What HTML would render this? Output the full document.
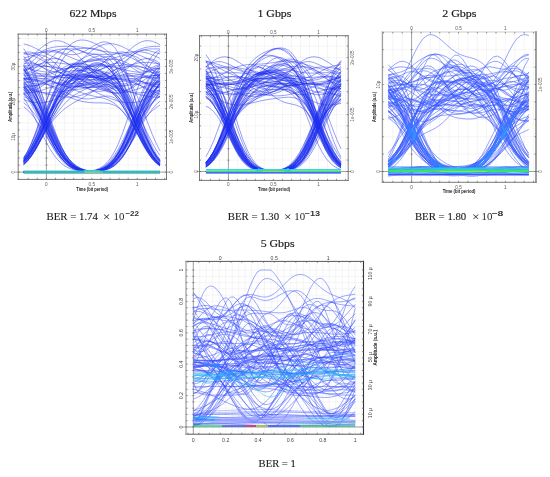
<!DOCTYPE html><html><head><meta charset="utf-8"><style>html,body{margin:0;padding:0;background:#fff;width:550px;height:477px;overflow:hidden}svg{display:block}</style></head><body>
<svg width="550" height="477" viewBox="0 0 550 477">
<rect width="550" height="477" fill="#fff"/>
<defs><clipPath id="c1"><rect x="18.7" y="34.6" width="147.3" height="144.3"/></clipPath><clipPath id="c2"><rect x="200" y="36.2" width="147.7" height="143.7"/></clipPath><clipPath id="c3"><rect x="382.8" y="32.5" width="152.7" height="149.3"/></clipPath><clipPath id="c4"><rect x="186.5" y="261.9" width="176.5" height="171.8"/></clipPath></defs>
<path d="M28.2 34.1V179.4M37.3 34.1V179.4M46.4 34.1V179.4M55.5 34.1V179.4M64.6 34.1V179.4M73.7 34.1V179.4M82.8 34.1V179.4M91.8 34.1V179.4M100.9 34.1V179.4M110 34.1V179.4M119.1 34.1V179.4M128.2 34.1V179.4M137.3 34.1V179.4M146.4 34.1V179.4M155.5 34.1V179.4M164.6 34.1V179.4M18.2 172.1H166.5M18.2 165.1H166.5M18.2 158H166.5M18.2 151H166.5M18.2 143.9H166.5M18.2 136.9H166.5M18.2 129.9H166.5M18.2 122.8H166.5M18.2 115.8H166.5M18.2 108.7H166.5M18.2 101.7H166.5M18.2 94.7H166.5M18.2 87.6H166.5M18.2 80.6H166.5M18.2 73.5H166.5M18.2 66.5H166.5M18.2 59.5H166.5M18.2 52.4H166.5M18.2 45.4H166.5M18.2 38.3H166.5" stroke="#efefef" stroke-width="0.6" fill="none"/>
<path d="M18.2 34.1H166.5" stroke="#555" stroke-width="0.8" stroke-linecap="square"/>
<path d="M18.2 179.4H166.5" stroke="#555" stroke-width="0.8" stroke-linecap="square"/>
<path d="M18.2 34.1V179.4" stroke="#555" stroke-width="0.8" stroke-linecap="square"/>
<path d="M166.5 34.1V179.4" stroke="#555" stroke-width="0.8" stroke-linecap="square"/>
<path d="M46.4 31.1V179.4" stroke="#666" stroke-width="0.6"/>
<path d="M15.2 172.1H169.5" stroke="#666" stroke-width="0.6"/>
<path d="M28.2 34.1v1.5M28.2 179.4v-1.5M37.3 34.1v1.5M37.3 179.4v-1.5M46.4 34.1v1.5M46.4 179.4v-1.5M55.5 34.1v1.5M55.5 179.4v-1.5M64.6 34.1v1.5M64.6 179.4v-1.5M73.7 34.1v1.5M73.7 179.4v-1.5M82.8 34.1v1.5M82.8 179.4v-1.5M91.8 34.1v1.5M91.8 179.4v-1.5M100.9 34.1v1.5M100.9 179.4v-1.5M110 34.1v1.5M110 179.4v-1.5M119.1 34.1v1.5M119.1 179.4v-1.5M128.2 34.1v1.5M128.2 179.4v-1.5M137.3 34.1v1.5M137.3 179.4v-1.5M146.4 34.1v1.5M146.4 179.4v-1.5M155.5 34.1v1.5M155.5 179.4v-1.5M164.6 34.1v1.5M164.6 179.4v-1.5M18.2 172.1h1.5M166.5 172.1h-1.5M45.4 172.1h2M18.2 165.1h1.5M166.5 165.1h-1.5M45.4 165.1h2M18.2 158h1.5M166.5 158h-1.5M45.4 158h2M18.2 151h1.5M166.5 151h-1.5M45.4 151h2M18.2 143.9h1.5M166.5 143.9h-1.5M45.4 143.9h2M18.2 136.9h1.5M166.5 136.9h-1.5M45.4 136.9h2M18.2 129.9h1.5M166.5 129.9h-1.5M45.4 129.9h2M18.2 122.8h1.5M166.5 122.8h-1.5M45.4 122.8h2M18.2 115.8h1.5M166.5 115.8h-1.5M45.4 115.8h2M18.2 108.7h1.5M166.5 108.7h-1.5M45.4 108.7h2M18.2 101.7h1.5M166.5 101.7h-1.5M45.4 101.7h2M18.2 94.7h1.5M166.5 94.7h-1.5M45.4 94.7h2M18.2 87.6h1.5M166.5 87.6h-1.5M45.4 87.6h2M18.2 80.6h1.5M166.5 80.6h-1.5M45.4 80.6h2M18.2 73.5h1.5M166.5 73.5h-1.5M45.4 73.5h2M18.2 66.5h1.5M166.5 66.5h-1.5M45.4 66.5h2M18.2 59.5h1.5M166.5 59.5h-1.5M45.4 59.5h2M18.2 52.4h1.5M166.5 52.4h-1.5M45.4 52.4h2M18.2 45.4h1.5M166.5 45.4h-1.5M45.4 45.4h2M18.2 38.3h1.5M166.5 38.3h-1.5M45.4 38.3h2" stroke="#555" stroke-width="0.6"/>
<g clip-path="url(#c1)">
<g fill="none" stroke="#1f30f0" stroke-width="0.55" stroke-opacity="0.85">
<path d="M23.7 73.2l3.8 .2 3.7-.5 3.8-1.3 3.8-2.2 3.8-3 3.8-3.5 3.8-3.9 3.8-3.8 3.8-3.2 3.8-2.2 3.7-.9 3.8 .6 3.8 1.9 3.8 3.1 3.8 3.7 3.8 4 3.8 3.8 3.7 3.4 3.8 2.8 3.8 2.2 3.8 1.6 3.8 1.2 3.8 .8 3.8 .7 3.8 .7 3.8 .7 3.7 .9 3.8 .9 3.8 1.1 3.8 1.3 3.8 1.4 3.8 1.6 3.8 1.8 3.7 1.8 3.8 1.8 3.8 1.8"/>
<path d="M23.7 78.6l3.8 .6 3.7 .7 3.8 .8 3.8 1 3.8 1 3.8 1.3 3.8 1.4 3.8 1.5 3.8 1.7 3.8 1.8 3.7 1.9 3.8 1.8 3.8 1.6 3.8 1.4 3.8 1.1 3.8 .6 3.8 .1 3.7-.3 3.8-.6 3.8-.9 3.8-.8 3.8-.3 3.8 .4 3.8 1.5 3.8 3 3.8 4.5 3.7 5.9 3.8 7.1 3.8 7.7 3.8 7.8 3.8 7.5 3.8 6.7 3.8 5.9 3.7 4.8 3.8 3.8 3.8 2.9"/>
<path d="M23.7 96.6l3.8 1.9 3.7 3.4 3.8 4.9 3.8 6.2 3.8 7.3 3.8 7.7 3.8 7.8 3.8 7.3 3.8 6.6 3.8 5.6 3.7 4.5 3.8 3.6 3.8 2.8 3.8 2 3.8 1.4 3.8 1 3.8 .6 3.7 .4 3.8 .2 3.8 .2 3.8 0 3.8 .1 3.8 0 3.8 0 3.8 0 3.8 0 3.7 0 3.8 0 3.8 0 3.8 0 3.8 0 3.8 0 3.8 0 3.7 0 3.8 0 3.8 0"/>
<path d="M23.7 172.1l3.8 0 3.7 0 3.8 0 3.8 0 3.8 0 3.8 0 3.8 0 3.8 0 3.8 0 3.8 0 3.7 0 3.8 0 3.8 0 3.8 0 3.8-.1 3.8-.1 3.8-.1 3.7-.3 3.8-.5 3.8-.8 3.8-1.3 3.8-1.8 3.8-2.6 3.8-3.5 3.8-4.5 3.8-5.5 3.7-6.5 3.8-7.6 3.8-8.4 3.8-9.1 3.8-9.3 3.8-9.2 3.8-8.6 3.7-7.6 3.8-6.3 3.8-4.8"/>
<path d="M23.7 162l3.8-4.2 3.7-5.3 3.8-6.3 3.8-7.3 3.8-8.3 3.8-8.9 3.8-9.3 3.8-9.2 3.8-8.8 3.8-7.9 3.7-6.7 3.8-5.1 3.8-3.7 3.8-2.1 3.8-1 3.8-.1 3.8 .5 3.7 .7 3.8 .8 3.8 .8 3.8 .9 3.8 1.2 3.8 1.7 3.8 2.8 3.8 4 3.8 5.6 3.7 7.2 3.8 8.6 3.8 9.4 3.8 9.8 3.8 9.6 3.8 8.7 3.8 7.7 3.7 6.3 3.8 5.1 3.8 4"/>
<path d="M23.7 78l3.8 4.5 3.7 6 3.8 7.5 3.8 8.9 3.8 9.6 3.8 9.8 3.8 9.3 3.8 8.5 3.8 7.4 3.8 6 3.7 4.8 3.8 3.7 3.8 2.7 3.8 1.9 3.8 1.3 3.8 .8 3.8 .4 3.7 0 3.8-.4 3.8-.8 3.8-1.4 3.8-2.2 3.8-3.3 3.8-4.4 3.8-5.7 3.8-7.1 3.7-8.2 3.8-9.1 3.8-9.4 3.8-9.3 3.8-8.6 3.8-7.8 3.8-6.8 3.7-5.8 3.8-5.1 3.8-4.6"/>
<path d="M23.7 159.9l3.8-5.4 3.7-6.8 3.8-8 3.8-8.9 3.8-9.4 3.8-9.3 3.8-8.9 3.8-8 3.8-7 3.8-6.1 3.7-5.2 3.8-4.7 3.8-4.2 3.8-3.9 3.8-3.7 3.8-3.5 3.8-3.3 3.7-2.9 3.8-2.6 3.8-2 3.8-1.5 3.8-.8 3.8-.2 3.8 .5 3.8 1.1 3.8 1.5 3.7 1.8 3.8 1.9 3.8 2 3.8 1.8 3.8 1.7 3.8 1.6 3.8 1.7 3.7 1.7 3.8 1.9 3.8 2.1"/>
<path d="M23.7 43.9l3.8 1 3.7 1.4 3.8 1.7 3.8 2 3.8 1.9 3.8 1.8 3.8 1.8 3.8 1.6 3.8 1.7 3.8 1.7 3.7 1.9 3.8 2 3.8 2.1 3.8 2 3.8 1.8 3.8 1.2 3.8 .7 3.7 0 3.8-.8 3.8-1.4 3.8-1.8 3.8-1.9 3.8-1.7 3.8-1.2 3.8-.5 3.8 .4 3.7 1.2 3.8 1.8 3.8 2.3 3.8 2.5 3.8 2.3 3.8 2 3.8 1.5 3.7 .8 3.8 0 3.8-.6"/>
<path d="M23.7 63.9l3.8-.9 3.7 0 3.8 .8 3.8 1.5 3.8 2.1 3.8 2.5 3.8 2.4 3.8 2.2 3.8 1.7 3.8 1.2 3.7 .4 3.8-.3 3.8-1 3.8-1.5 3.8-2 3.8-2.2 3.8-2.2 3.7-1.9 3.8-1.4 3.8-.4 3.8 .6 3.8 1.8 3.8 3.2 3.8 4.5 3.8 5.7 3.8 6.7 3.7 7.6 3.8 8.1 3.8 8.4 3.8 8.5 3.8 8.3 3.8 7.9 3.8 7.3 3.7 6.5 3.8 5.6 3.8 4.6"/>
<path d="M23.7 73.8l3.8 5.4 3.7 6.5 3.8 7.3 3.8 8 3.8 8.4 3.8 8.5 3.8 8.4 3.8 8 3.8 7.4 3.8 6.8 3.7 5.8 3.8 4.9 3.8 3.9 3.8 2.9 3.8 2.2 3.8 1.5 3.8 1 3.7 .6 3.8 .4 3.8 .2 3.8 .1 3.8 .1 3.8 0 3.8 0 3.8 0 3.8 0 3.7 0 3.8 0 3.8 0 3.8 0 3.8 0 3.8 0 3.8 0 3.7 0 3.8 0 3.8 0"/>
<path d="M23.7 172.1l3.8 0 3.7 0 3.8 0 3.8 0 3.8 0 3.8 0 3.8 0 3.8 0 3.8 0 3.8 0 3.7 0 3.8 0 3.8 0 3.8 0 3.8 0 3.8-.1 3.8 0 3.7-.1 3.8-.3 3.8-.4 3.8-.7 3.8-1 3.8-1.7 3.8-2.4 3.8-3.4 3.8-4.6 3.7-5.7 3.8-7 3.8-8 3.8-8.8 3.8-9.1 3.8-8.9 3.8-8.4 3.7-7.4 3.8-6.3 3.8-5"/>
<path d="M23.7 163.8l3.8-3.9 3.7-5.2 3.8-6.4 3.8-7.5 3.8-8.5 3.8-8.9 3.8-9.1 3.8-8.7 3.8-7.9 3.8-6.9 3.7-5.6 3.8-4.4 3.8-3 3.8-1.9 3.8-.9 3.8-.2 3.8 .2 3.7 .6 3.8 .6 3.8 .5 3.8 .3 3.8 0 3.8-.5 3.8-1 3.8-1.6 3.8-2.1 3.7-2.5 3.8-2.7 3.8-2.7 3.8-2.4 3.8-1.9 3.8-1 3.8-.2 3.7 .9 3.8 1.7 3.8 2.3"/>
<path d="M23.7 74.8l3.8-1.9 3.7-2.3 3.8-2.6 3.8-2.7 3.8-2.6 3.8-2.2 3.8-1.5 3.8-.6 3.8 .3 3.8 1.3 3.7 2 3.8 2.6 3.8 2.7 3.8 2.7 3.8 2.4 3.8 1.8 3.8 1.3 3.7 .6 3.8-.1 3.8-.6 3.8-1.1 3.8-1.3 3.8-1.5 3.8-1.5 3.8-1.3 3.8-1.1 3.7-.7 3.8-.4 3.8-.1 3.8 .2 3.8 .5 3.8 .7 3.8 1 3.7 1.3 3.8 1.5 3.8 1.8"/>
<path d="M23.7 70.7l3.8-1.4 3.7-1.2 3.8-.9 3.8-.6 3.8-.2 3.8 0 3.8 .4 3.8 .6 3.8 .9 3.8 1.1 3.7 1.4 3.8 1.7 3.8 1.9 3.8 2.1 3.8 2.2 3.8 2.3 3.8 2.2 3.7 2.1 3.8 1.9 3.8 1.7 3.8 1.5 3.8 1.1 3.8 .9 3.8 .5 3.8 .2 3.8-.3 3.7-.5 3.8-.9 3.8-1.1 3.8-1.2 3.8-1.3 3.8-1.2 3.8-1.1 3.7-.8 3.8-.6 3.8-.4"/>
<path d="M23.7 93l3.8 0 3.7-.3 3.8-.6 3.8-.9 3.8-1.2 3.8-1.3 3.8-1.2 3.8-1.2 3.8-1 3.8-.8 3.7-.5 3.8-.3 3.8-.1 3.8 0 3.8 0 3.8 .1 3.8 0 3.7 .1 3.8 0 3.8 .1 3.8 .3 3.8 .5 3.8 .7 3.8 1 3.8 1.2 3.8 1.3 3.7 1.3 3.8 1.3 3.8 1.3 3.8 1.2 3.8 1 3.8 .8 3.8 .7 3.7 .5 3.8 .2 3.8 0"/>
<path d="M23.7 86.1l3.8 1.2 3.7 1.2 3.8 1.4 3.8 1.3 3.8 1.3 3.8 1.2 3.8 1 3.8 .9 3.8 .7 3.8 .6 3.7 .3 3.8 0 3.8-.2 3.8-.6 3.8-.9 3.8-1.2 3.8-1.4 3.7-1.5 3.8-1.3 3.8-.9 3.8-.1 3.8 .8 3.8 2 3.8 3.3 3.8 4.5 3.8 5.6 3.7 6.5 3.8 6.9 3.8 7.2 3.8 7.2 3.8 6.9 3.8 6.3 3.8 5.7 3.7 4.9 3.8 4.1 3.8 3.3"/>
<path d="M23.7 93.4l3.8 3.9 3.7 5.1 3.8 6 3.8 6.8 3.8 7.1 3.8 7.3 3.8 7 3.8 6.6 3.8 6 3.8 5.3 3.7 4.5 3.8 3.7 3.8 2.9 3.8 2.2 3.8 1.5 3.8 1.1 3.8 .6 3.7 .3 3.8 0 3.8-.3 3.8-.6 3.8-1.1 3.8-1.8 3.8-2.5 3.8-3.5 3.8-4.4 3.7-5.4 3.8-6.3 3.8-6.9 3.8-7.3 3.8-7.3 3.8-7.2 3.8-6.9 3.7-6.6 3.8-6.2 3.8-6"/>
<path d="M23.7 164.2l3.8-3.7 3.7-4.7 3.8-5.6 3.8-6.5 3.8-7 3.8-7.3 3.8-7.3 3.8-7.1 3.8-6.9 3.8-6.5 3.7-6.1 3.8-5.9 3.8-5.6 3.8-5.3 3.8-4.9 3.8-4.3 3.8-3.4 3.7-2.4 3.8-1.1 3.8 .3 3.8 1.5 3.8 2.8 3.8 3.8 3.8 4.6 3.8 5.3 3.8 6 3.7 6.7 3.8 7.3 3.8 7.9 3.8 8.4 3.8 8.7 3.8 8.5 3.8 8 3.7 7.2 3.8 6.2 3.8 4.9"/>
<path d="M23.7 83.8l3.8 6.4 3.7 7 3.8 7.6 3.8 8.2 3.8 8.6 3.8 8.6 3.8 8.3 3.8 7.7 3.8 6.7 3.8 5.5 3.7 4.3 3.8 3.3 3.8 2.3 3.8 1.5 3.8 1 3.8 .6 3.8 .3 3.7 .2 3.8 .1 3.8 .1 3.8 0 3.8 0 3.8 0 3.8 0 3.8 0 3.8 0 3.7 0 3.8 0 3.8 0 3.8 0 3.8 0 3.8 0 3.8 0 3.7 0 3.8 0 3.8 0"/>
<path d="M23.7 172.1l3.8 0 3.7 0 3.8 0 3.8 0 3.8 0 3.8 0 3.8 0 3.8 0 3.8 0 3.8 0 3.7 0 3.8 0 3.8 0 3.8 0 3.8 0 3.8-.1 3.8-.1 3.7-.2 3.8-.4 3.8-.6 3.8-1.1 3.8-1.6 3.8-2.4 3.8-3.2 3.8-4.3 3.8-5.3 3.7-6.3 3.8-7.1 3.8-7.9 3.8-8.3 3.8-8.2 3.8-8 3.8-7.1 3.7-6.1 3.8-4.8 3.8-3.4"/>
<path d="M23.7 161.4l3.8-4.5 3.7-5.6 3.8-6.5 3.8-7.4 3.8-7.9 3.8-8.3 3.8-8.3 3.8-7.7 3.8-7 3.8-5.7 3.7-4.4 3.8-3.1 3.8-1.9 3.8-1 3.8-.5 3.8-.3 3.8-.4 3.7-.8 3.8-1.4 3.8-1.9 3.8-2.5 3.8-2.9 3.8-3.3 3.8-3.5 3.8-3.8 3.8-3.7 3.7-3.8 3.8-3.5 3.8-3.2 3.8-2.7 3.8-1.9 3.8-1.2 3.8-.1 3.7 .6 3.8 1.5 3.8 1.9"/>
<path d="M23.7 64.6l3.8-3.8 3.7-3.7 3.8-3.8 3.8-3.5 3.8-3.2 3.8-2.7 3.8-1.9 3.8-1.2 3.8-.1 3.8 .6 3.7 1.5 3.8 1.9 3.8 2.1 3.8 2.1 3.8 1.8 3.8 1.4 3.8 1.1 3.7 .6 3.8 .4 3.8 .1 3.8 .1 3.8-.1 3.8-.1 3.8-.2 3.8-.3 3.8-.5 3.7-.5 3.8-.5 3.8-.4 3.8-.2 3.8 .2 3.8 .7 3.8 1 3.7 1.5 3.8 1.6 3.8 1.7"/>
<path d="M23.7 54.2l3.8-.2 3.7-.3 3.8-.5 3.8-.5 3.8-.5 3.8-.4 3.8-.2 3.8 .2 3.8 .7 3.8 1 3.7 1.5 3.8 1.6 3.8 1.7 3.8 1.5 3.8 1.2 3.8 .7 3.8 .1 3.7-.4 3.8-1 3.8-1.3 3.8-1.4 3.8-1.1 3.8-.3 3.8 1.1 3.8 2.9 3.8 5.1 3.7 7.5 3.8 9.6 3.8 11.2 3.8 11.9 3.8 11.9 3.8 11.3 3.8 9.9 3.7 8.5 3.8 6.8 3.8 5.4"/>
<path d="M23.7 59.4l3.8 4.5 3.7 6.9 3.8 9.1 3.8 10.9 3.8 11.8 3.8 12 3.8 11.5 3.8 10.3 3.8 8.8 3.8 7.3 3.7 5.7 3.8 4.3 3.8 3.2 3.8 2.3 3.8 1.5 3.8 1 3.8 .7 3.7 .4 3.8 .2 3.8 .2 3.8 0 3.8 .1 3.8 0 3.8 0 3.8 0 3.8 0 3.7 0 3.8 0 3.8 0 3.8 0 3.8 0 3.8 0 3.8 0 3.7 0 3.8 0 3.8 0"/>
<path d="M23.7 172.1l3.8 0 3.7 0 3.8 0 3.8 0 3.8 0 3.8 0 3.8 0 3.8 0 3.8 0 3.8 0 3.7 0 3.8 0 3.8 0 3.8 0 3.8-.1 3.8 0 3.8-.2 3.7-.2 3.8-.5 3.8-.8 3.8-1.2 3.8-1.9 3.8-2.8 3.8-3.9 3.8-5.1 3.8-6.5 3.7-7.8 3.8-9 3.8-9.8 3.8-10 3.8-9.9 3.8-9.1 3.8-7.9 3.7-6.7 3.8-5.4 3.8-4.3"/>
<path d="M23.7 159.4l3.8-5.5 3.7-6.9 3.8-8.1 3.8-9.2 3.8-9.9 3.8-10 3.8-9.7 3.8-8.9 3.8-7.6 3.8-6.4 3.7-5.1 3.8-4 3.8-3.3 3.8-2.7 3.8-2.4 3.8-2 3.8-1.8 3.7-1.2 3.8-.4 3.8 .9 3.8 2.2 3.8 4 3.8 5.5 3.8 6.9 3.8 8.1 3.8 8.7 3.7 9.2 3.8 9.2 3.8 9.1 3.8 8.8 3.8 8.3 3.8 7.7 3.8 6.9 3.7 5.9 3.8 4.8 3.8 3.8"/>
<path d="M23.7 68.5l3.8 7.2 3.7 8.3 3.8 8.9 3.8 9.2 3.8 9.2 3.8 9 3.8 8.7 3.8 8.2 3.8 7.5 3.8 6.7 3.7 5.6 3.8 4.5 3.8 3.6 3.8 2.5 3.8 1.8 3.8 1.1 3.8 .7 3.7 .4 3.8 .3 3.8 .1 3.8 0 3.8 .1 3.8 0 3.8 0 3.8 0 3.8 0 3.7 0 3.8 0 3.8 0 3.8 0 3.8 0 3.8 0 3.8 0 3.7 0 3.8 0 3.8 0"/>
<path d="M23.7 172.1l3.8 0 3.7 0 3.8 0 3.8 0 3.8 0 3.8 0 3.8 0 3.8 0 3.8 0 3.8 0 3.7 0 3.8 0 3.8 0 3.8 0 3.8-.1 3.8-.1 3.8-.2 3.7-.3 3.8-.6 3.8-1 3.8-1.5 3.8-2.3 3.8-3.2 3.8-4.5 3.8-5.6 3.8-6.7 3.7-7.4 3.8-7.7 3.8-7.5 3.8-6.8 3.8-5.9 3.8-5 3.8-4.2 3.7-3.7 3.8-3.4 3.8-3.3"/>
<path d="M23.7 160.7l3.8-5 3.7-6.2 3.8-7.2 3.8-7.6 3.8-7.6 3.8-7.2 3.8-6.4 3.8-5.4 3.8-4.6 3.8-3.9 3.7-3.5 3.8-3.4 3.8-3.3 3.8-3.5 3.8-3.5 3.8-3.7 3.8-3.8 3.7-3.6 3.8-3.5 3.8-3 3.8-2.5 3.8-1.8 3.8-1 3.8-.3 3.8 .5 3.8 1.1 3.7 1.6 3.8 1.9 3.8 2 3.8 2 3.8 1.7 3.8 1.3 3.8 .9 3.7 .2 3.8-.1 3.8-.6"/>
<path d="M23.7 59.4l3.8 .8 3.7 1.3 3.8 1.8 3.8 2 3.8 2 3.8 1.9 3.8 1.5 3.8 1.1 3.8 .6 3.8 0 3.7-.4 3.8-.6 3.8-.7 3.8-.4 3.8 .1 3.8 .8 3.8 1.6 3.7 2.2 3.8 2.7 3.8 3.1 3.8 3.3 3.8 3.5 3.8 3.7 3.8 4 3.8 4.6 3.8 5.2 3.7 6 3.8 6.8 3.8 7.3 3.8 7.5 3.8 7.3 3.8 6.9 3.8 6 3.7 5.1 3.8 4.1 3.8 3.2"/>
<path d="M23.7 92.3l3.8 4.1 3.7 4.7 3.8 5.5 3.8 6.2 3.8 6.9 3.8 7.4 3.8 7.5 3.8 7.2 3.8 6.7 3.8 5.8 3.7 4.9 3.8 3.8 3.8 3 3.8 2.1 3.8 1.5 3.8 .9 3.8 .5 3.7 .1 3.8-.2 3.8-.6 3.8-1.1 3.8-1.7 3.8-2.5 3.8-3.3 3.8-4.2 3.8-5.1 3.7-5.7 3.8-6.1 3.8-6.1 3.8-6 3.8-5.4 3.8-4.8 3.8-4.2 3.7-3.5 3.8-3 3.8-2.6"/>
<path d="M23.7 162.6l3.8-4 3.7-4.8 3.8-5.6 3.8-6 3.8-6.2 3.8-6 3.8-5.6 3.8-5 3.8-4.3 3.8-3.7 3.7-3.1 3.8-2.7 3.8-2.3 3.8-2.2 3.8-2.1 3.8-2.2 3.8-2.3 3.7-2.3 3.8-2.5 3.8-2.5 3.8-2.5 3.8-2.5 3.8-2.2 3.8-2 3.8-1.7 3.8-1.3 3.7-.9 3.8-.4 3.8 0 3.8 .5 3.8 .9 3.8 1.2 3.8 1.5 3.7 1.6 3.8 1.5 3.8 1.4"/>
<path d="M23.7 77.1l3.8-1.5 3.7-1.1 3.8-.7 3.8-.2 3.8 .3 3.8 .7 3.8 1.1 3.8 1.3 3.8 1.6 3.8 1.5 3.7 1.5 3.8 1.3 3.8 1 3.8 .8 3.8 .5 3.8 .4 3.8 .3 3.7 .2 3.8 .2 3.8 .2 3.8 .2 3.8 .1 3.8 .1 3.8-.1 3.8-.2 3.8-.4 3.7-.4 3.8-.6 3.8-.5 3.8-.5 3.8-.3 3.8-.2 3.8 0 3.7 .2 3.8 .5 3.8 .6"/>
<path d="M23.7 86.8l3.8-.2 3.7-.4 3.8-.4 3.8-.6 3.8-.5 3.8-.5 3.8-.3 3.8-.2 3.8 0 3.8 .2 3.7 .5 3.8 .6 3.8 .7 3.8 .6 3.8 .5 3.8 .4 3.8 .2 3.7-.1 3.8-.3 3.8-.6 3.8-.7 3.8-.9 3.8-.9 3.8-1 3.8-.9 3.8-.7 3.7-.4 3.8-.2 3.8 .2 3.8 .4 3.8 .5 3.8 .6 3.8 .3 3.7 .1 3.8-.3 3.8-.7"/>
<path d="M23.7 82.9l3.8-.9 3.7-.7 3.8-.4 3.8-.2 3.8 .2 3.8 .4 3.8 .5 3.8 .6 3.8 .3 3.8 .1 3.7-.3 3.8-.7 3.8-1.1 3.8-1.3 3.8-1.3 3.8-1.1 3.8-.6 3.7 0 3.8 .6 3.8 1.4 3.8 1.9 3.8 2.5 3.8 3.1 3.8 3.6 3.8 4.4 3.8 5.2 3.7 6.1 3.8 6.9 3.8 7.6 3.8 7.9 3.8 7.9 3.8 7.4 3.8 6.8 3.7 5.8 3.8 4.7 3.8 3.8"/>
<path d="M23.7 89.5l3.8 4.4 3.7 5.2 3.8 6.1 3.8 6.9 3.8 7.6 3.8 7.9 3.8 7.9 3.8 7.4 3.8 6.8 3.8 5.8 3.7 4.7 3.8 3.8 3.8 2.8 3.8 2 3.8 1.3 3.8 .7 3.8 .4 3.7 0 3.8-.3 3.8-.7 3.8-1.1 3.8-1.8 3.8-2.5 3.8-3.4 3.8-4.5 3.8-5.7 3.7-7 3.8-8.1 3.8-9 3.8-9.4 3.8-9.2 3.8-8.4 3.8-7.2 3.7-5.6 3.8-3.9 3.8-2.4"/>
<path d="M23.7 159.3l3.8-5.1 3.7-6.4 3.8-7.5 3.8-8.6 3.8-9.3 3.8-9.4 3.8-8.9 3.8-7.8 3.8-6.4 3.8-4.7 3.7-3.1 3.8-1.8 3.8-.7 3.8-.1 3.8 .1 3.8 .3 3.8 .1 3.7 0 3.8-.1 3.8 0 3.8 .3 3.8 .9 3.8 1.7 3.8 2.9 3.8 4.2 3.8 5.8 3.7 7.1 3.8 8.2 3.8 8.8 3.8 9 3.8 8.5 3.8 7.7 3.8 6.6 3.7 5.6 3.8 4.4 3.8 3.4"/>
<path d="M23.7 83.4l3.8 3.2 3.7 4.6 3.8 6.2 3.8 7.4 3.8 8.4 3.8 8.9 3.8 8.8 3.8 8.4 3.8 7.4 3.8 6.4 3.7 5.3 3.8 4.2 3.8 3.1 3.8 2.3 3.8 1.6 3.8 1 3.8 .7 3.7 .4 3.8 .2 3.8 .1 3.8 .1 3.8 0 3.8 0 3.8 0 3.8 0 3.8 0 3.7 0 3.8 0 3.8 0 3.8 0 3.8 0 3.8 0 3.8 0 3.7 0 3.8 0 3.8 0"/>
<path d="M23.7 172.1l3.8 0 3.7 0 3.8 0 3.8 0 3.8 0 3.8 0 3.8 0 3.8 0 3.8 0 3.8 0 3.7 0 3.8 0 3.8 0 3.8 0 3.8-.1 3.8 0 3.8-.2 3.7-.3 3.8-.4 3.8-.8 3.8-1.2 3.8-1.8 3.8-2.5 3.8-3.4 3.8-4.4 3.8-5.5 3.7-6.6 3.8-7.8 3.8-9 3.8-9.8 3.8-10.4 3.8-10.4 3.8-9.8 3.7-8.6 3.8-6.9 3.8-4.7"/>
<path d="M23.7 160.4l3.8-4.7 3.7-5.7 3.8-6.9 3.8-8.2 3.8-9.2 3.8-10 3.8-10.4 3.8-10.3 3.8-9.6 3.8-8.2 3.7-6.4 3.8-4.2 3.8-2 3.8-.1 3.8 1.7 3.8 2.9 3.8 3.6 3.7 4 3.8 3.8 3.8 3.5 3.8 3.1 3.8 2.6 3.8 2.3 3.8 2.5 3.8 2.8 3.8 3.8 3.7 4.9 3.8 6.2 3.8 7.3 3.8 8.1 3.8 8.2 3.8 7.8 3.8 7 3.7 5.9 3.8 4.7 3.8 3.6"/>
<path d="M23.7 93.8l3.8 2.7 3.7 3.5 3.8 4.7 3.8 5.9 3.8 7 3.8 7.9 3.8 8.3 3.8 8 3.8 7.2 3.8 6.2 3.7 5 3.8 3.8 3.8 2.8 3.8 2 3.8 1.3 3.8 .8 3.8 .6 3.7 .3 3.8 .1 3.8 .1 3.8 .1 3.8 0 3.8 0 3.8 0 3.8 0 3.8 0 3.7 0 3.8 0 3.8 0 3.8 0 3.8 0 3.8 0 3.8 0 3.7 0 3.8 0 3.8 0"/>
<path d="M23.7 172.1l3.8 0 3.7 0 3.8 0 3.8 0 3.8 0 3.8 0 3.8 0 3.8 0 3.8 0 3.8 0 3.7 0 3.8 0 3.8 0 3.8 0 3.8 0 3.8-.1 3.8-.1 3.7-.2 3.8-.3 3.8-.6 3.8-1.1 3.8-1.6 3.8-2.5 3.8-3.4 3.8-4.6 3.8-5.7 3.7-6.7 3.8-7.3 3.8-7.4 3.8-7.2 3.8-6.6 3.8-5.7 3.8-4.9 3.7-4 3.8-3.3 3.8-3"/>
<path d="M23.7 158.8l3.8-5.4 3.7-6.5 3.8-7.1 3.8-7.5 3.8-7.3 3.8-6.7 3.8-6 3.8-5 3.8-4.2 3.8-3.6 3.7-3 3.8-2.7 3.8-2.8 3.8-2.8 3.8-3 3.8-3.4 3.8-3.6 3.7-3.8 3.8-3.9 3.8-4 3.8-3.8 3.8-3.5 3.8-3.1 3.8-2.3 3.8-1.5 3.8-.4 3.7 .6 3.8 1.7 3.8 2.6 3.8 3.2 3.8 3.5 3.8 3.5 3.8 3.1 3.7 2.5 3.8 1.7 3.8 .8"/>
<path d="M23.7 52.9l3.8-.9 3.7 .1 3.8 1.1 3.8 2.2 3.8 2.9 3.8 3.5 3.8 3.5 3.8 3.3 3.8 2.9 3.8 2.1 3.7 1.2 3.8 .4 3.8-.6 3.8-1.3 3.8-1.9 3.8-2.3 3.8-2.4 3.7-1.9 3.8-1.3 3.8-.3 3.8 1.1 3.8 2.5 3.8 4.1 3.8 5.6 3.8 7 3.8 8.1 3.7 9.1 3.8 9.6 3.8 9.8 3.8 9.6 3.8 8.9 3.8 8 3.8 6.7 3.7 5.5 3.8 4.2 3.8 3"/>
<path d="M23.7 68.7l3.8 4.8 3.7 6.3 3.8 7.6 3.8 8.7 3.8 9.4 3.8 9.7 3.8 9.8 3.8 9.3 3.8 8.5 3.8 7.3 3.7 6.1 3.8 4.8 3.8 3.6 3.8 2.6 3.8 1.8 3.8 1.2 3.8 .7 3.7 .3 3.8 0 3.8-.4 3.8-.8 3.8-1.4 3.8-2 3.8-3 3.8-4.1 3.8-5.2 3.7-6.3 3.8-7.5 3.8-8.3 3.8-9 3.8-9.1 3.8-8.9 3.8-8.1 3.7-6.9 3.8-5.5 3.8-3.9"/>
<path d="M23.7 163.6l3.8-4.1 3.7-5.2 3.8-6.3 3.8-7.5 3.8-8.3 3.8-9 3.8-9.1 3.8-8.9 3.8-8.1 3.8-6.9 3.7-5.5 3.8-3.9 3.8-2.4 3.8-1.3 3.8-.3 3.8 .1 3.8 .4 3.7 .3 3.8 0 3.8-.4 3.8-.9 3.8-1.5 3.8-2 3.8-2.6 3.8-3 3.8-3.3 3.7-3.4 3.8-3.2 3.8-2.8 3.8-2.3 3.8-1.7 3.8-1 3.8-.5 3.7-.1 3.8 0 3.8 0"/>
<path d="M23.7 72.8l3.8-2.6 3.7-3 3.8-3.3 3.8-3.4 3.8-3.2 3.8-2.8 3.8-2.3 3.8-1.7 3.8-1 3.8-.5 3.7-.1 3.8 0 3.8 0 3.8-.1 3.8-.3 3.8-.2 3.8-.2 3.7 .2 3.8 .5 3.8 1.1 3.8 1.7 3.8 2.3 3.8 2.9 3.8 3.4 3.8 4 3.8 4.7 3.7 5.4 3.8 6.4 3.8 7.4 3.8 8.3 3.8 9.2 3.8 9.7 3.8 9.9 3.7 9.5 3.8 8.7 3.8 7.5"/>
<path d="M23.7 66.4l3.8 5.1 3.7 5.9 3.8 6.9 3.8 7.8 3.8 8.8 3.8 9.5 3.8 9.9 3.8 9.7 3.8 9.2 3.8 8.1 3.7 6.9 3.8 5.5 3.8 4.2 3.8 2.9 3.8 2 3.8 1.3 3.8 .7 3.7 .3 3.8-.2 3.8-.5 3.8-1.1 3.8-1.7 3.8-2.5 3.8-3.4 3.8-4.3 3.8-5.3 3.7-6 3.8-6.5 3.8-7 3.8-7.2 3.8-7.3 3.8-7.3 3.8-7.3 3.7-7 3.8-6.8 3.8-6.2"/>
<path d="M23.7 161.7l3.8-4.3 3.7-5.3 3.8-6 3.8-6.5 3.8-7 3.8-7.2 3.8-7.3 3.8-7.3 3.8-7.3 3.8-7 3.7-6.8 3.8-6.2 3.8-5.5 3.8-4.6 3.8-3.5 3.8-2.5 3.8-1.6 3.7-.7 3.8-.2 3.8 .2 3.8 .5 3.8 .6 3.8 .7 3.8 .7 3.8 .8 3.8 .8 3.7 .9 3.8 .8 3.8 .7 3.8 .5 3.8 .1 3.8-.3 3.8-.7 3.7-1.1 3.8-1.2 3.8-1.2"/>
<path d="M23.7 67.6l3.8 .8 3.7 .8 3.8 .9 3.8 .8 3.8 .7 3.8 .5 3.8 .1 3.8-.3 3.8-.7 3.8-1.1 3.7-1.2 3.8-1.2 3.8-1 3.8-.4 3.8 .2 3.8 .9 3.8 1.7 3.7 2.2 3.8 2.6 3.8 2.7 3.8 2.7 3.8 2.4 3.8 2 3.8 1.4 3.8 .7 3.8 0 3.7-.7 3.8-1.3 3.8-1.7 3.8-2.1 3.8-2 3.8-1.6 3.8-1.1 3.7-.2 3.8 .6 3.8 1.6"/>
<path d="M23.7 84.1l3.8 1.2 3.7 .6 3.8-.2 3.8-.8 3.8-1.5 3.8-1.8 3.8-2.1 3.8-1.9 3.8-1.6 3.8-.8 3.7-.1 3.8 .9 3.8 1.8 3.8 2.4 3.8 2.8 3.8 2.7 3.8 2.5 3.7 1.9 3.8 1.1 3.8 .2 3.8-.4 3.8-1.1 3.8-1.2 3.8-.8 3.8 .1 3.8 1.6 3.7 3.6 3.8 5.7 3.8 7.5 3.8 8.8 3.8 9.4 3.8 9.2 3.8 8.4 3.7 7.4 3.8 6 3.8 4.8"/>
<path d="M23.7 88l3.8 1.6 3.7 3.6 3.8 5.7 3.8 7.5 3.8 8.8 3.8 9.4 3.8 9.2 3.8 8.4 3.8 7.4 3.8 6 3.7 4.8 3.8 3.7 3.8 2.7 3.8 1.9 3.8 1.3 3.8 .8 3.8 .4 3.7 0 3.8-.2 3.8-.6 3.8-1.1 3.8-1.7 3.8-2.4 3.8-3.4 3.8-4.4 3.8-5.5 3.7-6.6 3.8-7.4 3.8-8 3.8-8.2 3.8-8 3.8-7.6 3.8-6.8 3.7-5.9 3.8-5 3.8-4.1"/>
<path d="M23.7 164.4l3.8-3.6 3.7-4.7 3.8-5.8 3.8-6.8 3.8-7.6 3.8-8 3.8-8.2 3.8-8 3.8-7.3 3.8-6.6 3.7-5.7 3.8-4.8 3.8-3.9 3.8-3.1 3.8-2.3 3.8-1.6 3.8-.9 3.7-.4 3.8 .2 3.8 .7 3.8 1.2 3.8 1.8 3.8 2.3 3.8 3 3.8 3.8 3.8 4.7 3.7 5.5 3.8 6.5 3.8 7.3 3.8 7.8 3.8 8.1 3.8 8 3.8 7.6 3.7 6.8 3.8 5.8 3.8 4.7"/>
<path d="M23.7 89.2l3.8 4.9 3.7 5.8 3.8 6.7 3.8 7.4 3.8 8 3.8 8.1 3.8 7.9 3.8 7.4 3.8 6.5 3.8 5.5 3.7 4.5 3.8 3.3 3.8 2.5 3.8 1.6 3.8 1.1 3.8 .6 3.8 .3 3.7 0 3.8-.2 3.8-.7 3.8-1 3.8-1.7 3.8-2.5 3.8-3.5 3.8-4.5 3.8-5.7 3.7-6.7 3.8-7.6 3.8-8.1 3.8-8.1 3.8-7.7 3.8-7 3.8-6 3.7-4.9 3.8-3.7 3.8-2.7"/>
<path d="M23.7 164.4l3.8-3.7 3.7-4.8 3.8-6 3.8-7 3.8-7.7 3.8-8.1 3.8-8.1 3.8-7.5 3.8-6.8 3.8-5.7 3.7-4.6 3.8-3.4 3.8-2.5 3.8-1.7 3.8-1.1 3.8-.6 3.8-.3 3.7 0 3.8 .2 3.8 .5 3.8 .9 3.8 1.4 3.8 2.1 3.8 2.9 3.8 4.1 3.8 5.4 3.7 6.5 3.8 7.6 3.8 8.1 3.8 8.3 3.8 7.8 3.8 7.1 3.8 6.1 3.7 5 3.8 3.9 3.8 2.9"/>
<path d="M23.7 98.1l3.8 5.7 3.7 6.8 3.8 7.8 3.8 8.2 3.8 8.2 3.8 7.7 3.8 6.8 3.8 5.8 3.8 4.7 3.8 3.7 3.7 2.8 3.8 1.9 3.8 1.4 3.8 1 3.8 .5 3.8 .3 3.8 .1 3.7-.2 3.8-.5 3.8-.9 3.8-1.5 3.8-2.3 3.8-3.3 3.8-4.5 3.8-5.8 3.8-6.8 3.7-7.8 3.8-8.3 3.8-8.5 3.8-8.3 3.8-7.8 3.8-7 3.8-6.1 3.7-5.1 3.8-4.2 3.8-3.1"/>
<path d="M23.7 162.8l3.8-4.5 3.7-5.8 3.8-6.8 3.8-7.8 3.8-8.3 3.8-8.5 3.8-8.3 3.8-7.8 3.8-7 3.8-6.1 3.7-5.1 3.8-4.2 3.8-3.1 3.8-2.1 3.8-1.3 3.8-.4 3.8 .3 3.7 .9 3.8 1.3 3.8 1.7 3.8 1.9 3.8 2 3.8 1.9 3.8 1.8 3.8 1.6 3.8 1.4 3.7 1.1 3.8 .7 3.8 .5 3.8 .1 3.8-.2 3.8-.3 3.8-.5 3.7-.6 3.8-.5 3.8-.5"/>
<path d="M23.7 87.1l3.8 1.7 3.7 1.4 3.8 1.1 3.8 .9 3.8 .5 3.8 .2 3.8-.1 3.8-.3 3.8-.5 3.8-.5 3.7-.6 3.8-.5 3.8-.4 3.8-.5 3.8-.5 3.8-.6 3.8-.9 3.7-1.3 3.8-1.5 3.8-1.9 3.8-2.2 3.8-2.3 3.8-2.4 3.8-2.4 3.8-2.3 3.8-2.1 3.7-1.9 3.8-1.6 3.8-1.4 3.8-1 3.8-.6 3.8-.2 3.8 .1 3.7 .4 3.8 .5 3.8 .5"/>
<path d="M23.7 71.2l3.8-2.1 3.7-1.9 3.8-1.6 3.8-1.4 3.8-1 3.8-.6 3.8-.2 3.8 .1 3.8 .4 3.8 .5 3.7 .5 3.8 .3 3.8 0 3.8-.4 3.8-.9 3.8-1.1 3.8-1.2 3.7-1 3.8-.5 3.8 .3 3.8 1.5 3.8 2.9 3.8 4.4 3.8 5.8 3.8 7.1 3.8 8.3 3.7 9.1 3.8 9.6 3.8 9.8 3.8 9.4 3.8 8.9 3.8 8 3.8 6.9 3.7 5.8 3.8 4.6 3.8 3.5"/>
<path d="M23.7 69.5l3.8 6.2 3.7 7.4 3.8 8.5 3.8 9.3 3.8 9.7 3.8 9.7 3.8 9.3 3.8 8.7 3.8 7.7 3.8 6.7 3.7 5.4 3.8 4.3 3.8 3.3 3.8 2.3 3.8 1.6 3.8 1.1 3.8 .6 3.7 .4 3.8 .2 3.8 .1 3.8 .1 3.8 0 3.8 0 3.8 0 3.8 0 3.8 0 3.7 0 3.8 0 3.8 0 3.8 0 3.8 0 3.8 0 3.8 0 3.7 0 3.8 0 3.8 0"/>
<path d="M23.7 172.1l3.8 0 3.7 0 3.8 0 3.8 0 3.8 0 3.8 0 3.8 0 3.8 0 3.8 0 3.8 0 3.7 0 3.8 0 3.8 0 3.8-.1 3.8 0 3.8-.2 3.8-.2 3.7-.5 3.8-.7 3.8-1.2 3.8-1.8 3.8-2.5 3.8-3.5 3.8-4.6 3.8-5.7 3.8-7 3.7-8.1 3.8-9.1 3.8-9.7 3.8-10.1 3.8-9.8 3.8-9.1 3.8-7.9 3.7-6.5 3.8-4.8 3.8-3.2"/>
<path d="M23.7 159.3l3.8-5.2 3.7-6.3 3.8-7.6 3.8-8.6 3.8-9.5 3.8-9.9 3.8-10 3.8-9.5 3.8-8.6 3.8-7.3 3.7-5.6 3.8-4 3.8-2.5 3.8-1.2 3.8-.1 3.8 .5 3.8 1 3.7 1.3 3.8 1.7 3.8 2 3.8 2.5 3.8 3.2 3.8 4 3.8 4.8 3.8 5.7 3.8 6.6 3.7 7.3 3.8 7.8 3.8 8.1 3.8 8.2 3.8 7.9 3.8 7.5 3.8 6.7 3.7 5.8 3.8 4.7 3.8 3.7"/>
<path d="M23.7 87.1l3.8 6.2 3.7 7 3.8 7.5 3.8 8 3.8 8.2 3.8 8.1 3.8 7.7 3.8 7.1 3.8 6.3 3.8 5.3 3.7 4.2 3.8 3.2 3.8 2.2 3.8 1.6 3.8 .9 3.8 .5 3.8 .2 3.7-.1 3.8-.5 3.8-.9 3.8-1.4 3.8-2.1 3.8-3 3.8-4 3.8-5.1 3.8-6.3 3.7-7.2 3.8-8 3.8-8.4 3.8-8.2 3.8-7.8 3.8-6.9 3.8-5.7 3.7-4.3 3.8-3 3.8-1.7"/>
<path d="M23.7 161.4l3.8-4.5 3.7-5.7 3.8-6.8 3.8-7.7 3.8-8.2 3.8-8.3 3.8-8.1 3.8-7.4 3.8-6.3 3.8-5 3.7-3.7 3.8-2.3 3.8-1.2 3.8-.2 3.8 .4 3.8 1.1 3.8 1.3 3.7 1.6 3.8 1.7 3.8 1.7 3.8 1.7 3.8 1.7 3.8 1.5 3.8 1.3 3.8 1.2 3.8 .9 3.7 .5 3.8 .3 3.8-.2 3.8-.7 3.8-1.1 3.8-1.6 3.8-2 3.7-2.4 3.8-2.6 3.8-2.6"/>
<path d="M23.7 99.7l3.8 1.2 3.7 1 3.8 .6 3.8 .3 3.8 0 3.8-.6 3.8-1 3.8-1.4 3.8-2 3.8-2.3 3.7-2.5 3.8-2.7 3.8-2.5 3.8-2.2 3.8-1.8 3.8-1.1 3.8-.6 3.7 0 3.8 .5 3.8 .8 3.8 1 3.8 1.4 3.8 1.9 3.8 2.4 3.8 3.4 3.8 4.4 3.7 5.5 3.8 6.7 3.8 7.6 3.8 8.2 3.8 8.3 3.8 7.9 3.8 7.1 3.7 6.2 3.8 4.9 3.8 3.9"/>
<path d="M23.7 88.2l3.8 2.7 3.7 3.6 3.8 4.6 3.8 5.9 3.8 6.9 3.8 7.8 3.8 8.3 3.8 8.2 3.8 7.7 3.8 7 3.7 5.8 3.8 4.7 3.8 3.6 3.8 2.6 3.8 1.7 3.8 1.2 3.8 .7 3.7 .4 3.8 .3 3.8 .1 3.8 0 3.8 .1 3.8 0 3.8 0 3.8 0 3.8 0 3.7 0 3.8 0 3.8 0 3.8 0 3.8 0 3.8 0 3.8 0 3.7 0 3.8 0 3.8 0"/>
<path d="M23.7 172.1l3.8 0 3.7 0 3.8 0 3.8 0 3.8 0 3.8 0 3.8 0 3.8 0 3.8 0 3.8 0 3.7 0 3.8 0 3.8 0 3.8 0 3.8-.1 3.8 0 3.8-.1 3.7-.3 3.8-.4 3.8-.8 3.8-1.3 3.8-1.9 3.8-2.8 3.8-3.8 3.8-4.8 3.8-5.7 3.7-6.3 3.8-6.8 3.8-6.8 3.8-6.6 3.8-6.1 3.8-5.5 3.8-4.9 3.7-4.2 3.8-3.6 3.8-3"/>
<path d="M23.7 164.4l3.8-3.8 3.7-4.8 3.8-5.7 3.8-6.3 3.8-6.8 3.8-6.8 3.8-6.6 3.8-6.1 3.8-5.5 3.8-4.9 3.7-4.2 3.8-3.6 3.8-3 3.8-2.6 3.8-2.1 3.8-1.9 3.8-1.6 3.7-1.4 3.8-1.5 3.8-1.5 3.8-1.8 3.8-2.3 3.8-2.7 3.8-3.3 3.8-3.8 3.8-4.1 3.7-4.2 3.8-3.9 3.8-3.3 3.8-2.4 3.8-1.4 3.8-.4 3.8 .5 3.7 1 3.8 1.2 3.8 1.1"/>
<path d="M23.7 70.8l3.8-4 3.7-4.2 3.8-4 3.8-3.6 3.8-2.6 3.8-1.7 3.8-.6 3.8 .3 3.8 .9 3.8 1.2 3.7 1.1 3.8 .8 3.8 .3 3.8-.4 3.8-1.1 3.8-1.7 3.8-2.1 3.7-2.3 3.8-2.3 3.8-1.8 3.8-1.1 3.8 .2 3.8 1.7 3.8 3.6 3.8 5.6 3.8 7.8 3.7 9.6 3.8 11.2 3.8 12.3 3.8 12.7 3.8 12.5 3.8 11.6 3.8 10.2 3.7 8.5 3.8 6.8 3.8 5.1"/>
<path d="M23.7 48.6l3.8 6.2 3.7 8.2 3.8 10.1 3.8 11.5 3.8 12.5 3.8 12.7 3.8 12.3 3.8 11.3 3.8 9.8 3.8 8.1 3.7 6.3 3.8 4.8 3.8 3.4 3.8 2.4 3.8 1.5 3.8 1 3.8 .6 3.7 .4 3.8 .2 3.8 .1 3.8 .1 3.8 0 3.8 0 3.8 0 3.8 0 3.8 0 3.7 0 3.8 0 3.8 0 3.8 0 3.8 0 3.8 0 3.8 0 3.7 0 3.8 0 3.8 0"/>
<path d="M23.7 172.1l3.8 0 3.7 0 3.8 0 3.8 0 3.8 0 3.8 0 3.8 0 3.8 0 3.8 0 3.8 0 3.7 0 3.8 0 3.8 0 3.8 0 3.8 0 3.8-.1 3.8-.1 3.7-.2 3.8-.4 3.8-.6 3.8-1 3.8-1.5 3.8-2.2 3.8-3.1 3.8-4 3.8-4.9 3.7-5.7 3.8-6.4 3.8-6.8 3.8-6.9 3.8-6.9 3.8-6.6 3.8-6.2 3.7-5.7 3.8-5.4 3.8-4.8"/>
<path d="M23.7 162.9l3.8-4 3.7-4.9 3.8-5.7 3.8-6.4 3.8-6.8 3.8-6.9 3.8-6.9 3.8-6.6 3.8-6.2 3.8-5.7 3.7-5.4 3.8-4.8 3.8-4.4 3.8-3.9 3.8-3.3 3.8-2.8 3.8-2.1 3.7-1.5 3.8-.9 3.8-.1 3.8 .5 3.8 1.3 3.8 2.1 3.8 3 3.8 4 3.8 5.1 3.7 6.2 3.8 7.3 3.8 8.1 3.8 8.6 3.8 8.8 3.8 8.6 3.8 7.8 3.7 6.9 3.8 5.7 3.8 4.5"/>
<path d="M23.7 81.4l3.8 4.3 3.7 5.3 3.8 6.5 3.8 7.5 3.8 8.3 3.8 8.7 3.8 8.8 3.8 8.4 3.8 7.7 3.8 6.5 3.7 5.5 3.8 4.2 3.8 3.1 3.8 2.3 3.8 1.4 3.8 1 3.8 .5 3.7 .4 3.8 .1 3.8 .1 3.8 .1 3.8 0 3.8 0 3.8 0 3.8 0 3.8 0 3.7 0 3.8 0 3.8 0 3.8 0 3.8 0 3.8 0 3.8 0 3.7 0 3.8 0 3.8 0"/>
<path d="M23.7 172.1l3.8 0 3.7 0 3.8 0 3.8 0 3.8 0 3.8 0 3.8 0 3.8 0 3.8 0 3.8 0 3.7 0 3.8 0 3.8 0 3.8 0 3.8 0 3.8-.1 3.8 0 3.7-.1 3.8-.2 3.8-.4 3.8-.7 3.8-1 3.8-1.6 3.8-2.3 3.8-3.4 3.8-4.4 3.7-5.6 3.8-6.8 3.8-7.7 3.8-8.4 3.8-8.5 3.8-8.2 3.8-7.5 3.7-6.3 3.8-5 3.8-3.5"/>
<path d="M23.7 161.3l3.8-4.7 3.7-5.9 3.8-7.1 3.8-7.9 3.8-8.4 3.8-8.5 3.8-8.1 3.8-7.2 3.8-6 3.8-4.6 3.7-3.1 3.8-1.9 3.8-.9 3.8-.2 3.8 .2 3.8 .3 3.8 .2 3.7 .1 3.8 0 3.8 .1 3.8 .3 3.8 .9 3.8 1.7 3.8 2.8 3.8 4.1 3.8 5.3 3.7 6.5 3.8 7.4 3.8 7.9 3.8 8.1 3.8 7.8 3.8 7.1 3.8 6.2 3.7 5.2 3.8 4 3.8 3"/>
<path d="M23.7 94.3l3.8 4.4 3.7 5.6 3.8 6.8 3.8 7.5 3.8 8.1 3.8 8 3.8 7.7 3.8 6.9 3.8 5.9 3.8 4.9 3.7 3.8 3.8 2.8 3.8 2 3.8 1.3 3.8 .9 3.8 .5 3.8 .3 3.7 .2 3.8 .1 3.8 .1 3.8 0 3.8 0 3.8 0 3.8 0 3.8 0 3.8 0 3.7 0 3.8 0 3.8 0 3.8 0 3.8 0 3.8 0 3.8 0 3.7 0 3.8 0 3.8 0"/>
<path d="M23.7 172.1l3.8 0 3.7 0 3.8 0 3.8 0 3.8 0 3.8 0 3.8 0 3.8 0 3.8 0 3.8 0 3.7 0 3.8 0 3.8 0 3.8 0 3.8 0 3.8-.1 3.8-.1 3.7-.2 3.8-.4 3.8-.6 3.8-1 3.8-1.6 3.8-2.4 3.8-3.3 3.8-4.6 3.8-5.9 3.7-7.2 3.8-8.4 3.8-9.2 3.8-9.7 3.8-9.4 3.8-8.7 3.8-7.4 3.7-5.8 3.8-4.3 3.8-2.9"/>
<path d="M23.7 161.3l3.8-4.8 3.7-6.2 3.8-7.6 3.8-8.6 3.8-9.4 3.8-9.7 3.8-9.3 3.8-8.3 3.8-7.1 3.8-5.5 3.7-3.9 3.8-2.5 3.8-1.5 3.8-.7 3.8-.2 3.8 .1 3.8 .3 3.7 .5 3.8 .6 3.8 .8 3.8 1.1 3.8 1.6 3.8 2.3 3.8 3 3.8 4 3.8 5.1 3.7 6.2 3.8 7.3 3.8 8 3.8 8.5 3.8 8.5 3.8 8.1 3.8 7.2 3.7 6.1 3.8 5 3.8 3.8"/>
<path d="M23.7 82.7l3.8 2.8 3.7 3.7 3.8 4.8 3.8 6 3.8 7 3.8 7.9 3.8 8.4 3.8 8.5 3.8 8.2 3.8 7.5 3.7 6.4 3.8 5.3 3.8 4.1 3.8 3 3.8 2.1 3.8 1.5 3.8 .9 3.7 .6 3.8 .3 3.8 .2 3.8 .1 3.8 .1 3.8 0 3.8 0 3.8 0 3.8 0 3.7 0 3.8 0 3.8 0 3.8 0 3.8 0 3.8 0 3.8 0 3.7 0 3.8 0 3.8 0"/>
<path d="M23.7 172.1l3.8 0 3.7 0 3.8 0 3.8 0 3.8 0 3.8 0 3.8 0 3.8 0 3.8 0 3.8 0 3.7 0 3.8 0 3.8 0 3.8 0 3.8-.1 3.8-.1 3.8-.1 3.7-.3 3.8-.6 3.8-.8 3.8-1.4 3.8-2.2 3.8-3.1 3.8-4.3 3.8-5.6 3.8-6.9 3.7-8.1 3.8-8.9 3.8-9.5 3.8-9.4 3.8-8.8 3.8-8 3.8-6.7 3.7-5.5 3.8-4.1 3.8-3"/>
<path d="M23.7 157.9l3.8-6 3.7-7.2 3.8-8.3 3.8-9.2 3.8-9.4 3.8-9.4 3.8-8.6 3.8-7.7 3.8-6.4 3.8-5.1 3.7-3.9 3.8-2.7 3.8-1.8 3.8-1.1 3.8-.6 3.8-.3 3.8-.1 3.7 .1 3.8 .5 3.8 .8 3.8 1.3 3.8 2.1 3.8 3 3.8 4 3.8 5.2 3.8 6.4 3.7 7.4 3.8 8.3 3.8 8.9 3.8 9.1 3.8 8.9 3.8 8.2 3.8 7.2 3.7 6 3.8 4.6 3.8 3.4"/>
<path d="M23.7 77.9l3.8 4 3.7 5.2 3.8 6.4 3.8 7.4 3.8 8.3 3.8 8.9 3.8 9.1 3.8 8.9 3.8 8.2 3.8 7.2 3.7 6 3.8 4.6 3.8 3.4 3.8 2.4 3.8 1.7 3.8 1 3.8 .6 3.7 .4 3.8 .2 3.8 .2 3.8 0 3.8 .1 3.8 0 3.8 0 3.8 0 3.8 0 3.7 0 3.8 0 3.8 0 3.8 0 3.8 0 3.8 0 3.8 0 3.7 0 3.8 0 3.8 0"/>
<path d="M23.7 172.1l3.8 0 3.7 0 3.8 0 3.8 0 3.8 0 3.8 0 3.8 0 3.8 0 3.8 0 3.8 0 3.7 0 3.8 0 3.8 0 3.8-.1 3.8 0 3.8-.2 3.8-.3 3.7-.5 3.8-.8 3.8-1.3 3.8-2 3.8-2.9 3.8-4 3.8-5 3.8-6.1 3.8-7.1 3.7-7.9 3.8-8.2 3.8-8.3 3.8-8.1 3.8-7.6 3.8-6.9 3.8-6 3.7-5.1 3.8-4.2 3.8-3.5"/>
<path d="M23.7 162.2l3.8-4.5 3.7-5.6 3.8-6.7 3.8-7.5 3.8-8 3.8-8.4 3.8-8.2 3.8-7.9 3.8-7.3 3.8-6.4 3.7-5.6 3.8-4.6 3.8-3.8 3.8-3.2 3.8-2.6 3.8-2.2 3.8-1.9 3.7-1.6 3.8-1.2 3.8-.6 3.8 0 3.8 .9 3.8 2 3.8 3.2 3.8 4.7 3.8 6 3.7 7.3 3.8 8.4 3.8 9.2 3.8 9.6 3.8 9.6 3.8 9.3 3.8 8.4 3.7 7.4 3.8 6.2 3.8 4.9"/>
<path d="M23.7 69.6l3.8 4.3 3.7 5.7 3.8 7 3.8 8.2 3.8 9 3.8 9.5 3.8 9.7 3.8 9.3 3.8 8.7 3.8 7.7 3.7 6.5 3.8 5.2 3.8 4 3.8 2.8 3.8 1.9 3.8 1.2 3.8 .7 3.7 .3 3.8 0 3.8-.4 3.8-.6 3.8-1.1 3.8-1.7 3.8-2.4 3.8-3.3 3.8-4.4 3.7-5.6 3.8-6.9 3.8-8.1 3.8-8.9 3.8-9.3 3.8-9.2 3.8-8.4 3.7-7.4 3.8-6.1 3.8-4.7"/>
<path d="M23.7 164.4l3.8-3.6 3.7-4.7 3.8-5.9 3.8-7.2 3.8-8.3 3.8-9.1 3.8-9.3 3.8-9.1 3.8-8.2 3.8-7.1 3.7-5.7 3.8-4.3 3.8-3.2 3.8-2.3 3.8-1.5 3.8-1.1 3.8-.7 3.7-.5 3.8-.1 3.8 .2 3.8 .6 3.8 1.4 3.8 2.2 3.8 3.2 3.8 4.5 3.8 5.6 3.7 6.8 3.8 7.7 3.8 8.5 3.8 8.7 3.8 8.7 3.8 8.2 3.8 7.5 3.7 6.5 3.8 5.4 3.8 4.2"/>
<path d="M23.7 84.6l3.8 5.6 3.7 6.8 3.8 7.7 3.8 8.5 3.8 8.7 3.8 8.7 3.8 8.2 3.8 7.5 3.8 6.5 3.8 5.4 3.7 4.2 3.8 3.3 3.8 2.3 3.8 1.5 3.8 1 3.8 .6 3.8 .1 3.7-.1 3.8-.5 3.8-1 3.8-1.6 3.8-2.3 3.8-3.4 3.8-4.5 3.8-5.6 3.8-6.8 3.7-7.6 3.8-8.2 3.8-8.4 3.8-8.2 3.8-7.7 3.8-6.9 3.8-6 3.7-5 3.8-4 3.8-3.2"/>
<path d="M23.7 164.9l3.8-3.6 3.7-4.8 3.8-5.9 3.8-7 3.8-7.8 3.8-8.3 3.8-8.3 3.8-8.2 3.8-7.5 3.8-6.7 3.7-5.8 3.8-4.7 3.8-3.8 3.8-3 3.8-2.3 3.8-1.9 3.8-1.5 3.7-1.4 3.8-1.2 3.8-1.3 3.8-1.3 3.8-1.4 3.8-1.6 3.8-1.8 3.8-2.1 3.8-2.3 3.7-2.4 3.8-2.4 3.8-2.3 3.8-2 3.8-1.5 3.8-1.2 3.8-.7 3.7-.4 3.8-.1 3.8-.1"/>
<path d="M23.7 62.2l3.8-2.2 3.7-2.4 3.8-2.4 3.8-2.4 3.8-2 3.8-1.7 3.8-1.2 3.8-.8 3.8-.5 3.8-.2 3.7-.1 3.8 .1 3.8 .1 3.8 .2 3.8 .4 3.8 .5 3.8 .6 3.7 .8 3.8 .8 3.8 .7 3.8 .7 3.8 .5 3.8 .5 3.8 .5 3.8 .7 3.8 .8 3.7 1.3 3.8 1.5 3.8 1.9 3.8 2.1 3.8 2.2 3.8 2 3.8 1.7 3.7 1.2 3.8 .6 3.8-.1"/>
<path d="M23.7 53.2l3.8 .8 3.7 1.1 3.8 1.5 3.8 1.8 3.8 2.1 3.8 2.1 3.8 2.1 3.8 1.8 3.8 1.3 3.8 .8 3.7 .1 3.8-.5 3.8-1 3.8-1.5 3.8-1.6 3.8-1.5 3.8-1.3 3.7-.8 3.8-.2 3.8 .3 3.8 1 3.8 1.3 3.8 1.7 3.8 1.9 3.8 2 3.8 2 3.7 2.1 3.8 2.1 3.8 2.2 3.8 2.2 3.8 2.2 3.8 1.9 3.8 1.6 3.7 1.2 3.8 .7 3.8 .2"/>
<path d="M23.7 65.5l3.8 2 3.7 2 3.8 2 3.8 2.1 3.8 2.2 3.8 2.2 3.8 2.2 3.8 2 3.8 1.8 3.8 1.4 3.7 1 3.8 .4 3.8 0 3.8-.5 3.8-.8 3.8-1.1 3.8-1.2 3.7-1.3 3.8-1.1 3.8-1 3.8-.8 3.8-.7 3.8-.5 3.8-.4 3.8-.4 3.8-.3 3.7-.2 3.8-.1 3.8 0 3.8 .2 3.8 .3 3.8 .4 3.8 .4 3.7 .4 3.8 .2 3.8 .1"/>
<path d="M23.7 78.1l3.8-.5 3.7-.4 3.8-.4 3.8-.2 3.8-.2 3.8 0 3.8 .1 3.8 .2 3.8 .4 3.8 .4 3.7 .4 3.8 .3 3.8 .2 3.8 0 3.8 0 3.8-.3 3.8-.3 3.7-.5 3.8-.5 3.8-.5 3.8-.3 3.8 0 3.8 .7 3.8 1.4 3.8 2.6 3.8 3.9 3.7 5.2 3.8 6.3 3.8 7.4 3.8 8 3.8 8.3 3.8 8.2 3.8 7.9 3.7 7.3 3.8 6.6 3.8 5.6"/>
<path d="M23.7 87l3.8 5.8 3.7 6.9 3.8 7.7 3.8 8.2 3.8 8.3 3.8 8.1 3.8 7.7 3.8 6.9 3.8 6.1 3.8 5.2 3.7 4.2 3.8 3.2 3.8 2.4 3.8 1.6 3.8 1 3.8 .6 3.8 .1 3.7-.3 3.8-.8 3.8-1.5 3.8-2.3 3.8-3.5 3.8-4.8 3.8-6.4 3.8-7.8 3.8-9.4 3.7-10.5 3.8-11.3 3.8-11.7 3.8-11.4 3.8-10.8 3.8-9.5 3.8-7.8 3.7-5.8 3.8-3.7 3.8-1.8"/>
<path d="M23.7 157.8l3.8-6.4 3.7-7.8 3.8-9.4 3.8-10.5 3.8-11.3 3.8-11.7 3.8-11.4 3.8-10.8 3.8-9.5 3.8-7.8 3.7-5.8 3.8-3.7 3.8-1.8 3.8-.3 3.8 1 3.8 1.7 3.8 1.9 3.7 2 3.8 1.6 3.8 1.1 3.8 .6 3.8-.1 3.8-.5 3.8-1 3.8-1.2 3.8-1.1 3.7-.7 3.8-.1 3.8 .9 3.8 1.7 3.8 2.6 3.8 3.3 3.8 3.4 3.7 3.5 3.8 3 3.8 2.6"/>
<path d="M23.7 58.2l3.8-1.2 3.7-1.1 3.8-.9 3.8-.2 3.8 .6 3.8 1.5 3.8 2.4 3.8 3.1 3.8 3.5 3.8 3.4 3.7 3.2 3.8 2.7 3.8 2 3.8 1.4 3.8 .7 3.8 .3 3.8 0 3.7-.2 3.8-.3 3.8-.3 3.8-.2 3.8-.1 3.8-.1 3.8 0 3.8 .1 3.8 .3 3.7 .7 3.8 1.1 3.8 1.4 3.8 1.9 3.8 2.2 3.8 2.3 3.8 2.3 3.7 2.3 3.8 2.1 3.8 1.8"/>
<path d="M23.7 78.4l3.8 .1 3.7 .3 3.8 .7 3.8 1.1 3.8 1.4 3.8 1.9 3.8 2.2 3.8 2.3 3.8 2.3 3.8 2.3 3.7 2.1 3.8 1.8 3.8 1.7 3.8 1.3 3.8 1.1 3.8 .8 3.8 .6 3.7 .3 3.8 .2 3.8 0 3.8 .1 3.8 .2 3.8 .8 3.8 1.3 3.8 2.2 3.8 3.2 3.7 4.1 3.8 5.1 3.8 5.7 3.8 6.2 3.8 6.3 3.8 6.3 3.8 5.8 3.7 5.3 3.8 4.4 3.8 3.7"/>
<path d="M23.7 106.9l3.8 2.9 3.7 3.9 3.8 4.8 3.8 5.6 3.8 6.1 3.8 6.3 3.8 6.3 3.8 6 3.8 5.4 3.8 4.7 3.7 3.9 3.8 3 3.8 2.2 3.8 1.5 3.8 1 3.8 .6 3.8 .2 3.7-.1 3.8-.3 3.8-.8 3.8-1.2 3.8-1.9 3.8-2.7 3.8-3.6 3.8-4.7 3.8-5.7 3.7-6.8 3.8-7.6 3.8-8.2 3.8-8.5 3.8-8.5 3.8-8.2 3.8-7.6 3.7-6.7 3.8-5.8 3.8-4.6"/>
<path d="M23.7 160.7l3.8-4.7 3.7-5.7 3.8-6.8 3.8-7.6 3.8-8.2 3.8-8.5 3.8-8.5 3.8-8.2 3.8-7.6 3.8-6.7 3.7-5.8 3.8-4.6 3.8-3.6 3.8-2.7 3.8-1.7 3.8-1 3.8-.3 3.7 .3 3.8 .9 3.8 1.5 3.8 2.1 3.8 2.7 3.8 3.5 3.8 4.5 3.8 5.5 3.8 6.5 3.7 7.7 3.8 8.4 3.8 8.9 3.8 8.9 3.8 8.5 3.8 7.7 3.8 6.6 3.7 5.5 3.8 4.2 3.8 3.2"/>
<path d="M23.7 80.5l3.8 4.7 3.7 5.8 3.8 6.9 3.8 7.8 3.8 8.6 3.8 8.9 3.8 8.9 3.8 8.3 3.8 7.4 3.8 6.4 3.7 5.1 3.8 4 3.8 3 3.8 2.1 3.8 1.4 3.8 1 3.8 .6 3.7 .3 3.8 .2 3.8 .1 3.8 .1 3.8 0 3.8 0 3.8 0 3.8 0 3.8 0 3.7 0 3.8 0 3.8 0 3.8 0 3.8 0 3.8 0 3.8 0 3.7 0 3.8 0 3.8 0"/>
<path d="M23.7 172.1l3.8 0 3.7 0 3.8 0 3.8 0 3.8 0 3.8 0 3.8 0 3.8 0 3.8 0 3.8 0 3.7 0 3.8 0 3.8 0 3.8 0 3.8-.1 3.8 0 3.8-.1 3.7-.2 3.8-.4 3.8-.6 3.8-1 3.8-1.5 3.8-2.2 3.8-3.2 3.8-4.2 3.8-5.4 3.7-6.7 3.8-7.9 3.8-8.9 3.8-9.5 3.8-9.6 3.8-9.2 3.8-8.1 3.7-6.8 3.8-5.2 3.8-3.7"/>
<path d="M23.7 162.8l3.8-4.2 3.7-5.4 3.8-6.7 3.8-7.9 3.8-8.9 3.8-9.5 3.8-9.6 3.8-9.2 3.8-8.1 3.8-6.8 3.7-5.2 3.8-3.7 3.8-2.2 3.8-1.1 3.8-.2 3.8 .4 3.8 .8 3.7 .9 3.8 1.1 3.8 1 3.8 1.2 3.8 1.4 3.8 1.9 3.8 2.7 3.8 3.6 3.8 4.7 3.7 6 3.8 7.2 3.8 8.1 3.8 8.7 3.8 8.7 3.8 8.3 3.8 7.4 3.7 6.4 3.8 5.2 3.8 4"/>
<path d="M23.7 86.3l3.8 3.8 3.7 5.1 3.8 6.3 3.8 7.5 3.8 8.3 3.8 8.7 3.8 8.6 3.8 8.1 3.8 7.2 3.8 6.1 3.7 4.9 3.8 3.7 3.8 2.7 3.8 1.8 3.8 1.2 3.8 .8 3.8 .5 3.7 .2 3.8 .2 3.8 0 3.8 .1 3.8 0 3.8 0 3.8 0 3.8 0 3.8 0 3.7 0 3.8 0 3.8 0 3.8 0 3.8 0 3.8 0 3.8 0 3.7 0 3.8 0 3.8 0"/>
<path d="M23.7 172.1l3.8 0 3.7 0 3.8 0 3.8 0 3.8 0 3.8 0 3.8 0 3.8 0 3.8 0 3.8 0 3.7 0 3.8 0 3.8 0 3.8 0 3.8-.1 3.8 0 3.8-.2 3.7-.2 3.8-.5 3.8-.8 3.8-1.3 3.8-2.1 3.8-3 3.8-4.4 3.8-5.9 3.8-7.6 3.7-9.2 3.8-10.4 3.8-11.2 3.8-11.1 3.8-10.2 3.8-8.8 3.8-6.9 3.7-5 3.8-3.3 3.8-2"/>
<path d="M23.7 158.2l3.8-6.3 3.7-8 3.8-9.6 3.8-10.7 3.8-11.2 3.8-11 3.8-9.9 3.8-8.3 3.8-6.5 3.8-4.5 3.7-2.9 3.8-1.7 3.8-.8 3.8-.3 3.8-.1 3.8 0 3.8 .1 3.7 .1 3.8 .1 3.8 0 3.8 0 3.8-.1 3.8-.2 3.8-.3 3.8-.4 3.8-.5 3.7-.3 3.8-.1 3.8 .2 3.8 .7 3.8 1.1 3.8 1.6 3.8 2 3.7 2.3 3.8 2.5 3.8 2.6"/>
<path d="M23.7 66l3.8-.5 3.7-.4 3.8-.3 3.8 0 3.8 .3 3.8 .8 3.8 1.2 3.8 1.7 3.8 2.1 3.8 2.4 3.7 2.6 3.8 2.5 3.8 2.3 3.8 1.9 3.8 1.3 3.8 .7 3.8 0 3.7-.7 3.8-1.2 3.8-1.5 3.8-1.7 3.8-1.6 3.8-1.3 3.8-.9 3.8-.5 3.8 0 3.7 .1 3.8 .2 3.8 0 3.8-.4 3.8-.7 3.8-1.3 3.8-1.8 3.7-2 3.8-2.1 3.8-1.9"/>
<path d="M23.7 75.5l3.8-.3 3.7 0 3.8 .2 3.8 .1 3.8-.1 3.8-.4 3.8-.9 3.8-1.4 3.8-1.8 3.8-2.1 3.7-2.1 3.8-1.9 3.8-1.3 3.8-.7 3.8 .3 3.8 1.2 3.8 1.9 3.7 2.6 3.8 2.9 3.8 3 3.8 2.8 3.8 2.4 3.8 1.9 3.8 1.4 3.8 .7 3.8 .1 3.7-.5 3.8-1.2 3.8-1.7 3.8-2.3 3.8-2.7 3.8-2.9 3.8-2.8 3.7-2.5 3.8-1.8 3.8-1"/>
<path d="M23.7 79.9l3.8 1.9 3.7 1.4 3.8 .7 3.8 .1 3.8-.5 3.8-1.2 3.8-1.7 3.8-2.3 3.8-2.7 3.8-2.9 3.7-2.8 3.8-2.5 3.8-1.8 3.8-1 3.8 .2 3.8 1.2 3.8 2.2 3.7 3.1 3.8 3.5 3.8 3.7 3.8 3.6 3.8 3.2 3.8 2.7 3.8 1.8 3.8 1.1 3.8 .1 3.7-.8 3.8-1.8 3.8-2.8 3.8-3.6 3.8-4.4 3.8-5 3.8-5.4 3.7-5.6 3.8-5.5 3.8-5"/>
<path d="M23.7 91l3.8-.1 3.7-1.1 3.8-2 3.8-3 3.8-3.8 3.8-4.6 3.8-5.1 3.8-5.5 3.8-5.6 3.8-5.4 3.7-4.9 3.8-4 3.8-3.1 3.8-1.9 3.8-.9 3.8 .1 3.8 .8 3.7 1.3 3.8 1.7 3.8 1.9 3.8 2.2 3.8 2.7 3.8 3.4 3.8 4.5 3.8 5.8 3.8 7.3 3.7 8.7 3.8 10 3.8 10.8 3.8 11.2 3.8 11 3.8 10.4 3.8 9.2 3.7 7.8 3.8 6.4 3.8 4.9"/>
<path d="M23.7 56.2l3.8 5.1 3.7 6.5 3.8 8.1 3.8 9.4 3.8 10.4 3.8 11.1 3.8 11.2 3.8 10.7 3.8 9.8 3.8 8.6 3.7 7.1 3.8 5.6 3.8 4.2 3.8 3 3.8 2 3.8 1.2 3.8 .7 3.7 .3 3.8-.1 3.8-.4 3.8-.9 3.8-1.3 3.8-1.9 3.8-2.7 3.8-3.5 3.8-4.4 3.7-5.4 3.8-6.3 3.8-7.2 3.8-7.8 3.8-8.4 3.8-8.5 3.8-8.3 3.7-8 3.8-7.2 3.8-6.4"/>
<path d="M23.7 160.4l3.8-4.4 3.7-5.4 3.8-6.3 3.8-7.2 3.8-7.8 3.8-8.4 3.8-8.5 3.8-8.3 3.8-8 3.8-7.2 3.7-6.4 3.8-5.5 3.8-4.7 3.8-3.9 3.8-3.2 3.8-2.8 3.8-2.4 3.7-1.9 3.8-1.4 3.8-.8 3.8 .3 3.8 1.4 3.8 3.1 3.8 4.7 3.8 6.7 3.8 8.3 3.7 9.7 3.8 10.6 3.8 11 3.8 10.7 3.8 10 3.8 8.9 3.8 7.7 3.7 6.3 3.8 5 3.8 3.9"/>
<path d="M23.7 65.4l3.8 6.7 3.7 8.3 3.8 9.7 3.8 10.6 3.8 11 3.8 10.7 3.8 10 3.8 8.9 3.8 7.7 3.8 6.3 3.7 5 3.8 3.9 3.8 2.7 3.8 2 3.8 1.2 3.8 .7 3.8 .3 3.7-.1 3.8-.5 3.8-1 3.8-1.5 3.8-2.3 3.8-3.1 3.8-4 3.8-4.9 3.8-5.9 3.7-6.6 3.8-7.3 3.8-7.7 3.8-7.8 3.8-7.6 3.8-7 3.8-6.2 3.7-5.4 3.8-4.4 3.8-3.5"/>
<path d="M23.7 160.7l3.8-4.4 3.7-5.4 3.8-6.3 3.8-7 3.8-7.5 3.8-7.8 3.8-7.7 3.8-7.3 3.8-6.7 3.8-5.8 3.7-4.9 3.8-3.9 3.8-3.1 3.8-2.2 3.8-1.5 3.8-1 3.8-.5 3.7-.2 3.8 .2 3.8 .3 3.8 .4 3.8 .5 3.8 .3 3.8 .2 3.8 .1 3.8-.1 3.7-.2 3.8-.2 3.8-.4 3.8-.4 3.8-.5 3.8-.5 3.8-.6 3.7-.7 3.8-.5 3.8-.5"/>
<path d="M23.7 79.4l3.8 .1 3.7-.1 3.8-.1 3.8-.3 3.8-.3 3.8-.4 3.8-.5 3.8-.5 3.8-.6 3.8-.6 3.7-.6 3.8-.5 3.8-.2 3.8 .2 3.8 .8 3.8 1.4 3.8 1.9 3.7 2.4 3.8 2.6 3.8 2.6 3.8 2.4 3.8 2 3.8 1.3 3.8 .7 3.8-.1 3.8-.7 3.7-1.3 3.8-1.8 3.8-2.2 3.8-2.5 3.8-2.6 3.8-2.5 3.8-2 3.7-1.5 3.8-.8 3.8 .1"/>
<path d="M23.7 93.1l3.8-.3 3.7-1 3.8-1.6 3.8-2.1 3.8-2.4 3.8-2.5 3.8-2.6 3.8-2.3 3.8-1.8 3.8-1.1 3.7-.4 3.8 .5 3.8 1.1 3.8 1.5 3.8 1.8 3.8 1.6 3.8 1.2 3.7 .8 3.8 .1 3.8-.5 3.8-.9 3.8-1.1 3.8-1.3 3.8-1 3.8-.7 3.8-.3 3.7 .1 3.8 .5 3.8 .8 3.8 1 3.8 1.1 3.8 1.3 3.8 1.3 3.7 1.4 3.8 1.5 3.8 1.6"/>
<path d="M23.7 79.3l3.8-.9 3.7-.5 3.8-.1 3.8 .3 3.8 .7 3.8 .9 3.8 1 3.8 1.2 3.8 1.3 3.8 1.4 3.7 1.4 3.8 1.6 3.8 1.6 3.8 1.6 3.8 1.5 3.8 1.3 3.8 1.2 3.7 .9 3.8 .8 3.8 .8 3.8 .9 3.8 1.2 3.8 1.7 3.8 2.5 3.8 3.2 3.8 4.1 3.7 4.9 3.8 5.6 3.8 6.1 3.8 6.2 3.8 6.3 3.8 5.9 3.8 5.6 3.7 4.9 3.8 4.1 3.8 3.4"/>
<path d="M23.7 102.9l3.8 3 3.7 3.9 3.8 4.7 3.8 5.5 3.8 5.9 3.8 6.3 3.8 6.2 3.8 6.1 3.8 5.6 3.8 5.1 3.7 4.4 3.8 3.6 3.8 2.8 3.8 2.1 3.8 1.5 3.8 .9 3.8 .6 3.7 .2 3.8-.1 3.8-.5 3.8-.8 3.8-1.3 3.8-1.9 3.8-2.6 3.8-3.4 3.8-4.3 3.7-5.1 3.8-5.8 3.8-6.3 3.8-6.6 3.8-6.6 3.8-6.3 3.8-5.8 3.7-5.1 3.8-4.3 3.8-3.4"/>
</g>
<path fill="none" stroke="#20c8ff" stroke-width="0.6" stroke-opacity="0.9" d="M84.3 170.6l3.8 .6 3.7 .4 3.8 .2M88.1 171.8l3.7-.3 3.8-.5M84.3 170.7l3.8 .4 3.7 0 3.8-.4M88.1 170.7l3.7 .6 3.8 .4M88.1 172l3.7-.1 3.8-.3 3.8-.4M88.1 171l3.7 .3 3.8 0 3.8-.3M84.3 171.4l3.8 .3 3.7 .2 3.8 .1M88.1 171.9l3.7-.2 3.8-.4 3.8-.6M84.3 170.5l3.8 .7 3.7 .4 3.8 .2M88.1 171.8l3.7-.2 3.8-.5M88.1 171.2l3.7 .4 3.8 .3M88.1 171.7l3.7-.3 3.8-.6M84.3 170.5l3.8 .5 3.7 .1 3.8-.2M84.3 170.8l3.8 .4 3.7 0 3.8-.3M84.3 170.6l3.8 .7 3.7 .4 3.8 .2M88.1 171.8l3.7-.3 3.8-.4M84.3 170.9l3.8 .6 3.7 .3 3.8 .1M88.1 171.9l3.7-.2 3.8-.3 3.8-.6M88.1 170.9l3.7 .3 3.8 0 3.8-.4M88.1 170.8l3.7 .3 3.8-.2M84.3 170.8l3.8 .4 3.7 0 3.8-.2M84.3 171l3.8 .3 3.7 0 3.8-.2M84.3 171.4l3.8 .1 3.7-.2 3.8-.5M84.3 170.7l3.8 .6 3.7 .4 3.8 .2M88.1 171.6l3.7-.5M84.3 171.1l3.8 .2 3.7-.1 3.8-.5M88.1 171.2l3.7 .4 3.8 .3M88.1 171.9l3.7-.3 3.8-.4M84.3 170.7l3.8 .6 3.7 .4 3.8 .2M88.1 171.9l3.7-.2 3.8-.4 3.8-.6M84.3 170.9l3.8 .5 3.7 .4 3.8 .1M88.1 172l3.7-.1 3.8-.2M84.3 171.4l3.8 .3 3.7 .2 3.8 .1M88.1 171.9l3.7-.2 3.8-.4 3.8-.6M88.1 170.8l3.7 .6 3.8 .3M88.1 171.8l3.7-.3 3.8-.6M84.3 170.6l3.8 .6 3.7 .4 3.8 .2M88.1 171.5l3.7-.5M88.1 171l3.7 .3 3.8 0 3.8-.4M84.3 171.1l3.8 .1 3.7-.1 3.8-.5M84.3 170.9l3.8 .1 3.7-.3M84.3 171.1l3.8 .2 3.7-.1 3.8-.3M84.3 170.8l3.8 .6 3.7 .3 3.8 .2M88.1 171.9l3.7-.2 3.8-.4 3.8-.6M84.3 171.1l3.8 .5 3.7 .2 3.8 .2M88.1 171.8l3.7-.2 3.8-.5M88.1 170.9l3.7 .3 3.8-.1 3.8-.4M84.3 170.8l3.8 .3 3.7-.1M84.3 170.5l3.8 .6 3.7 .2 3.8-.1 3.8-.5"/>
<path d="M23.7 171.2H160" stroke="#30c8f0" stroke-width="1.2" stroke-opacity="0.9"/>
<path d="M23.7 173H160" stroke="#30b0f0" stroke-width="1.0" stroke-opacity="0.8"/>
<path d="M23.7 172.1H160" stroke="#40e060" stroke-width="1.3" stroke-opacity="1"/>
<path d="M84.6 172.2H102.8" stroke="#d0d040" stroke-width="0.9" stroke-opacity="0.9"/>
<path d="M23.7 173.6H160" stroke="#4060f0" stroke-width="0.6" stroke-opacity="0.6"/>
</g>
<text transform="translate(14.9 172.1) rotate(-90)" font-size="4.6" text-anchor="middle" fill="#555" font-family="'Liberation Sans', Arial, sans-serif">0</text>
<text transform="translate(14.9 136.9) rotate(-90)" font-size="4.6" text-anchor="middle" fill="#555" font-family="'Liberation Sans', Arial, sans-serif">10µ</text>
<text transform="translate(14.9 101.7) rotate(-90)" font-size="4.6" text-anchor="middle" fill="#555" font-family="'Liberation Sans', Arial, sans-serif">20µ</text>
<text transform="translate(14.9 66.5) rotate(-90)" font-size="4.6" text-anchor="middle" fill="#555" font-family="'Liberation Sans', Arial, sans-serif">30µ</text>
<text transform="translate(173 172.1) rotate(-90)" font-size="4.6" text-anchor="middle" fill="#555" font-family="'Liberation Sans', Arial, sans-serif">0</text>
<text transform="translate(173 136.9) rotate(-90)" font-size="4.6" text-anchor="middle" fill="#555" font-family="'Liberation Sans', Arial, sans-serif">1e-005</text>
<text transform="translate(173 101.7) rotate(-90)" font-size="4.6" text-anchor="middle" fill="#555" font-family="'Liberation Sans', Arial, sans-serif">2e-005</text>
<text transform="translate(173 66.5) rotate(-90)" font-size="4.6" text-anchor="middle" fill="#555" font-family="'Liberation Sans', Arial, sans-serif">3e-005</text>
<text x="46.4" y="32.2" font-size="4.6" text-anchor="middle" fill="#555" font-family="'Liberation Sans', Arial, sans-serif">0</text>
<text x="91.8" y="32.2" font-size="4.6" text-anchor="middle" fill="#555" font-family="'Liberation Sans', Arial, sans-serif">0.5</text>
<text x="137.3" y="32.2" font-size="4.6" text-anchor="middle" fill="#555" font-family="'Liberation Sans', Arial, sans-serif">1</text>
<text x="46.4" y="186" font-size="4.6" text-anchor="middle" fill="#555" font-family="'Liberation Sans', Arial, sans-serif">0</text>
<text x="91.8" y="186" font-size="4.6" text-anchor="middle" fill="#555" font-family="'Liberation Sans', Arial, sans-serif">0.5</text>
<text x="137.3" y="186" font-size="4.6" text-anchor="middle" fill="#555" font-family="'Liberation Sans', Arial, sans-serif">1</text>
<text x="92.2" y="190.5" font-size="4.8" font-weight="bold" textLength="31.8" lengthAdjust="spacingAndGlyphs" text-anchor="middle" fill="#222" font-family="'Liberation Sans', Arial, sans-serif">Time (bit period)</text>
<text transform="translate(11.5 106.7) rotate(-90)" font-size="4.8" font-weight="bold" textLength="30" lengthAdjust="spacingAndGlyphs" text-anchor="middle" fill="#222" font-family="'Liberation Sans', Arial, sans-serif">Amplitude (a.u.)</text>
<path d="M201.4 35.7V180.4M210.4 35.7V180.4M219.4 35.7V180.4M228.4 35.7V180.4M237.4 35.7V180.4M246.4 35.7V180.4M255.4 35.7V180.4M264.4 35.7V180.4M273.4 35.7V180.4M282.5 35.7V180.4M291.5 35.7V180.4M300.5 35.7V180.4M309.5 35.7V180.4M318.5 35.7V180.4M327.5 35.7V180.4M336.5 35.7V180.4M345.5 35.7V180.4M199.5 171.5H348.2M199.5 160.1H348.2M199.5 148.7H348.2M199.5 137.3H348.2M199.5 125.9H348.2M199.5 114.5H348.2M199.5 103.1H348.2M199.5 91.7H348.2M199.5 80.3H348.2M199.5 68.9H348.2M199.5 57.5H348.2M199.5 46.1H348.2" stroke="#efefef" stroke-width="0.6" fill="none"/>
<path d="M199.5 35.7H348.2" stroke="#555" stroke-width="0.8" stroke-linecap="square"/>
<path d="M199.5 180.4H348.2" stroke="#555" stroke-width="0.8" stroke-linecap="square"/>
<path d="M199.5 35.7V180.4" stroke="#555" stroke-width="0.8" stroke-linecap="square"/>
<path d="M348.2 35.7V180.4" stroke="#555" stroke-width="0.8" stroke-linecap="square"/>
<path d="M228.4 32.7V180.4" stroke="#666" stroke-width="0.6"/>
<path d="M196.5 171.5H351.2" stroke="#666" stroke-width="0.6"/>
<path d="M201.4 35.7v1.5M201.4 180.4v-1.5M210.4 35.7v1.5M210.4 180.4v-1.5M219.4 35.7v1.5M219.4 180.4v-1.5M228.4 35.7v1.5M228.4 180.4v-1.5M237.4 35.7v1.5M237.4 180.4v-1.5M246.4 35.7v1.5M246.4 180.4v-1.5M255.4 35.7v1.5M255.4 180.4v-1.5M264.4 35.7v1.5M264.4 180.4v-1.5M273.4 35.7v1.5M273.4 180.4v-1.5M282.5 35.7v1.5M282.5 180.4v-1.5M291.5 35.7v1.5M291.5 180.4v-1.5M300.5 35.7v1.5M300.5 180.4v-1.5M309.5 35.7v1.5M309.5 180.4v-1.5M318.5 35.7v1.5M318.5 180.4v-1.5M327.5 35.7v1.5M327.5 180.4v-1.5M336.5 35.7v1.5M336.5 180.4v-1.5M345.5 35.7v1.5M345.5 180.4v-1.5M199.5 171.5h1.5M348.2 171.5h-1.5M227.4 171.5h2M199.5 160.1h1.5M348.2 160.1h-1.5M227.4 160.1h2M199.5 148.7h1.5M348.2 148.7h-1.5M227.4 148.7h2M199.5 137.3h1.5M348.2 137.3h-1.5M227.4 137.3h2M199.5 125.9h1.5M348.2 125.9h-1.5M227.4 125.9h2M199.5 114.5h1.5M348.2 114.5h-1.5M227.4 114.5h2M199.5 103.1h1.5M348.2 103.1h-1.5M227.4 103.1h2M199.5 91.7h1.5M348.2 91.7h-1.5M227.4 91.7h2M199.5 80.3h1.5M348.2 80.3h-1.5M227.4 80.3h2M199.5 68.9h1.5M348.2 68.9h-1.5M227.4 68.9h2M199.5 57.5h1.5M348.2 57.5h-1.5M227.4 57.5h2M199.5 46.1h1.5M348.2 46.1h-1.5M227.4 46.1h2" stroke="#555" stroke-width="0.6"/>
<g clip-path="url(#c2)">
<g fill="none" stroke="#1f30f0" stroke-width="0.55" stroke-opacity="0.85">
<path d="M205.9 86.7l3.7 4.1 3.8 5.4 3.7 6.7 3.8 7.9 3.7 8.8 3.8 9.1 3.8 9 3.7 8.2 3.8 7.2 3.7 5.8 3.8 4.4 3.7 3.1 3.8 2.1 3.7 1.4 3.8 .7 3.7 .5 3.8 .2 3.7 .1 3.8 .1 3.8 0 3.7 0 3.8 0 3.7 0 3.8 0 3.7 0 3.8 0 3.7 0 3.8 0 3.7 0 3.8 0 3.8 0 3.7 0 3.8 0 3.7 0 3.8 0 3.7 0"/>
<path d="M205.9 171.5l3.7 0 3.8 0 3.7 0 3.8 0 3.7 0 3.8 0 3.8 0 3.7 0 3.8 0 3.7 0 3.8 0 3.7 0 3.8 0 3.7 0 3.8 0 3.7 0 3.8 0 3.7-.1 3.8-.1 3.8-.2 3.7-.4 3.8-.8 3.7-1.3 3.8-2.2 3.7-3.4 3.8-4.8 3.7-6.4 3.8-8.1 3.7-9.4 3.8-10.3 3.8-10.4 3.7-9.9 3.8-9 3.7-7.7 3.8-6.4 3.7-5.3"/>
<path d="M205.9 156.8l3.7-6.9 3.8-8.4 3.7-9.7 3.8-10.4 3.7-10.4 3.8-9.7 3.8-8.6 3.7-7.4 3.8-6.1 3.7-5.1 3.8-4.3 3.7-3.8 3.8-3.5 3.7-3.2 3.8-3 3.7-2.6 3.8-2.2 3.7-1.7 3.8-1 3.8 0 3.7 1.1 3.8 2.5 3.7 4.1 3.8 6.2 3.7 8.1 3.8 10.1 3.7 11.5 3.8 12.5 3.7 12.5 3.8 11.9 3.8 10.5 3.7 8.9 3.8 7.1 3.7 5.4 3.8 3.8 3.7 2.6"/>
<path d="M205.9 60.9l3.7 7.7 3.8 9.6 3.7 11.2 3.8 12.3 3.7 12.6 3.8 12.1 3.8 10.9 3.7 9.4 3.8 7.5 3.7 5.8 3.8 4.2 3.7 2.9 3.8 1.8 3.7 1.2 3.8 .7 3.7 .3 3.8 .1 3.7 0 3.8-.3 3.8-.5 3.7-.8 3.8-1.5 3.7-2.2 3.8-3.3 3.7-4.6 3.8-6 3.7-7.6 3.8-9.1 3.7-10.3 3.8-11.1 3.8-11.3 3.7-10.8 3.8-9.9 3.7-8.5 3.8-6.7 3.7-5.1"/>
<path d="M205.9 166.5l3.7-3 3.8-4.2 3.7-5.7 3.8-7.2 3.7-8.7 3.8-10 3.8-11 3.7-11.3 3.8-11 3.7-10.2 3.8-8.8 3.7-7.2 3.8-5.5 3.7-3.9 3.8-2.4 3.7-1.1 3.8-.1 3.7 .8 3.8 1.6 3.8 2.3 3.7 2.7 3.8 3 3.7 3.2 3.8 3.1 3.7 3.1 3.8 2.9 3.7 2.6 3.8 2.4 3.7 2.3 3.8 2 3.8 2 3.7 1.8 3.8 1.7 3.7 1.5 3.8 1.2 3.7 .8"/>
<path d="M205.9 73.5l3.7 3 3.8 2.7 3.7 2.6 3.8 2.3 3.7 2.1 3.8 2 3.8 1.9 3.7 1.8 3.8 1.6 3.7 1.4 3.8 .9 3.7 .6 3.8 0 3.7-.5 3.8-1.2 3.7-1.7 3.8-2.4 3.7-2.8 3.8-3.3 3.8-3.6 3.7-3.8 3.8-3.9 3.7-3.6 3.8-3.2 3.7-2.6 3.8-1.6 3.7-.6 3.8 .2 3.7 1.1 3.8 1.6 3.8 1.8 3.7 1.9 3.8 1.6 3.7 1.4 3.8 .9 3.7 .7"/>
<path d="M205.9 67.1l3.7-2.7 3.8-1.9 3.7-.9 3.8 .1 3.7 .9 3.8 1.4 3.8 1.9 3.7 1.8 3.8 1.7 3.7 1.5 3.8 1 3.7 .7 3.8 .4 3.7 .3 3.8 .1 3.7 .2 3.8 .3 3.7 .5 3.8 .7 3.8 .8 3.7 .9 3.8 .9 3.7 .7 3.8 .4 3.7 .1 3.8-.5 3.7-.9 3.8-1.4 3.7-1.7 3.8-1.9 3.8-2 3.7-1.8 3.8-1.6 3.7-1.2 3.8-.8 3.7-.5"/>
<path d="M205.9 78.9l3.7-.3 3.8-.8 3.7-1.3 3.8-1.6 3.7-1.9 3.8-2 3.8-1.9 3.7-1.7 3.8-1.3 3.7-.9 3.8-.5 3.7-.3 3.8-.1 3.7-.2 3.8-.1 3.7-.4 3.8-.5 3.7-.6 3.8-.6 3.8-.5 3.7-.4 3.8-.1 3.7 .3 3.8 .6 3.7 1 3.8 1.1 3.7 1.1 3.8 1.2 3.7 1.1 3.8 1 3.8 .9 3.7 1 3.8 1.3 3.7 1.7 3.8 2.2 3.7 2.7"/>
<path d="M205.9 61.3l3.7 .7 3.8 1 3.7 1.2 3.8 1.1 3.7 1.2 3.8 1 3.8 1 3.7 1 3.8 1 3.7 1.4 3.8 1.8 3.7 2.3 3.8 2.9 3.7 3.3 3.8 3.6 3.7 3.7 3.8 3.5 3.7 3.1 3.8 2.7 3.8 2.1 3.7 1.5 3.8 1 3.7 .8 3.8 .9 3.7 1.4 3.8 2.3 3.7 3.6 3.8 4.9 3.7 6.2 3.8 7.1 3.8 7.5 3.7 7.2 3.8 6.5 3.7 5.5 3.8 4.4 3.7 3.4"/>
<path d="M205.9 106.1l3.7 2 3.8 3.2 3.7 4.6 3.8 6 3.7 6.9 3.8 7.4 3.8 7.3 3.7 6.8 3.8 5.8 3.7 4.6 3.8 3.6 3.7 2.6 3.8 1.8 3.7 1.2 3.8 .7 3.7 .4 3.8 .2 3.7 0 3.8-.2 3.8-.5 3.7-.8 3.8-1.3 3.7-2 3.8-2.8 3.7-3.8 3.8-4.9 3.7-6.1 3.8-7.3 3.7-8.1 3.8-8.9 3.8-9.1 3.7-8.8 3.8-8 3.7-6.7 3.8-5.1 3.7-3.7"/>
<path d="M205.9 163.6l3.7-3.8 3.8-4.9 3.7-6.1 3.8-7.3 3.7-8.1 3.8-8.9 3.8-9.1 3.7-8.8 3.8-8 3.7-6.7 3.8-5.1 3.7-3.7 3.8-2.4 3.7-1.6 3.8-1.1 3.7-1 3.8-1.1 3.7-1.2 3.8-1.2 3.8-.9 3.7-.1 3.8 1.1 3.7 2.6 3.8 4.3 3.7 6 3.8 7.5 3.7 8.8 3.8 9.5 3.7 9.7 3.8 9.6 3.8 8.9 3.7 7.9 3.8 6.7 3.7 5.3 3.8 3.9 3.7 2.8"/>
<path d="M205.9 77.1l3.7 4.7 3.8 6.4 3.7 7.9 3.8 9 3.7 9.6 3.8 9.8 3.8 9.4 3.7 8.7 3.8 7.6 3.7 6.3 3.8 5 3.7 3.6 3.8 2.5 3.7 1.7 3.8 1 3.7 .6 3.8 .3 3.7 .2 3.8 0 3.8 .1 3.7 0 3.8 0 3.7 0 3.8 0 3.7 0 3.8 0 3.7 0 3.8 0 3.7 0 3.8 0 3.8 0 3.7 0 3.8 0 3.7 0 3.8 0 3.7 0"/>
<path d="M205.9 171.5l3.7 0 3.8 0 3.7 0 3.8 0 3.7 0 3.8 0 3.8 0 3.7 0 3.8 0 3.7 0 3.8 0 3.7 0 3.8 0 3.7 0 3.8 0 3.7-.1 3.8-.1 3.7-.1 3.8-.4 3.8-.6 3.7-1 3.8-1.7 3.7-2.7 3.8-3.8 3.7-5.3 3.8-6.9 3.7-8.4 3.8-9.6 3.7-10.4 3.8-10.4 3.8-9.9 3.7-8.9 3.8-7.7 3.7-6.4 3.8-5.3 3.7-4.3"/>
<path d="M205.9 163.1l3.7-4.6 3.8-6.1 3.7-7.6 3.8-9.1 3.7-10 3.8-10.5 3.8-10.3 3.7-9.4 3.8-8.3 3.7-7.1 3.8-5.8 3.7-4.7 3.8-4 3.7-3.4 3.8-2.7 3.7-2.1 3.8-1.3 3.7-.3 3.8 .7 3.8 1.7 3.7 2.6 3.8 3.3 3.7 4 3.8 4.7 3.7 5.6 3.8 6.6 3.7 7.9 3.8 9.1 3.7 10.1 3.8 10.6 3.8 10.4 3.7 9.6 3.8 8.2 3.7 6.6 3.8 5 3.7 3.5"/>
<path d="M205.9 78.4l3.7 6.6 3.8 7.9 3.7 9.1 3.8 10.1 3.7 10.6 3.8 10.4 3.8 9.6 3.7 8.2 3.8 6.6 3.7 5 3.8 3.5 3.7 2.3 3.8 1.4 3.7 .9 3.8 .4 3.7 .2 3.8 0 3.7-.2 3.8-.4 3.8-.8 3.7-1.2 3.8-1.9 3.7-2.7 3.8-3.7 3.7-4.8 3.8-5.7 3.7-6.7 3.8-7.4 3.7-7.8 3.8-7.8 3.8-7.4 3.7-6.8 3.8-5.9 3.7-4.9 3.8-3.8 3.7-2.9"/>
<path d="M205.9 166.1l3.7-3 3.8-3.9 3.7-5 3.8-6 3.7-6.9 3.8-7.5 3.8-7.8 3.7-7.8 3.8-7.3 3.7-6.5 3.8-5.7 3.7-4.6 3.8-3.6 3.7-2.6 3.8-1.7 3.7-.7 3.8 0 3.7 .7 3.8 1.2 3.8 1.4 3.7 1.6 3.8 1.5 3.7 1.2 3.8 1 3.7 .5 3.8 .1 3.7-.4 3.8-.6 3.7-.9 3.8-1.1 3.8-1.1 3.7-1.1 3.8-.9 3.7-.9 3.8-.7 3.7-.6"/>
<path d="M205.9 94.2l3.7 .4 3.8 0 3.7-.4 3.8-.7 3.7-1 3.8-1.1 3.8-1.1 3.7-1 3.8-1 3.7-.8 3.8-.6 3.7-.6 3.8-.5 3.7-.4 3.8-.3 3.7-.2 3.8 .1 3.7 .4 3.8 .8 3.8 1.3 3.7 1.8 3.8 2.4 3.7 2.9 3.8 3.5 3.7 4.1 3.8 4.8 3.7 5.5 3.8 6.4 3.7 7 3.8 7.3 3.8 7.5 3.7 7 3.8 6.3 3.7 5.3 3.8 4 3.7 3"/>
<path d="M205.9 96.3l3.7 3.7 3.8 4.5 3.7 5.2 3.8 5.9 3.7 6.7 3.8 7.2 3.8 7.5 3.7 7.3 3.8 6.7 3.7 5.8 3.8 4.6 3.7 3.6 3.8 2.5 3.7 1.6 3.8 1.1 3.7 .6 3.8 .3 3.7 .2 3.8 .1 3.8 .1 3.7 0 3.8 0 3.7 0 3.8 0 3.7 0 3.8 0 3.7 0 3.8 0 3.7 0 3.8 0 3.8 0 3.7 0 3.8 0 3.7 0 3.8 0 3.7 0"/>
<path d="M205.9 171.5l3.7 0 3.8 0 3.7 0 3.8 0 3.7 0 3.8 0 3.8 0 3.7 0 3.8 0 3.7 0 3.8 0 3.7 0 3.8 0 3.7 0 3.8 0 3.7 0 3.8-.1 3.7-.1 3.8-.2 3.8-.4 3.7-.7 3.8-1.1 3.7-1.6 3.8-2.3 3.7-3.1 3.8-4.2 3.7-5.2 3.8-6.4 3.7-7.3 3.8-8.1 3.8-8.3 3.7-8.3 3.8-7.5 3.7-6.5 3.8-5.2 3.7-3.7"/>
<path d="M205.9 164.3l3.7-3.4 3.8-4.4 3.7-5.5 3.8-6.6 3.7-7.6 3.8-8.1 3.8-8.4 3.7-8.1 3.8-7.4 3.7-6.1 3.8-4.8 3.7-3.4 3.8-2.1 3.7-1.2 3.8-.5 3.7-.2 3.8-.1 3.7 0 3.8-.1 3.8-.1 3.7-.2 3.8-.3 3.7-.3 3.8-.4 3.7-.5 3.8-.4 3.7-.3 3.8-.1 3.7 .2 3.8 .4 3.8 .8 3.7 1.1 3.8 1.3 3.7 1.4 3.8 1.5 3.7 1.3"/>
<path d="M205.9 85.3l3.7-.4 3.8-.5 3.7-.3 3.8-.3 3.7-.1 3.8 .3 3.8 .5 3.7 .8 3.8 1.2 3.7 1.3 3.8 1.5 3.7 1.4 3.8 1.4 3.7 1.1 3.8 .9 3.7 .4 3.8-.1 3.7-.6 3.8-1.1 3.8-1.5 3.7-1.8 3.8-1.6 3.7-1.1 3.8 0 3.7 1.6 3.8 3.4 3.7 5.4 3.8 7.2 3.7 8.5 3.8 9.3 3.8 9.3 3.7 8.9 3.8 7.9 3.7 6.7 3.8 5.4 3.7 4"/>
<path d="M205.9 87.7l3.7 2.9 3.8 5 3.7 6.8 3.8 8.2 3.7 9.2 3.8 9.3 3.8 9.1 3.7 8.2 3.8 7 3.7 5.7 3.8 4.3 3.7 3.1 3.8 2.1 3.7 1.3 3.8 .8 3.7 .4 3.8 .2 3.7 .1 3.8 .1 3.8 0 3.7 0 3.8 0 3.7 0 3.8 0 3.7 0 3.8 0 3.7 0 3.8 0 3.7 0 3.8 0 3.8 0 3.7 0 3.8 0 3.7 0 3.8 0 3.7 0"/>
<path d="M205.9 171.5l3.7 0 3.8 0 3.7 0 3.8 0 3.7 0 3.8 0 3.8 0 3.7 0 3.8 0 3.7 0 3.8 0 3.7 0 3.8 0 3.7 0 3.8 0 3.7 0 3.8 0 3.7-.1 3.8-.1 3.8-.3 3.7-.5 3.8-.8 3.7-1.5 3.8-2.2 3.7-3.2 3.8-4.5 3.7-6 3.8-7.4 3.7-8.8 3.8-9.9 3.8-10.7 3.7-10.9 3.8-10.5 3.7-9.5 3.8-7.7 3.7-5.6"/>
<path d="M205.9 166.7l3.7-3 3.8-4.2 3.7-5.5 3.8-7.1 3.7-8.5 3.8-9.7 3.8-10.5 3.7-10.9 3.8-10.7 3.7-9.8 3.8-8.2 3.7-6.1 3.8-3.9 3.7-1.4 3.8 .7 3.7 2.2 3.8 3.2 3.7 3.5 3.8 3.3 3.8 2.7 3.7 1.9 3.8 1 3.7 .2 3.8-.4 3.7-.7 3.8-.7 3.7-.5 3.8 0 3.7 .5 3.8 .9 3.8 1.2 3.7 1.2 3.8 .9 3.7 .6 3.8 0 3.7-.5"/>
<path d="M205.9 84.8l3.7-.7 3.8-.5 3.7 0 3.8 .5 3.7 .9 3.8 1.2 3.8 1.2 3.7 .9 3.8 .6 3.7 0 3.8-.5 3.7-.9 3.8-1.3 3.7-1.4 3.8-1.3 3.7-1 3.8-.6 3.7-.2 3.8 .5 3.8 1 3.7 1.7 3.8 2.4 3.7 3.2 3.8 4 3.7 5 3.8 5.9 3.7 6.9 3.8 7.6 3.7 8 3.8 8 3.8 7.6 3.7 6.8 3.8 5.8 3.7 4.7 3.8 3.6 3.7 2.6"/>
<path d="M205.9 93.4l3.7 4.7 3.8 5.8 3.7 6.6 3.8 7.4 3.7 8 3.8 8 3.8 7.7 3.7 7.1 3.8 6.1 3.7 4.9 3.8 3.9 3.7 2.8 3.8 2 3.7 1.3 3.8 .8 3.7 .5 3.8 .2 3.7 .2 3.8 0 3.8 .1 3.7 0 3.8 0 3.7 0 3.8 0 3.7 0 3.8 0 3.7 0 3.8 0 3.7 0 3.8 0 3.8 0 3.7 0 3.8 0 3.7 0 3.8 0 3.7 0"/>
<path d="M205.9 171.5l3.7 0 3.8 0 3.7 0 3.8 0 3.7 0 3.8 0 3.8 0 3.7 0 3.8 0 3.7 0 3.8 0 3.7 0 3.8 0 3.7 0 3.8 0 3.7 0 3.8-.1 3.7-.1 3.8-.3 3.8-.5 3.7-.9 3.8-1.3 3.7-2.1 3.8-3 3.7-4 3.8-5.2 3.7-6.2 3.8-6.9 3.7-7.4 3.8-7.4 3.8-7.1 3.7-6.5 3.8-5.9 3.7-5.2 3.8-4.6 3.7-4.1"/>
<path d="M205.9 165.5l3.7-3.2 3.8-4.3 3.7-5.4 3.8-6.4 3.7-7.1 3.8-7.5 3.8-7.3 3.7-7 3.8-6.3 3.7-5.7 3.8-5.1 3.7-4.5 3.8-4 3.7-3.7 3.8-3.4 3.7-3 3.8-2.5 3.7-2 3.8-1.4 3.8-.7 3.7-.2 3.8 .2 3.7 .5 3.8 .7 3.7 .6 3.8 .4 3.7 .2 3.8 0 3.7-.2 3.8-.3 3.8-.3 3.7-.1 3.8 .1 3.7 .3 3.8 .5 3.7 .6"/>
<path d="M205.9 76.7l3.7 .4 3.8 .3 3.7 0 3.8-.2 3.7-.3 3.8-.2 3.8-.2 3.7 .1 3.8 .2 3.7 .5 3.8 .6 3.7 .7 3.8 .8 3.7 .9 3.8 .8 3.7 .8 3.8 .7 3.7 .6 3.8 .4 3.8 .2 3.7 0 3.8-.1 3.7 .2 3.8 .7 3.7 1.8 3.8 3.5 3.7 5.4 3.8 7.6 3.7 9.3 3.8 10.5 3.8 10.7 3.7 9.8 3.8 8.3 3.7 6.6 3.8 4.8 3.7 3.4"/>
<path d="M205.9 83.8l3.7 .2 3.8 1 3.7 2.1 3.8 3.9 3.7 6 3.8 8.1 3.8 9.7 3.7 10.6 3.8 10.5 3.7 9.5 3.8 7.9 3.7 6.2 3.8 4.4 3.7 3 3.8 1.9 3.7 1.2 3.8 .7 3.7 .4 3.8 .1 3.8-.1 3.7-.3 3.8-.5 3.7-1.1 3.8-1.6 3.7-2.5 3.8-3.6 3.7-4.8 3.8-5.9 3.7-7.1 3.8-8 3.8-8.5 3.7-8.7 3.8-8.6 3.7-8.1 3.8-7.5 3.7-6.7"/>
<path d="M205.9 167l3.7-2.7 3.8-3.9 3.7-5 3.8-6.3 3.7-7.3 3.8-8.2 3.8-8.6 3.7-8.7 3.8-8.5 3.7-8 3.8-7.3 3.7-6.4 3.8-5.3 3.7-4.2 3.8-3.1 3.7-1.9 3.8-.7 3.7 .4 3.8 1.4 3.8 2.1 3.7 2.9 3.8 3.3 3.7 3.8 3.8 4.1 3.7 4.5 3.8 4.9 3.7 5.3 3.8 6 3.7 6.5 3.8 7 3.8 7.4 3.7 7.4 3.8 7.1 3.7 6.6 3.8 5.6 3.7 4.5"/>
<path d="M205.9 91.1l3.7 4.7 3.8 5.1 3.7 5.6 3.8 6.3 3.7 6.7 3.8 7.3 3.8 7.4 3.7 7.3 3.8 6.9 3.7 6.1 3.8 5.1 3.7 4 3.8 2.9 3.7 2 3.8 1.3 3.7 .8 3.8 .4 3.7 .3 3.8 .1 3.8 .1 3.7 0 3.8 0 3.7 0 3.8 0 3.7 0 3.8 0 3.7 0 3.8 0 3.7 0 3.8 0 3.8 0 3.7 0 3.8 0 3.7 0 3.8 0 3.7 0"/>
<path d="M205.9 171.5l3.7 0 3.8 0 3.7 0 3.8 0 3.7 0 3.8 0 3.8 0 3.7 0 3.8 0 3.7 0 3.8 0 3.7 0 3.8 0 3.7 0 3.8-.1 3.7 0 3.8-.2 3.7-.2 3.8-.6 3.8-.9 3.7-1.4 3.8-2.3 3.7-3.3 3.8-4.5 3.7-5.8 3.8-7.1 3.7-8.1 3.8-8.8 3.7-8.9 3.8-8.6 3.8-7.7 3.7-6.5 3.8-5 3.7-3.6 3.8-2.3 3.7-1.4"/>
<path d="M205.9 162.5l3.7-4.5 3.8-5.8 3.7-7.1 3.8-8.1 3.7-8.8 3.8-8.9 3.8-8.6 3.7-7.7 3.8-6.5 3.7-5 3.8-3.6 3.7-2.3 3.8-1.4 3.7-.7 3.8-.4 3.7-.4 3.8-.4 3.7-.5 3.8-.6 3.8-.5 3.7-.3 3.8 0 3.7 .3 3.8 .6 3.7 .8 3.8 .8 3.7 .8 3.8 .6 3.7 .4 3.8 0 3.8-.4 3.7-.8 3.8-1.2 3.7-1.5 3.8-1.8 3.7-2"/>
<path d="M205.9 81.1l3.7 .8 3.8 .8 3.7 .8 3.8 .7 3.7 .4 3.8 .1 3.8-.3 3.7-.7 3.8-1.1 3.7-1.4 3.8-1.7 3.7-2 3.8-2.1 3.7-1.9 3.8-1.7 3.7-1.2 3.8-.6 3.7 .2 3.8 1 3.8 1.8 3.7 2.4 3.8 2.8 3.7 3 3.8 3.1 3.7 2.8 3.8 2.6 3.7 2.1 3.8 1.7 3.7 1 3.8 .4 3.8-.4 3.7-1.1 3.8-1.9 3.7-2.8 3.8-3.7 3.7-4.2"/>
<path d="M205.9 82.8l3.7 2.9 3.8 2.8 3.7 2.3 3.8 1.9 3.7 1.4 3.8 .7 3.8 0 3.7-.7 3.8-1.6 3.7-2.3 3.8-3.3 3.7-3.9 3.8-4.5 3.7-4.8 3.8-4.7 3.7-4.3 3.8-3.4 3.7-2.4 3.8-1.2 3.8 0 3.7 1.3 3.8 2.4 3.7 3.5 3.8 4.6 3.7 5.7 3.8 6.9 3.7 8 3.8 8.9 3.7 9.7 3.8 10 3.8 9.9 3.7 9.3 3.8 8.3 3.7 7.1 3.8 5.7 3.7 4.3"/>
<path d="M205.9 73.6l3.7 6.6 3.8 7.8 3.7 8.7 3.8 9.6 3.7 9.9 3.8 10 3.8 9.4 3.7 8.6 3.8 7.4 3.7 6.1 3.8 4.6 3.7 3.4 3.8 2.4 3.7 1.5 3.8 .9 3.7 .4 3.8 .2 3.7-.1 3.8-.3 3.8-.6 3.7-1.2 3.8-1.8 3.7-2.7 3.8-3.8 3.7-5 3.8-6 3.7-6.8 3.8-7.2 3.7-7 3.8-6.5 3.8-5.6 3.7-4.7 3.8-3.9 3.7-3.2 3.8-2.8 3.7-2.7"/>
<path d="M205.9 165.2l3.7-3.6 3.8-4.6 3.7-5.8 3.8-6.7 3.7-7.1 3.8-7.1 3.8-6.6 3.7-5.9 3.8-4.9 3.7-4.1 3.8-3.3 3.7-2.9 3.8-2.7 3.7-2.7 3.8-2.8 3.7-3 3.8-3.1 3.7-3.1 3.8-2.9 3.8-2.4 3.7-1.7 3.8-.7 3.7 .6 3.8 2 3.7 3.7 3.8 5.4 3.7 7 3.8 8.3 3.7 9.2 3.8 9.6 3.8 9.3 3.7 8.6 3.8 7.6 3.7 6.4 3.8 5.1 3.7 3.9"/>
<path d="M205.9 83.8l3.7 5.4 3.8 7 3.7 8.3 3.8 9.2 3.7 9.6 3.8 9.3 3.8 8.6 3.7 7.6 3.8 6.4 3.7 5.1 3.8 3.9 3.7 2.7 3.8 1.9 3.7 1.2 3.8 .7 3.7 .4 3.8 .1 3.7 0 3.8-.2 3.8-.3 3.7-.8 3.8-1.2 3.7-1.9 3.8-2.8 3.7-4 3.8-5.3 3.7-6.5 3.8-7.5 3.7-8.2 3.8-8.3 3.8-7.8 3.7-7 3.8-5.6 3.7-4.2 3.8-2.9 3.7-1.6"/>
<path d="M205.9 164.8l3.7-3.7 3.8-4.9 3.7-6.2 3.8-7.3 3.7-8.1 3.8-8.3 3.8-8 3.7-7.2 3.8-6 3.7-4.6 3.8-3.2 3.7-1.9 3.8-.9 3.7-.1 3.8 .3 3.7 .4 3.8 .4 3.7 .3 3.8 .1 3.8-.2 3.7-.4 3.8-.6 3.7-.8 3.8-1 3.7-1.2 3.8-1.2 3.7-1.4 3.8-1.4 3.7-1.4 3.8-1.4 3.8-1.4 3.7-1.3 3.8-1.4 3.7-1.4 3.8-1.4 3.7-1.3"/>
<path d="M205.9 92.6l3.7-1.2 3.8-1.3 3.7-1.3 3.8-1.4 3.7-1.4 3.8-1.4 3.8-1.4 3.7-1.4 3.8-1.3 3.7-1.4 3.8-1.4 3.7-1.4 3.8-1.2 3.7-1.2 3.8-.9 3.7-.6 3.8-.3 3.7 .1 3.8 .4 3.8 1 3.7 1.5 3.8 2.3 3.7 3.3 3.8 4.4 3.7 5.7 3.8 7 3.7 8 3.8 8.8 3.7 9 3.8 8.9 3.8 8.2 3.7 7.4 3.8 6.3 3.7 5.1 3.8 4 3.7 2.9"/>
<path d="M205.9 78.1l3.7 3.6 3.8 4.7 3.7 6.1 3.8 7.2 3.7 8.3 3.8 8.8 3.8 9 3.7 8.8 3.8 8.1 3.7 7.1 3.8 6 3.7 4.8 3.8 3.7 3.7 2.7 3.8 1.8 3.7 1.2 3.8 .7 3.7 .3 3.8 .1 3.8-.1 3.7-.3 3.8-.7 3.7-1.1 3.8-1.9 3.7-2.8 3.8-4.1 3.7-5.4 3.8-6.9 3.7-8.3 3.8-9.2 3.8-9.7 3.7-9.4 3.8-8.6 3.7-7.4 3.8-6 3.7-4.7"/>
<path d="M205.9 166.4l3.7-3.1 3.8-4.4 3.7-5.8 3.8-7.3 3.7-8.5 3.8-9.4 3.8-9.7 3.7-9.2 3.8-8.4 3.7-7 3.8-5.7 3.7-4.4 3.8-3.4 3.7-2.8 3.8-2.5 3.7-2.2 3.8-2.2 3.7-2 3.8-1.9 3.8-1.7 3.7-1.4 3.8-1 3.7-.4 3.8 .3 3.7 1.3 3.8 2.6 3.7 4.2 3.8 6.1 3.7 8.2 3.8 10 3.8 11.5 3.7 12.1 3.8 11.8 3.7 10.8 3.8 9 3.7 7.2"/>
<path d="M205.9 62.3l3.7 1.3 3.8 2.6 3.7 4.2 3.8 6.1 3.7 8.2 3.8 10 3.8 11.5 3.7 12.1 3.8 11.8 3.7 10.8 3.8 9 3.7 7.2 3.8 5.3 3.7 3.6 3.8 2.4 3.7 1.4 3.8 .8 3.7 .4 3.8 .1 3.8-.1 3.7-.4 3.8-.8 3.7-1.4 3.8-2.2 3.7-3.4 3.8-4.8 3.7-6.5 3.8-8.1 3.7-9.6 3.8-10.5 3.8-10.7 3.7-9.9 3.8-8.6 3.7-6.9 3.8-5.1 3.7-3.4"/>
<path d="M205.9 166.8l3.7-3 3.8-4.4 3.7-6.1 3.8-7.7 3.7-9.3 3.8-10.3 3.8-10.7 3.7-10.2 3.8-9 3.7-7.4 3.8-5.5 3.7-3.8 3.8-2.4 3.7-1.6 3.8-1 3.7-.8 3.8-.8 3.7-.8 3.8-.8 3.8-.6 3.7-.1 3.8 .6 3.7 1.6 3.8 2.8 3.7 4.1 3.8 5.5 3.7 6.9 3.8 7.9 3.7 8.8 3.8 9.3 3.8 9.3 3.7 8.9 3.8 8.1 3.7 7.1 3.8 5.8 3.7 4.6"/>
<path d="M205.9 76.4l3.7 4.5 3.8 5.8 3.7 7.2 3.8 8.2 3.7 8.9 3.8 9.4 3.8 9.2 3.7 8.7 3.8 7.9 3.7 6.7 3.8 5.6 3.7 4.2 3.8 3.2 3.7 2.2 3.8 1.4 3.7 .9 3.8 .5 3.7 .2 3.8 .1 3.8-.1 3.7-.4 3.8-.7 3.7-1.2 3.8-2 3.7-3 3.8-4.3 3.7-5.7 3.8-7 3.7-8.2 3.8-8.8 3.8-9.1 3.7-8.9 3.8-8.3 3.7-7.3 3.8-6.3 3.7-5.3"/>
<path d="M205.9 166.2l3.7-3.4 3.8-4.6 3.7-6 3.8-7.4 3.7-8.3 3.8-9 3.8-9.1 3.7-8.8 3.8-8 3.7-7.1 3.8-6 3.7-5.1 3.8-4.3 3.7-3.6 3.8-3.1 3.7-2.9 3.8-2.6 3.7-2.4 3.8-2.1 3.8-1.7 3.7-1.1 3.8-.5 3.7 .2 3.8 .8 3.7 1.4 3.8 1.9 3.7 2.1 3.8 2.3 3.7 2.2 3.8 1.9 3.8 1.8 3.7 1.4 3.8 1.2 3.7 1.1 3.8 1 3.7 1"/>
<path d="M205.9 60.8l3.7 1.6 3.8 2.1 3.7 2.2 3.8 2.2 3.7 2.1 3.8 1.8 3.8 1.6 3.7 1.3 3.8 1.2 3.7 1 3.8 1 3.7 1 3.8 1.2 3.7 1.2 3.8 1.4 3.7 1.4 3.8 1.1 3.7 .9 3.8 .5 3.8-.2 3.7-.8 3.8-1.3 3.7-1.8 3.8-1.7 3.7-1.2 3.8 .2 3.7 2.3 3.8 5 3.7 7.9 3.8 10.3 3.8 11.8 3.7 12 3.8 11.1 3.7 9.3 3.8 7.2 3.7 5.2"/>
<path d="M205.9 81.4l3.7-.9 3.8 .7 3.7 2.9 3.8 5.7 3.7 8.6 3.8 10.8 3.8 11.9 3.7 11.9 3.8 10.7 3.7 8.8 3.8 6.7 3.7 4.8 3.8 3.1 3.7 2 3.8 1.1 3.7 .7 3.8 .3 3.7 .2 3.8 0 3.8 .1 3.7 0 3.8 0 3.7 0 3.8 0 3.7 0 3.8 0 3.7 0 3.8 0 3.7 0 3.8 0 3.8 0 3.7 0 3.8 0 3.7 0 3.8 0 3.7 0"/>
<path d="M205.9 171.5l3.7 0 3.8 0 3.7 0 3.8 0 3.7 0 3.8 0 3.8 0 3.7 0 3.8 0 3.7 0 3.8 0 3.7 0 3.8 0 3.7 0 3.8 0 3.7 0 3.8-.1 3.7-.1 3.8-.2 3.8-.3 3.7-.7 3.8-1.1 3.7-1.8 3.8-2.7 3.7-3.8 3.8-4.9 3.7-6.3 3.8-7.5 3.7-8.5 3.8-9.2 3.8-9.4 3.7-9.1 3.8-8.4 3.7-7.3 3.8-6.1 3.7-4.7"/>
<path d="M205.9 162.8l3.7-4.4 3.8-5.6 3.7-6.9 3.8-8.1 3.7-8.9 3.8-9.3 3.8-9.3 3.7-8.8 3.8-7.9 3.7-6.7 3.8-5.4 3.7-4.1 3.8-2.9 3.7-1.8 3.8-1 3.7-.3 3.8 .3 3.7 .8 3.8 1.3 3.8 1.6 3.7 1.9 3.8 2.1 3.7 2.2 3.8 2.2 3.7 2 3.8 1.8 3.7 1.5 3.8 1.3 3.7 1 3.8 .9 3.8 .7 3.7 .6 3.8 .4 3.7 .2 3.8 0 3.7-.3"/>
<path d="M205.9 86.2l3.7 1.8 3.8 1.4 3.7 1.3 3.8 1 3.7 .8 3.8 .7 3.8 .5 3.7 .3 3.8 .2 3.7-.1 3.8-.3 3.7-.6 3.8-.9 3.7-1.1 3.8-1.3 3.7-1.4 3.8-1.5 3.7-1.4 3.8-1.1 3.8-.6 3.7 .3 3.8 1.4 3.7 3 3.8 4.8 3.7 6.5 3.8 8.2 3.7 9.3 3.8 9.7 3.7 9.4 3.8 8.6 3.8 7.3 3.7 5.9 3.8 4.4 3.7 3.2 3.8 2.2 3.7 1.4"/>
<path d="M205.9 84.2l3.7 1.4 3.8 3 3.7 4.8 3.8 6.5 3.7 8.2 3.8 9.3 3.8 9.7 3.7 9.4 3.8 8.6 3.7 7.3 3.8 5.9 3.7 4.4 3.8 3.2 3.7 2.2 3.8 1.4 3.7 .9 3.8 .5 3.7 .3 3.8 0 3.8 0 3.7-.3 3.8-.4 3.7-.9 3.8-1.4 3.7-2.1 3.8-3.1 3.7-4.1 3.8-5.4 3.7-6.4 3.8-7.5 3.8-8.1 3.7-8.3 3.8-8.3 3.7-7.8 3.8-7.2 3.7-6.4"/>
<path d="M205.9 163.9l3.7-3.9 3.8-5 3.7-6.2 3.8-7.2 3.7-8 3.8-8.3 3.8-8.4 3.7-7.9 3.8-7.4 3.7-6.6 3.8-5.7 3.7-4.9 3.8-4.1 3.7-3.2 3.8-2.4 3.7-1.5 3.8-.6 3.7 .1 3.8 .8 3.8 1.3 3.7 1.7 3.8 1.8 3.7 1.7 3.8 1.5 3.7 1.3 3.8 .8 3.7 .6 3.8 .1 3.7-.1 3.8-.5 3.8-.8 3.7-1.1 3.8-1.3 3.7-1.6 3.8-1.7 3.7-1.9"/>
<path d="M205.9 78.7l3.7 1.7 3.8 1.5 3.7 1.1 3.8 .8 3.7 .4 3.8 .1 3.8-.2 3.7-.6 3.8-.9 3.7-1.1 3.8-1.4 3.7-1.6 3.8-1.8 3.7-1.8 3.8-1.8 3.7-1.5 3.8-1.2 3.7-.5 3.8 .2 3.8 .9 3.7 1.8 3.8 2.4 3.7 3.1 3.8 3.6 3.7 4.2 3.8 4.6 3.7 5.3 3.8 5.8 3.7 6.6 3.8 7.2 3.8 7.7 3.7 8.1 3.8 7.9 3.7 7.6 3.8 6.6 3.7 5.5"/>
<path d="M205.9 88.3l3.7 5 3.8 5.5 3.7 6.2 3.8 6.9 3.7 7.5 3.8 7.9 3.8 8.1 3.7 7.8 3.8 7.1 3.7 6.1 3.8 5 3.7 3.6 3.8 2.6 3.7 1.7 3.8 1 3.7 .6 3.8 .2 3.7 .1 3.8-.2 3.8-.4 3.7-.8 3.8-1.2 3.7-2.1 3.8-3 3.7-4.2 3.8-5.6 3.7-7.1 3.8-8.5 3.7-9.5 3.8-10.1 3.8-10.3 3.7-9.8 3.8-8.8 3.7-7.6 3.8-6.1 3.7-4.5"/>
<path d="M205.9 162.6l3.7-4.6 3.8-6 3.7-7.4 3.8-8.8 3.7-9.7 3.8-10.2 3.8-10.2 3.7-9.6 3.8-8.5 3.7-7.2 3.8-5.7 3.7-4.2 3.8-2.8 3.7-1.5 3.8-.6 3.7 .3 3.8 .9 3.7 1.2 3.8 1.6 3.8 1.9 3.7 2.1 3.8 2.7 3.7 3.2 3.8 3.9 3.7 4.9 3.8 6 3.7 7.1 3.8 8.2 3.7 8.8 3.8 9.3 3.8 9.1 3.7 8.4 3.8 7.4 3.7 5.9 3.8 4.5 3.7 3.3"/>
<path d="M205.9 81.3l3.7 4.5 3.8 5.4 3.7 6.6 3.8 7.6 3.7 8.5 3.8 9.2 3.8 9.2 3.7 8.8 3.8 8 3.7 6.6 3.8 5.3 3.7 3.8 3.8 2.7 3.7 1.7 3.8 1 3.7 .6 3.8 .3 3.7 .1 3.8-.1 3.8-.4 3.7-.7 3.8-1.2 3.7-2 3.8-2.9 3.7-4.3 3.8-5.7 3.7-7.4 3.8-8.9 3.7-10.1 3.8-10.5 3.8-10.3 3.7-9.1 3.8-7.3 3.7-5.2 3.8-3.1 3.7-1.4"/>
<path d="M205.9 163.9l3.7-4.3 3.8-5.7 3.7-7.4 3.8-8.9 3.7-10.1 3.8-10.5 3.8-10.3 3.7-9.1 3.8-7.3 3.7-5.2 3.8-3.1 3.7-1.4 3.8-.1 3.7 .6 3.8 .9 3.7 .8 3.8 .6 3.7 .3 3.8 0 3.8-.1 3.7 0 3.8 .4 3.7 1.2 3.8 2.4 3.7 3.9 3.8 5.6 3.7 7.1 3.8 8.4 3.7 9 3.8 9.1 3.8 8.6 3.7 7.7 3.8 6.6 3.7 5.3 3.8 4.1 3.7 3"/>
<path d="M205.9 85.2l3.7 2.4 3.8 3.9 3.7 5.6 3.8 7.1 3.7 8.4 3.8 9 3.8 9.1 3.7 8.6 3.8 7.7 3.7 6.6 3.8 5.3 3.7 4.1 3.8 3 3.7 2.2 3.8 1.4 3.7 .8 3.8 .5 3.7 .3 3.8 0 3.8-.1 3.7-.3 3.8-.6 3.7-1.1 3.8-1.9 3.7-2.8 3.8-4.2 3.7-5.7 3.8-7.4 3.7-8.9 3.8-9.8 3.8-10.1 3.7-9.6 3.8-8.6 3.7-7 3.8-5.5 3.7-4"/>
<path d="M205.9 163.5l3.7-4.6 3.8-6.1 3.7-7.8 3.8-9.2 3.7-9.9 3.8-10.1 3.8-9.4 3.7-8.2 3.8-6.7 3.7-5 3.8-3.7 3.7-2.3 3.8-1.4 3.7-.8 3.8-.2 3.7 .1 3.8 .3 3.7 .3 3.8 .5 3.8 .6 3.7 .8 3.8 1.3 3.7 1.9 3.8 2.9 3.7 3.9 3.8 5.2 3.7 6.5 3.8 7.5 3.7 8.4 3.8 8.7 3.8 8.7 3.7 8.1 3.8 7.2 3.7 6.1 3.8 4.8 3.7 3.5"/>
<path d="M205.9 83.4l3.7 2.6 3.8 3.6 3.7 4.9 3.8 6.1 3.7 7.3 3.8 8.2 3.8 8.7 3.7 8.7 3.8 8.3 3.7 7.5 3.8 6.4 3.7 5.1 3.8 3.8 3.7 2.7 3.8 1.8 3.7 1.1 3.8 .6 3.7 .4 3.8 .2 3.8 0 3.7 .1 3.8 0 3.7 0 3.8 0 3.7 0 3.8 0 3.7 0 3.8 0 3.7 0 3.8 0 3.8 0 3.7 0 3.8 0 3.7 0 3.8 0 3.7 0"/>
<path d="M205.9 171.5l3.7 0 3.8 0 3.7 0 3.8 0 3.7 0 3.8 0 3.8 0 3.7 0 3.8 0 3.7 0 3.8 0 3.7 0 3.8 0 3.7 0 3.8 0 3.7-.1 3.8-.1 3.7-.2 3.8-.5 3.8-.7 3.7-1.3 3.8-2.1 3.7-3.1 3.8-4.3 3.7-5.7 3.8-7.1 3.7-8.2 3.8-8.8 3.7-9 3.8-8.4 3.8-7.4 3.7-6.1 3.8-4.8 3.7-3.4 3.8-2.5 3.7-1.8"/>
<path d="M205.9 162.5l3.7-4.7 3.8-6.1 3.7-7.4 3.8-8.4 3.7-8.9 3.8-8.8 3.8-8.2 3.7-7.2 3.8-5.7 3.7-4.4 3.8-3.2 3.7-2.3 3.8-1.6 3.7-1.3 3.8-1.3 3.7-1.3 3.8-1.5 3.7-1.7 3.8-1.8 3.8-1.9 3.7-1.8 3.8-1.8 3.7-1.6 3.8-1.4 3.7-.9 3.8-.5 3.7 .2 3.8 .9 3.7 1.6 3.8 2.3 3.8 2.8 3.7 3.2 3.8 3.2 3.7 3.1 3.8 2.8 3.7 2.3"/>
<path d="M205.9 69.6l3.7-1.4 3.8-.9 3.7-.5 3.8 .2 3.7 .9 3.8 1.6 3.8 2.3 3.7 2.8 3.8 3.2 3.7 3.2 3.8 3.1 3.7 2.8 3.8 2.3 3.7 1.8 3.8 1.1 3.7 .5 3.8-.2 3.7-.9 3.8-1.4 3.8-2 3.7-2.5 3.8-2.7 3.7-2.9 3.8-2.8 3.7-2.7 3.8-2.3 3.7-1.9 3.8-1.4 3.7-1.1 3.8-.6 3.8-.2 3.7 .1 3.8 .3 3.7 .6 3.8 .8 3.7 .8"/>
<path d="M205.9 74.5l3.7-2.3 3.8-1.9 3.7-1.4 3.8-1.1 3.7-.6 3.8-.2 3.8 .1 3.7 .3 3.8 .6 3.7 .8 3.8 .8 3.7 .9 3.8 .8 3.7 1 3.8 .9 3.7 1.1 3.8 1.3 3.7 1.3 3.8 1.5 3.8 1.5 3.7 1.3 3.8 1.1 3.7 .6 3.8 .2 3.7-.4 3.8-.8 3.7-1.2 3.8-1.2 3.7-1.2 3.8-.9 3.8-.4 3.7 .1 3.8 .7 3.7 1.4 3.8 1.7 3.7 1.9"/>
<path d="M205.9 83l3.7-.5 3.8-.9 3.7-1.2 3.8-1.2 3.7-1.2 3.8-.8 3.8-.3 3.7 .3 3.8 .9 3.7 1.5 3.8 1.8 3.7 1.9 3.8 2 3.7 1.7 3.8 1.3 3.7 .9 3.8 .3 3.7-.1 3.8-.5 3.8-.8 3.7-.9 3.8-1 3.7-.9 3.8-.7 3.7-.6 3.8-.5 3.7-.4 3.8-.3 3.7-.4 3.8-.4 3.8-.4 3.7-.6 3.8-.8 3.7-.9 3.8-1.2 3.7-1.5"/>
<path d="M205.9 85.6l3.7-.8 3.8-.7 3.7-.5 3.8-.4 3.7-.3 3.8-.4 3.8-.3 3.7-.5 3.8-.6 3.7-.7 3.8-.9 3.7-1.1 3.8-1.4 3.7-1.7 3.8-2 3.7-2.2 3.8-2.4 3.7-2.4 3.8-2.3 3.8-2 3.7-1.2 3.8-.2 3.7 1.3 3.8 2.9 3.7 5 3.8 7 3.7 8.8 3.8 10.2 3.7 11 3.8 11.3 3.8 10.7 3.7 9.9 3.8 8.5 3.7 7.1 3.8 5.5 3.7 4.1"/>
<path d="M205.9 69.8l3.7 7 3.8 8.8 3.7 10.2 3.8 11 3.7 11.3 3.8 10.7 3.8 9.9 3.7 8.5 3.8 7.1 3.7 5.5 3.8 4.1 3.7 2.9 3.8 1.9 3.7 1.3 3.8 .7 3.7 .4 3.8 .2 3.7 .1 3.8 .1 3.8 0 3.7 0 3.8 0 3.7 0 3.8 0 3.7 0 3.8 0 3.7 0 3.8 0 3.7 0 3.8 0 3.8 0 3.7 0 3.8 0 3.7 0 3.8 0 3.7 0"/>
<path d="M205.9 171.5l3.7 0 3.8 0 3.7 0 3.8 0 3.7 0 3.8 0 3.8 0 3.7 0 3.8 0 3.7 0 3.8 0 3.7 0 3.8 0 3.7 0 3.8 0 3.7-.1 3.8-.1 3.7-.2 3.8-.3 3.8-.7 3.7-1.2 3.8-1.9 3.7-2.8 3.8-4 3.7-5.1 3.8-6.2 3.7-6.9 3.8-7.2 3.7-6.9 3.8-6.3 3.8-5.4 3.7-4.5 3.8-3.7 3.7-3.1 3.8-2.8 3.7-2.6"/>
<path d="M205.9 162.3l3.7-4.5 3.8-5.7 3.7-6.6 3.8-7.1 3.7-7.1 3.8-6.7 3.8-5.9 3.7-4.9 3.8-4.1 3.7-3.3 3.8-3 3.7-2.6 3.8-2.7 3.7-2.6 3.8-2.8 3.7-2.9 3.8-3 3.7-2.8 3.8-2.6 3.8-2.2 3.7-1.7 3.8-1.1 3.7-.4 3.8 .3 3.7 .9 3.8 1.3 3.7 1.6 3.8 1.5 3.7 1.3 3.8 .9 3.8 .4 3.7-.1 3.8-.7 3.7-1 3.8-1.2 3.7-1.2"/>
<path d="M205.9 76.3l3.7 .9 3.8 1.3 3.7 1.6 3.8 1.5 3.7 1.3 3.8 .9 3.8 .4 3.7-.1 3.8-.7 3.7-1 3.8-1.2 3.7-1.2 3.8-.9 3.7-.4 3.8-.1 3.7 .5 3.8 .7 3.7 1 3.8 .9 3.8 .8 3.7 .6 3.8 .4 3.7 .3 3.8 .3 3.7 .3 3.8 .5 3.7 .6 3.8 .9 3.7 1 3.8 1 3.8 .8 3.7 .5 3.8 0 3.7-.6 3.8-1.3 3.7-1.9"/>
<path d="M205.9 84.2l3.7 .4 3.8 .6 3.7 .8 3.8 .9 3.7 1 3.8 .9 3.8 .7 3.7 .2 3.8-.3 3.7-.9 3.8-1.5 3.7-2.2 3.8-2.7 3.7-3 3.8-3.3 3.7-3.2 3.8-3.1 3.7-2.6 3.8-2 3.8-1.1 3.7-.1 3.8 1.3 3.7 3 3.8 4.9 3.7 7 3.8 8.9 3.7 10.4 3.8 11.3 3.7 11.5 3.8 10.9 3.8 9.8 3.7 8.2 3.8 6.4 3.7 4.9 3.8 3.5 3.7 2.3"/>
<path d="M205.9 71.5l3.7 6.5 3.8 8.4 3.7 10.1 3.8 11.2 3.7 11.5 3.8 11.1 3.8 10.1 3.7 8.6 3.8 6.9 3.7 5.2 3.8 3.8 3.7 2.6 3.8 1.7 3.7 1 3.8 .6 3.7 .4 3.8 .1 3.7 .1 3.8 .1 3.8 0 3.7 0 3.8 0 3.7 0 3.8 0 3.7 0 3.8 0 3.7 0 3.8 0 3.7 0 3.8 0 3.8 0 3.7 0 3.8 0 3.7 0 3.8 0 3.7 0"/>
<path d="M205.9 171.5l3.7 0 3.8 0 3.7 0 3.8 0 3.7 0 3.8 0 3.8 0 3.7 0 3.8 0 3.7 0 3.8 0 3.7 0 3.8 0 3.7 0 3.8 0 3.7 0 3.8 0 3.7-.1 3.8-.1 3.8-.3 3.7-.4 3.8-.8 3.7-1.3 3.8-2 3.7-2.9 3.8-3.9 3.7-5.1 3.8-6 3.7-6.8 3.8-7.2 3.8-7.3 3.7-7 3.8-6.5 3.7-5.8 3.8-4.9 3.7-4"/>
<path d="M205.9 164.5l3.7-3.7 3.8-4.8 3.7-5.8 3.8-6.6 3.7-7.2 3.8-7.3 3.8-7.1 3.7-6.6 3.8-6 3.7-5.2 3.8-4.2 3.7-3.3 3.8-2.5 3.7-1.7 3.8-1.2 3.7-.7 3.8-.5 3.7-.4 3.8-.3 3.8-.2 3.7 .1 3.8 .4 3.7 1.1 3.8 2 3.7 3.2 3.8 4.4 3.7 5.9 3.8 7 3.7 8 3.8 8.5 3.8 8.4 3.7 7.9 3.8 6.9 3.7 5.6 3.8 4.4 3.7 3.2"/>
<path d="M205.9 92.2l3.7 2.9 3.8 4.1 3.7 5.5 3.8 6.8 3.7 7.7 3.8 8.4 3.8 8.5 3.7 8.1 3.8 7.1 3.7 6 3.8 4.7 3.7 3.5 3.8 2.4 3.7 1.5 3.8 1 3.7 .5 3.8 .2 3.7 .1 3.8-.2 3.8-.3 3.7-.8 3.8-1.2 3.7-2 3.8-3 3.7-4.3 3.8-5.9 3.7-7.6 3.8-9.3 3.7-10.7 3.8-11.6 3.8-11.7 3.7-11.1 3.8-9.5 3.7-7.5 3.8-5.1 3.7-2.9"/>
<path d="M205.9 162.8l3.7-4.7 3.8-6.3 3.7-8.1 3.8-9.6 3.7-11 3.8-11.7 3.8-11.7 3.7-10.7 3.8-9.1 3.7-6.9 3.8-4.6 3.7-2.3 3.8-.5 3.7 .9 3.8 1.7 3.7 2 3.8 2.1 3.7 1.9 3.8 1.7 3.8 1.6 3.7 1.5 3.8 1.6 3.7 2.1 3.8 2.9 3.7 3.8 3.8 5 3.7 6.4 3.8 7.5 3.7 8.5 3.8 9 3.8 9 3.7 8.5 3.8 7.4 3.7 6.2 3.8 4.8 3.7 3.5"/>
<path d="M205.9 86.4l3.7 4.1 3.8 5.4 3.7 6.6 3.8 7.9 3.7 8.6 3.8 9.1 3.8 8.9 3.7 8.2 3.8 7.2 3.7 5.8 3.8 4.5 3.7 3.2 3.8 2.3 3.7 1.4 3.8 .9 3.7 .4 3.8 .2 3.7 0 3.8-.3 3.8-.6 3.7-1 3.8-1.8 3.7-2.6 3.8-3.9 3.7-5.3 3.8-6.8 3.7-8.4 3.8-9.7 3.7-10.8 3.8-11.2 3.8-11 3.7-10.2 3.8-9.1 3.7-7.5 3.8-5.9 3.7-4.5"/>
<path d="M205.9 163l3.7-4.6 3.8-6 3.7-7.6 3.8-9.1 3.7-10.3 3.8-11 3.8-11.2 3.7-10.7 3.8-9.7 3.7-8.3 3.8-6.7 3.7-5.2 3.8-3.9 3.7-2.9 3.8-2.3 3.7-1.7 3.8-1.5 3.7-1.3 3.8-.8 3.8-.3 3.7 .6 3.8 1.7 3.7 3.3 3.8 5.1 3.7 6.9 3.8 8.7 3.7 10.3 3.8 11.4 3.7 12.1 3.8 11.9 3.8 11.2 3.7 10 3.8 8.4 3.7 6.7 3.8 5.1 3.7 3.7"/>
<path d="M205.9 54.6l3.7 5.5 3.8 7.4 3.7 9.2 3.8 10.6 3.7 11.6 3.8 12.1 3.8 11.8 3.7 11 3.8 9.6 3.7 8 3.8 6.3 3.7 4.7 3.8 3.3 3.7 2.3 3.8 1.5 3.7 .9 3.8 .5 3.7 .2 3.8 .1 3.8-.2 3.7-.5 3.8-.8 3.7-1.4 3.8-2.2 3.7-3.2 3.8-4.4 3.7-5.7 3.8-7.1 3.7-8.2 3.8-9 3.8-9.2 3.7-8.9 3.8-8 3.7-6.7 3.8-5.4 3.7-4.1"/>
<path d="M205.9 162.9l3.7-4.4 3.8-5.7 3.7-7.1 3.8-8.2 3.7-9 3.8-9.2 3.8-8.9 3.7-8 3.8-6.7 3.7-5.4 3.8-4.1 3.7-2.8 3.8-2 3.7-1.3 3.8-.9 3.7-.6 3.8-.4 3.7-.1 3.8 .2 3.8 .6 3.7 1 3.8 1.4 3.7 2.1 3.8 2.8 3.7 3.8 3.8 4.9 3.7 6.2 3.8 7.4 3.7 8.4 3.8 9.1 3.8 9.1 3.7 8.6 3.8 7.6 3.7 6.2 3.8 4.8 3.7 3.4"/>
<path d="M205.9 84.7l3.7 3.3 3.8 4.3 3.7 5.5 3.8 6.8 3.7 8 3.8 8.8 3.8 9.2 3.7 8.9 3.8 8.2 3.7 6.9 3.8 5.5 3.7 4.1 3.8 2.8 3.7 1.9 3.8 1.2 3.7 .6 3.8 .4 3.7 .2 3.8 .1 3.8 .1 3.7 0 3.8 0 3.7 0 3.8 0 3.7 0 3.8 0 3.7 0 3.8 0 3.7 0 3.8 0 3.8 0 3.7 0 3.8 0 3.7 0 3.8 0 3.7 0"/>
<path d="M205.9 171.5l3.7 0 3.8 0 3.7 0 3.8 0 3.7 0 3.8 0 3.8 0 3.7 0 3.8 0 3.7 0 3.8 0 3.7 0 3.8 0 3.7 0 3.8 0 3.7 0 3.8-.1 3.7-.1 3.8-.1 3.8-.4 3.7-.7 3.8-1.1 3.7-1.9 3.8-2.9 3.7-4.1 3.8-5.7 3.7-7.1 3.8-8.5 3.7-9.5 3.8-10 3.8-9.7 3.7-9 3.8-7.6 3.7-5.9 3.8-4.2 3.7-2.6"/>
<path d="M205.9 165.1l3.7-3.9 3.8-5.2 3.7-6.8 3.8-8.2 3.7-9.3 3.8-9.9 3.8-9.8 3.7-9.2 3.8-8 3.7-6.4 3.8-4.6 3.7-3 3.8-1.6 3.7-.6 3.8 0 3.7 .2 3.8 .1 3.7-.3 3.8-.8 3.8-1.4 3.7-2 3.8-2.5 3.7-2.9 3.8-3.1 3.7-3 3.8-2.7 3.7-2 3.8-1.2 3.7-.2 3.8 .6 3.8 1.5 3.7 2.1 3.8 2.4 3.7 2.6 3.8 2.5 3.7 2.3"/>
<path d="M205.9 66.7l3.7-3.1 3.8-2.8 3.7-2.2 3.8-1.4 3.7-.5 3.8 .5 3.8 1.3 3.7 1.9 3.8 2.4 3.7 2.5 3.8 2.6 3.7 2.3 3.8 2.2 3.7 1.7 3.8 1.5 3.7 1 3.8 .7 3.7 .4 3.8 .2 3.8 .1 3.7 0 3.8 .1 3.7 .3 3.8 .4 3.7 .5 3.8 .5 3.7 .4 3.8 .1 3.7-.3 3.8-.7 3.8-1.3 3.7-2 3.8-2.6 3.7-3.2 3.8-3.8 3.7-4.1"/>
<path d="M205.9 78.2l3.7 .3 3.8 .4 3.7 .5 3.8 .5 3.7 .3 3.8 .1 3.8-.4 3.7-.9 3.8-1.5 3.7-2.1 3.8-2.8 3.7-3.3 3.8-3.9 3.7-4.1 3.8-4.1 3.7-3.6 3.8-2.9 3.7-1.8 3.8-.4 3.8 .7 3.7 2 3.8 2.8 3.7 3.3 3.8 3.8 3.7 3.9 3.8 4.3 3.7 4.8 3.8 5.4 3.7 6.3 3.8 7.5 3.8 8.5 3.7 9.5 3.8 9.9 3.7 10 3.8 9.4 3.7 8.3"/>
<path d="M205.9 75.4l3.7 5.6 3.8 6.6 3.7 7.7 3.8 8.8 3.7 9.6 3.8 10.1 3.8 9.9 3.7 9.1 3.8 8 3.7 6.5 3.8 5 3.7 3.6 3.8 2.4 3.7 1.4 3.8 .9 3.7 .5 3.8 .2 3.7 .1 3.8 .1 3.8 0 3.7 0 3.8 0 3.7 0 3.8 0 3.7 0 3.8 0 3.7 0 3.8 0 3.7 0 3.8 0 3.8 0 3.7 0 3.8 0 3.7 0 3.8 0 3.7 0"/>
<path d="M205.9 171.5l3.7 0 3.8 0 3.7 0 3.8 0 3.7 0 3.8 0 3.8 0 3.7 0 3.8 0 3.7 0 3.8 0 3.7 0 3.8 0 3.7 0 3.8 0 3.7-.1 3.8-.1 3.7-.1 3.8-.4 3.8-.6 3.7-1 3.8-1.6 3.7-2.4 3.8-3.3 3.7-4.4 3.8-5.6 3.7-6.7 3.8-7.7 3.7-8.4 3.8-8.7 3.8-8.6 3.7-8 3.8-7 3.7-5.8 3.8-4.7 3.7-3.5"/>
<path d="M205.9 167.1l3.7-2.6 3.8-3.6 3.7-4.7 3.8-5.9 3.7-7 3.8-7.9 3.8-8.5 3.7-8.7 3.8-8.5 3.7-7.7 3.8-6.8 3.7-5.5 3.8-4.3 3.7-3.3 3.8-2.3 3.7-1.5 3.8-.9 3.7-.4 3.8 0 3.8 .6 3.7 1 3.8 1.5 3.7 2.1 3.8 2.7 3.7 3.4 3.8 4.4 3.7 5.3 3.8 6.4 3.7 7.5 3.8 8.2 3.8 8.8 3.7 8.6 3.8 8.1 3.7 7.1 3.8 5.8 3.7 4.4"/>
<path d="M205.9 86.5l3.7 3.9 3.8 4.8 3.7 5.9 3.8 6.9 3.7 7.9 3.8 8.6 3.8 8.7 3.7 8.5 3.8 7.6 3.7 6.5 3.8 5.1 3.7 3.8 3.8 2.6 3.7 1.7 3.8 1.1 3.7 .6 3.8 .4 3.7 .1 3.8 0 3.8-.2 3.7-.5 3.8-.9 3.7-1.5 3.8-2.3 3.7-3.3 3.8-4.4 3.7-5.6 3.8-6.6 3.7-7.3 3.8-7.7 3.8-7.6 3.7-7.2 3.8-6.5 3.7-5.6 3.8-4.7 3.7-3.9"/>
<path d="M205.9 165.1l3.7-3.6 3.8-4.7 3.7-5.9 3.8-6.8 3.7-7.4 3.8-7.7 3.8-7.5 3.7-7.1 3.8-6.2 3.7-5.5 3.8-4.5 3.7-3.7 3.8-2.9 3.7-2.4 3.8-1.9 3.7-1.5 3.8-1 3.7-.6 3.8-.1 3.8 .3 3.7 .9 3.8 1.3 3.7 1.9 3.8 2.1 3.7 2.4 3.8 2.5 3.7 2.4 3.8 2.2 3.7 1.9 3.8 1.4 3.8 1 3.7 .5 3.8 .1 3.7-.3 3.8-.6 3.7-.7"/>
<path d="M205.9 91.2l3.7 2.5 3.8 2.4 3.7 2.4 3.8 2.1 3.7 1.8 3.8 1.3 3.8 .9 3.7 .4 3.8 0 3.7-.4 3.8-.7 3.7-.8 3.8-.8 3.7-.9 3.8-.8 3.7-.7 3.8-.6 3.7-.6 3.8-.5 3.8-.4 3.7-.4 3.8-.2 3.7 .2 3.8 .8 3.7 1.7 3.8 2.7 3.7 4.1 3.8 5.4 3.7 6.7 3.8 7.5 3.8 7.9 3.7 7.8 3.8 7.3 3.7 6.3 3.8 5.1 3.7 3.9"/>
<path d="M205.9 98.2l3.7 1.7 3.8 2.7 3.7 4.1 3.8 5.4 3.7 6.7 3.8 7.5 3.8 7.9 3.7 7.8 3.8 7.3 3.7 6.3 3.8 5.1 3.7 3.9 3.8 2.7 3.7 1.8 3.8 1.1 3.7 .7 3.8 .3 3.7 .2 3.8 0 3.8 .1 3.7 0 3.8 0 3.7 0 3.8 0 3.7 0 3.8 0 3.7 0 3.8 0 3.7 0 3.8 0 3.8 0 3.7 0 3.8 0 3.7 0 3.8 0 3.7 0"/>
<path d="M205.9 171.5l3.7 0 3.8 0 3.7 0 3.8 0 3.7 0 3.8 0 3.8 0 3.7 0 3.8 0 3.7 0 3.8 0 3.7 0 3.8 0 3.7 0 3.8 0 3.7 0 3.8-.1 3.7-.1 3.8-.1 3.8-.4 3.7-.6 3.8-1.1 3.7-1.8 3.8-2.6 3.7-3.7 3.8-4.9 3.7-6 3.8-7.1 3.7-7.8 3.8-7.9 3.8-7.5 3.7-6.7 3.8-5.5 3.7-4.2 3.8-3 3.7-2"/>
<path d="M205.9 165.5l3.7-3.4 3.8-4.6 3.7-5.8 3.8-6.9 3.7-7.6 3.8-7.9 3.8-7.7 3.7-6.9 3.8-5.8 3.7-4.5 3.8-3.3 3.7-2.3 3.8-1.5 3.7-1.2 3.8-.9 3.7-1 3.8-1.2 3.7-1.4 3.8-1.7 3.8-1.7 3.7-1.6 3.8-1.2 3.7-.5 3.8 .8 3.7 2.4 3.8 4.2 3.7 6.1 3.8 7.8 3.7 8.9 3.8 9.4 3.8 9.3 3.7 8.7 3.8 7.6 3.7 6.3 3.8 4.9 3.7 3.6"/>
<path d="M205.9 88.1l3.7 4.2 3.8 6.1 3.7 7.8 3.8 8.9 3.7 9.4 3.8 9.3 3.8 8.7 3.7 7.6 3.8 6.3 3.7 4.9 3.8 3.6 3.7 2.6 3.8 1.7 3.7 1 3.8 .6 3.7 .3 3.8 .1 3.7 0 3.8-.3 3.8-.5 3.7-1 3.8-1.5 3.7-2.4 3.8-3.6 3.7-4.9 3.8-6.4 3.7-7.8 3.8-8.9 3.7-9.8 3.8-10 3.8-9.8 3.7-9.1 3.8-7.8 3.7-6.3 3.8-4.7 3.7-2.9"/>
<path d="M205.9 166.8l3.7-3 3.8-4.2 3.7-5.6 3.8-7.1 3.7-8.4 3.8-9.5 3.8-9.9 3.7-10 3.8-9.5 3.7-8.4 3.8-7.2 3.7-5.5 3.8-3.7 3.7-2.1 3.8-.4 3.7 .9 3.8 1.9 3.7 2.5 3.8 2.9 3.8 2.9 3.7 2.9 3.8 2.6 3.7 2.7 3.8 2.7 3.7 3.2 3.8 3.8 3.7 4.8 3.8 5.8 3.7 6.9 3.8 7.6 3.8 7.9 3.7 7.8 3.8 7.1 3.7 6.1 3.8 5 3.7 3.8"/>
<path d="M205.9 96.6l3.7 3.7 3.8 4.5 3.7 5.5 3.8 6.7 3.7 7.4 3.8 7.9 3.8 7.9 3.7 7.3 3.8 6.4 3.7 5.2 3.8 4.1 3.7 3 3.8 2.1 3.7 1.3 3.8 .9 3.7 .4 3.8 .3 3.7 .2 3.8 0 3.8 .1 3.7 0 3.8 0 3.7 0 3.8 0 3.7 0 3.8 0 3.7 0 3.8 0 3.7 0 3.8 0 3.8 0 3.7 0 3.8 0 3.7 0 3.8 0 3.7 0"/>
<path d="M205.9 171.5l3.7 0 3.8 0 3.7 0 3.8 0 3.7 0 3.8 0 3.8 0 3.7 0 3.8 0 3.7 0 3.8 0 3.7 0 3.8 0 3.7 0 3.8 0 3.7 0 3.8-.1 3.7 0 3.8-.2 3.8-.3 3.7-.6 3.8-.9 3.7-1.5 3.8-2.2 3.7-3.2 3.8-4.3 3.7-5.6 3.8-6.8 3.7-7.8 3.8-8.5 3.8-8.8 3.7-8.7 3.8-8 3.7-7.1 3.8-6.3 3.7-5.3"/>
<path d="M205.9 163.4l3.7-4 3.8-5.3 3.7-6.5 3.8-7.5 3.7-8.4 3.8-8.8 3.8-8.8 3.7-8.2 3.8-7.3 3.7-6.5 3.8-5.5 3.7-4.7 3.8-4.1 3.7-3.5 3.8-3 3.7-2.5 3.8-1.9 3.7-1.3 3.8-.6 3.8 0 3.7 .8 3.8 1.6 3.7 2.4 3.8 3.6 3.7 5 3.8 6.6 3.7 8.3 3.8 9.7 3.7 10.7 3.8 11 3.8 10.5 3.7 9.4 3.8 7.9 3.7 6.1 3.8 4.6 3.7 3.2"/>
<path d="M205.9 70.6l3.7 4 3.8 5.3 3.7 7.1 3.8 8.6 3.7 10 3.8 10.8 3.8 11 3.7 10.3 3.8 9 3.7 7.5 3.8 5.7 3.7 4.2 3.8 2.9 3.7 1.9 3.8 1.1 3.7 .7 3.8 .4 3.7 .2 3.8 .1 3.8 .1 3.7 0 3.8 0 3.7 0 3.8 0 3.7 0 3.8 0 3.7 0 3.8 0 3.7 0 3.8 0 3.8 0 3.7 0 3.8 0 3.7 0 3.8 0 3.7 0"/>
<path d="M205.9 171.5l3.7 0 3.8 0 3.7 0 3.8 0 3.7 0 3.8 0 3.8 0 3.7 0 3.8 0 3.7 0 3.8 0 3.7 0 3.8 0 3.7 0 3.8 0 3.7 0 3.8-.1 3.7-.1 3.8-.3 3.8-.4 3.7-.9 3.8-1.5 3.7-2.3 3.8-3.6 3.7-5 3.8-6.5 3.7-7.9 3.8-9 3.7-9.4 3.8-9.2 3.8-8.5 3.7-7.4 3.8-6.1 3.7-4.9 3.8-4 3.7-3.4"/>
<path d="M205.9 167.2l3.7-3 3.8-4.2 3.7-5.7 3.8-7.3 3.7-8.5 3.8-9.3 3.8-9.4 3.7-8.9 3.8-8 3.7-6.7 3.8-5.5 3.7-4.4 3.8-3.7 3.7-3.1 3.8-2.7 3.7-2.4 3.8-2.1 3.7-1.7 3.8-1.1 3.8-.5 3.7 0 3.8 .5 3.7 .8 3.8 .9 3.7 .8 3.8 .7 3.7 .3 3.8 .1 3.7 0 3.8-.2 3.8-.2 3.7 0 3.8 .1 3.7 .2 3.8 .4 3.7 .5"/>
<path d="M205.9 71.6l3.7 .8 3.8 .5 3.7 .2 3.8 0 3.7-.1 3.8-.2 3.8-.1 3.7 0 3.8 .2 3.7 .3 3.8 .5 3.7 .4 3.8 .4 3.7 .1 3.8-.1 3.7-.4 3.8-.7 3.7-.9 3.8-1.2 3.8-1.3 3.7-1.3 3.8-1.1 3.7-1 3.8-.5 3.7-.1 3.8 .5 3.7 1.1 3.8 1.7 3.7 2.1 3.8 2.4 3.8 2.5 3.7 2.4 3.8 2.2 3.7 1.9 3.8 1.3 3.7 .8"/>
<path d="M205.9 66.5l3.7 1.1 3.8 1.7 3.7 2.1 3.8 2.4 3.7 2.5 3.8 2.4 3.8 2.2 3.7 1.9 3.8 1.3 3.7 .8 3.8 .1 3.7-.4 3.8-1.1 3.7-1.7 3.8-2.1 3.7-2.6 3.8-2.9 3.7-3 3.8-2.8 3.8-2.2 3.7-1.3 3.8 .1 3.7 2.1 3.8 4.4 3.7 6.7 3.8 9 3.7 10.6 3.8 11.5 3.7 11.6 3.8 11 3.8 9.9 3.7 8.3 3.8 6.6 3.7 5 3.8 3.7 3.7 2.4"/>
<path d="M205.9 66.4l3.7 3.7 3.8 6.2 3.7 8.4 3.8 10.3 3.7 11.4 3.8 11.7 3.8 11.2 3.7 10.1 3.8 8.7 3.7 7.1 3.8 5.4 3.7 4 3.8 2.7 3.7 1.8 3.8 1.1 3.7 .6 3.8 .3 3.7 .1 3.8-.1 3.8-.4 3.7-.6 3.8-1.2 3.7-1.7 3.8-2.7 3.7-3.8 3.8-4.9 3.7-6 3.8-6.9 3.7-7.3 3.8-7.3 3.8-6.7 3.7-5.8 3.8-4.9 3.7-3.9 3.8-3.1 3.7-2.4"/>
<path d="M205.9 165.2l3.7-3.4 3.8-4.6 3.7-5.8 3.8-6.7 3.7-7.3 3.8-7.3 3.8-6.9 3.7-6 3.8-5.2 3.7-4.1 3.8-3.3 3.7-2.6 3.8-2.1 3.7-1.9 3.8-1.7 3.7-1.6 3.8-1.6 3.7-1.4 3.8-1.2 3.8-.8 3.7-.1 3.8 .6 3.7 1.4 3.8 2.6 3.7 3.5 3.8 4.6 3.7 5.6 3.8 6.3 3.7 6.9 3.8 7.3 3.8 7.4 3.7 7.2 3.8 6.7 3.7 5.9 3.8 4.9 3.7 3.8"/>
<path d="M205.9 95.8l3.7 4.1 3.8 5.1 3.7 5.9 3.8 6.7 3.7 7.1 3.8 7.4 3.8 7.4 3.7 7 3.8 6.3 3.7 5.4 3.8 4.3 3.7 3.3 3.8 2.3 3.7 1.4 3.8 .9 3.7 .6 3.8 .2 3.7 .2 3.8 .1 3.8 0 3.7 0 3.8 0 3.7 0 3.8 0 3.7 0 3.8 0 3.7 0 3.8 0 3.7 0 3.8 0 3.8 0 3.7 0 3.8 0 3.7 0 3.8 0 3.7 0"/>
<path d="M205.9 171.5l3.7 0 3.8 0 3.7 0 3.8 0 3.7 0 3.8 0 3.8 0 3.7 0 3.8 0 3.7 0 3.8 0 3.7 0 3.8 0 3.7 0 3.8 0 3.7-.1 3.8-.1 3.7-.1 3.8-.4 3.8-.6 3.7-1.1 3.8-1.6 3.7-2.5 3.8-3.5 3.7-4.5 3.8-5.5 3.7-6.3 3.8-6.8 3.7-7 3.8-6.9 3.8-6.4 3.7-5.8 3.8-5.2 3.7-4.4 3.8-3.8 3.7-3.2"/>
</g>
<path fill="none" stroke="#20c8ff" stroke-width="0.6" stroke-opacity="0.9" d="M258.4 169.9l3.8 .7 3.7 .5 3.8 .2 3.7 .1 3.8 .1 3.8 0 3.7 0M262.2 171.5l3.7 0 3.8 0 3.7-.1 3.8-.1 3.8-.2 3.7-.4 3.8-.8M258.4 170.1l3.8 .7 3.7 .3 3.8 .1 3.7 0 3.8-.3 3.8-.5 3.7-.8M258.4 169.9l3.8 .7 3.7 .4 3.8 .2 3.7 0 3.8-.2 3.8-.5 3.7-.8M258.4 169.3l3.8 1 3.7 .6 3.8 .3 3.7 .2 3.8 0 3.8 .1 3.7 0M262.2 171.5l3.7-.1 3.8-.1 3.7-.1 3.8-.4 3.8-.6 3.7-1M262.2 171l3.7 .2 3.8 0 3.7-.2 3.8-.4 3.8-.8M258.4 169.1l3.8 1.1 3.7 .6 3.8 .3 3.7 .2 3.8 .1 3.8 .1 3.7 0M262.2 171.5l3.7 0 3.8-.1 3.7-.1 3.8-.2 3.8-.4 3.7-.7 3.8-1.1M258.4 169.9l3.8 .8 3.7 .4 3.8 .2 3.7 .1 3.8 .1 3.8 0 3.7 0M262.2 171.5l3.7 0 3.8 0 3.7-.1 3.8-.1 3.8-.3 3.7-.5 3.8-.8M258.4 169.7l3.8 .8 3.7 .5 3.8 .2 3.7 .2 3.8 0 3.8 .1 3.7 0M262.2 171.5l3.7 0 3.8-.1 3.7-.1 3.8-.3 3.8-.5 3.7-.9M265.9 170l3.8 .7 3.7 .4 3.8 .1 3.8-.1 3.7-.3 3.8-.5M262.2 169.8l3.7 .8 3.8 .4 3.7 .3 3.8 .1 3.8 .1 3.7 0M262.2 171.4l3.7 0 3.8-.2 3.7-.2 3.8-.6 3.8-.9M258.4 169.6l3.8 .9 3.7 .4 3.8 .2 3.7-.1 3.8-.3 3.8-.6M258.4 170l3.8 .7 3.7 .4 3.8 .1 3.7 0 3.8-.2 3.8-.3 3.7-.8 3.8-1.2M265.9 170l3.8 .7 3.7 .3 3.8 .1 3.8-.1 3.7-.3 3.8-.7M265.9 169.8l3.8 .8 3.7 .4 3.8 .1 3.8-.1 3.7-.4 3.8-.8M262.2 169.5l3.7 .9 3.8 .5 3.7 .2 3.8 .1 3.8-.1 3.7-.4 3.8-.7M258.4 169.1l3.8 1.1 3.7 .7 3.8 .3 3.7 .2 3.8 0 3.8 .1 3.7 0M262.2 171.5l3.7 0 3.8-.1 3.7-.1 3.8-.2 3.8-.3 3.7-.7 3.8-1.1M262.2 169.5l3.7 .9 3.8 .5 3.7 .3 3.8 0 3.8 0 3.7-.3M258.4 169.3l3.8 1 3.7 .6 3.8 .2 3.7 .1 3.8-.2 3.8-.4 3.7-.8M258.4 169.2l3.8 1 3.7 .6 3.8 .3 3.7 .1 3.8-.1 3.8-.4 3.7-.7 3.8-1.2M262.2 169.6l3.7 .8 3.8 .5 3.7 .3 3.8 0 3.8-.1 3.7-.3 3.8-.6M265.9 170.2l3.8 .6 3.7 .4 3.8 .2 3.8 0 3.7 .1M262.2 171.5l3.7-.1 3.8-.1 3.7-.2 3.8-.5 3.8-.7M258.4 170l3.8 .7 3.7 .4 3.8 .2 3.7 .1 3.8 .1 3.8 0 3.7 0M262.2 171.5l3.7-.1 3.8-.1 3.7-.2 3.8-.3 3.8-.7M258.4 170.2l3.8 .6 3.7 .4 3.8 .1 3.7 .1 3.8 .1 3.8 0 3.7 0M262.2 171.5l3.7 0 3.8 0 3.7-.1 3.8-.1 3.8-.3 3.7-.4 3.8-.8M258.4 169.4l3.8 1 3.7 .5 3.8 .2 3.7 .1 3.8-.2 3.8-.3 3.7-.8 3.8-1.2M258.4 169.6l3.8 .9 3.7 .4 3.8 .2 3.7 0 3.8-.3 3.8-.6 3.7-1M262.2 169.5l3.7 .9 3.8 .5 3.7 .2 3.8 .1 3.8-.2 3.7-.5 3.8-.8M258.4 168.9l3.8 1.2 3.7 .6 3.8 .4 3.7 .2 3.8 .1 3.8 .1 3.7 0M262.2 171.5l3.7 0 3.8-.1 3.7-.1 3.8-.1 3.8-.4 3.7-.7 3.8-1.1M258.4 169.7l3.8 .9 3.7 .5 3.8 .2 3.7 .1 3.8 .1 3.8 0 3.7 0M262.2 171.5l3.7-.1 3.8-.1 3.7-.1 3.8-.4 3.8-.6 3.7-1M258.4 169l3.8 1.1 3.7 .6 3.8 .4 3.7 .1 3.8 0 3.8-.2 3.7-.5 3.8-.9M258.4 169.1l3.8 1.1 3.7 .7 3.8 .3 3.7 .2 3.8 0 3.8 .1 3.7 0M262.2 171.5l3.7 0 3.8-.1 3.7-.1 3.8-.1 3.8-.4 3.7-.6 3.8-1.1M258.4 170.2l3.8 .6 3.7 .3 3.8 .1 3.7 0 3.8-.3 3.8-.5 3.7-1M258.4 169.6l3.8 .9 3.7 .4 3.8 .3 3.7 .2 3.8 0 3.8 .1 3.7 0M262.2 171.5l3.7 0 3.8-.1 3.7 0 3.8-.2 3.8-.3 3.7-.6 3.8-.9M258.4 168.9l3.8 1.1 3.7 .7 3.8 .4 3.7 .2 3.8 .1 3.8 .1 3.7 0M262.2 171.5l3.7 0 3.8-.1 3.7-.1 3.8-.3 3.8-.4 3.7-.9M258.4 169.1l3.8 1.1 3.7 .6 3.8 .3 3.7 .1 3.8-.1 3.8-.4 3.7-.6 3.8-1.2M258.4 169.5l3.8 .9 3.7 .6 3.8 .2 3.7 .2 3.8 .1 3.8 0 3.7 0M262.2 171.5l3.7-.1 3.8-.1 3.7-.1 3.8-.4 3.8-.6"/>
<path d="M205.9 169.7H341" stroke="#30c8f8" stroke-width="1.4" stroke-opacity="0.9"/>
<path d="M205.9 171.2H341" stroke="#40e070" stroke-width="1.6" stroke-opacity="1"/>
<path d="M205.9 172.7H341" stroke="#2a60f0" stroke-width="1.4" stroke-opacity="0.9"/>
<path d="M205.9 173.5H341" stroke="#6070ff" stroke-width="0.6" stroke-opacity="0.6"/>
<path d="M262.6 171.2H284.3" stroke="#b0e040" stroke-width="0.9" stroke-opacity="0.9"/>
</g>
<text transform="translate(197.8 171.5) rotate(-90)" font-size="4.6" text-anchor="middle" fill="#555" font-family="'Liberation Sans', Arial, sans-serif">0</text>
<text transform="translate(197.8 114.5) rotate(-90)" font-size="4.6" text-anchor="middle" fill="#555" font-family="'Liberation Sans', Arial, sans-serif">10µ</text>
<text transform="translate(197.8 57.5) rotate(-90)" font-size="4.6" text-anchor="middle" fill="#555" font-family="'Liberation Sans', Arial, sans-serif">20µ</text>
<text transform="translate(354 171.5) rotate(-90)" font-size="4.6" text-anchor="middle" fill="#555" font-family="'Liberation Sans', Arial, sans-serif">0</text>
<text transform="translate(354 114.5) rotate(-90)" font-size="4.6" text-anchor="middle" fill="#555" font-family="'Liberation Sans', Arial, sans-serif">1e-005</text>
<text transform="translate(354 57.5) rotate(-90)" font-size="4.6" text-anchor="middle" fill="#555" font-family="'Liberation Sans', Arial, sans-serif">2e-005</text>
<text x="228.4" y="33.5" font-size="4.6" text-anchor="middle" fill="#555" font-family="'Liberation Sans', Arial, sans-serif">0</text>
<text x="273.4" y="33.5" font-size="4.6" text-anchor="middle" fill="#555" font-family="'Liberation Sans', Arial, sans-serif">0.5</text>
<text x="318.5" y="33.5" font-size="4.6" text-anchor="middle" fill="#555" font-family="'Liberation Sans', Arial, sans-serif">1</text>
<text x="228.4" y="186.2" font-size="4.6" text-anchor="middle" fill="#555" font-family="'Liberation Sans', Arial, sans-serif">0</text>
<text x="273.4" y="186.2" font-size="4.6" text-anchor="middle" fill="#555" font-family="'Liberation Sans', Arial, sans-serif">0.5</text>
<text x="318.5" y="186.2" font-size="4.6" text-anchor="middle" fill="#555" font-family="'Liberation Sans', Arial, sans-serif">1</text>
<text x="274" y="190.8" font-size="4.8" font-weight="bold" textLength="32" lengthAdjust="spacingAndGlyphs" text-anchor="middle" fill="#222" font-family="'Liberation Sans', Arial, sans-serif">Time (bit period)</text>
<text transform="translate(193.2 107.7) rotate(-90)" font-size="4.8" font-weight="bold" textLength="30" lengthAdjust="spacingAndGlyphs" text-anchor="middle" fill="#222" font-family="'Liberation Sans', Arial, sans-serif">Amplitude (a.u.)</text>
<path d="M383.5 32V182.3M392.8 32V182.3M402.2 32V182.3M411.6 32V182.3M421 32V182.3M430.4 32V182.3M439.7 32V182.3M449.1 32V182.3M458.5 32V182.3M467.9 32V182.3M477.3 32V182.3M486.6 32V182.3M496 32V182.3M505.4 32V182.3M514.8 32V182.3M524.2 32V182.3M533.5 32V182.3M382.3 171.5H536M382.3 154.1H536M382.3 136.7H536M382.3 119.3H536M382.3 101.9H536M382.3 84.5H536M382.3 67.1H536M382.3 49.7H536" stroke="#efefef" stroke-width="0.6" fill="none"/>
<path d="M382.3 32H536" stroke="#aaa" stroke-width="0.6" stroke-linecap="square"/>
<path d="M382.3 182.3H536" stroke="#555" stroke-width="0.8" stroke-linecap="square"/>
<path d="M382.3 32V182.3" stroke="#888" stroke-width="1.0" stroke-linecap="square"/>
<path d="M536 32V182.3" stroke="#777" stroke-width="1.4" stroke-linecap="square"/>
<path d="M411.6 29V182.3" stroke="#666" stroke-width="0.6"/>
<path d="M379.3 171.5H539" stroke="#666" stroke-width="0.6"/>
<path d="M383.5 32v1.5M383.5 182.3v-1.5M392.8 32v1.5M392.8 182.3v-1.5M402.2 32v1.5M402.2 182.3v-1.5M411.6 32v1.5M411.6 182.3v-1.5M421 32v1.5M421 182.3v-1.5M430.4 32v1.5M430.4 182.3v-1.5M439.7 32v1.5M439.7 182.3v-1.5M449.1 32v1.5M449.1 182.3v-1.5M458.5 32v1.5M458.5 182.3v-1.5M467.9 32v1.5M467.9 182.3v-1.5M477.3 32v1.5M477.3 182.3v-1.5M486.6 32v1.5M486.6 182.3v-1.5M496 32v1.5M496 182.3v-1.5M505.4 32v1.5M505.4 182.3v-1.5M514.8 32v1.5M514.8 182.3v-1.5M524.2 32v1.5M524.2 182.3v-1.5M533.5 32v1.5M533.5 182.3v-1.5M382.3 171.5h1.5M536 171.5h-1.5M410.6 171.5h2M382.3 154.1h1.5M536 154.1h-1.5M410.6 154.1h2M382.3 136.7h1.5M536 136.7h-1.5M410.6 136.7h2M382.3 119.3h1.5M536 119.3h-1.5M410.6 119.3h2M382.3 101.9h1.5M536 101.9h-1.5M410.6 101.9h2M382.3 84.5h1.5M536 84.5h-1.5M410.6 84.5h2M382.3 67.1h1.5M536 67.1h-1.5M410.6 67.1h2M382.3 49.7h1.5M536 49.7h-1.5M410.6 49.7h2" stroke="#555" stroke-width="0.6"/>
<g clip-path="url(#c3)">
<g fill="none" stroke="#3050ff" stroke-width="0.6" stroke-opacity="0.85">
<path d="M388.2 163.2l3.9-1.8 3.9-2.5 3.9-3.4 3.9-4.6 3.9-5.4 3.9-5.6 3.9-5.3 3.9-4.5 3.9-3.8 3.9-3.4 3.9-3.1 3.9-3 4-2.7 3.9-2.2 3.9-1.6 3.9-1.1 3.9-1.2 3.9-1.6 3.9-2.5 3.9-3.5 3.9-4.4 3.9-4.5 3.9-3.8 4-1.9 3.9 .5 3.9 3.3 3.9 5.8 3.9 7.6 3.9 8.8 3.9 9.1 3.9 8.9 3.9 8.2 3.9 7.4 3.9 6.5 3.9 5.6 3.9 4.7"/>
<path d="M388.2 85.7l3.9 1.2 3.9 3.9 3.9 6.3 3.9 8 3.9 9 3.9 9.1 3.9 8.7 3.9 8 3.9 7.2 3.9 6.3 3.9 5.4 3.9 4.4 4 3.6 3.9 2.6 3.9 1.9 3.9 1.1 3.9 .7 3.9 .3 3.9 0 3.9-.4 3.9-.8 3.9-1.5 3.9-2.1 4-3 3.9-3.9 3.9-4.7 3.9-5.5 3.9-6 3.9-6.5 3.9-6.7 3.9-6.9 3.9-6.6 3.9-6.3 3.9-5.8 3.9-5 3.9-4.4"/>
<path d="M388.2 167.2l3.9-3.5 3.9-4.3 3.9-5.1 3.9-5.7 3.9-6.3 3.9-6.6 3.9-6.9 3.9-6.7 3.9-6.5 3.9-6.1 3.9-5.4 3.9-4.7 4-4.1 3.9-3.6 3.9-3.1 3.9-2.7 3.9-2.4 3.9-1.9 3.9-1.2 3.9-.4 3.9 .4 3.9 1.2 3.9 1.6 4 1.5 3.9 1.1 3.9 .4 3.9-.2 3.9-.7 3.9-.8 3.9-1 3.9-.8 3.9-1 3.9-1 3.9-1.2 3.9-1.2 3.9-1"/>
<path d="M388.2 86.1l3.9 .1 3.9-.5 3.9-.8 3.9-.9 3.9-.9 3.9-.9 3.9-1 3.9-1.1 3.9-1.2 3.9-1.2 3.9-.6 3.9 .3 4 1.6 3.9 3.1 3.9 4.3 3.9 5.3 3.9 5.5 3.9 5.2 3.9 4.6 3.9 3.5 3.9 2.1 3.9 .7 3.9-.8 4-2.2 3.9-3.1 3.9-3.5 3.9-3 3.9-1.7 3.9-.2 3.9 1.3 3.9 2.2 3.9 2.4 3.9 2.2 3.9 1.5 3.9 .9 3.9 .5"/>
<path d="M388.2 112.5l3.9-2.2 3.9-3.1 3.9-3.5 3.9-3 3.9-1.7 3.9-.2 3.9 1.3 3.9 2.2 3.9 2.4 3.9 2.2 3.9 1.5 3.9 .9 4 .5 3.9 .1 3.9 .1 3.9 .2 3.9 .3 3.9 .5 3.9 .5 3.9 .7 3.9 .5 3.9 .4 3.9 0 4-.5 3.9-1 3.9-1.1 3.9-1 3.9-.3 3.9 .7 3.9 1.7 3.9 2.4 3.9 2.5 3.9 2.2 3.9 1.4 3.9 .5 3.9-.3"/>
<path d="M388.2 115.5l3.9 2.7 3.9 3.2 3.9 3.9 3.9 4.8 3.9 5.5 3.9 5.8 3.9 5.8 3.9 5.4 3.9 4.7 3.9 3.7 3.9 2.7 3.9 1.8 4 1.2 3.9 .7 3.9 .6 3.9 .7 3.9 .7 3.9 1 3.9 1.1 3.9 1.1 3.9 1.2 3.9 .9 3.9 .6 4 .2 3.9-.2 3.9-.5 3.9-.8 3.9-1.1 3.9-1.1 3.9-1 3.9-1 3.9-.7 3.9-.3 3.9 .1 3.9 .4 3.9 .8"/>
<path d="M388.2 175l3.9 .4 3.9 0 3.9-.3 3.9-.7 3.9-.9 3.9-1.1 3.9-1.1 3.9-1 3.9-.9 3.9-.5 3.9-.1 3.9 .3 4 .6 3.9 .8 3.9 1 3.9 .8 3.9 .6 3.9 .3 3.9-.2 3.9-.8 3.9-1.2 3.9-1.8 3.9-2.4 4-3 3.9-3.6 3.9-4.4 3.9-4.9 3.9-5.4 3.9-5.3 3.9-4.8 3.9-4.1 3.9-3.2 3.9-2.7 3.9-2.4 3.9-2.7 3.9-3.1"/>
<path d="M388.2 98.2l3.9 3.8 3.9 4.3 3.9 4.8 3.9 5.3 3.9 5.8 3.9 6.3 3.9 6.8 3.9 6.8 3.9 6.7 3.9 6.3 3.9 5.5 3.9 4.8 4 3.7 3.9 2.8 3.9 1.8 3.9 .8 3.9 .1 3.9-.6 3.9-1 3.9-1.2 3.9-1.5 3.9-1.8 3.9-2.1 4-2.6 3.9-3.2 3.9-4.2 3.9-5.3 3.9-6.4 3.9-7.3 3.9-7.8 3.9-7.6 3.9-6.9 3.9-5.9 3.9-5.1 3.9-4.4 3.9-4"/>
<path d="M388.2 165.2l3.9-2.9 3.9-3.7 3.9-4.7 3.9-5.9 3.9-6.9 3.9-7.6 3.9-7.7 3.9-7.3 3.9-6.5 3.9-5.4 3.9-4.7 3.9-4.2 4-3.8 3.9-3.6 3.9-3.1 3.9-2.6 3.9-2.1 3.9-1.7 3.9-1.6 3.9-1.4 3.9-1.4 3.9-1 3.9-.1 4 1.2 3.9 2.8 3.9 4.5 3.9 5.9 3.9 6.8 3.9 7.5 3.9 7.8 3.9 7.9 3.9 7.9 3.9 7.5 3.9 6.9 3.9 6 3.9 5"/>
<path d="M388.2 77.7l3.9 3.7 3.9 5.2 3.9 6.4 3.9 7.2 3.9 7.7 3.9 7.9 3.9 7.9 3.9 7.7 3.9 7.2 3.9 6.5 3.9 5.5 3.9 4.6 4 3.5 3.9 2.8 3.9 2.3 3.9 1.8 3.9 1.7 3.9 1.5 3.9 1.3 3.9 1.1 3.9 .9 3.9 .6 3.9 .3 4 .2 3.9 0 3.9 0 3.9 0 3.9 0 3.9 .1 3.9 .2 3.9 .4 3.9 .3 3.9 .3 3.9 .3 3.9 .1 3.9 0"/>
<path d="M388.2 173.2l3.9 0 3.9 0 3.9 0 3.9 0 3.9 .2 3.9 .3 3.9 .3 3.9 .4 3.9 .3 3.9 .2 3.9 0 3.9-.1 4-.2 3.9-.2 3.9-.2 3.9-.1 3.9-.1 3.9-.1 3.9-.2 3.9-.4 3.9-.7 3.9-1.1 3.9-1.6 4-2.1 3.9-2.5 3.9-2.9 3.9-3.1 3.9-3.3 3.9-3.6 3.9-4.1 3.9-4.5 3.9-5.1 3.9-5.7 3.9-6 3.9-6.3 3.9-6.4"/>
<path d="M388.2 165.3l3.9-2.9 3.9-3.1 3.9-3.3 3.9-3.6 3.9-4.1 3.9-4.5 3.9-5.1 3.9-5.7 3.9-6 3.9-6.3 3.9-6.4 3.9-6.4 4-6.3 3.9-6 3.9-5.6 3.9-4.9 3.9-3.8 3.9-2.5 3.9-1.1 3.9 .4 3.9 1.7 3.9 2.7 3.9 3.5 4 3.7 3.9 3.5 3.9 3.1 3.9 2.4 3.9 1.6 3.9 .8 3.9 0 3.9-.8 3.9-1.4 3.9-2.2 3.9-2.8 3.9-3.4 3.9-3.8"/>
<path d="M388.2 94.1l3.9 2.9 3.9 2.2 3.9 1.4 3.9 .6 3.9-.2 3.9-1 3.9-1.6 3.9-2.3 3.9-3 3.9-3.5 3.9-3.9 3.9-4.1 4-4.1 3.9-3.8 3.9-3.2 3.9-2.5 3.9-1.4 3.9-.2 3.9 1 3.9 2.3 3.9 3.3 3.9 3.8 3.9 3.6 4 3 3.9 1.5 3.9-.1 3.9-2 3.9-3.5 3.9-4.5 3.9-4.5 3.9-3.3 3.9-1.2 3.9 1.2 3.9 3.4 3.9 5 3.9 5.6"/>
<path d="M388.2 75.8l3.9 3.8 3.9 3.1 3.9 2 3.9 .3 3.9-1.5 3.9-3.2 3.9-4.4 3.9-4.5 3.9-3.7 3.9-1.9 3.9 .6 3.9 3 4 4.7 3.9 5.5 3.9 5.5 3.9 4.6 3.9 3.2 3.9 1.5 3.9-.4 3.9-2 3.9-3.4 3.9-4 3.9-4 4-3.3 3.9-2.2 3.9-1.2 3.9-.7 3.9-.9 3.9-1.4 3.9-2.1 3.9-2.6 3.9-3 3.9-2.9 3.9-2.4 3.9-1.7 3.9-1.2"/>
<path d="M388.2 75.1l3.9-1.2 3.9-.7 3.9-.9 3.9-1.4 3.9-2.1 3.9-2.6 3.9-3 3.9-2.9 3.9-2.4 3.9-1.7 3.9-1.2 3.9-.5 4 .1 3.9 .8 3.9 1.7 3.9 2.7 3.9 3.6 3.9 4.1 3.9 4.3 3.9 3.7 3.9 2.7 3.9 1.4 3.9 .1 4-.9 3.9-1.4 3.9-1.2 3.9-.2 3.9 1.4 3.9 3.1 3.9 4.3 3.9 5 3.9 4.8 3.9 4.1 3.9 2.6 3.9 1.1 3.9-.5"/>
<path d="M388.2 78.8l3.9-1.4 3.9-1.2 3.9-.2 3.9 1.4 3.9 3.1 3.9 4.3 3.9 5 3.9 4.8 3.9 4.1 3.9 2.6 3.9 1.1 3.9-.5 4-1.9 3.9-2.7 3.9-2.9 3.9-2.5 3.9-1.6 3.9-.7 3.9-.1 3.9 0 3.9-.6 3.9-1.2 3.9-1.9 4-2.3 3.9-1.9 3.9-1.2 3.9-.1 3.9 1.1 3.9 1.8 3.9 2.2 3.9 2.2 3.9 2.2 3.9 1.8 3.9 1.5 3.9 1.2 3.9 .7"/>
<path d="M388.2 83l3.9-1.8 3.9-.9 3.9 .2 3.9 1.3 3.9 1.9 3.9 2.2 3.9 2.3 3.9 2.1 3.9 1.7 3.9 1.5 3.9 1 3.9 .6 4 .1 3.9-.2 3.9-.2 3.9-.1 3.9 .5 3.9 1.1 3.9 1.6 3.9 2 3.9 2 3.9 1.5 3.9 1.1 4 .8 3.9 1.2 3.9 2.2 3.9 3.9 3.9 5.6 3.9 7.1 3.9 7.7 3.9 7.4 3.9 6.6 3.9 5.6 3.9 4.3 3.9 3.4 3.9 2.5"/>
<path d="M388.2 105.1l3.9 1 3.9 1.9 3.9 3.4 3.9 5.3 3.9 6.7 3.9 7.6 3.9 7.6 3.9 6.9 3.9 5.8 3.9 4.6 3.9 3.6 3.9 2.7 4 2 3.9 1.3 3.9 .9 3.9 .5 3.9 .2 3.9 .1 3.9 0 3.9 .1 3.9 .1 3.9 .3 3.9 .4 4 .6 3.9 .7 3.9 .7 3.9 .6 3.9 .4 3.9 .3 3.9 .1 3.9-.2 3.9-.3 3.9-.2 3.9-.2 3.9-.1 3.9 .1"/>
<path d="M388.2 169l3.9 .7 3.9 .7 3.9 .5 3.9 .4 3.9 .2 3.9-.1 3.9-.2 3.9-.3 3.9-.2 3.9-.2 3.9 0 3.9 .2 4 .1 3.9 0 3.9-.2 3.9-.3 3.9-.6 3.9-.8 3.9-.9 3.9-1.2 3.9-1.3 3.9-1.7 3.9-2.2 4-3 3.9-3.9 3.9-4.8 3.9-5.6 3.9-6.3 3.9-6.7 3.9-6.8 3.9-6.9 3.9-7.1 3.9-7.5 3.9-8.1 3.9-8.5 3.9-8.6"/>
<path d="M388.2 161.6l3.9-3 3.9-3.9 3.9-4.8 3.9-5.6 3.9-6.3 3.9-6.7 3.9-6.8 3.9-6.9 3.9-7.1 3.9-7.5 3.9-8.1 3.9-8.5 4-8.6 3.9-7.8 3.9-5.7 3.9-2.6 3.9 .8 3.9 3.8 3.9 5.4 3.9 5.8 3.9 5 3.9 3.6 3.9 2.3 4 1.4 3.9 1.1 3.9 1.8 3.9 3.1 3.9 4.9 3.9 6.7 3.9 8.3 3.9 9.4 3.9 9.6 3.9 9.1 3.9 7.8 3.9 6.3 3.9 4.6"/>
<path d="M388.2 89.8l3.9 1.1 3.9 1.8 3.9 3.1 3.9 4.9 3.9 6.7 3.9 8.3 3.9 9.4 3.9 9.6 3.9 9.1 3.9 7.8 3.9 6.3 3.9 4.6 4 3.1 3.9 1.7 3.9 .9 3.9 .3 3.9 0 3.9 0 3.9-.2 3.9-.2 3.9-.5 3.9-.8 3.9-1.2 4-1.7 3.9-2.3 3.9-2.9 3.9-3.6 3.9-4.4 3.9-5 3.9-5.6 3.9-6 3.9-6.2 3.9-6 3.9-5.5 3.9-4.8 3.9-3.6"/>
<path d="M388.2 164.4l3.9-2.1 3.9-2.8 3.9-3.4 3.9-4.2 3.9-4.9 3.9-5.5 3.9-5.9 3.9-6.2 3.9-6 3.9-5.7 3.9-5 3.9-3.9 4-2.7 3.9-1.4 3.9-.4 3.9 .5 3.9 .8 3.9 .7 3.9 .3 3.9-.3 3.9-.8 3.9-.8 3.9-.1 4 1.4 3.9 3.4 3.9 5.2 3.9 6.5 3.9 7 3.9 6.9 3.9 6.4 3.9 5.7 3.9 5 3.9 4.2 3.9 3.5 3.9 2.6 3.9 2"/>
<path d="M388.2 110.5l3.9 5.6 3.9 6.7 3.9 7 3.9 6.8 3.9 6.3 3.9 5.5 3.9 4.8 3.9 4 3.9 3.3 3.9 2.5 3.9 1.8 3.9 1.3 4 1 3.9 1 3.9 .9 3.9 1 3.9 .9 3.9 .6 3.9 .3 3.9-.1 3.9-.8 3.9-1.5 3.9-2.4 4-3.4 3.9-4.4 3.9-5.5 3.9-6.3 3.9-6.8 3.9-6.7 3.9-6.1 3.9-5.2 3.9-4.2 3.9-3.2 3.9-2.8 3.9-2.8 3.9-3.2"/>
<path d="M388.2 169.9l3.9-2.2 3.9-3.1 3.9-4.2 3.9-5.3 3.9-6.1 3.9-6.7 3.9-6.7 3.9-6.4 3.9-5.4 3.9-4.4 3.9-3.5 3.9-2.8 4-2.7 3.9-3.2 3.9-3.8 3.9-4.7 3.9-5.3 3.9-5.1 3.9-3.9 3.9-2.2 3.9 0 3.9 1.6 3.9 2.5 4 3 3.9 2.9 3.9 3.2 3.9 3.8 3.9 4.8 3.9 5.9 3.9 7 3.9 7.6 3.9 7.7 3.9 7.2 3.9 6.5 3.9 5.6 3.9 4.7"/>
<path d="M388.2 91.5l3.9 3.1 3.9 3.6 3.9 4.5 3.9 5.6 3.9 6.8 3.9 7.5 3.9 7.7 3.9 7.3 3.9 6.7 3.9 5.9 3.9 4.9 3.9 3.9 4 3.1 3.9 2.1 3.9 1.4 3.9 .7 3.9 .2 3.9-.1 3.9-.3 3.9-.6 3.9-.7 3.9-1.1 3.9-1.7 4-2.5 3.9-3.7 3.9-5.1 3.9-6.7 3.9-8.2 3.9-9.5 3.9-9.9 3.9-9.6 3.9-8.4 3.9-6.8 3.9-4.8 3.9-3.1 3.9-1.9"/>
<path d="M388.2 161.4l3.9-2.7 3.9-4 3.9-5.5 3.9-7.1 3.9-8.6 3.9-9.6 3.9-9.9 3.9-9.4 3.9-8.1 3.9-6.3 3.9-4.3 3.9-2.8 4-1.6 3.9-.7 3.9-.1 3.9 .3 3.9 .9 3.9 1.5 3.9 2.2 3.9 2.7 3.9 3 3.9 2.9 3.9 2.4 4 1.6 3.9 .7 3.9 0 3.9-.1 3.9 .4 3.9 1.8 3.9 3.9 3.9 6.3 3.9 8.3 3.9 9.5 3.9 9.6 3.9 8.9 3.9 7.6"/>
<path d="M388.2 98.6l3.9 .4 3.9-.2 3.9 .1 3.9 1 3.9 2.8 3.9 5.1 3.9 7.4 3.9 9 3.9 9.6 3.9 9.4 3.9 8.3 3.9 6.8 4 5.3 3.9 3.9 3.9 2.7 3.9 1.7 3.9 1 3.9 .4 3.9 0 3.9-.5 3.9-.9 3.9-1.5 3.9-2.1 4-3.1 3.9-4 3.9-4.9 3.9-5.8 3.9-6 3.9-5.9 3.9-5.3 3.9-4.8 3.9-4.6 3.9-4.7 3.9-5.3 3.9-6.3 3.9-7.5"/>
<path d="M388.2 162.3l3.9-4.7 3.9-5.6 3.9-6 3.9-6 3.9-5.5 3.9-4.9 3.9-4.6 3.9-4.6 3.9-5.1 3.9-6.1 3.9-7.1 3.9-8.3 4-9.2 3.9-9.6 3.9-8.9 3.9-7 3.9-3.9 3.9 .1 3.9 3.6 3.9 6.1 3.9 7 3.9 6.5 3.9 5.4 4 3.9 3.9 2.4 3.9 1 3.9-.2 3.9-1.6 3.9-2.8 3.9-4.2 3.9-5.2 3.9-5.9 3.9-5.6 3.9-4.4 3.9-2.6 3.9-.5"/>
<path d="M388.2 89.7l3.9 1.4 3.9 0 3.9-1.2 3.9-2.5 3.9-3.8 3.9-5 3.9-5.8 3.9-5.8 3.9-4.8 3.9-3 3.9-1.1 3.9 .8 4 2 3.9 2.6 3.9 2.5 3.9 2.2 3.9 1.9 3.9 1.4 3.9 1 3.9 .4 3.9-.5 3.9-1.1 3.9-1.6 4-1.6 3.9-1 3.9-.3 3.9 .6 3.9 .9 3.9 .7 3.9 .2 3.9-.2 3.9-.4 3.9 .1 3.9 1.3 3.9 2.9 3.9 4.6"/>
<path d="M388.2 70.5l3.9-1.7 3.9-1.3 3.9-.7 3.9 .2 3.9 .8 3.9 .9 3.9 .5 3.9 0 3.9-.4 3.9-.3 3.9 .6 3.9 2.1 4 3.8 3.9 5.3 3.9 6.2 3.9 6.2 3.9 5.6 3.9 4.4 3.9 3.1 3.9 1.9 3.9 .7 3.9-.3 3.9-1.1 4-1.6 3.9-1.7 3.9-1.4 3.9-.2 3.9 1.4 3.9 3.4 3.9 5.4 3.9 7.2 3.9 8.2 3.9 8.6 3.9 8.3 3.9 7.2 3.9 5.9"/>
<path d="M388.2 102.3l3.9-.2 3.9 1.4 3.9 3.4 3.9 5.4 3.9 7.2 3.9 8.2 3.9 8.6 3.9 8.3 3.9 7.2 3.9 5.9 3.9 4.5 3.9 3.1 4 1.9 3.9 1.1 3.9 .4 3.9 .1 3.9-.1 3.9-.3 3.9-.4 3.9-.8 3.9-1.4 3.9-2.2 3.9-3.2 4-4.1 3.9-5 3.9-5.6 3.9-5.8 3.9-5.7 3.9-5.5 3.9-5.2 3.9-5 3.9-4.7 3.9-4.3 3.9-3.8 3.9-2.7 3.9-1.6"/>
<path d="M388.2 87.2l3.9 1.4 3.9 2.2 3.9 2.6 3.9 2.5 3.9 2.3 3.9 1.8 3.9 1.5 3.9 1.2 3.9 1.1 3.9 .9 3.9 .7 3.9 .3 4-.1 3.9-.8 3.9-1.2 3.9-1.6 3.9-1.7 3.9-1.6 3.9-1.3 3.9-1.1 3.9-1.1 3.9-1.1 3.9-1.1 4-1.1 3.9-1.1 3.9-1 3.9-.9 3.9-.8 3.9-.9 3.9-1 3.9-.9 3.9-.8 3.9-.3 3.9 .2 3.9 1.1 3.9 1.8"/>
<path d="M388.2 90.8l3.9-1 3.9-.9 3.9-.8 3.9-.9 3.9-1 3.9-.9 3.9-.8 3.9-.3 3.9 .2 3.9 1.1 3.9 1.8 3.9 2.5 4 2.7 3.9 2.4 3.9 1.7 3.9 .6 3.9-.7 3.9-1.9 3.9-2.7 3.9-3.1 3.9-2.9 3.9-2.3 3.9-1.2 4-.2 3.9 1 3.9 1.8 3.9 2.1 3.9 1.9 3.9 1.1 3.9 0 3.9-1.2 3.9-2.1 3.9-2.2 3.9-1.5 3.9-.2 3.9 1.5"/>
<path d="M388.2 83.6l3.9-1.2 3.9-.2 3.9 1 3.9 1.8 3.9 2.1 3.9 1.9 3.9 1.1 3.9 0 3.9-1.2 3.9-2.1 3.9-2.2 3.9-1.5 4-.2 3.9 1.5 3.9 3 3.9 3.9 3.9 4 3.9 3.6 3.9 2.8 3.9 1.8 3.9 1 3.9 .5 3.9 .5 4 1 3.9 1.7 3.9 2.8 3.9 4 3.9 4.8 3.9 5.6 3.9 6.1 3.9 6.2 3.9 6.3 3.9 6.1 3.9 5.6 3.9 4.9 3.9 4"/>
<path d="M388.2 110.2l3.9 3.7 3.9 4.6 3.9 5.5 3.9 5.9 3.9 6.2 3.9 6.3 3.9 6.2 3.9 5.7 3.9 5.2 3.9 4.2 3.9 3.3 3.9 2.2 4 1.4 3.9 .6 3.9 .3 3.9-.1 3.9-.1 3.9-.1 3.9 .1 3.9 .2 3.9 .3 3.9 .2 3.9 .2 4-.1 3.9-.2 3.9-.6 3.9-.6 3.9-.8 3.9-.6 3.9-.5 3.9-.2 3.9 .3 3.9 .5 3.9 .9 3.9 1 3.9 1"/>
<path d="M388.2 169.8l3.9-.4 3.9-.1 3.9-.1 3.9-.1 3.9-.1 3.9-.1 3.9-.2 3.9-.3 3.9-.2 3.9-.2 3.9 .1 3.9 .4 4 .6 3.9 .8 3.9 .9 3.9 .8 3.9 .7 3.9 .4 3.9 .2 3.9 .1 3.9-.2 3.9-.2 3.9-.3 4-.4 3.9-.3 3.9-.5 3.9-.5 3.9-.6 3.9-.7 3.9-.8 3.9-.9 3.9-.6 3.9-.4 3.9-.1 3.9 .3 3.9 .6"/>
<path d="M388.2 171.8l3.9-.3 3.9-.5 3.9-.5 3.9-.7 3.9-.7 3.9-.9 3.9-.7 3.9-.7 3.9-.3 3.9 0 3.9 .4 3.9 .7 4 .8 3.9 .9 3.9 .9 3.9 .7 3.9 .5 3.9 .4 3.9 .3 3.9 .1 3.9-.2 3.9-.5 3.9-.9 4-1.6 3.9-2.4 3.9-3.1 3.9-3.8 3.9-4.4 3.9-4.6 3.9-4.5 3.9-4.3 3.9-3.6 3.9-2.9 3.9-2.3 3.9-1.8 3.9-1.9"/>
<path d="M388.2 167.9l3.9-2.8 3.9-3.5 3.9-4.1 3.9-4.5 3.9-4.6 3.9-4.4 3.9-4 3.9-3.2 3.9-2.6 3.9-2 3.9-1.9 3.9-2 4-2.5 3.9-3.3 3.9-3.7 3.9-4.2 3.9-4 3.9-3.5 3.9-2.6 3.9-1.8 3.9-1.1 3.9-.7 3.9-.7 4-1.2 3.9-2.1 3.9-3.1 3.9-4.1 3.9-4.8 3.9-4.9 3.9-4.4 3.9-3.1 3.9-1.6 3.9 0 3.9 1.5 3.9 2.3 3.9 2.9"/>
<path d="M388.2 99.9l3.9-1.4 3.9-2.3 3.9-3.3 3.9-4.3 3.9-4.9 3.9-4.9 3.9-4.1 3.9-2.8 3.9-1.2 3.9 .5 3.9 1.7 3.9 2.5 4 3 3.9 3.2 3.9 3.2 3.9 3 3.9 2.7 3.9 1.9 3.9 .6 3.9-.9 3.9-2.8 3.9-4.5 3.9-5.9 4-6.8 3.9-6.6 3.9-5.4 3.9-3.3 3.9-.7 3.9 2 3.9 4.2 3.9 5.5 3.9 5.8 3.9 5.1 3.9 3.7 3.9 2.2 3.9 .5"/>
<path d="M388.2 80.6l3.9 5.8 3.9 7 3.9 8 3.9 8.6 3.9 9 3.9 9.2 3.9 8.9 3.9 8.3 3.9 7.2 3.9 6 3.9 4.7 3.9 3.5 4 2.6 3.9 1.9 3.9 1.3 3.9 .8 3.9 .5 3.9 .2 3.9-.2 3.9-.5 3.9-.9 3.9-1.6 3.9-2.4 4-3.5 3.9-5.1 3.9-6.9 3.9-8.7 3.9-10 3.9-10.1 3.9-9.2 3.9-7.2 3.9-5.2 3.9-3.5 3.9-2.6 3.9-2.2 3.9-2.2"/>
<path d="M388.2 159.9l3.9-6.9 3.9-8.7 3.9-10 3.9-10.1 3.9-9.2 3.9-7.2 3.9-5.2 3.9-3.5 3.9-2.6 3.9-2.2 3.9-2.2 3.9-2.5 4-2.8 3.9-3 3.9-2.9 3.9-2.6 3.9-2.2 3.9-1.7 3.9-1 3.9-.6 3.9 .1 3.9 .6 3.9 1.2 4 1.6 3.9 2.3 3.9 2.7 3.9 3.2 3.9 3.5 3.9 3.3 3.9 2.8 3.9 2 3.9 1.1 3.9 0 3.9-.8 3.9-1.3 3.9-1.5"/>
<path d="M388.2 95.5l3.9 2.2 3.9 2.6 3.9 2.7 3.9 2.6 3.9 2.2 3.9 1.4 3.9 .5 3.9-.7 3.9-1.8 3.9-2.9 3.9-3.7 3.9-4.1 4-4 3.9-3.8 3.9-3.3 3.9-2.7 3.9-2.1 3.9-1.3 3.9-.5 3.9 .4 3.9 1.4 3.9 2.1 3.9 2.7 4 3.4 3.9 3.7 3.9 4.2 3.9 4.2 3.9 4.1 3.9 3.5 3.9 2.9 3.9 1.8 3.9 .8 3.9-.1 3.9-1 3.9-1.6 3.9-2"/>
<path d="M388.2 92.5l3.9 4.2 3.9 4.2 3.9 4.1 3.9 3.5 3.9 2.9 3.9 1.8 3.9 .8 3.9-.1 3.9-1 3.9-1.6 3.9-2 3.9-2.2 4-2.2 3.9-2.1 3.9-2 3.9-1.9 3.9-1.9 3.9-1.9 3.9-1.6 3.9-.9 3.9 .3 3.9 1.6 3.9 3.2 4 4.6 3.9 5.4 3.9 6.1 3.9 6.3 3.9 6.3 3.9 6.1 3.9 6 3.9 5.7 3.9 5.4 3.9 5.1 3.9 4.6 3.9 4.1 3.9 3.3"/>
<path d="M388.2 97.7l3.9 4.6 3.9 5.4 3.9 6.1 3.9 6.3 3.9 6.3 3.9 6.1 3.9 6 3.9 5.7 3.9 5.4 3.9 5.1 3.9 4.6 3.9 4.1 4 3.3 3.9 2.6 3.9 1.7 3.9 1 3.9 .4 3.9 0 3.9-.2 3.9-.4 3.9-.4 3.9-.5 3.9-.5 4-.5 3.9-.5 3.9-.5 3.9-.4 3.9-.2 3.9 0 3.9 .2 3.9 .3 3.9 .5 3.9 .7 3.9 .8 3.9 .9 3.9 1"/>
<path d="M388.2 169.7l3.9-.5 3.9-.4 3.9-.3 3.9-.2 3.9 0 3.9 .2 3.9 .4 3.9 .6 3.9 .7 3.9 .8 3.9 .9 3.9 1 4 1 3.9 .8 3.9 .7 3.9 .4 3.9 .1 3.9-.2 3.9-.6 3.9-.8 3.9-1.2 3.9-1.6 3.9-2.3 4-3.3 3.9-4.5 3.9-6.1 3.9-7.6 3.9-9 3.9-9.9 3.9-10.5 3.9-10.9 3.9-11.1 3.9-11 3.9-10.5 3.9-9.2 3.9-6.9"/>
<path d="M388.2 157l3.9-7.2 3.9-8.7 3.9-9.8 3.9-10.4 3.9-10.8 3.9-11 3.9-11.1 3.9-10.7 3.9-9.6 3.9-7.5 3.9-4.8 3.9-1.8 4 1 3.9 2.8 3.9 3.7 3.9 3.8 3.9 3.1 3.9 2 3.9 .9 3.9-.1 3.9-.7 3.9-.5 3.9 .3 4 1.8 3.9 3.8 3.9 6 3.9 8.1 3.9 9.9 3.9 11 3.9 11.2 3.9 10.7 3.9 9.4 3.9 7.7 3.9 6 3.9 4.5 3.9 3.1"/>
<path d="M388.2 70.2l3.9 2.2 3.9 4.4 3.9 6.5 3.9 8.7 3.9 10.2 3.9 11.1 3.9 11.2 3.9 10.4 3.9 9 3.9 7.3 3.9 5.6 3.9 4.1 4 2.9 3.9 2 3.9 1.6 3.9 1.2 3.9 1 3.9 .8 3.9 .7 3.9 .4 3.9 .2 3.9 0 3.9-.2 4-.2 3.9-.1 3.9 0 3.9 .2 3.9 .3 3.9 .5 3.9 .5 3.9 .5 3.9 .5 3.9 .4 3.9 .3 3.9 .1 3.9 0"/>
<path d="M388.2 171.6l3.9-.1 3.9-.2 3.9-.1 3.9 0 3.9 .3 3.9 .3 3.9 .5 3.9 .5 3.9 .5 3.9 .5 3.9 .4 3.9 .2 4 .2 3.9-.1 3.9-.2 3.9-.4 3.9-.4 3.9-.5 3.9-.5 3.9-.3 3.9-.2 3.9-.1 3.9-.2 4-.1 3.9-.3 3.9-.4 3.9-.6 3.9-.7 3.9-.7 3.9-.6 3.9-.5 3.9-.3 3.9-.1 3.9 0 3.9 .3 3.9 .4"/>
<path d="M388.2 170.4l3.9-.6 3.9-.7 3.9-.6 3.9-.6 3.9-.3 3.9-.2 3.9 0 3.9 .2 3.9 .4 3.9 .5 3.9 .6 3.9 .8 4 .8 3.9 .7 3.9 .6 3.9 .4 3.9 .1 3.9-.3 3.9-.7 3.9-1.3 3.9-2.1 3.9-3.1 3.9-4.3 4-5.7 3.9-6.9 3.9-7.7 3.9-7.9 3.9-7.4 3.9-6.1 3.9-4.7 3.9-3.1 3.9-1.8 3.9-1 3.9-.8 3.9-.7 3.9-1"/>
<path d="M388.2 107.4l3.9 3.5 3.9 4 3.9 4.6 3.9 5.2 3.9 5.6 3.9 6.1 3.9 6.3 3.9 5.9 3.9 5.3 3.9 4.5 3.9 3.4 3.9 2.6 4 1.9 3.9 1.2 3.9 .7 3.9 .5 3.9 .2 3.9 .1 3.9 0 3.9-.4 3.9-.8 3.9-1.5 3.9-2.2 4-2.9 3.9-3.6 3.9-4.1 3.9-4.4 3.9-4.7 3.9-5.3 3.9-5.9 3.9-6.6 3.9-7.3 3.9-7.6 3.9-7.3 3.9-6.5 3.9-5.3"/>
<path d="M388.2 164.7l3.9-2.7 3.9-3.5 3.9-3.9 3.9-4.3 3.9-4.7 3.9-5.1 3.9-5.7 3.9-6.5 3.9-7.1 3.9-7.6 3.9-7.5 3.9-6.7 4-5.6 3.9-4.4 3.9-3.5 3.9-2.6 3.9-1.9 3.9-.9 3.9 .1 3.9 1.3 3.9 2.4 3.9 3.3 3.9 3.9 4 4.5 3.9 5.1 3.9 5.5 3.9 5.9 3.9 5.9 3.9 5.9 3.9 5.9 3.9 6 3.9 6.3 3.9 6.4 3.9 6.2 3.9 5.5 3.9 4.3"/>
<path d="M388.2 96l3.9 5.1 3.9 5.5 3.9 5.9 3.9 5.9 3.9 5.9 3.9 5.9 3.9 6 3.9 6.3 3.9 6.4 3.9 6.2 3.9 5.5 3.9 4.3 4 2.8 3.9 1.6 3.9 .6 3.9 0 3.9-.3 3.9-.4 3.9-.6 3.9-.6 3.9-1 3.9-1.4 3.9-2.1 4-2.9 3.9-4.1 3.9-5.2 3.9-6.6 3.9-7.7 3.9-8.5 3.9-8.6 3.9-7.8 3.9-6.2 3.9-4.4 3.9-2.6 3.9-1.7 3.9-1.5"/>
<path d="M388.2 161.1l3.9-3.4 3.9-4.3 3.9-5.3 3.9-6.6 3.9-7.8 3.9-8.9 3.9-9.5 3.9-9.1 3.9-7.6 3.9-5.2 3.9-2.3 3.9 0 4 1.4 3.9 1.7 3.9 1.3 3.9 .6 3.9-.2 3.9-.8 3.9-1.1 3.9-1.1 3.9-1.1 3.9-.9 3.9-.7 4-.5 3.9-.5 3.9-.3 3.9-.2 3.9 .2 3.9 1 3.9 1.8 3.9 2.6 3.9 3.1 3.9 3.1 3.9 2.5 3.9 1.6 3.9 .4"/>
<path d="M388.2 89.6l3.9-.5 3.9-.3 3.9-.1 3.9 .4 3.9 1.2 3.9 2 3.9 2.8 3.9 3.1 3.9 3 3.9 2.3 3.9 1.3 3.9 .1 4-1.2 3.9-2.2 3.9-3.1 3.9-3.5 3.9-3.3 3.9-2.5 3.9-1.2 3.9 .2 3.9 1.7 3.9 2.3 3.9 2.2 4 1.2 3.9-.5 3.9-2.6 3.9-4.6 3.9-5.8 3.9-5.8 3.9-4.4 3.9-1.3 3.9 2.2 3.9 5.3 3.9 7.2 3.9 7.6 3.9 7"/>
<path d="M388.2 95.6l3.9-1.1 3.9-3.1 3.9-4.9 3.9-6 3.9-5.6 3.9-3.7 3.9-.5 3.9 3.1 3.9 5.9 3.9 7.4 3.9 7.6 3.9 6.7 4 5.5 3.9 4.1 3.9 3 3.9 1.9 3.9 1.4 3.9 .8 3.9 .5 3.9 .3 3.9 .1 3.9-.3 3.9-.9 4-1.6 3.9-2.6 3.9-3.4 3.9-3.8 3.9-3.7 3.9-2.9 3.9-1.3 3.9 .3 3.9 1.5 3.9 2.2 3.9 1.9 3.9 1.3 3.9 .5"/>
<path d="M388.2 97.2l3.9 .7 3.9 .8 3.9 1.3 3.9 2.3 3.9 3.9 3.9 6 3.9 7.9 3.9 9.1 3.9 9.3 3.9 8.5 3.9 7.1 3.9 5.4 4 4.1 3.9 2.8 3.9 2 3.9 1.2 3.9 .6 3.9 0 3.9-.4 3.9-.9 3.9-1.2 3.9-1.7 3.9-2.2 4-2.9 3.9-3.5 3.9-4.2 3.9-4.8 3.9-5.3 3.9-5.7 3.9-5.8 3.9-5.9 3.9-6.1 3.9-6.3 3.9-6.4 3.9-6.4 3.9-5.9"/>
<path d="M388.2 153.2l3.9-4.8 3.9-5.3 3.9-5.7 3.9-5.8 3.9-5.9 3.9-6.1 3.9-6.3 3.9-6.4 3.9-6.4 3.9-5.9 3.9-5.1 3.9-3.9 4-2.7 3.9-1.5 3.9-.1 3.9 1.1 3.9 2.3 3.9 3.6 3.9 4.5 3.9 4.9 3.9 5 3.9 4.4 3.9 3.8 4 3.3 3.9 3.2 3.9 3.4 3.9 4.2 3.9 5 3.9 6 3.9 6.7 3.9 6.7 3.9 6.2 3.9 5.4 3.9 4.1 3.9 3 3.9 1.9"/>
<path d="M388.2 110.9l3.9 3.3 3.9 3.2 3.9 3.4 3.9 4.2 3.9 5 3.9 6 3.9 6.7 3.9 6.7 3.9 6.2 3.9 5.4 3.9 4.1 3.9 3 4 1.9 3.9 1.1 3.9 .5 3.9 .1 3.9-.2 3.9-.4 3.9-.5 3.9-.8 3.9-1.2 3.9-1.7 3.9-2.6 4-3.4 3.9-4.5 3.9-5.4 3.9-6.1 3.9-6.5 3.9-6.5 3.9-6.1 3.9-5.7 3.9-5.2 3.9-4.8 3.9-4.3 3.9-3.7 3.9-3"/>
<path d="M388.2 102.1l3.9 4.6 3.9 4.7 3.9 4.8 3.9 5.2 3.9 5.4 3.9 5.9 3.9 6.3 3.9 6.4 3.9 6.2 3.9 5.5 3.9 4.7 3.9 3.5 4 2.7 3.9 2 3.9 1.5 3.9 1.2 3.9 1 3.9 .8 3.9 .8 3.9 .6 3.9 .4 3.9 0 3.9-.5 4-1 3.9-1.4 3.9-1.7 3.9-1.8 3.9-1.6 3.9-1.1 3.9-.5 3.9 .1 3.9 .7 3.9 1 3.9 1.2 3.9 1.1 3.9 1"/>
<path d="M388.2 176.2l3.9-.6 3.9-1.1 3.9-1.5 3.9-1.8 3.9-1.7 3.9-1.5 3.9-1 3.9-.3 3.9 .2 3.9 .8 3.9 1.1 3.9 1.2 4 1.1 3.9 .9 3.9 .6 3.9 .4 3.9 0 3.9-.1 3.9-.3 3.9-.5 3.9-.5 3.9-.6 3.9-.9 4-1.2 3.9-1.8 3.9-2.7 3.9-3.7 3.9-5 3.9-6.1 3.9-7 3.9-7.2 3.9-7 3.9-6.3 3.9-5.3 3.9-4.5 3.9-3.5"/>
<path d="M388.2 165.8l3.9-3.1 3.9-4.4 3.9-5.5 3.9-6.6 3.9-7.2 3.9-7.2 3.9-6.7 3.9-5.8 3.9-4.8 3.9-4 3.9-3.3 3.9-2.5 4-2.1 3.9-1.7 3.9-1.6 3.9-1.7 3.9-1.9 3.9-2.3 3.9-2.4 3.9-2.3 3.9-1.9 3.9-.9 3.9 .5 4 2.1 3.9 3.9 3.9 5.9 3.9 7.5 3.9 8.6 3.9 9.3 3.9 9 3.9 8.5 3.9 7.4 3.9 6.1 3.9 5 3.9 3.7 3.9 2.8"/>
<path d="M388.2 90.2l3.9 4.9 3.9 6.7 3.9 8.2 3.9 9 3.9 9.3 3.9 8.8 3.9 7.9 3.9 6.8 3.9 5.6 3.9 4.3 3.9 3.2 3.9 2.4 4 1.7 3.9 1.3 3.9 1 3.9 .9 3.9 .6 3.9 .3 3.9-.2 3.9-.8 3.9-1.7 3.9-2.4 3.9-3.4 4-4.1 3.9-4.8 3.9-5.5 3.9-5.8 3.9-6 3.9-6.1 3.9-5.8 3.9-5.3 3.9-4.6 3.9-3.6 3.9-2.6 3.9-1.5 3.9-.5"/>
<path d="M388.2 164.6l3.9-4.1 3.9-4.8 3.9-5.5 3.9-5.8 3.9-6 3.9-6.1 3.9-5.8 3.9-5.3 3.9-4.6 3.9-3.6 3.9-2.6 3.9-1.5 4-.5 3.9 .2 3.9 .8 3.9 1 3.9 .6 3.9 .1 3.9-.7 3.9-1.7 3.9-2.5 3.9-3 3.9-3.2 4-2.6 3.9-1.5 3.9 0 3.9 1.4 3.9 2.5 3.9 2.8 3.9 2.3 3.9 1.5 3.9 .2 3.9-1 3.9-2.2 3.9-3 3.9-3.4"/>
<path d="M388.2 96.9l3.9-1.1 3.9 .3 3.9 1.8 3.9 2.6 3.9 2.7 3.9 2.2 3.9 1.2 3.9-.1 3.9-1.4 3.9-2.4 3.9-3.1 3.9-3.6 4-3.7 3.9-3.6 3.9-3.2 3.9-2.7 3.9-1.9 3.9-1.2 3.9-.8 3.9-.7 3.9-1.1 3.9-1.8 3.9-2.8 4-3.3 3.9-3.5 3.9-2.8 3.9-1.6 3.9 .2 3.9 2 3.9 3.2 3.9 3.8 3.9 3.8 3.9 3.3 3.9 2.5 3.9 1.7 3.9 .9"/>
<path d="M388.2 70l3.9-3.5 3.9-3 3.9-1.9 3.9-.3 3.9 1.5 3.9 3 3.9 3.7 3.9 3.9 3.9 3.5 3.9 2.7 3.9 1.8 3.9 1.1 4 .5 3.9 .1 3.9-.3 3.9-.6 3.9-.8 3.9-1.2 3.9-1.3 3.9-1.3 3.9-.8 3.9 .1 3.9 1.4 4 3 3.9 4.4 3.9 5.3 3.9 5.5 3.9 5.1 3.9 4.4 3.9 3.2 3.9 1.9 3.9 .6 3.9-.7 3.9-1.9 3.9-2.8 3.9-3.4"/>
<path d="M388.2 79.6l3.9 3.8 3.9 4.9 3.9 5.4 3.9 5.4 3.9 4.9 3.9 3.8 3.9 2.6 3.9 1.2 3.9-.1 3.9-1.3 3.9-2.4 3.9-3.2 4-3.4 3.9-3.2 3.9-2.5 3.9-1.3 3.9 0 3.9 1.5 3.9 2.6 3.9 3.3 3.9 3.7 3.9 3.6 3.9 3.4 4 3.1 3.9 3 3.9 3.1 3.9 3.7 3.9 4.3 3.9 5 3.9 5.3 3.9 5.2 3.9 4.8 3.9 4.1 3.9 3.5 3.9 2.7 3.9 2.1"/>
<path d="M388.2 117.7l3.9 3 3.9 3.5 3.9 4.2 3.9 4.8 3.9 5.2 3.9 5.3 3.9 4.9 3.9 4.4 3.9 3.6 3.9 2.9 3.9 2.2 3.9 1.8 4 1.5 3.9 1.2 3.9 1.1 3.9 1.1 3.9 1 3.9 .8 3.9 .5 3.9 .2 3.9-.5 3.9-1.1 3.9-2.1 4-3 3.9-4 3.9-4.9 3.9-5.4 3.9-5.8 3.9-5.9 3.9-5.8 3.9-5.6 3.9-5.1 3.9-4.6 3.9-3.6 3.9-2.5 3.9-1.4"/>
<path d="M388.2 96.5l3.9 1.7 3.9 3.6 3.9 5.2 3.9 6.5 3.9 7.1 3.9 7.3 3.9 7.2 3.9 6.7 3.9 6.1 3.9 5.3 3.9 4.5 3.9 3.7 4 2.9 3.9 2.1 3.9 1.5 3.9 1 3.9 .6 3.9 .3 3.9 .2 3.9 .1 3.9-.1 3.9-.3 3.9-.8 4-1.2 3.9-2.1 3.9-2.9 3.9-3.9 3.9-4.8 3.9-5.3 3.9-5.5 3.9-5.2 3.9-4.6 3.9-3.9 3.9-3.3 3.9-2.9 3.9-2.7"/>
<path d="M388.2 166.7l3.9-2.4 3.9-3.4 3.9-4.4 3.9-5.1 3.9-5.5 3.9-5.4 3.9-4.9 3.9-4.2 3.9-3.6 3.9-3.1 3.9-2.8 3.9-2.6 4-2.8 3.9-2.7 3.9-2.9 3.9-2.9 3.9-2.8 3.9-2.6 3.9-2.2 3.9-1.9 3.9-1.5 3.9-1.3 3.9-1.1 4-1.1 3.9-1.2 3.9-1.4 3.9-1.5 3.9-1.4 3.9-1 3.9-.4 3.9 .4 3.9 .9 3.9 1.1 3.9 .6 3.9 0 3.9-.9"/>
<path d="M388.2 93.8l3.9-1.2 3.9-1.4 3.9-1.4 3.9-1.5 3.9-1.1 3.9-.6 3.9 .2 3.9 .9 3.9 1 3.9 .8 3.9 .2 3.9-.7 4-1.6 3.9-2.3 3.9-2.9 3.9-3.2 3.9-3.3 3.9-3.3 3.9-2.9 3.9-2.3 3.9-1.2 3.9 .4 3.9 2.4 4 4.4 3.9 6.4 3.9 7.9 3.9 8.9 3.9 9.2 3.9 9.2 3.9 9 3.9 8.5 3.9 8.1 3.9 7.2 3.9 6.3 3.9 5.3 3.9 4.2"/>
<path d="M388.2 172l3.9-.6 3.9-.6 3.9-.4 3.9-.3 3.9-.1 3.9-.1 3.9-.1 3.9-.2 3.9-.1 3.9-.1 3.9-.1 3.9-.1 4 .1 3.9 0 3.9 .1 3.9 0 3.9-.1 3.9-.3 3.9-.6 3.9-.9 3.9-1.1 3.9-1.6 3.9-1.8 4-2.3 3.9-2.7 3.9-3.3 3.9-4 3.9-4.8 3.9-5.7 3.9-6.5 3.9-7 3.9-7.1 3.9-6.7 3.9-5.7 3.9-4.3 3.9-2.9"/>
<path d="M388.2 164.4l3.9-1.9 3.9-2.4 3.9-2.8 3.9-3.5 3.9-4.2 3.9-5.1 3.9-5.9 3.9-6.6 3.9-7.1 3.9-7.1 3.9-6.4 3.9-5.4 4-4 3.9-2.5 3.9-1.2 3.9-.4 3.9 .1 3.9 .3 3.9 .4 3.9 .4 3.9 .1 3.9 .1 3.9 .1 4 .2 3.9 .5 3.9 .9 3.9 1.4 3.9 2.1 3.9 2.7 3.9 3.1 3.9 3.2 3.9 3 3.9 2.5 3.9 1.6 3.9 .8 3.9-.2"/>
<path d="M388.2 101.3l3.9 1.6 3.9 2.2 3.9 2.8 3.9 3.2 3.9 3.2 3.9 2.9 3.9 2.3 3.9 1.4 3.9 .6 3.9-.5 3.9-1.3 3.9-2.2 4-2.8 3.9-3.3 3.9-3.1 3.9-2.6 3.9-1.6 3.9-.6 3.9 .4 3.9 .9 3.9 .9 3.9 .6 3.9 .1 4-.1 3.9-.4 3.9-.4 3.9-.2 3.9-.1 3.9 .1 3.9 0 3.9-.2 3.9-.7 3.9-1.5 3.9-2.5 3.9-3.9 3.9-5.1"/>
<path d="M388.2 106.3l3.9-.4 3.9-.4 3.9-.2 3.9-.1 3.9 .1 3.9 0 3.9-.2 3.9-.7 3.9-1.5 3.9-2.5 3.9-3.9 3.9-5.1 4-6 3.9-6.3 3.9-5.9 3.9-4.7 3.9-3.1 3.9-1.2 3.9 .3 3.9 1.8 3.9 2.8 3.9 3.8 3.9 4.8 4 5.8 3.9 6.7 3.9 7.5 3.9 8.1 3.9 8.4 3.9 8.5 3.9 8.3 3.9 8 3.9 7.5 3.9 6.9 3.9 6.1 3.9 5.2 3.9 4.1"/>
<path d="M388.2 85.1l3.9 6.9 3.9 7.7 3.9 8.2 3.9 8.5 3.9 8.4 3.9 8.2 3.9 7.9 3.9 7.4 3.9 6.7 3.9 5.9 3.9 4.9 3.9 3.8 4 2.7 3.9 1.7 3.9 .9 3.9 .2 3.9-.2 3.9-.6 3.9-.9 3.9-1.3 3.9-1.8 3.9-2.6 3.9-3.4 4-4.5 3.9-5.7 3.9-6.8 3.9-7.7 3.9-8.3 3.9-8.6 3.9-8.6 3.9-8.2 3.9-7.7 3.9-7.2 3.9-6.8 3.9-6.3 3.9-5.9"/>
<path d="M388.2 164.3l3.9-4.5 3.9-5.7 3.9-6.8 3.9-7.7 3.9-8.3 3.9-8.6 3.9-8.6 3.9-8.2 3.9-7.7 3.9-7.2 3.9-6.8 3.9-6.3 4-5.9 3.9-5.2 3.9-4 3.9-2.4 3.9-.5 3.9 1.6 3.9 3 3.9 3.9 3.9 4 3.9 3.3 3.9 2.3 4 .9 3.9-.3 3.9-1.3 3.9-2 3.9-2 3.9-1.3 3.9-.4 3.9 .8 3.9 1.8 3.9 2.2 3.9 2.2 3.9 1.8 3.9 1.1"/>
<path d="M388.2 78.8l3.9 0 3.9-1.1 3.9-1.9 3.9-2 3.9-1.6 3.9-.6 3.9 .5 3.9 1.6 3.9 2.1 3.9 2.3 3.9 1.9 3.9 1.3 4 .6 3.9 .1 3.9-.2 3.9 .1 3.9 .6 3.9 1.4 3.9 2 3.9 2.6 3.9 2.9 3.9 2.8 3.9 2.8 4 2.8 3.9 3 3.9 3.7 3.9 4.6 3.9 5.9 3.9 7 3.9 7.8 3.9 7.9 3.9 7.3 3.9 6.2 3.9 4.9 3.9 3.6 3.9 2.6"/>
<path d="M388.2 102l3.9 3.5 3.9 4.3 3.9 5.6 3.9 6.8 3.9 7.6 3.9 8 3.9 7.5 3.9 6.5 3.9 5.2 3.9 3.9 3.9 2.8 3.9 2 4 1.4 3.9 1 3.9 .8 3.9 .8 3.9 .6 3.9 .5 3.9 .3 3.9 .1 3.9-.1 3.9-.3 3.9-.5 4-.5 3.9-.4 3.9-.2 3.9-.1 3.9 .2 3.9 .2 3.9 .2 3.9 .2 3.9 .1 3.9 .1 3.9 .1 3.9 .1 3.9 0"/>
<path d="M388.2 169.9l3.9-.4 3.9-.3 3.9-.1 3.9 .1 3.9 .3 3.9 .2 3.9 .2 3.9 .1 3.9 .1 3.9 .1 3.9 .1 3.9 0 4 .1 3.9-.1 3.9-.2 3.9-.2 3.9-.3 3.9-.4 3.9-.4 3.9-.5 3.9-.7 3.9-1 3.9-1.6 4-2.2 3.9-3.1 3.9-4 3.9-4.9 3.9-5.9 3.9-6.8 3.9-7.4 3.9-7.9 3.9-8.5 3.9-8.8 3.9-9.1 3.9-8.9 3.9-8.1"/>
<path d="M388.2 162.1l3.9-3.3 3.9-4.2 3.9-5.2 3.9-6.1 3.9-7 3.9-7.5 3.9-8.1 3.9-8.5 3.9-9 3.9-9 3.9-8.8 3.9-7.8 4-6.2 3.9-4 3.9-1.5 3.9 .5 3.9 2.2 3.9 3.2 3.9 3.6 3.9 3.8 3.9 3.9 3.9 4.3 3.9 4.7 4 5.3 3.9 5.8 3.9 6.3 3.9 6.6 3.9 6.6 3.9 6.8 3.9 6.7 3.9 6.5 3.9 6.1 3.9 5.5 3.9 4.8 3.9 3.9 3.9 3"/>
<path d="M388.2 90.9l3.9 5.1 3.9 5.7 3.9 6.2 3.9 6.5 3.9 6.7 3.9 6.7 3.9 6.7 3.9 6.6 3.9 6.2 3.9 5.7 3.9 5 3.9 4.1 4 3.2 3.9 2.6 3.9 1.8 3.9 1.4 3.9 .8 3.9 .4 3.9-.1 3.9-.5 3.9-1 3.9-1.5 3.9-2 4-2.5 3.9-3 3.9-3.8 3.9-4.7 3.9-5.7 3.9-6.8 3.9-7.6 3.9-8.2 3.9-8 3.9-7.1 3.9-5.4 3.9-3.5 3.9-1.4"/>
<path d="M388.2 160.8l3.9-4 3.9-4.9 3.9-6 3.9-7 3.9-7.9 3.9-8.2 3.9-7.8 3.9-6.7 3.9-5 3.9-2.9 3.9-1 3.9 .4 4 1.4 3.9 1.8 3.9 1.6 3.9 1 3.9 .2 3.9-.5 3.9-1.1 3.9-1.3 3.9-1.1 3.9-.8 3.9-.5 4-.6 3.9-1.1 3.9-2 3.9-2.9 3.9-3.7 3.9-3.8 3.9-3.2 3.9-1.7 3.9 0 3.9 1.4 3.9 2 3.9 1.6 3.9 .4"/>
<path d="M388.2 74.8l3.9 1.5 3.9 1.7 3.9 2.1 3.9 2.3 3.9 2.4 3.9 2.4 3.9 2.3 3.9 2.1 3.9 2.2 3.9 2.4 3.9 2.7 3.9 2.9 4 3.1 3.9 2.9 3.9 2.4 3.9 1.9 3.9 1.1 3.9 .4 3.9-.2 3.9-.8 3.9-1.1 3.9-1.3 3.9-1.2 4-1.2 3.9-1.1 3.9-.9 3.9-1 3.9-1.2 3.9-1.3 3.9-1.6 3.9-2 3.9-2.6 3.9-3.2 3.9-3.8 3.9-4.3 3.9-4.3"/>
<path d="M388.2 104.5l3.9-1.2 3.9-1.4 3.9-1.7 3.9-2.1 3.9-2.7 3.9-3.4 3.9-4 3.9-4.3 3.9-4.2 3.9-3.7 3.9-2.9 3.9-2.1 4-1.4 3.9-1 3.9-.8 3.9-.3 3.9 .2 3.9 1.3 3.9 2.3 3.9 3.2 3.9 3.5 3.9 3.4 3.9 2.5 4 1.3 3.9 0 3.9-1 3.9-1.6 3.9-1.6 3.9-1.4 3.9-1 3.9-.6 3.9-.4 3.9-.7 3.9-1 3.9-1.3 3.9-1.4"/>
<path d="M388.2 78.7l3.9 3.2 3.9 2.2 3.9 1 3.9-.2 3.9-1.2 3.9-1.7 3.9-1.6 3.9-1.3 3.9-.9 3.9-.5 3.9-.5 3.9-.7 4-1.1 3.9-1.3 3.9-1.5 3.9-1.2 3.9-.7 3.9 0 3.9 .9 3.9 1.9 3.9 3 3.9 3.9 3.9 4.8 4 5.6 3.9 6.3 3.9 6.9 3.9 7.6 3.9 8.1 3.9 8.2 3.9 8.1 3.9 7.4 3.9 6.5 3.9 5.4 3.9 4.4 3.9 3.4 3.9 2.8"/>
<path d="M388.2 90.8l3.9 6.3 3.9 6.9 3.9 7.6 3.9 8.1 3.9 8.2 3.9 8.1 3.9 7.4 3.9 6.5 3.9 5.4 3.9 4.4 3.9 3.4 3.9 2.8 4 2 3.9 1.4 3.9 .9 3.9 .4 3.9 0 3.9-.3 3.9-.6 3.9-.9 3.9-1.5 3.9-2 3.9-2.9 4-3.9 3.9-5.1 3.9-6.2 3.9-7.3 3.9-8 3.9-8.3 3.9-8 3.9-7.1 3.9-5.6 3.9-4 3.9-2.6 3.9-1.4 3.9-1"/>
<path d="M388.2 161.5l3.9-4.2 3.9-5.4 3.9-6.5 3.9-7.4 3.9-8.2 3.9-8.2 3.9-7.9 3.9-6.7 3.9-5.3 3.9-3.6 3.9-2.2 3.9-1.3 4-.9 3.9-1 3.9-1.5 3.9-2.1 3.9-2.6 3.9-2.8 3.9-2.5 3.9-1.8 3.9-.5 3.9 .8 3.9 2 4 2.8 3.9 3.1 3.9 3.5 3.9 4 3.9 4.8 3.9 6.2 3.9 7.6 3.9 8.6 3.9 9.1 3.9 8.6 3.9 7.5 3.9 6 3.9 4.5"/>
<path d="M388.2 87.6l3.9 3.5 3.9 4 3.9 4.8 3.9 6.2 3.9 7.6 3.9 8.6 3.9 9.1 3.9 8.6 3.9 7.5 3.9 6 3.9 4.5 3.9 3.2 4 2.2 3.9 1.6 3.9 1.2 3.9 1 3.9 .9 3.9 .8 3.9 .6 3.9 .3 3.9 .2 3.9 .1 3.9 0 4-.1 3.9 0 3.9 0 3.9 .1 3.9 .2 3.9 .3 3.9 .4 3.9 .4 3.9 .4 3.9 .3 3.9 .1 3.9 .1 3.9-.2"/>
<path d="M388.2 170.1l3.9-.1 3.9 0 3.9 0 3.9 .1 3.9 .1 3.9 .3 3.9 .3 3.9 .4 3.9 .4 3.9 .3 3.9 .3 3.9 .1 4-.1 3.9-.2 3.9-.3 3.9-.2 3.9-.3 3.9-.2 3.9-.2 3.9-.3 3.9-.4 3.9-.6 3.9-.9 4-1.3 3.9-1.7 3.9-2.5 3.9-3.1 3.9-3.7 3.9-4.2 3.9-4.4 3.9-4.7 3.9-4.8 3.9-4.9 3.9-5.1 3.9-5.4 3.9-5.6"/>
<path d="M388.2 163.8l3.9-2.9 3.9-3.6 3.9-4.1 3.9-4.4 3.9-4.6 3.9-4.8 3.9-4.8 3.9-5.1 3.9-5.3 3.9-5.6 3.9-5.7 3.9-5.8 4-5.5 3.9-4.9 3.9-4.2 3.9-3.6 3.9-2.9 3.9-2.1 3.9-1.4 3.9-.4 3.9 .7 3.9 1.3 3.9 1.6 4 1.1 3.9-.2 3.9-2 3.9-3.9 3.9-6 3.9-7.4 3.9-8.3 3.9-8.1 3.9-7.1 3.9-5.3 3.9-3.1 3.9-.9 3.9 1.1"/>
<path d="M388.2 86.8l3.9-.2 3.9-2 3.9-3.9 3.9-6 3.9-7.4 3.9-8.3 3.9-8.1 3.9-7.1 3.9-5.3 3.9-3.1 3.9-.9 3.9 1.1 4 2.6 3.9 3.3 3.9 3.5 3.9 3.4 3.9 2.9 3.9 2.3 3.9 1.8 3.9 1.2 3.9 1 3.9 1.1 3.9 1.7 4 2.6 3.9 3.6 3.9 4.4 3.9 4.5 3.9 4.1 3.9 3.2 3.9 2.3 3.9 1.2 3.9 .1 3.9-1 3.9-2 3.9-3.1 3.9-3.8"/>
<path d="M388.2 64.7l3.9 4.1 3.9 4.4 3.9 4.4 3.9 3.7 3.9 2.8 3.9 1.7 3.9 .7 3.9-.4 3.9-1.5 3.9-2.6 3.9-3.5 3.9-4.1 4-4 3.9-3.3 3.9-2 3.9-.4 3.9 1.2 3.9 2.2 3.9 2.5 3.9 2.4 3.9 2 3.9 1.7 3.9 2.1 4 3.2 3.9 5 3.9 7.4 3.9 9.3 3.9 10.5 3.9 10.7 3.9 10 3.9 8.8 3.9 7.3 3.9 5.9 3.9 4.7 3.9 3.8 3.9 2.9"/>
<path d="M388.2 84.2l3.9 6.2 3.9 8.4 3.9 10 3.9 10.8 3.9 10.5 3.9 9.4 3.9 8.1 3.9 6.6 3.9 5.2 3.9 4.2 3.9 3.3 3.9 2.6 4 1.9 3.9 1.4 3.9 .6 3.9 .2 3.9-.4 3.9-.7 3.9-.8 3.9-.9 3.9-.7 3.9-.6 3.9-.4 4-.3 3.9-.3 3.9-.3 3.9-.2 3.9-.3 3.9-.1 3.9 .1 3.9 .2 3.9 .4 3.9 .5 3.9 .6 3.9 .6 3.9 .5"/>
<path d="M388.2 169.3l3.9-.4 3.9-.3 3.9-.2 3.9-.3 3.9-.2 3.9-.2 3.9-.1 3.9 .1 3.9 .4 3.9 .4 3.9 .6 3.9 .7 4 .5 3.9 .4 3.9 .1 3.9-.3 3.9-.5 3.9-.8 3.9-1 3.9-1.2 3.9-1.4 3.9-1.6 3.9-1.9 4-2.3 3.9-3 3.9-3.7 3.9-4.5 3.9-5.2 3.9-5.8 3.9-6.1 3.9-6.3 3.9-6.1 3.9-5.2 3.9-4.1 3.9-2.6 3.9-1.3"/>
<path d="M388.2 159.1l3.9-3.2 3.9-3.8 3.9-4.7 3.9-5.4 3.9-5.9 3.9-6.2 3.9-6.3 3.9-5.9 3.9-5 3.9-3.7 3.9-2.3 3.9-.9 4 0 3.9 .1 3.9-.4 3.9-1.4 3.9-2.8 3.9-4.2 3.9-5.1 3.9-5.5 3.9-5 3.9-3.5 3.9-1.4 4 1 3.9 3.1 3.9 4.8 3.9 5.7 3.9 6 3.9 5.6 3.9 4.6 3.9 3.4 3.9 1.8 3.9 .3 3.9-1.3 3.9-2.5 3.9-3.1"/>
<path d="M388.2 76.6l3.9 1.6 3.9 3.6 3.9 5.1 3.9 5.8 3.9 5.9 3.9 5.4 3.9 4.4 3.9 3 3.9 1.4 3.9-.1 3.9-1.6 3.9-2.7 4-3.2 3.9-2.8 3.9-1.9 3.9-.6 3.9 1 3.9 2.1 3.9 2.8 3.9 3.2 3.9 3.1 3.9 2.7 3.9 2 4 1 3.9-.2 3.9-1.2 3.9-2.2 3.9-3.1 3.9-3.5 3.9-3.9 3.9-3.9 3.9-3.8 3.9-3.4 3.9-2.7 3.9-1.7 3.9-.6"/>
<path d="M388.2 117.8l3.9-.2 3.9-1.2 3.9-2.2 3.9-3.1 3.9-3.5 3.9-3.9 3.9-3.9 3.9-3.8 3.9-3.4 3.9-2.7 3.9-1.7 3.9-.6 4 .6 3.9 1.5 3.9 2 3.9 2.1 3.9 2 3.9 1.5 3.9 1 3.9 .5 3.9-.1 3.9-.5 3.9-1 4-1.5 3.9-2 3.9-2.6 3.9-3.1 3.9-3.6 3.9-4 3.9-4.4 3.9-4.8 3.9-5 3.9-4.8 3.9-4.1 3.9-2.5 3.9-.4"/>
<path d="M388.2 94.7l3.9-2.3 3.9-2.8 3.9-3.3 3.9-3.8 3.9-4.3 3.9-4.6 3.9-4.9 3.9-4.9 3.9-4.6 3.9-3.4 3.9-1.5 3.9 .8 4 3.2 3.9 5 3.9 5.8 3.9 5.6 3.9 4.9 3.9 3.8 3.9 3 3.9 2.6 3.9 2.9 3.9 3.6 3.9 4.7 4 5.5 3.9 6.1 3.9 6 3.9 5.7 3.9 5.2 3.9 4.9 3.9 4.8 3.9 4.8 3.9 5 3.9 4.9 3.9 4.4 3.9 3.8 3.9 2.8"/>
<path d="M388.2 104.3l3.9 5.9 3.9 6.1 3.9 5.8 3.9 5.4 3.9 4.9 3.9 4.8 3.9 4.8 3.9 5 3.9 4.9 3.9 4.6 3.9 3.9 3.9 3.1 4 2.2 3.9 1.5 3.9 1 3.9 .7 3.9 .5 3.9 .4 3.9 .3 3.9 .1 3.9-.2 3.9-.9 3.9-1.8 4-2.8 3.9-3.9 3.9-4.9 3.9-5.8 3.9-6.1 3.9-6 3.9-5.5 3.9-4.6 3.9-3.8 3.9-2.8 3.9-2.1 3.9-1.6 3.9-1.1"/>
<path d="M388.2 166.7l3.9-3 3.9-4.2 3.9-5.2 3.9-5.9 3.9-6.1 3.9-5.9 3.9-5.3 3.9-4.5 3.9-3.5 3.9-2.6 3.9-2 3.9-1.4 4-1.1 3.9-.7 3.9-.4 3.9-.2 3.9-.2 3.9-.2 3.9-.4 3.9-.6 3.9-1 3.9-1.4 3.9-1.9 4-2.4 3.9-3 3.9-3.6 3.9-4.2 3.9-4.5 3.9-4.4 3.9-4.1 3.9-3.3 3.9-2.3 3.9-1.4 3.9-.5 3.9 .1 3.9 .4"/>
<path d="M388.2 107.9l3.9-2.7 3.9-3.3 3.9-3.9 3.9-4.4 3.9-4.5 3.9-4.3 3.9-3.7 3.9-2.9 3.9-1.8 3.9-.9 3.9-.2 3.9 .3 4 .4 3.9 .2 3.9 0 3.9-.4 3.9-.5 3.9-.3 3.9 .1 3.9 .8 3.9 1.5 3.9 2.2 3.9 2.8 4 3 3.9 3.1 3.9 2.9 3.9 2.5 3.9 2 3.9 1.5 3.9 1.2 3.9 1 3.9 .9 3.9 .9 3.9 .9 3.9 .8 3.9 .3"/>
<path d="M388.2 88.5l3.9 2.9 3.9 2.5 3.9 2 3.9 1.5 3.9 1.2 3.9 1 3.9 .9 3.9 .9 3.9 .9 3.9 .8 3.9 .3 3.9-.2 4-1 3.9-1.8 3.9-2.5 3.9-3 3.9-3.3 3.9-3.3 3.9-3.1 3.9-2.8 3.9-2.6 3.9-2.4 3.9-2 4-1.2 3.9 .3 3.9 2.8 3.9 5.8 3.9 8.7 3.9 10.6 3.9 11.3 3.9 10.9 3.9 9.9 3.9 8.7 3.9 7.5 3.9 6.1 3.9 4.7"/>
<path d="M388.2 75l3.9-.9 3.9 .9 3.9 3.5 3.9 6.6 3.9 9.2 3.9 10.9 3.9 11.3 3.9 10.7 3.9 9.6 3.9 8.4 3.9 7.1 3.9 5.8 4 4.4 3.9 3.2 3.9 2 3.9 1.1 3.9 .7 3.9 .4 3.9 .4 3.9 .4 3.9 .5 3.9 .5 3.9 .4 4 .2 3.9 0 3.9-.2 3.9-.4 3.9-.4 3.9-.4 3.9-.1 3.9 .1 3.9 .2 3.9 .4 3.9 .4 3.9 .3 3.9 .2"/>
<path d="M388.2 172.3l3.9-.3 3.9-.4 3.9-.4 3.9-.3 3.9-.1 3.9 .1 3.9 .3 3.9 .4 3.9 .4 3.9 .3 3.9 .1 3.9-.2 4-.2 3.9-.4 3.9-.4 3.9-.3 3.9-.2 3.9 0 3.9 .2 3.9 .4 3.9 .4 3.9 .4 3.9 .3 4 .1 3.9-.1 3.9-.2 3.9-.4 3.9-.5 3.9-.5 3.9-.5 3.9-.5 3.9-.2 3.9 0 3.9 .2 3.9 .4 3.9 .4"/>
<path d="M388.2 172.5l3.9-.2 3.9-.4 3.9-.4 3.9-.6 3.9-.5 3.9-.5 3.9-.3 3.9 0 3.9 .1 3.9 .4 3.9 .4 3.9 .5 4 .3 3.9 .1 3.9-.1 3.9-.3 3.9-.4 3.9-.6 3.9-.6 3.9-.9 3.9-1.1 3.9-1.7 3.9-2.2 4-3.2 3.9-4 3.9-5.1 3.9-6 3.9-6.5 3.9-6.6 3.9-6.1 3.9-5.4 3.9-4.4 3.9-3.6 3.9-3.1 3.9-2.9 3.9-2.7"/>
<path d="M388.2 164.1l3.9-2.9 3.9-3.8 3.9-4.8 3.9-5.8 3.9-6.4 3.9-6.7 3.9-6.3 3.9-5.5 3.9-4.6 3.9-3.8 3.9-3.2 3.9-3 4-2.8 3.9-2.5 3.9-2.1 3.9-1.6 3.9-1 3.9-.7 3.9-.8 3.9-1.2 3.9-1.8 3.9-2 3.9-1.3 4 .4 3.9 2.9 3.9 5.4 3.9 7.2 3.9 7.8 3.9 7.5 3.9 6.8 3.9 6 3.9 5.4 3.9 5 3.9 4.8 3.9 4.7 3.9 4.3"/>
<path d="M388.2 91.8l3.9 4.8 3.9 6.9 3.9 7.7 3.9 7.7 3.9 7 3.9 6.1 3.9 5.5 3.9 5.1 3.9 4.9 3.9 4.7 3.9 4.5 3.9 4 4 3.3 3.9 2.6 3.9 1.9 3.9 1.2 3.9 .8 3.9 .4 3.9 .1 3.9-.2 3.9-.6 3.9-1 3.9-1.6 4-2.4 3.9-3.5 3.9-4.8 3.9-6.2 3.9-7.5 3.9-8.2 3.9-8.3 3.9-7.8 3.9-6.4 3.9-5 3.9-3.5 3.9-2.2 3.9-1.3"/>
<path d="M388.2 163.6l3.9-4.1 3.9-5.5 3.9-6.9 3.9-7.9 3.9-8.4 3.9-8.1 3.9-7.2 3.9-5.7 3.9-4.2 3.9-2.8 3.9-1.7 3.9-1 4-.3 3.9 .1 3.9 .4 3.9 .6 3.9 .5 3.9 .1 3.9-.8 3.9-2 3.9-3 3.9-3.8 3.9-3.9 4-3.2 3.9-1.9 3.9-.2 3.9 1.3 3.9 2.5 3.9 3 3.9 3.2 3.9 3 3.9 2.7 3.9 2.6 3.9 2.3 3.9 2.2 3.9 2.1"/>
<path d="M388.2 111.5l3.9 2.6 3.9 3.6 3.9 4.7 3.9 5.5 3.9 6.2 3.9 6.5 3.9 6.2 3.9 5.6 3.9 4.8 3.9 4 3.9 3.2 3.9 2.4 4 1.9 3.9 1.2 3.9 .7 3.9 .3 3.9-.1 3.9-.2 3.9-.3 3.9-.2 3.9 .1 3.9 .2 3.9 .4 4 .4 3.9 .5 3.9 .5 3.9 .3 3.9 .2 3.9 0 3.9-.3 3.9-.4 3.9-.6 3.9-.7 3.9-.5 3.9-.4 3.9-.2"/>
<path d="M388.2 171.4l3.9 .5 3.9 .4 3.9 .3 3.9 .1 3.9-.1 3.9-.3 3.9-.4 3.9-.7 3.9-.6 3.9-.6 3.9-.3 3.9-.1 4 .3 3.9 .4 3.9 .5 3.9 .5 3.9 .4 3.9 .1 3.9-.2 3.9-.5 3.9-.9 3.9-1.4 3.9-2.2 4-3.1 3.9-4.2 3.9-5.5 3.9-6.7 3.9-7.6 3.9-8.4 3.9-8.9 3.9-9.1 3.9-8.8 3.9-8.4 3.9-7.5 3.9-6.5 3.9-5.1"/>
<path d="M388.2 166.6l3.9-3.1 3.9-4.2 3.9-5.5 3.9-6.7 3.9-7.6 3.9-8.4 3.9-8.9 3.9-9.1 3.9-8.8 3.9-8.4 3.9-7.5 3.9-6.5 4-5.1 3.9-3.5 3.9-1.6 3.9 .2 3.9 1.8 3.9 2.9 3.9 3.2 3.9 2.9 3.9 2.4 3.9 1.8 3.9 1.4 4 1.6 3.9 2 3.9 2.7 3.9 3.4 3.9 3.9 3.9 3.7 3.9 3.2 3.9 2.3 3.9 1.1 3.9-.3 3.9-1.3 3.9-2.1 3.9-2.4"/>
<path d="M388.2 103.6l3.9 .2 3.9 1 3.9 1.5 3.9 1.7 3.9 1.6 3.9 1.1 3.9 .5 3.9-.1 3.9-.7 3.9-1.4 3.9-1.8 3.9-2.2 4-2.5 3.9-2.8 3.9-2.9 3.9-2.8 3.9-2.5 3.9-1.7 3.9-.8 3.9 .4 3.9 1.8 3.9 3.1 3.9 4.4 4 5.7 3.9 6.9 3.9 7.7 3.9 8 3.9 7.9 3.9 7.5 3.9 6.7 3.9 5.7 3.9 4.7 3.9 3.7 3.9 2.7 3.9 2 3.9 1.4"/>
<path d="M388.2 90.6l3.9 2.8 3.9 4.1 3.9 5.4 3.9 6.6 3.9 7.5 3.9 8 3.9 8 3.9 7.6 3.9 6.9 3.9 6 3.9 4.9 3.9 3.9 4 3 3.9 2.2 3.9 1.5 3.9 1 3.9 .6 3.9 .2 3.9-.1 3.9-.3 3.9-.7 3.9-.9 3.9-1.3 4-1.7 3.9-2.3 3.9-2.9 3.9-3.6 3.9-4.6 3.9-5.6 3.9-6.6 3.9-7.6 3.9-8.4 3.9-9.2 3.9-9.5 3.9-9.6 3.9-9.4"/>
</g>
<path fill="none" stroke="#3a80ff" stroke-width="0.6" stroke-opacity="0.6" d="M388.2 163.2l3.9-1.8 3.9-2.5 3.9-3.4M411.6 139.9l3.9-5.3 3.9-4.5M411.6 123.2l3.9 8.7 3.9 8M423.3 147.1l3.9 6.3 3.9 5.4 3.9 4.4 4 3.6 3.9 2.6 3.9 1.9 3.9 1.1 3.9 .7 3.9 .3 3.9 0 3.9-.4 3.9-.8 3.9-1.5 3.9-2.1 4-3 3.9-3.9 3.9-4.7 3.9-5.5 3.9-6 3.9-6.5 3.9-6.7 3.9-6.9 3.9-6.6 3.9-6.3 3.9-5.8M392.1 163.7l3.9-4.3 3.9-5.1M411.6 135.7l3.9-6.9M407.7 135.6l3.9 5.8M431.1 163.7l3.9 1.8 4 1.2 3.9 .7 3.9 .6 3.9 .7 3.9 .7 3.9 1 3.9 1.1 3.9 1.1 3.9 1.2M431.1 168.8l3.9 .3 4 .6 3.9 .8 3.9 1 3.9 .8 3.9 .6 3.9 .3 3.9-.2 3.9-.8 3.9-1.2 3.9-1.8 3.9-2.4 4-3 3.9-3.6 3.9-4.4 3.9-4.9 3.9-5.4 3.9-5.3 3.9-4.8M407.7 122.2l3.9 6.3 3.9 6.8 3.9 6.8 3.9 6.7 3.9 6.3 3.9 5.5 3.9 4.8 4 3.7 3.9 2.8 3.9 1.8M458.5 174l3.9-1 3.9-1.2 3.9-1.5 3.9-1.8 3.9-2.1 4-2.6 3.9-3.2 3.9-4.2 3.9-5.3 3.9-6.4 3.9-7.3 3.9-7.8 3.9-7.6 3.9-6.9M388.2 165.2l3.9-2.9 3.9-3.7 3.9-4.7M407.7 141.1l3.9-7.6 3.9-7.7M415.5 123.7l3.9 7.7M454.6 167.3l3.9 1.5 3.9 1.3 3.9 1.1 3.9 .9 3.9 .6M454.6 174l3.9-.1 3.9-.2 3.9-.4 3.9-.7 3.9-1.1 3.9-1.6 4-2.1M388.2 165.3l3.9-2.9 3.9-3.1 3.9-3.3M411.6 143.8l3.9-5.1 3.9-5.7M392.1 97l3.9 2.2M501.5 125.3l3.9 7.7 3.9 7.4M407.7 123.4l3.9 7.6 3.9 7.6M427.2 155.9l3.9 3.6 3.9 2.7 4 2 3.9 1.3M466.3 167.3l3.9 .1 3.9 .3 3.9 .4 4 .6M435 170.7l4 .1 3.9 0 3.9-.2 3.9-.3 3.9-.6 3.9-.8 3.9-.9M497.6 138l3.9-6.7 3.9-6.8M407.7 138l3.9-6.7 3.9-6.8M505.4 115.7l3.9 9.4M427.2 151.6l3.9 6.3 3.9 4.6 4 3.1 3.9 1.7 3.9 .9 3.9 .3 3.9 0 3.9 0 3.9-.2 3.9-.2 3.9-.5 3.9-.8 3.9-1.2 4-1.7 3.9-2.3M388.2 164.4l3.9-2.1 3.9-2.8 3.9-3.4M411.6 141.5l3.9-5.9 3.9-6.2M497.6 128.1l3.9 6.9M431.1 164.8l3.9 1.3 4 1 3.9 1 3.9 .9 3.9 1 3.9 .9 3.9 .6 3.9 .3 3.9-.1 3.9-.8 3.9-1.5 3.9-2.4 4-3.4 3.9-4.4 3.9-5.5 3.9-6.3M497.6 140.6l3.9-6.7 3.9-6.1 3.9-5.2 3.9-4.2M411.6 142.3l3.9-6.7 3.9-6.4M482 89.3l3.9 2.9M505.4 116.9l3.9 7.6M482 159.5l3.9-3.7 3.9-5.1M497.6 135.8l3.9-9.5M403.8 142.1l3.9-8.6 3.9-9.6 3.9-9.9M392.1 99l3.9-.2M439 163.6l3.9 3.9 3.9 2.7 3.9 1.7 3.9 1 3.9 .4 3.9 0 3.9-.5 3.9-.9 3.9-1.5 3.9-2.1 4-3.1 3.9-4 3.9-4.9 3.9-5.8 3.9-6 3.9-5.9 3.9-5.3 3.9-4.8M407.7 134.5l3.9-4.9 3.9-4.6 3.9-4.6M497.6 103.5l3.9 3.4M411.6 127.7l3.9 8.6 3.9 8.3M431.1 162.2l3.9 3.1 4 1.9 3.9 1.1 3.9 .4 3.9 .1 3.9-.1 3.9-.3 3.9-.4M501.5 128.7l3.9-5.2M501.5 125.4l3.9 6.1 3.9 6.2M407.7 136.1l3.9 6.3M435 169.2l4 1.4 3.9 .6 3.9 .3 3.9-.1 3.9-.1 3.9-.1 3.9 .1 3.9 .2 3.9 .3 3.9 .2 3.9 .2M431.1 168.1l3.9 .4 4 .6 3.9 .8 3.9 .9 3.9 .8 3.9 .7 3.9 .4 3.9 .2 3.9 .1 3.9-.2 3.9-.2 3.9-.3M435 167.6l4 .8 3.9 .9 3.9 .9 3.9 .7 3.9 .5 3.9 .4 3.9 .3 3.9 .1 3.9-.2 3.9-.5 3.9-.9M415.5 140l3.9-3.2M411.6 128.2l3.9 8.9 3.9 8.3M431.1 163.3l3.9 3.5 4 2.6 3.9 1.9 3.9 1.3 3.9 .8 3.9 .5 3.9 .2 3.9-.2 3.9-.5 3.9-.9 3.9-1.6 3.9-2.4 4-3.5 3.9-5.1 3.9-6.9 3.9-8.7M392.1 97.7l3.9 2.6M392.1 96.7l3.9 4.2M501.5 132.5l3.9 6M407.7 126.4l3.9 6.1 3.9 6 3.9 5.7M423.3 149.6l3.9 5.1 3.9 4.6 3.9 4.1 4 3.3 3.9 2.6 3.9 1.7 3.9 1 3.9 .4 3.9 0 3.9-.2 3.9-.4 3.9-.4 3.9-.5 3.9-.5M470.2 173.1l3.9-1.6 3.9-2.3 4-3.3 3.9-4.5 3.9-6.1 3.9-7.6 3.9-9 3.9-9.9M431.1 156.8l3.9 4.1 4 2.9 3.9 2 3.9 1.6 3.9 1.2 3.9 1 3.9 .8 3.9 .7 3.9 .4 3.9 .2 3.9 0 3.9-.2M450.7 173.9l3.9-.4 3.9-.5 3.9-.5 3.9-.3 3.9-.2 3.9-.1 3.9-.2M431.1 169.1l3.9 .8 4 .8 3.9 .7 3.9 .6 3.9 .4 3.9 .1 3.9-.3 3.9-.7 3.9-1.3 3.9-2.1 3.9-3.1M505.4 114.3l3.9-3.1M407.7 130.3l3.9 6.1 3.9 6.3M431.1 161.8l3.9 2.6 4 1.9 3.9 1.2 3.9 .7 3.9 .5 3.9 .2 3.9 .1 3.9 0 3.9-.4 3.9-.8 3.9-1.5 3.9-2.2 4-2.9 3.9-3.6 3.9-4.1 3.9-4.4 3.9-4.7 3.9-5.3 3.9-5.9 3.9-6.6 3.9-7.3 3.9-7.6 3.9-7.3M388.2 164.7l3.9-2.7 3.9-3.5 3.9-3.9M411.6 140.5l3.9-5.7 3.9-6.5M501.5 124.3l3.9 5.9 3.9 6M407.7 124.3l3.9 5.9 3.9 6 3.9 6.3 3.9 6.4 3.9 6.2 3.9 5.5 3.9 4.3 4 2.8 3.9 1.6 3.9 .6 3.9 0 3.9-.3 3.9-.4 3.9-.6 3.9-.6 3.9-1 3.9-1.4 3.9-2.1 4-2.9 3.9-4.1 3.9-5.2 3.9-6.6 3.9-7.7 3.9-8.5M407.7 133.7l3.9-8.9 3.9-9.5M392.1 97.9l3.9 .8M435 159.5l4 4.1 3.9 2.8 3.9 2 3.9 1.2 3.9 .6 3.9 0 3.9-.4 3.9-.9 3.9-1.2 3.9-1.7 3.9-2.2 4-2.9 3.9-3.5 3.9-4.2 3.9-4.8 3.9-5.3 3.9-5.7 3.9-5.8 3.9-5.9 3.9-6.1M517.1 113.3l3.9-6.4M497.6 130l3.9 6M407.7 130l3.9 6 3.9 6.7M435 168.1l4 1.9 3.9 1.1 3.9 .5 3.9 .1 3.9-.2 3.9-.4 3.9-.5 3.9-.8 3.9-1.2 3.9-1.7 3.9-2.6 4-3.4 3.9-4.5 3.9-5.4 3.9-6.1 3.9-6.5 3.9-6.5 3.9-6.1 3.9-5.7 3.9-5.2M407.7 126.8l3.9 5.9 3.9 6.3M431.1 161.8l3.9 3.5 4 2.7 3.9 2 3.9 1.5 3.9 1.2 3.9 1M431.1 168.8l3.9 1.2 4 1.1 3.9 .9 3.9 .6 3.9 .4 3.9 0 3.9-.1 3.9-.3 3.9-.5 3.9-.5 3.9-.6 3.9-.9M388.2 165.8l3.9-3.1 3.9-4.4 3.9-5.5M407.7 139l3.9-7.2 3.9-6.7 3.9-5.8M501.5 123.7l3.9 9 3.9 8.5M392.1 95.1l3.9 6.7 3.9 8.2M403.8 119l3.9 9.3 3.9 8.8 3.9 7.9M435 167.3l4 1.7 3.9 1.3 3.9 1 3.9 .9 3.9 .6 3.9 .3 3.9-.2 3.9-.8 3.9-1.7 3.9-2.4 3.9-3.4 4-4.1 3.9-4.8 3.9-5.5M497.6 138.4l3.9-6.1 3.9-5.8 3.9-5.3 3.9-4.6 3.9-3.6M388.2 164.6l3.9-4.1M407.7 138.4l3.9-6.1 3.9-5.8M497.6 101.6l3.9 4.4M497.6 129.5l3.9 5 3.9 5.3M431.1 161.7l3.9 1.8 4 1.5 3.9 1.2 3.9 1.1 3.9 1.1 3.9 1 3.9 .8 3.9 .5 3.9 .2 3.9-.5 3.9-1.1 3.9-2.1 4-3 3.9-4 3.9-4.9 3.9-5.4 3.9-5.8 3.9-5.9 3.9-5.8 3.9-5.6 3.9-5.1M392.1 98.2l3.9 3.6M411.6 127.9l3.9 7.2 3.9 6.7 3.9 6.1 3.9 5.3 3.9 4.5 3.9 3.7 4 2.9 3.9 2.1 3.9 1.5 3.9 1 3.9 .6 3.9 .3 3.9 .2 3.9 .1 3.9-.1 3.9-.3 3.9-.8 4-1.2M411.6 140.5l3.9-4.9 3.9-4.2M485.9 92.3l3.9-1.4M431.1 169.3l3.9-.1 4 .1 3.9 0 3.9 .1 3.9 0 3.9-.1 3.9-.3 3.9-.6 3.9-.9 3.9-1.1 3.9-1.6 3.9-1.8 4-2.3 3.9-2.7 3.9-3.3 3.9-4 3.9-4.8 3.9-5.7 3.9-6.5 3.9-7 3.9-7.1 3.9-6.7 3.9-5.7M388.2 164.4l3.9-1.9 3.9-2.4 3.9-2.8M415.5 138.6l3.9-6.6M497.6 104.5l3.9 2.7M497.6 105.2l3.9 .1M501.5 122.7l3.9 8.3 3.9 8M396 99.7l3.9 8.2M407.7 124.8l3.9 8.2 3.9 7.9M435 169.6l4 2.7M458.5 174.3l3.9-.9 3.9-1.3 3.9-1.8 3.9-2.6 3.9-3.4 4-4.5 3.9-5.7M388.2 164.3l3.9-4.5 3.9-5.7M407.7 131.3l3.9-8.6 3.9-8.6M501.5 124l3.9 7.8 3.9 7.9M517.1 153.2l3.9 4.9M407.7 129.8l3.9 8 3.9 7.5M431.1 163.7l3.9 2 4 1.4 3.9 1 3.9 .8 3.9 .8 3.9 .6 3.9 .5 3.9 .3 3.9 .1 3.9-.1 3.9-.3 3.9-.5M435 170.3l4 .1 3.9-.1 3.9-.2 3.9-.2 3.9-.3 3.9-.4 3.9-.4 3.9-.5 3.9-.7 3.9-1 3.9-1.6 4-2.2 3.9-3.1 3.9-4 3.9-4.9 3.9-5.9 3.9-6.8 3.9-7.4 3.9-7.9M407.7 136.3l3.9-7.5M501.5 129.5l3.9 6.7M509.3 142.7l3.9 6.1 3.9 5.5 3.9 4.8M392.1 96l3.9 5.7 3.9 6.2M411.6 127.8l3.9 6.7 3.9 6.6M423.3 147.3l3.9 5.7 3.9 5 3.9 4.1 4 3.2 3.9 2.6 3.9 1.8 3.9 1.4 3.9 .8 3.9 .4 3.9-.1 3.9-.5 3.9-1 3.9-1.5 3.9-2 4-2.5 3.9-3 3.9-3.8M501.5 140.7l3.9-7.6 3.9-8.2 3.9-8 3.9-7.1M521 104.4l3.9-3.5M407.7 131l3.9-8.2 3.9-7.8M497.6 103.6l3.9-1.3M501.5 127.9l3.9 8.1M403.8 119.7l3.9 8.2 3.9 8.1 3.9 7.4M427.2 159.7l3.9 3.4 3.9 2.8 4 2 3.9 1.4 3.9 .9 3.9 .4 3.9 0 3.9-.3 3.9-.6 3.9-.9 3.9-1.5 3.9-2M505.4 115.6l3.9-7.1M407.7 129.8l3.9-8.2 3.9-7.9M505.4 113.7l3.9 8.6M423.3 147.5l3.9 6 3.9 4.5 3.9 3.2 4 2.2M454.6 168.1l3.9 .8 3.9 .6 3.9 .3 3.9 .2 3.9 .1 3.9 0M439 172.2l3.9-.2 3.9-.3 3.9-.2 3.9-.3 3.9-.2 3.9-.2 3.9-.3 3.9-.4 3.9-.6 3.9-.9 4-1.3M388.2 163.8l3.9-2.9 3.9-3.6M411.6 139.4l3.9-4.8 3.9-5.1M501.5 124.9l3.9 10 3.9 8.8M396 98.8l3.9 10M403.8 119.6l3.9 10.5 3.9 9.4M431.1 166.9l3.9 2.6 4 1.9 3.9 1.4M450.7 173.6l3.9-.4 3.9-.7 3.9-.8 3.9-.9 3.9-.7 3.9-.6 3.9-.4 4-.3M431.1 169.1l3.9 .7 4 .5 3.9 .4 3.9 .1 3.9-.3 3.9-.5 3.9-.8 3.9-1M478 162.1l4-2.3 3.9-3 3.9-3.7 3.9-4.5 3.9-5.2 3.9-5.8 3.9-6.1 3.9-6.3 3.9-6.1M407.7 136.1l3.9-6.2 3.9-6.3M513.2 112.6l3.9 .3M497.6 128.7l3.9 4.9 3.9 4.8M407.7 132.4l3.9 4.8 3.9 4.8M431.1 160.4l3.9 3.1 4 2.2 3.9 1.5 3.9 1 3.9 .7 3.9 .5 3.9 .4 3.9 .3 3.9 .1 3.9-.2 3.9-.9 3.9-1.8 4-2.8 3.9-3.9 3.9-4.9 3.9-5.8 3.9-6.1 3.9-6 3.9-5.5 3.9-4.6M392.1 163.7l3.9-4.2 3.9-5.2M505.4 113.7l3.9 10.9M439 162.5l3.9 3.2 3.9 2 3.9 1.1 3.9 .7 3.9 .4 3.9 .4 3.9 .4 3.9 .5 3.9 .5 3.9 .4M439 172l3.9-.4 3.9-.4 3.9-.3 3.9-.2 3.9 0 3.9 .2 3.9 .4 3.9 .4 3.9 .4 3.9 .3M435 171l4 .3 3.9 .1 3.9-.1 3.9-.3 3.9-.4 3.9-.6 3.9-.6 3.9-.9 3.9-1.1 3.9-1.7 3.9-2.2 4-3.2 3.9-4 3.9-5.1 3.9-6 3.9-6.5 3.9-6.6 3.9-6.1 3.9-5.4 3.9-4.4 3.9-3.6 3.9-3.1M388.2 164.1l3.9-2.9 3.9-3.8M407.7 140.4l3.9-6.7 3.9-6.3M403.8 118.9l3.9 7 3.9 6.1 3.9 5.5 3.9 5.1 3.9 4.9 3.9 4.7M431.1 156.7l3.9 4 4 3.3 3.9 2.6 3.9 1.9 3.9 1.2 3.9 .8 3.9 .4 3.9 .1 3.9-.2 3.9-.6 3.9-1 3.9-1.6 4-2.4 3.9-3.5 3.9-4.8 3.9-6.2 3.9-7.5 3.9-8.2 3.9-8.3 3.9-7.8M521 104l3.9-2.2M388.2 163.6l3.9-4.1 3.9-5.5 3.9-6.9M407.7 130.8l3.9-8.1 3.9-7.2M407.7 134.1l3.9 6.5M435 166.8l4 1.9 3.9 1.2 3.9 .7 3.9 .3 3.9-.1 3.9-.2 3.9-.3 3.9-.2 3.9 .1 3.9 .2 3.9 .4 4 .4M435 169.6l4 .3 3.9 .4 3.9 .5 3.9 .5 3.9 .4 3.9 .1 3.9-.2 3.9-.5 3.9-.9 3.9-1.4 3.9-2.2 4-3.1 3.9-4.2 3.9-5.5 3.9-6.7 3.9-7.6 3.9-8.4 3.9-8.9M392.1 163.5l3.9-4.2 3.9-5.5M407.7 139.5l3.9-8.4 3.9-8.9M497.6 101.9l3.9 3.7M411.6 125l3.9 8 3.9 7.6M423.3 147.5l3.9 6 3.9 4.9 3.9 3.9 4 3 3.9 2.2 3.9 1.5 3.9 1 3.9 .6 3.9 .2 3.9-.1 3.9-.3 3.9-.7 3.9-.9 3.9-1.3 4-1.7"/>
<path fill="none" stroke="#3a9cff" stroke-width="0.6" stroke-opacity="0.7" d="M392.1 161.4l3.9-2.5M411.6 139.9l3.9-5.3M439 166.8l3.9 2.6 3.9 1.9 3.9 1.1 3.9 .7 3.9 .3 3.9 0 3.9-.4 3.9-.8 3.9-1.5 3.9-2.1M501.5 139l3.9-6.7 3.9-6.9M439 166.7l3.9 .7 3.9 .6 3.9 .7 3.9 .7 3.9 1 3.9 1.1 3.9 1.1M435 169.1l4 .6 3.9 .8 3.9 1 3.9 .8 3.9 .6 3.9 .3 3.9-.2 3.9-.8 3.9-1.2 3.9-1.8 3.9-2.4 4-3 3.9-3.6 3.9-4.4M411.6 128.5l3.9 6.8M439 169.1l3.9 2.8M462.4 173l3.9-1.2 3.9-1.5 3.9-1.8 3.9-2.1M482 163.8l3.9-3.2 3.9-4.2M392.1 162.3l3.9-3.7M458.5 168.8l3.9 1.3 3.9 1.1 3.9 .9 3.9 .6M466.3 173.3l3.9-.7 3.9-1.1 3.9-1.6M392.1 162.4l3.9-3.1M501.5 125.3l3.9 7.7M474.1 167.7l3.9 .4M439 170.8l3.9 0 3.9-.2 3.9-.3 3.9-.6 3.9-.8M407.7 138l3.9-6.7 3.9-6.8M439 165.6l3.9 1.7 3.9 .9 3.9 .3 3.9 0 3.9 0M392.1 162.3l3.9-2.8M411.6 141.5l3.9-5.9M439 167.1l3.9 1 3.9 .9 3.9 1 3.9 .9 3.9 .6 3.9 .3 3.9-.1 3.9-.8 3.9-1.5 3.9-2.4 4-3.4M485.9 159.2l3.9-5.5M411.6 142.3l3.9-6.7M439 163.6l3.9 3.9 3.9 2.7 3.9 1.7 3.9 1 3.9 .4 3.9 0 3.9-.5 3.9-.9 3.9-1.5 3.9-2.1 4-3.1M485.9 161.2l3.9-4.9M497.6 144.5l3.9-5.9 3.9-5.3 3.9-4.8M411.6 129.6l3.9-4.6M411.6 127.7l3.9 8.6M439 167.2l3.9 1.1 3.9 .4 3.9 .1 3.9-.1 3.9-.3M501.5 125.4l3.9 6.1M439 170.6l3.9 .6 3.9 .3 3.9-.1 3.9-.1 3.9-.1 3.9 .1 3.9 .2 3.9 .3 3.9 .2M435 168.5l4 .6 3.9 .8 3.9 .9 3.9 .8 3.9 .7 3.9 .4 3.9 .2 3.9 .1 3.9-.2M439 168.4l3.9 .9 3.9 .9 3.9 .7 3.9 .5 3.9 .4 3.9 .3 3.9 .1 3.9-.2 3.9-.5 3.9-.9M439 169.4l3.9 1.9 3.9 1.3M466.3 173.4l3.9-.9 3.9-1.6 3.9-2.4 4-3.5 3.9-5.1M439 166.7l3.9 2.6 3.9 1.7 3.9 1 3.9 .4 3.9 0 3.9-.2 3.9-.4 3.9-.4 3.9-.5 3.9-.5M470.2 173.1l3.9-1.6 3.9-2.3M485.9 161.4l3.9-6.1M446.8 167.4l3.9 1.2 3.9 1 3.9 .8 3.9 .7 3.9 .4 3.9 .2 3.9 0M454.6 173.5l3.9-.5 3.9-.5 3.9-.3 3.9-.2 3.9-.1M439 170.7l3.9 .7 3.9 .6 3.9 .4 3.9 .1 3.9-.3 3.9-.7 3.9-1.3 3.9-2.1M439 166.3l3.9 1.2 3.9 .7 3.9 .5 3.9 .2 3.9 .1 3.9 0 3.9-.4M489.8 153.5l3.9-4.4 3.9-4.7 3.9-5.3 3.9-5.9 3.9-6.6M392.1 162l3.9-3.5M411.6 140.5l3.9-5.7M411.6 130.2l3.9 6M439 167.7l3.9 1.6 3.9 .6 3.9 0 3.9-.3 3.9-.4 3.9-.6M442.9 166.4l3.9 2 3.9 1.2 3.9 .6 3.9 0 3.9-.4 3.9-.9M501.5 137.4l3.9-5.8 3.9-5.9M439 170l3.9 1.1 3.9 .5 3.9 .1 3.9-.2 3.9-.4 3.9-.5 3.9-.8 3.9-1.2M439 168l3.9 2 3.9 1.5 3.9 1.2M450.7 173l3.9 0 3.9-.1 3.9-.3 3.9-.5 3.9-.5 3.9-.6 3.9-.9M392.1 162.7l3.9-4.4M411.6 131.8l3.9-6.7M501.5 123.7l3.9 9M439 169l3.9 1.3 3.9 1 3.9 .9 3.9 .6 3.9 .3 3.9-.2 3.9-.8 3.9-1.7 3.9-2.4M450.7 168.4l3.9 1 3.9 .8 3.9 .5 3.9 .2 3.9-.5 3.9-1.1 3.9-2.1 4-3 3.9-4 3.9-4.9 3.9-5.4 3.9-5.8M501.5 138.2l3.9-5.8 3.9-5.6M411.6 127.9l3.9 7.2M442.9 166.4l3.9 1.5 3.9 1 3.9 .6 3.9 .3 3.9 .2 3.9 .1 3.9-.1 3.9-.3 3.9-.8M411.6 140.5l3.9-4.9M435 169.2l4 .1 3.9 0 3.9 .1 3.9 0 3.9-.1 3.9-.3 3.9-.6M501.5 140.2l3.9-6.5 3.9-7M392.1 162.5l3.9-2.4M462.4 173.4l3.9-1.3 3.9-1.8 3.9-2.6M501.5 124l3.9 7.8M439 167.1l3.9 1 3.9 .8 3.9 .8 3.9 .6 3.9 .5 3.9 .3 3.9 .1 3.9-.1 3.9-.3 3.9-.5M435 170.3l4 .1 3.9-.1 3.9-.2 3.9-.2 3.9-.3 3.9-.4 3.9-.4M485.9 159.7l3.9-4M501.5 138.1l3.9-7.4M439 165.3l3.9 2.6 3.9 1.8 3.9 1.4 3.9 .8 3.9 .4 3.9-.1 3.9-.5 3.9-1 3.9-1.5 3.9-2M501.5 140.7l3.9-7.6 3.9-8.2M439 167.9l3.9 1.4 3.9 .9 3.9 .4 3.9 0 3.9-.3 3.9-.6 3.9-.9M454.6 168.1l3.9 .8 3.9 .6 3.9 .3 3.9 .2 3.9 .1 3.9 0M442.9 172l3.9-.3 3.9-.2 3.9-.3 3.9-.2 3.9-.2 3.9-.3 3.9-.4 3.9-.6 3.9-.9M411.6 139.4l3.9-4.8M501.5 124.9l3.9 10M454.6 173.2l3.9-.7 3.9-.8 3.9-.9 3.9-.7 3.9-.6 3.9-.4M435 169.8l4 .5 3.9 .4 3.9 .1 3.9-.3 3.9-.5 3.9-.8 3.9-1M501.5 137.6l3.9-6.1M407.7 136.1l3.9-6.2M439 165.7l3.9 1.5 3.9 1 3.9 .7 3.9 .5 3.9 .4 3.9 .3 3.9 .1 3.9-.2 3.9-.9 3.9-1.8 4-2.8 3.9-3.9 3.9-4.9 3.9-5.8 3.9-6.1M501.5 137.8l3.9-5.5 3.9-4.6M446.8 167.7l3.9 1.1 3.9 .7 3.9 .4 3.9 .4 3.9 .4 3.9 .5 3.9 .5M442.9 171.6l3.9-.4 3.9-.3 3.9-.2 3.9 0 3.9 .2 3.9 .4 3.9 .4 3.9 .4M439 171.3l3.9 .1 3.9-.1 3.9-.3 3.9-.4 3.9-.6 3.9-.6 3.9-.9M411.6 132l3.9 5.5M439 164l3.9 2.6 3.9 1.9 3.9 1.2 3.9 .8 3.9 .4 3.9 .1 3.9-.2 3.9-.6 3.9-1 3.9-1.6 4-2.4M439 168.7l3.9 1.2 3.9 .7 3.9 .3 3.9-.1 3.9-.2 3.9-.3 3.9-.2 3.9 .1 3.9 .2 3.9 .4M435 169.6l4 .3 3.9 .4 3.9 .5 3.9 .5 3.9 .4 3.9 .1 3.9-.2 3.9-.5 3.9-.9 3.9-1.4 3.9-2.2 4-3.1M485.9 159.3l3.9-5.5M439 165.3l3.9 2.2 3.9 1.5 3.9 1 3.9 .6 3.9 .2 3.9-.1 3.9-.3 3.9-.7 3.9-.9 3.9-1.3"/>
<path fill="none" stroke="#28b8ff" stroke-width="0.6" stroke-opacity="0.8" d="M442.9 169.4l3.9 1.9 3.9 1.1M470.2 172.2l3.9-1.5M454.6 169.4l3.9 1 3.9 1.1 3.9 1.1M442.9 170.5l3.9 1 3.9 .8M462.4 173l3.9-.8 3.9-1.2 3.9-1.8M462.4 173l3.9-1.2 3.9-1.5 3.9-1.8M458.5 168.8l3.9 1.3 3.9 1.1 3.9 .9M442.9 170.8l3.9-.2 3.9-.3 3.9-.6 3.9-.8M446.8 169l3.9 1 3.9 .9 3.9 .6 3.9 .3 3.9-.1 3.9-.8 3.9-1.5M442.9 167.5l3.9 2.7 3.9 1.7M466.3 172.8l3.9-.9 3.9-1.5M446.8 168.7l3.9 .1M442.9 171.2l3.9 .3 3.9-.1 3.9-.1 3.9-.1 3.9 .1 3.9 .2 3.9 .3M442.9 169.9l3.9 .9 3.9 .8 3.9 .7M442.9 169.3l3.9 .9 3.9 .7 3.9 .5 3.9 .4 3.9 .3 3.9 .1 3.9-.2M470.2 172.5l3.9-1.6M442.9 169.3l3.9 1.7 3.9 1 3.9 .4 3.9 0 3.9-.2 3.9-.4 3.9-.4 3.9-.5M450.7 168.6l3.9 1 3.9 .8 3.9 .7 3.9 .4 3.9 .2M462.4 172.5l3.9-.3 3.9-.2M446.8 172l3.9 .4 3.9 .1 3.9-.3 3.9-.7 3.9-1.3M442.9 169.3l3.9 .6 3.9 0 3.9-.3 3.9-.4M446.8 168.4l3.9 1.2 3.9 .6 3.9 0 3.9-.4M442.9 171.1l3.9 .5 3.9 .1 3.9-.2 3.9-.4 3.9-.5 3.9-.8M442.9 170l3.9 1.5M462.4 172.6l3.9-.5 3.9-.5 3.9-.6M442.9 170.3l3.9 1 3.9 .9M462.4 172.9l3.9-.8 3.9-1.7M454.6 169.4l3.9 .8 3.9 .5 3.9 .2 3.9-.5 3.9-1.1M454.6 169.5l3.9 .3 3.9 .2 3.9 .1 3.9-.1 3.9-.3M442.9 169.3l3.9 .1 3.9 0M466.3 172.1l3.9-1.8M446.8 168.9l3.9 .8 3.9 .6 3.9 .5 3.9 .3 3.9 .1 3.9-.1 3.9-.3M442.9 170.3l3.9-.2 3.9-.2 3.9-.3 3.9-.4M442.9 167.9l3.9 1.8 3.9 1.4 3.9 .8 3.9 .4 3.9-.1 3.9-.5 3.9-1 3.9-1.5M442.9 169.3l3.9 .9 3.9 .4 3.9 0 3.9-.3 3.9-.6M462.4 169.5l3.9 .3 3.9 .2 3.9 .1M446.8 171.7l3.9-.2 3.9-.3 3.9-.2 3.9-.2 3.9-.3 3.9-.4 3.9-.6M458.5 172.5l3.9-.8 3.9-.9 3.9-.7 3.9-.6M442.9 170.7l3.9 .1 3.9-.3 3.9-.5 3.9-.8M454.6 169.4l3.9 .4 3.9 .3 3.9 .1 3.9-.2 3.9-.9M454.6 169.5l3.9 .4 3.9 .4 3.9 .4 3.9 .5 3.9 .5M442.9 171.6l3.9-.4 3.9-.3 3.9-.2 3.9 0 3.9 .2 3.9 .4 3.9 .4M442.9 171.4l3.9-.1 3.9-.3 3.9-.4 3.9-.6 3.9-.6M446.8 168.5l3.9 1.2 3.9 .8 3.9 .4 3.9 .1 3.9-.2 3.9-.6 3.9-1M442.9 169.9l3.9 .7 3.9 .3 3.9-.1 3.9-.2 3.9-.3 3.9-.2 3.9 .1 3.9 .2M442.9 170.3l3.9 .5 3.9 .5 3.9 .4 3.9 .1 3.9-.2 3.9-.5 3.9-.9 3.9-1.4M446.8 169l3.9 1 3.9 .6 3.9 .2 3.9-.1 3.9-.3 3.9-.7"/>
<path fill="none" stroke="#30e0c0" stroke-width="0.7" stroke-opacity="0.9" d="M466.3 172.2l3.9-1.2M450.7 170.3l3.9-.6M466.3 171.7l3.9-.8M450.7 169.9l3.9-.3M450.7 169.6l3.9 .6M450.7 169.7l3.9 .6M466.3 171.2l3.9-.1M450.7 169.9l3.9-.3M466.3 171.7l3.9-1M466.3 170.7l3.9 .5M450.7 169.7l3.9 .8"/>
<path d="M388.2 167H528.9" stroke="#3a5cff" stroke-width="1.0" stroke-opacity="0.8"/>
<path d="M388.2 168.5H528.9" stroke="#28c8f8" stroke-width="1.8" stroke-opacity="0.9"/>
<path d="M388.2 170.7H528.9" stroke="#40e070" stroke-width="2.6" stroke-opacity="1"/>
<path d="M439.7 171.7H486.6" stroke="#b8f040" stroke-width="0.9" stroke-opacity="0.8"/>
<path d="M388.2 173.1H528.9" stroke="#30c8f0" stroke-width="1.3" stroke-opacity="0.9"/>
<path d="M388.2 174.4H528.9" stroke="#3048f0" stroke-width="1.3" stroke-opacity="0.9"/>
<path d="M388.2 175.5H528.9" stroke="#9090ff" stroke-width="1.0" stroke-opacity="0.8"/>
</g>
<text transform="translate(379.5 171.5) rotate(-90)" font-size="4.6" text-anchor="middle" fill="#555" font-family="'Liberation Sans', Arial, sans-serif">0</text>
<text transform="translate(379.5 84.5) rotate(-90)" font-size="4.6" text-anchor="middle" fill="#555" font-family="'Liberation Sans', Arial, sans-serif">10µ</text>
<text transform="translate(542.3 171.5) rotate(-90)" font-size="4.6" text-anchor="middle" fill="#555" font-family="'Liberation Sans', Arial, sans-serif">0</text>
<text transform="translate(542.3 84.5) rotate(-90)" font-size="4.6" text-anchor="middle" fill="#555" font-family="'Liberation Sans', Arial, sans-serif">1e-005</text>
<text x="411.6" y="30.1" font-size="4.6" text-anchor="middle" fill="#555" font-family="'Liberation Sans', Arial, sans-serif">0</text>
<text x="458.5" y="30.1" font-size="4.6" text-anchor="middle" fill="#555" font-family="'Liberation Sans', Arial, sans-serif">0.5</text>
<text x="505.4" y="30.1" font-size="4.6" text-anchor="middle" fill="#555" font-family="'Liberation Sans', Arial, sans-serif">1</text>
<text x="411.6" y="188.9" font-size="4.6" text-anchor="middle" fill="#555" font-family="'Liberation Sans', Arial, sans-serif">0</text>
<text x="458.5" y="188.9" font-size="4.6" text-anchor="middle" fill="#555" font-family="'Liberation Sans', Arial, sans-serif">0.5</text>
<text x="505.4" y="188.9" font-size="4.6" text-anchor="middle" fill="#555" font-family="'Liberation Sans', Arial, sans-serif">1</text>
<text x="459.1" y="193.4" font-size="4.8" font-weight="bold" textLength="32.8" lengthAdjust="spacingAndGlyphs" text-anchor="middle" fill="#222" font-family="'Liberation Sans', Arial, sans-serif">Time (bit period)</text>
<text transform="translate(375.5 107) rotate(-90)" font-size="4.8" font-weight="bold" textLength="30" lengthAdjust="spacingAndGlyphs" text-anchor="middle" fill="#222" font-family="'Liberation Sans', Arial, sans-serif">Amplitude (a.u.)</text>
<path d="M193.3 261.4V434.2M199.8 261.4V434.2M206.2 261.4V434.2M212.7 261.4V434.2M219.2 261.4V434.2M225.7 261.4V434.2M232.2 261.4V434.2M238.6 261.4V434.2M245.1 261.4V434.2M251.6 261.4V434.2M258.1 261.4V434.2M264.5 261.4V434.2M271 261.4V434.2M277.5 261.4V434.2M284 261.4V434.2M290.4 261.4V434.2M296.9 261.4V434.2M303.4 261.4V434.2M309.9 261.4V434.2M316.3 261.4V434.2M322.8 261.4V434.2M329.3 261.4V434.2M335.8 261.4V434.2M342.2 261.4V434.2M348.7 261.4V434.2M355.2 261.4V434.2M361.7 261.4V434.2M186 427H363.5M186 420.7H363.5M186 414.4H363.5M186 408.2H363.5M186 401.9H363.5M186 395.6H363.5M186 389.3H363.5M186 383H363.5M186 376.8H363.5M186 370.5H363.5M186 364.2H363.5M186 357.9H363.5M186 351.6H363.5M186 345.4H363.5M186 339.1H363.5M186 332.8H363.5M186 326.5H363.5M186 320.2H363.5M186 314H363.5M186 307.7H363.5M186 301.4H363.5M186 295.1H363.5M186 288.8H363.5M186 282.6H363.5M186 276.3H363.5M186 270H363.5" stroke="#efefef" stroke-width="0.6" fill="none"/>
<path d="M186 261.4H363.5" stroke="#444" stroke-width="0.9" stroke-linecap="square"/>
<path d="M186 434.2H363.5" stroke="#444" stroke-width="0.9" stroke-linecap="square"/>
<path d="M186 261.4V434.2" stroke="#aaa" stroke-width="1.4" stroke-linecap="square"/>
<path d="M363.5 261.4V434.2" stroke="#333" stroke-width="1.1" stroke-linecap="square"/>
<path d="M193.3 261.4V434.2" stroke="#666" stroke-width="0.6"/>
<path d="M183 427H363.5" stroke="#666" stroke-width="0.6"/>
<path d="M187.9 261.4v1.5M187.9 434.2v-1.5M198.7 261.4v1.5M198.7 434.2v-1.5M209.5 261.4v1.5M209.5 434.2v-1.5M220.3 261.4v1.5M220.3 434.2v-1.5M231.1 261.4v1.5M231.1 434.2v-1.5M241.9 261.4v1.5M241.9 434.2v-1.5M252.7 261.4v1.5M252.7 434.2v-1.5M263.5 261.4v1.5M263.5 434.2v-1.5M274.2 261.4v1.5M274.2 434.2v-1.5M285 261.4v1.5M285 434.2v-1.5M295.8 261.4v1.5M295.8 434.2v-1.5M306.6 261.4v1.5M306.6 434.2v-1.5M317.4 261.4v1.5M317.4 434.2v-1.5M328.2 261.4v1.5M328.2 434.2v-1.5M339 261.4v1.5M339 434.2v-1.5M349.8 261.4v1.5M349.8 434.2v-1.5M360.6 261.4v1.5M360.6 434.2v-1.5M186 427h1.5M363.5 427h-1.5M192.3 427h2M186 420.7h1.5M363.5 420.7h-1.5M192.3 420.7h2M186 414.4h1.5M363.5 414.4h-1.5M192.3 414.4h2M186 408.2h1.5M363.5 408.2h-1.5M192.3 408.2h2M186 401.9h1.5M363.5 401.9h-1.5M192.3 401.9h2M186 395.6h1.5M363.5 395.6h-1.5M192.3 395.6h2M186 389.3h1.5M363.5 389.3h-1.5M192.3 389.3h2M186 383h1.5M363.5 383h-1.5M192.3 383h2M186 376.8h1.5M363.5 376.8h-1.5M192.3 376.8h2M186 370.5h1.5M363.5 370.5h-1.5M192.3 370.5h2M186 364.2h1.5M363.5 364.2h-1.5M192.3 364.2h2M186 357.9h1.5M363.5 357.9h-1.5M192.3 357.9h2M186 351.6h1.5M363.5 351.6h-1.5M192.3 351.6h2M186 345.4h1.5M363.5 345.4h-1.5M192.3 345.4h2M186 339.1h1.5M363.5 339.1h-1.5M192.3 339.1h2M186 332.8h1.5M363.5 332.8h-1.5M192.3 332.8h2M186 326.5h1.5M363.5 326.5h-1.5M192.3 326.5h2M186 320.2h1.5M363.5 320.2h-1.5M192.3 320.2h2M186 314h1.5M363.5 314h-1.5M192.3 314h2M186 307.7h1.5M363.5 307.7h-1.5M192.3 307.7h2M186 301.4h1.5M363.5 301.4h-1.5M192.3 301.4h2M186 295.1h1.5M363.5 295.1h-1.5M192.3 295.1h2M186 288.8h1.5M363.5 288.8h-1.5M192.3 288.8h2M186 282.6h1.5M363.5 282.6h-1.5M192.3 282.6h2M186 276.3h1.5M363.5 276.3h-1.5M192.3 276.3h2M186 270h1.5M363.5 270h-1.5M192.3 270h2" stroke="#555" stroke-width="0.6"/>
<g clip-path="url(#c4)">
<g fill="none" stroke="#5a70ff" stroke-width="0.55" stroke-opacity="0.75">
<path d="M193.3 413.2l3.4-.1 3.3-.2 3.4-.1 3.4-.1 3.4-.1 3.3-.1 3.4-.1 3.4 0 3.4-.1 3.3-.1 3.4-.1 3.4-.1 3.3-.1 3.4-.1 3.4-.1 3.4-.1 3.3-.1 3.4 0 3.4-.1 3.4 0 3.3-.1 3.4 0 3.4 0 3.3 .1 3.4 0 3.4 .1 3.4 .1 3.3 .2 3.4 .1 3.4 .2 3.4 .2 3.3 .2 3.4 .2 3.4 .1 3.3 .2 3.4 .2 3.4 .2 3.4 .1 3.3 .1 3.4 .2 3.4 .1 3.4 .1 3.3 0 3.4 .1 3.4 0 3.3 .1 3.4 0 3.4 0"/>
<path d="M193.3 419.5l3.4 .1 3.3 .1 3.4 .1 3.4 .1 3.4 .2 3.3 .1 3.4 .1 3.4 .2 3.4 .1 3.3 .1 3.4 .2 3.4 .1 3.3 .1 3.4 .1 3.4 .2 3.4 .1 3.3 .1 3.4 .1 3.4 .1 3.4 .1 3.3 .1 3.4 .1 3.4 .1 3.3 .1 3.4 .1 3.4 0 3.4 .1 3.3 0 3.4 .1 3.4 0 3.4 0 3.3 0 3.4 0 3.4 0 3.3-.1 3.4 0 3.4-.1 3.4 0 3.3-.1 3.4-.1 3.4-.1 3.4-.1 3.3-.1 3.4-.1 3.4-.1 3.3-.1 3.4-.1 3.4-.1"/>
<path d="M193.3 418.7l3.4 .1 3.3 0 3.4 .1 3.4 0 3.4 .1 3.3 .1 3.4 .1 3.4 0 3.4 .1 3.3 .1 3.4 .1 3.4 .1 3.3 0 3.4 .1 3.4 0 3.4 .1 3.3 0 3.4 .1 3.4 0 3.4 .1 3.3 0 3.4 .1 3.4 .1 3.3 0 3.4 .1 3.4 .1 3.4 .2 3.3 .1 3.4 .1 3.4 .1 3.4 .1 3.3 .2 3.4 .1 3.4 .1 3.3 .1 3.4 .1 3.4 0 3.4 0 3.3 0 3.4 0 3.4 0 3.4-.1 3.3-.1 3.4-.1 3.4-.1 3.3-.1 3.4-.2 3.4-.2"/>
<path d="M193.3 413.1l3.4 .2 3.3 .1 3.4 .1 3.4 .2 3.4 .1 3.3 .1 3.4 .2 3.4 .1 3.4 .2 3.3 .1 3.4 .2 3.4 .1 3.3 .1 3.4 .1 3.4 .2 3.4 .1 3.3 .1 3.4 0 3.4 .1 3.4 .1 3.3 .1 3.4 0 3.4 .1 3.3 0 3.4 .1 3.4 0 3.4 .1 3.3 0 3.4 .1 3.4 0 3.4 .1 3.3 0 3.4 .1 3.4 0 3.3 0 3.4 0 3.4 0 3.4 0 3.3 0 3.4-.1 3.4 0 3.4-.1 3.3-.1 3.4-.1 3.4-.1 3.3-.2 3.4-.1 3.4-.1"/>
<path d="M193.3 415.2l3.4-.1 3.3-.1 3.4-.2 3.4-.1 3.4-.2 3.3-.2 3.4-.1 3.4-.2 3.4-.2 3.3-.2 3.4-.1 3.4-.2 3.3-.2 3.4-.1 3.4-.2 3.4-.1 3.3-.1 3.4-.1 3.4-.1 3.4 0 3.3-.1 3.4 0 3.4-.1 3.3 0 3.4 0 3.4 0 3.4 0 3.3 0 3.4 0 3.4 0 3.4 .1 3.3 .1 3.4 0 3.4 .1 3.3 .1 3.4 .2 3.4 .1 3.4 .2 3.3 .1 3.4 .2 3.4 .2 3.4 .1 3.3 .2 3.4 .2 3.4 .1 3.3 .2 3.4 .1 3.4 .1"/>
<path d="M193.3 417.4l3.4 0 3.3 0 3.4 0 3.4 0 3.4 0 3.3 0 3.4 .1 3.4 0 3.4 0 3.3 .1 3.4 0 3.4 0 3.3 .1 3.4 0 3.4 .1 3.4 0 3.3 0 3.4 0 3.4 0 3.4 0 3.3 0 3.4-.1 3.4 0 3.3-.1 3.4-.1 3.4-.1 3.4-.1 3.3-.1 3.4-.2 3.4-.1 3.4-.1 3.3-.2 3.4-.1 3.4-.2 3.3-.1 3.4-.2 3.4-.1 3.4-.1 3.3-.1 3.4-.1 3.4-.1 3.4-.1 3.3-.1 3.4-.1 3.4 0 3.3-.1 3.4 0 3.4 0"/>
<path d="M193.3 419.7l3.4 .1 3.3 0 3.4 0 3.4 .1 3.4 0 3.3 0 3.4-.1 3.4 0 3.4 0 3.3-.1 3.4-.1 3.4-.1 3.3-.1 3.4-.2 3.4-.1 3.4-.2 3.3-.2 3.4-.2 3.4-.1 3.4-.2 3.3-.2 3.4-.1 3.4-.2 3.3-.1 3.4-.1 3.4-.1 3.4 0 3.3 0 3.4 0 3.4 0 3.4 .1 3.3 .1 3.4 .1 3.4 .1 3.3 .1 3.4 .1 3.4 .2 3.4 .1 3.3 .2 3.4 .2 3.4 .2 3.4 .1 3.3 .3 3.4 .2 3.4 .2 3.3 .2 3.4 .3 3.4 .2"/>
<path d="M193.3 425.2l3.4-.5 3.3-.5 3.4-.5 3.4-.4 3.4-.5 3.3-.4 3.4-.3 3.4-.3 3.4-.2 3.3-.2 3.4-.1 3.4 0 3.3 0 3.4 .1 3.4 .1 3.4 .1 3.3 .2 3.4 .2 3.4 .2 3.4 .2 3.3 .3 3.4 .2 3.4 .2 3.3 .1 3.4 .2 3.4 .1 3.4 .1 3.3 .1 3.4 .1 3.4 0 3.4 0 3.3-.1 3.4 0 3.4-.1 3.3-.1 3.4-.2 3.4-.1 3.4-.2 3.3-.1 3.4-.2 3.4-.1 3.4-.1 3.3-.2 3.4-.1 3.4-.1 3.3-.1 3.4-.1 3.4-.1"/>
<path d="M193.3 423.8l3.4-.1 3.3-.1 3.4 0 3.4-.1 3.4 0 3.3 .1 3.4 0 3.4 .1 3.4 .1 3.3 .2 3.4 .1 3.4 .2 3.3 .1 3.4 .2 3.4 .2 3.4 .2 3.3 .2 3.4 .2 3.4 .2 3.4 .1 3.3 .2 3.4 .1 3.4 .1 3.3 .1 3.4 .1 3.4 0 3.4 0 3.3 0 3.4 0 3.4-.1 3.4-.1 3.3-.1 3.4-.1 3.4-.2 3.3-.1 3.4-.1 3.4-.2 3.4-.1 3.3-.2 3.4-.1 3.4-.1 3.4-.2 3.3-.1 3.4-.1 3.4-.1 3.3 0 3.4-.1 3.4-.1"/>
<path d="M193.3 420.1l3.4-.1 3.3 0 3.4-.1 3.4 0 3.4 0 3.3 0 3.4 .1 3.4 0 3.4 .1 3.3 .1 3.4 .2 3.4 .1 3.3 .2 3.4 .1 3.4 .2 3.4 .2 3.3 .2 3.4 .1 3.4 .2 3.4 .2 3.3 .1 3.4 .1 3.4 .2 3.3 .1 3.4 .1 3.4 0 3.4 .1 3.3 0 3.4 0 3.4 0 3.4 0 3.3 0 3.4-.1 3.4-.1 3.3-.1 3.4-.1 3.4-.2 3.4-.1 3.3-.1 3.4-.2 3.4-.1 3.4-.1 3.3-.1 3.4-.1 3.4-.1 3.3-.1 3.4 0 3.4-.1"/>
<path d="M193.3 415.2l3.4-.2 3.3-.1 3.4-.2 3.4-.1 3.4-.2 3.3-.1 3.4-.1 3.4-.1 3.4-.1 3.3-.1 3.4 0 3.4-.1 3.3 0 3.4 0 3.4 0 3.4 .1 3.3 0 3.4 .1 3.4 .1 3.4 0 3.3 .1 3.4 .2 3.4 .1 3.3 .1 3.4 .2 3.4 .1 3.4 .1 3.3 .2 3.4 .1 3.4 .2 3.4 .1 3.3 .1 3.4 .1 3.4 .1 3.3 .1 3.4 .1 3.4 0 3.4 .1 3.3 0 3.4 .1 3.4 0 3.4 0 3.3 0 3.4 0 3.4 .1 3.3 0 3.4 0 3.4 0"/>
<path d="M193.3 419.3l3.4 .1 3.3 .2 3.4 .2 3.4 .2 3.4 .1 3.3 .2 3.4 .1 3.4 .1 3.4 .1 3.3 0 3.4 0 3.4 0 3.3 0 3.4-.1 3.4-.2 3.4-.1 3.3-.1 3.4-.2 3.4-.2 3.4-.1 3.3-.2 3.4-.1 3.4-.1 3.3-.1 3.4-.1 3.4 0 3.4 0 3.3 .1 3.4 0 3.4 .1 3.4 .2 3.3 .1 3.4 .2 3.4 .2 3.3 .2 3.4 .2 3.4 .2 3.4 .2 3.3 .2 3.4 .2 3.4 .2 3.4 .2 3.3 .2 3.4 .2 3.4 .1 3.3 .2 3.4 .1 3.4 .2"/>
<path d="M193.3 425l3.4-.1 3.3-.1 3.4-.1 3.4-.2 3.4-.1 3.3-.2 3.4-.1 3.4-.2 3.4-.2 3.3-.2 3.4-.2 3.4-.2 3.3-.1 3.4-.2 3.4-.2 3.4-.1 3.3-.1 3.4-.1 3.4-.1 3.4-.1 3.3-.1 3.4 0 3.4-.1 3.3 0 3.4 0 3.4 0 3.4 0 3.3 0 3.4 0 3.4 .1 3.4 0 3.3 0 3.4 0 3.4 0 3.3 .1 3.4 0 3.4 0 3.4 0 3.3 .1 3.4 0 3.4 0 3.4 .1 3.3 .1 3.4 0 3.4 .1 3.3 .1 3.4 .1 3.4 .1"/>
<path d="M193.3 424.2l3.4-.1 3.3-.1 3.4-.1 3.4 0 3.4 0 3.3 0 3.4 0 3.4 0 3.4 .1 3.3 .1 3.4 .1 3.4 .1 3.3 .1 3.4 .1 3.4 .1 3.4 .2 3.3 .1 3.4 .2 3.4 .1 3.4 .1 3.3 .1 3.4 .1 3.4 .1 3.3 .1 3.4 0 3.4 0 3.4 0 3.3 0 3.4-.1 3.4-.1 3.4-.1 3.3-.2 3.4-.1 3.4-.2 3.3-.2 3.4-.3 3.4-.2 3.4-.2 3.3-.3 3.4-.2 3.4-.2 3.4-.2 3.3-.2 3.4-.1 3.4-.1 3.3 0 3.4 0 3.4 0"/>
<path d="M193.3 418.2l3.4 0 3.3 0 3.4 0 3.4-.1 3.4 0 3.3 0 3.4 0 3.4 0 3.4-.1 3.3 0 3.4 0 3.4-.1 3.3 0 3.4 0 3.4-.1 3.4-.1 3.3 0 3.4-.1 3.4-.1 3.4-.2 3.3-.1 3.4-.1 3.4-.2 3.3-.1 3.4-.2 3.4-.1 3.4-.2 3.3-.1 3.4-.1 3.4-.1 3.4-.1 3.3-.1 3.4-.1 3.4 0 3.3 0 3.4 0 3.4 0 3.4 0 3.3 .1 3.4 0 3.4 .1 3.4 .1 3.3 .1 3.4 .1 3.4 .1 3.3 .1 3.4 .1 3.4 .2"/>
<path d="M193.3 423.2l3.4 0 3.3 0 3.4 0 3.4 0 3.4 0 3.3-.1 3.4 0 3.4 0 3.4 0 3.3-.1 3.4 0 3.4 0 3.3 0 3.4 0 3.4 .1 3.4 0 3.3 .1 3.4 0 3.4 .1 3.4 .1 3.3 .2 3.4 .1 3.4 .2 3.3 .1 3.4 .2 3.4 .2 3.4 .1 3.3 .2 3.4 .2 3.4 .1 3.4 .2 3.3 .1 3.4 .1 3.4 0 3.3 .1 3.4 0 3.4 0 3.4 0 3.3 0 3.4-.1 3.4-.1 3.4-.2 3.3-.1 3.4-.2 3.4-.2 3.3-.2 3.4-.2 3.4-.3"/>
<path d="M193.3 421.3l3.4 .1 3.3 .2 3.4 .1 3.4 .1 3.4 .1 3.3 .2 3.4 .1 3.4 .1 3.4 0 3.3 .1 3.4 0 3.4 0 3.3 0 3.4 0 3.4-.1 3.4 0 3.3-.1 3.4-.1 3.4 0 3.4-.1 3.3 0 3.4 0 3.4 0 3.3 0 3.4 0 3.4 .1 3.4 0 3.3 .1 3.4 .1 3.4 .1 3.4 .2 3.3 .1 3.4 .2 3.4 .1 3.3 .2 3.4 .2 3.4 .2 3.4 .1 3.3 .2 3.4 .1 3.4 .2 3.4 .1 3.3 .1 3.4 .1 3.4 0 3.3 0 3.4 0 3.4 0"/>
<path d="M193.3 410.6l3.4 .1 3.3 .1 3.4 .1 3.4 0 3.4 0 3.3 0 3.4-.1 3.4-.1 3.4-.1 3.3-.2 3.4-.1 3.4-.2 3.3-.1 3.4-.2 3.4-.1 3.4-.1 3.3-.1 3.4 0 3.4 0 3.4 0 3.3 0 3.4 .1 3.4 .1 3.3 .1 3.4 .2 3.4 .1 3.4 .2 3.3 .1 3.4 .2 3.4 .2 3.4 .1 3.3 .2 3.4 .1 3.4 .1 3.3 .1 3.4 .1 3.4 .1 3.4 .1 3.3 .1 3.4 0 3.4 .1 3.4 .1 3.3 .1 3.4 .1 3.4 .1 3.3 .2 3.4 .2 3.4 .2"/>
<path d="M193.3 424.1l3.4 0 3.3-.1 3.4 0 3.4 0 3.4-.1 3.3-.1 3.4 0 3.4-.1 3.4-.1 3.3-.1 3.4 0 3.4-.1 3.3-.1 3.4-.1 3.4-.1 3.4 0 3.3-.1 3.4-.1 3.4-.1 3.4-.1 3.3-.1 3.4-.1 3.4-.1 3.3 0 3.4-.1 3.4-.1 3.4-.1 3.3-.1 3.4-.1 3.4-.1 3.4-.1 3.3-.1 3.4-.1 3.4 0 3.3-.1 3.4 0 3.4 0 3.4 0 3.3 0 3.4 0 3.4 0 3.4 .1 3.3 0 3.4 .1 3.4 .1 3.3 0 3.4 .1 3.4 .1"/>
<path d="M193.3 416.1l3.4 .1 3.3 .2 3.4 .1 3.4 .2 3.4 .2 3.3 .2 3.4 .1 3.4 .2 3.4 .3 3.3 .2 3.4 .2 3.4 .2 3.3 .2 3.4 .1 3.4 .2 3.4 .1 3.3 .2 3.4 0 3.4 .1 3.4 0 3.3 .1 3.4-.1 3.4 0 3.3 0 3.4-.1 3.4-.1 3.4 0 3.3-.1 3.4-.1 3.4-.1 3.4-.1 3.3-.1 3.4 0 3.4-.1 3.3-.1 3.4-.1 3.4-.1 3.4-.1 3.3-.1 3.4-.1 3.4-.2 3.4-.1 3.3-.1 3.4-.2 3.4-.2 3.3-.1 3.4-.2 3.4-.2"/>
<path d="M193.3 414.8l3.4 .5 3.3 .5 3.4 .5 3.4 .3 3.4 .3 3.3 .3 3.4 .1 3.4 .2 3.4 0 3.3-.1 3.4-.1 3.4-.1 3.3-.2 3.4-.3 3.4-.3 3.4-.3 3.3-.3 3.4-.3 3.4-.3 3.4-.3 3.3-.2 3.4-.2 3.4-.1 3.3-.1 3.4 0 3.4 0 3.4 .1 3.3 .2 3.4 .1 3.4 .2 3.4 .2 3.3 .2 3.4 .2 3.4 .2 3.3 .2 3.4 .1 3.4 .1 3.4 0 3.3 0 3.4 0 3.4-.1 3.4-.1 3.3-.2 3.4-.1 3.4-.2 3.3-.1 3.4-.1 3.4-.2"/>
<path d="M193.3 419.9l3.4-.1 3.3 0 3.4-.1 3.4-.1 3.4 0 3.3-.1 3.4-.1 3.4 0 3.4-.1 3.3 0 3.4 0 3.4 0 3.3 0 3.4 0 3.4 0 3.4 0 3.3 0 3.4 .1 3.4 0 3.4 .1 3.3 0 3.4 .1 3.4 .1 3.3 .1 3.4 .1 3.4 .1 3.4 .1 3.3 .1 3.4 .2 3.4 .1 3.4 .1 3.3 .2 3.4 .1 3.4 .1 3.3 .2 3.4 .1 3.4 .1 3.4 .1 3.3 .1 3.4 .1 3.4 .1 3.4 0 3.3 0 3.4 0 3.4 0 3.3-.1 3.4-.1 3.4-.1"/>
</g>
<g fill="none" stroke="#3048ff" stroke-width="0.55" stroke-opacity="0.85">
<path d="M193.3 415.6l3.4-.6 3.3-.9 3.4-.9 3.4-1.2 3.4-1.2 3.3-1.5 3.4-1.7 3.4-2 3.4-2.4 3.3-2.8 3.4-3.1 3.4-3.4 3.3-3.3 3.4-3 3.4-2.8 3.4-2.4 3.3-2.1 3.4-2 3.4-1.9 3.4-1.7 3.3-1.7 3.4-1.6 3.4-1.5 3.3-1.3 3.4-1.1 3.4-.9 3.4-.6 3.3-.4 3.4-.1 3.4 0 3.4 .3 3.3 .4 3.4 .4 3.4 .4 3.3 .4 3.4 .2 3.4 .1 3.4 0 3.3-.2 3.4-.2 3.4-.2 3.4-.2 3.3-.1 3.4 .1 3.4 .2 3.3 .3 3.4 .5 3.4 .6"/>
<path d="M193.3 417.6l3.4 1 3.3 .5 3.4-.2 3.4-1.1 3.4-2 3.3-3 3.4-4 3.4-4.9 3.4-5.4 3.3-5.7 3.4-5.6 3.4-5 3.3-4.3 3.4-3.5 3.4-2.5 3.4-1.7 3.3-1.1 3.4-.5 3.4-.3 3.4-.2 3.3-.3 3.4-.4 3.4-.7 3.3-1 3.4-1.3 3.4-1.5 3.4-1.6 3.3-1.7 3.4-1.6 3.4-1.3 3.4-1.1 3.3-.7 3.4-.3 3.4 .1 3.3 .6 3.4 .9 3.4 1.3 3.4 1.5 3.3 1.6 3.4 1.6 3.4 1.6 3.4 1.4 3.3 1.2 3.4 .9 3.4 .7 3.3 .3 3.4 .1 3.4-.2"/>
<path d="M193.3 399l3.4-1.3 3.3-1.7 3.4-2.3 3.4-2.6 3.4-3.1 3.3-3.2 3.4-3.4 3.4-3.4 3.4-3.2 3.3-2.9 3.4-2.6 3.4-2.3 3.3-1.9 3.4-1.6 3.4-1.4 3.4-1.2 3.3-.9 3.4-.9 3.4-.7 3.4-.6 3.3-.6 3.4-.6 3.4-.6 3.3-.6 3.4-.7 3.4-.8 3.4-.9 3.3-1 3.4-1.1 3.4-1.1 3.4-1.2 3.3-1.1 3.4-1 3.4-.9 3.3-.8 3.4-.6 3.4-.2 3.4-.1 3.3 .3 3.4 .6 3.4 .9 3.4 1.1 3.3 1.3 3.4 1.4 3.4 1.5 3.3 1.4 3.4 1.4 3.4 1.3"/>
<path d="M193.3 414.2l3.4-1.9 3.3-2.1 3.4-2.3 3.4-2.6 3.4-2.8 3.3-3.2 3.4-3.4 3.4-3.7 3.4-3.7 3.3-3.6 3.4-3.2 3.4-2.7 3.3-2.1 3.4-1.4 3.4-.9 3.4-.5 3.3-.2 3.4 0 3.4 .1 3.4 .1 3.3 .2 3.4 .1 3.4 .1 3.3 0 3.4 0 3.4-.1 3.4-.1 3.3-.2 3.4-.2 3.4-.3 3.4-.4 3.3-.3 3.4-.4 3.4-.4 3.3-.3 3.4-.3 3.4-.2 3.4-.1 3.3-.1 3.4 .1 3.4 .1 3.4 .2 3.3 .3 3.4 .2 3.4 .3 3.3 .3 3.4 .2 3.4 .2"/>
<path d="M193.3 389.3l3.4 .7 3.3 1 3.4 1.1 3.4 1.2 3.4 1.4 3.3 1.5 3.4 1.6 3.4 1.6 3.4 1.6 3.3 1.6 3.4 1.5 3.4 1.4 3.3 1.3 3.4 1 3.4 .8 3.4 .5 3.3 0 3.4-.5 3.4-1 3.4-1.8 3.3-2.5 3.4-3.2 3.4-4 3.3-4.5 3.4-4.7 3.4-4.8 3.4-4.6 3.3-4 3.4-3.6 3.4-2.9 3.4-2.4 3.3-2 3.4-1.5 3.4-1.3 3.3-.9 3.4-.7 3.4-.4 3.4-.1 3.3 .2 3.4 .4 3.4 .7 3.4 1 3.3 1.1 3.4 1.2 3.4 1.3 3.3 1.2 3.4 1.1 3.4 1"/>
<path d="M193.3 366.4l3.4-.4 3.3-.3 3.4-.2 3.4-.1 3.4 .2 3.3 .3 3.4 .6 3.4 .8 3.4 1.2 3.3 1.4 3.4 1.7 3.4 2 3.3 2.2 3.4 2.3 3.4 2.5 3.4 2.6 3.3 2.4 3.4 2.2 3.4 1.9 3.4 1.4 3.3 .7 3.4 0 3.4-.8 3.3-1.5 3.4-2.1 3.4-2.5 3.4-2.7 3.3-2.5 3.4-2.4 3.4-2.1 3.4-2 3.3-1.8 3.4-1.7 3.4-1.8 3.3-1.7 3.4-1.8 3.4-1.8 3.4-1.8 3.3-1.7 3.4-1.6 3.4-1.5 3.4-1.3 3.3-1.2 3.4-1 3.4-.9 3.3-.7 3.4-.6 3.4-.4"/>
<path d="M193.3 367.6l3.4-.7 3.3-.7 3.4-.8 3.4-.6 3.4-.5 3.3-.3 3.4 .2 3.4 .7 3.4 1.2 3.3 2 3.4 2.6 3.4 3.3 3.3 3.9 3.4 4.4 3.4 4.7 3.4 4.8 3.3 4.7 3.4 4.4 3.4 4 3.4 3.5 3.3 2.8 3.4 2.1 3.4 1.3 3.3 .4 3.4-.5 3.4-1.4 3.4-2.3 3.3-2.9 3.4-3.3 3.4-3.6 3.4-3.5 3.3-3.2 3.4-3 3.4-2.5 3.3-2.2 3.4-1.8 3.4-1.5 3.4-1.2 3.3-1 3.4-.8 3.4-.6 3.4-.5 3.3-.4 3.4-.3 3.4-.3 3.3-.2 3.4-.3 3.4-.2"/>
<path d="M193.3 362.6l3.4-.1 3.3 .2 3.4 .4 3.4 .7 3.4 1.1 3.3 1.3 3.4 1.8 3.4 2.1 3.4 2.4 3.3 2.7 3.4 3 3.4 3.3 3.3 3.4 3.4 3.6 3.4 3.6 3.4 3.6 3.3 3.3 3.4 3.1 3.4 2.7 3.4 2.2 3.3 1.6 3.4 .8 3.4-.1 3.3-.9 3.4-1.9 3.4-2.7 3.4-3.2 3.3-3.5 3.4-3.6 3.4-3.4 3.4-3.1 3.3-2.7 3.4-2.4 3.4-2 3.3-1.8 3.4-1.4 3.4-1.3 3.4-1 3.3-.8 3.4-.7 3.4-.5 3.4-.4 3.3-.3 3.4-.3 3.4-.3 3.3-.2 3.4-.3 3.4-.2"/>
<path d="M193.3 417.2l3.4 .5 3.3-.4 3.4-1.2 3.4-1.9 3.4-2.7 3.3-3.2 3.4-3.8 3.4-4 3.4-4.2 3.3-4.2 3.4-4.1 3.4-4 3.3-3.7 3.4-3.4 3.4-3 3.4-2.7 3.3-2.4 3.4-2 3.4-1.8 3.4-1.6 3.3-1.5 3.4-1.3 3.4-1.1 3.3-1.1 3.4-1 3.4-.8 3.4-.6 3.3-.4 3.4-.1 3.4 .2 3.4 .4 3.3 .7 3.4 .8 3.4 1 3.3 1.1 3.4 1 3.4 1 3.4 .9 3.3 .7 3.4 .6 3.4 .4 3.4 .2 3.3 .1 3.4 0 3.4-.1 3.3-.2 3.4-.2 3.4-.3"/>
<path d="M193.3 411.4l3.4-2.6 3.3-3.8 3.4-4.7 3.4-5.5 3.4-6 3.3-6.3 3.4-6.2 3.4-6.2 3.4-5.8 3.3-5.3 3.4-4.8 3.4-4.2 3.3-3.5 3.4-3 3.4-2.3 3.4-1.8 3.3-1.4 3.4-.9 3.4-.5 3.4-.4 3.3-.1 3.4-.1 3.4 0 3.3-.1 3.4-.1 3.4-.2 3.4-.3 3.3-.4 3.4-.4 3.4-.5 3.4-.5 3.3-.5 3.4-.3 3.4-.2 3.3-.1 3.4 .1 3.4 .2 3.4 .3 3.3 .3 3.4 .4 3.4 .3 3.4 .2 3.3 0 3.4-.1 3.4-.3 3.3-.4 3.4-.6 3.4-.6"/>
<path d="M193.3 368.4l3.4-.8 3.3-.7 3.4-.6 3.4-.4 3.4-.3 3.3 .1 3.4 .3 3.4 .6 3.4 .8 3.3 .9 3.4 1 3.4 1 3.3 .9 3.4 .8 3.4 .5 3.4 .3 3.3 .1 3.4-.2 3.4-.4 3.4-.5 3.3-.5 3.4-.4 3.4-.4 3.3 0 3.4 .2 3.4 .7 3.4 1.1 3.3 1.7 3.4 2.2 3.4 2.8 3.4 3.3 3.3 3.7 3.4 4 3.4 4.3 3.3 4.2 3.4 4 3.4 3.7 3.4 3 3.3 2.3 3.4 1.4 3.4 .5 3.4-.6 3.3-1.4 3.4-2.2 3.4-3 3.3-3.5 3.4-3.9 3.4-4.2"/>
<path d="M193.3 373l3.4 0 3.3-.1 3.4-.2 3.4-.2 3.4-.3 3.3-.3 3.4-.3 3.4-.2 3.4-.3 3.3-.1 3.4-.1 3.4 0 3.3 0 3.4 .2 3.4 .2 3.4 .4 3.3 .4 3.4 .6 3.4 .7 3.4 .8 3.3 .8 3.4 1 3.4 1.2 3.3 1.2 3.4 1.4 3.4 1.7 3.4 1.8 3.3 2.2 3.4 2.4 3.4 2.8 3.4 3.1 3.3 3.3 3.4 3.5 3.4 3.6 3.3 3.6 3.4 3.4 3.4 3.2 3.4 2.8 3.3 2.3 3.4 1.7 3.4 1.1 3.4 .4 3.3-.3 3.4-1 3.4-1.7 3.3-2.2 3.4-2.8 3.4-3.2"/>
<path d="M193.3 415.3l3.4-.3 3.3-1.1 3.4-2 3.4-2.8 3.4-3.5 3.3-4 3.4-4.4 3.4-4.6 3.4-4.6 3.3-4.7 3.4-4.4 3.4-4.2 3.3-3.9 3.4-3.5 3.4-3.1 3.4-2.6 3.3-2.1 3.4-1.7 3.4-1.2 3.4-.7 3.3-.4 3.4 0 3.4 .2 3.3 .3 3.4 .4 3.4 .3 3.4 .2 3.3 .1 3.4-.2 3.4-.4 3.4-.5 3.3-.8 3.4-.8 3.4-.9 3.3-.9 3.4-.9 3.4-.7 3.4-.7 3.3-.5 3.4-.3 3.4-.2 3.4-.1 3.3 0 3.4 .1 3.4 .2 3.3 .1 3.4 .2 3.4 .1"/>
<path d="M193.3 380.7l3.4 .4 3.3 .3 3.4 .2 3.4 .2 3.4 .1 3.3-.1 3.4-.1 3.4-.3 3.4-.3 3.3-.4 3.4-.4 3.4-.4 3.3-.4 3.4-.4 3.4-.4 3.4-.4 3.3-.3 3.4-.2 3.4-.2 3.4 0 3.3 .1 3.4 .3 3.4 .6 3.3 .8 3.4 1.1 3.4 1.5 3.4 1.8 3.3 2.2 3.4 2.4 3.4 2.7 3.4 2.8 3.3 2.8 3.4 2.9 3.4 2.7 3.3 2.4 3.4 2.1 3.4 1.6 3.4 1.2 3.3 .7 3.4 .1 3.4-.5 3.4-1 3.3-1.5 3.4-1.9 3.4-2.3 3.3-2.5 3.4-2.6 3.4-2.7"/>
<path d="M193.3 361.9l3.4 .1 3.3 .1 3.4-.1 3.4-.2 3.4-.4 3.3-.4 3.4-.5 3.4-.6 3.4-.6 3.3-.5 3.4-.5 3.4-.4 3.3-.3 3.4-.3 3.4-.1 3.4-.1 3.3-.1 3.4-.1 3.4-.1 3.4-.1 3.3-.1 3.4-.1 3.4-.1 3.3-.1 3.4 .1 3.4 .3 3.4 .5 3.3 1 3.4 1.5 3.4 2.1 3.4 2.9 3.3 3.7 3.4 4.5 3.4 5.3 3.3 5.9 3.4 6.3 3.4 6.4 3.4 6.1 3.3 5.5 3.4 4.4 3.4 3.2 3.4 1.6 3.3-.1 3.4-1.6 3.4-3 3.3-4.2 3.4-5 3.4-5.5"/>
<path d="M193.3 364.4l3.4 0 3.3-.1 3.4 0 3.4 0 3.4 .1 3.3 .3 3.4 .6 3.4 1 3.4 1.5 3.3 2.1 3.4 2.9 3.4 3.5 3.3 4.3 3.4 4.9 3.4 5.5 3.4 5.9 3.3 6 3.4 5.8 3.4 5.4 3.4 4.8 3.3 3.7 3.4 2.6 3.4 1.2 3.3-.1 3.4-1.4 3.4-2.8 3.4-3.8 3.3-4.6 3.4-5.3 3.4-5.6 3.4-5.8 3.3-5.6 3.4-5.4 3.4-4.9 3.3-4.4 3.4-3.9 3.4-3.4 3.4-2.8 3.3-2.2 3.4-1.8 3.4-1.3 3.4-.9 3.3-.5 3.4-.2 3.4 .2 3.3 .3 3.4 .6 3.4 .7"/>
<path d="M193.3 345.6l3.4 0 3.3-.3 3.4-.2 3.4-.4 3.4-.3 3.3-.3 3.4-.3 3.4-.2 3.4-.1 3.3-.1 3.4 0 3.4 0 3.3 0 3.4 .1 3.4 .2 3.4 .4 3.3 .6 3.4 .9 3.4 1.3 3.4 1.8 3.3 2.4 3.4 3.1 3.4 3.6 3.3 4.4 3.4 4.9 3.4 5.4 3.4 5.8 3.3 6.1 3.4 6.2 3.4 6.1 3.4 5.9 3.3 5.4 3.4 4.8 3.4 4.1 3.3 3.1 3.4 2.1 3.4 1 3.4-.1 3.3-1.2 3.4-2.2 3.4-3.2 3.4-4 3.3-4.6 3.4-5.2 3.4-5.4 3.3-5.5 3.4-5.5 3.4-5.3"/>
<path d="M193.3 370.3l3.4 0 3.3 .2 3.4 .4 3.4 .7 3.4 .9 3.3 1.4 3.4 1.6 3.4 2.1 3.4 2.5 3.3 3 3.4 3.3 3.4 3.6 3.3 3.8 3.4 4 3.4 4 3.4 3.8 3.3 3.4 3.4 2.9 3.4 2.2 3.4 1.4 3.3 .4 3.4-.4 3.4-1.3 3.3-2.2 3.4-2.8 3.4-3.4 3.4-3.7 3.3-3.8 3.4-3.9 3.4-3.7 3.4-3.4 3.3-3.1 3.4-2.7 3.4-2.3 3.3-2 3.4-1.6 3.4-1.3 3.4-1 3.3-.8 3.4-.6 3.4-.4 3.4-.3 3.3-.1 3.4-.1 3.4 0 3.3 0 3.4 .1 3.4 .1"/>
<path d="M193.3 366.7l3.4-.6 3.3-.6 3.4-.7 3.4-.9 3.4-.8 3.3-.9 3.4-.8 3.4-.8 3.4-.6 3.3-.5 3.4-.3 3.4 0 3.3 .1 3.4 .4 3.4 .5 3.4 .6 3.3 .6 3.4 .6 3.4 .6 3.4 .4 3.3 .3 3.4 .2 3.4 0 3.3 0 3.4 0 3.4 .1 3.4 .3 3.3 .6 3.4 1 3.4 1.7 3.4 2.4 3.3 3.1 3.4 4 3.4 4.8 3.3 5.4 3.4 6 3.4 6.1 3.4 5.9 3.3 5.4 3.4 4.6 3.4 3.2 3.4 1.8 3.3 .1 3.4-1.6 3.4-3.1 3.3-4.5 3.4-5.5 3.4-6.1"/>
<path d="M193.3 353l3.4 .6 3.3 .9 3.4 1.3 3.4 1.8 3.4 2.2 3.3 2.7 3.4 3.2 3.4 3.6 3.4 3.9 3.3 4.3 3.4 4.6 3.4 4.7 3.3 4.9 3.4 4.9 3.4 4.8 3.4 4.5 3.3 4.1 3.4 3.6 3.4 2.9 3.4 2 3.3 1.2 3.4 .1 3.4-.9 3.3-1.9 3.4-2.7 3.4-3.5 3.4-4.1 3.3-4.4 3.4-4.7 3.4-4.7 3.4-4.6 3.3-4.4 3.4-4.2 3.4-3.8 3.3-3.5 3.4-3.1 3.4-2.8 3.4-2.4 3.3-2.1 3.4-1.8 3.4-1.4 3.4-1.1 3.3-.8 3.4-.4 3.4-.1 3.3 .1 3.4 .3 3.4 .4"/>
<path d="M193.3 349.4l3.4 2.3 3.3 2.6 3.4 3.1 3.4 3.5 3.4 4 3.3 4.5 3.4 4.9 3.4 5.4 3.4 5.6 3.3 5.9 3.4 6 3.4 5.8 3.3 5.5 3.4 4.8 3.4 4 3.4 3 3.3 1.6 3.4 .4 3.4-1.1 3.4-2.4 3.3-3.6 3.4-4.7 3.4-5.3 3.3-5.8 3.4-6 3.4-6 3.4-5.6 3.3-5.2 3.4-4.7 3.4-4.1 3.4-3.6 3.3-3 3.4-2.6 3.4-2.2 3.3-1.9 3.4-1.7 3.4-1.5 3.4-1.4 3.3-1.1 3.4-1.1 3.4-.9 3.4-.7 3.3-.6 3.4-.4 3.4-.2 3.3-.2 3.4 .1 3.4 .1"/>
<path d="M193.3 361.2l3.4 .8 3.3 .9 3.4 .9 3.4 .7 3.4 .6 3.3 .5 3.4 .3 3.4 .1 3.4 0 3.3-.2 3.4-.1 3.4-.2 3.3-.1 3.4 0 3.4 .2 3.4 .4 3.3 .6 3.4 .8 3.4 1 3.4 1.1 3.3 1.3 3.4 1.3 3.4 1.4 3.3 1.4 3.4 1.7 3.4 1.8 3.4 2.1 3.3 2.5 3.4 3 3.4 3.4 3.4 4 3.3 4.4 3.4 4.7 3.4 5 3.3 4.8 3.4 4.6 3.4 3.9 3.4 3.2 3.3 2.2 3.4 .2 3.4 0 3.4-.5 3.3-2.4 3.4-3.4 3.4-4.2 3.3-4.6 3.4-5 3.4-5.1"/>
<path d="M193.3 426.4l3.4-4.7 3.3-6.8 3.4-7.7 3.4-8.1 3.4-8.2 3.3-7.8 3.4-7 3.4-6.1 3.4-5.1 3.3-4.1 3.4-3.2 3.4-2.3 3.3-1.7 3.4-1.2 3.4-.7 3.4-.5 3.3-.3 3.4-.3 3.4-.1 3.4-.2 3.3-.2 3.4-.2 3.4-.2 3.3-.4 3.4-.3 3.4-.4 3.4-.5 3.3-.4 3.4-.5 3.4-.5 3.4-.5 3.3-.5 3.4-.4 3.4-.5 3.3-.3 3.4-.4 3.4-.3 3.4-.3 3.3-.3 3.4-.3 3.4-.3 3.4-.3 3.3-.4 3.4-.4 3.4-.3 3.3-.4 3.4-.3 3.4-.3"/>
<path d="M193.3 425.9l3.4-2 3.3-3.1 3.4-4.2 3.4-5 3.4-5.6 3.3-5.9 3.4-6 3.4-5.8 3.4-5.5 3.3-5 3.4-4.5 3.4-3.8 3.3-3.2 3.4-2.7 3.4-2.1 3.4-1.7 3.3-1.4 3.4-1.2 3.4-1 3.4-.9 3.3-.8 3.4-.8 3.4-.7 3.3-.7 3.4-.7 3.4-.5 3.4-.4 3.3-.2 3.4 .1 3.4 .3 3.4 .6 3.3 .8 3.4 .9 3.4 1.1 3.3 1 3.4 .9 3.4 .8 3.4 .4 3.3 .2 3.4-.2 3.4-.6 3.4-.8 3.3-1.1 3.4-1.2 3.4-1.3 3.3-1.1 3.4-1 3.4-.8"/>
<path d="M193.3 370l3.4 0 3.3 .2 3.4 .4 3.4 .9 3.4 1.3 3.3 1.9 3.4 2.6 3.4 3.3 3.4 4.1 3.3 4.7 3.4 5.2 3.4 5.4 3.3 5.5 3.4 5 3.4 4.4 3.4 3.3 3.3 2.1 3.4 .7 3.4-.7 3.4-2.1 3.3-3.2 3.4-4.2 3.4-4.7 3.3-4.9 3.4-5 3.4-4.8 3.4-4.4 3.3-3.9 3.4-3.6 3.4-3 3.4-2.7 3.3-2.3 3.4-2.1 3.4-1.7 3.3-1.5 3.4-1.3 3.4-1 3.4-.8 3.3-.7 3.4-.5 3.4-.4 3.4-.4 3.3-.4 3.4-.4 3.4-.5 3.3-.5 3.4-.5 3.4-.4"/>
<path d="M193.3 360.3l3.4 0 3.3 0 3.4 0 3.4-.1 3.4 .1 3.3 .2 3.4 .4 3.4 .7 3.4 .8 3.3 1 3.4 1 3.4 1 3.3 .9 3.4 .6 3.4 .4 3.4 .1 3.3-.1 3.4-.2 3.4-.3 3.4-.3 3.3 0 3.4 .1 3.4 .3 3.3 .6 3.4 .9 3.4 1 3.4 1.2 3.3 1.4 3.4 1.7 3.4 2.1 3.4 2.6 3.3 3.1 3.4 3.7 3.4 4.3 3.3 4.6 3.4 4.8 3.4 4.6 3.4 4.1 3.3 3.3 3.4 2.1 3.4 .7 3.4-.7 3.3-2.2 3.4-3.4 3.4-4.5 3.3-5 3.4-5.3 3.4-5.1"/>
<path d="M193.3 339.5l3.4 .2 3.3 .2 3.4 .2 3.4 .5 3.4 .7 3.3 1 3.4 1.5 3.4 2 3.4 2.6 3.3 3.3 3.4 4.1 3.4 4.7 3.3 5.4 3.4 5.9 3.4 6.2 3.4 6.1 3.3 5.9 3.4 5.2 3.4 4.4 3.4 3.1 3.3 1.7 3.4 .2 3.4-1.4 3.3-2.8 3.4-4 3.4-5 3.4-5.7 3.3-6.1 3.4-6.1 3.4-6 3.4-5.5 3.3-5 3.4-4.4 3.4-3.8 3.3-3 3.4-2.6 3.4-2 3.4-1.5 3.3-1.2 3.4-.9 3.4-.6 3.4-.4 3.3-.2 3.4 .1 3.4 .3 3.3 .5 3.4 .6 3.4 .8"/>
<path d="M193.3 352.5l3.4 1.3 3.3 1.8 3.4 2.5 3.4 3.1 3.4 3.7 3.3 4.4 3.4 4.9 3.4 5.4 3.4 5.6 3.3 5.9 3.4 5.8 3.4 5.5 3.3 5.1 3.4 4.6 3.4 3.7 3.4 2.8 3.3 1.9 3.4 .7 3.4-.3 3.4-1.4 3.3-2.4 3.4-3.2 3.4-3.9 3.3-4.5 3.4-4.9 3.4-5.2 3.4-5.1 3.3-5 3.4-4.8 3.4-4.4 3.4-4 3.3-3.5 3.4-3 3.4-2.5 3.3-2 3.4-1.6 3.4-1.3 3.4-.9 3.3-.7 3.4-.5 3.4-.5 3.4-.4 3.3-.4 3.4-.4 3.4-.6 3.3-.6 3.4-.6 3.4-.8"/>
<path d="M193.3 418.1l3.4-3.7 3.3-4.7 3.4-5.4 3.4-6 3.4-6.1 3.3-6.2 3.4-5.8 3.4-5.4 3.4-4.9 3.3-4.1 3.4-3.5 3.4-2.8 3.3-2.3 3.4-1.8 3.4-1.6 3.4-1.3 3.3-1.2 3.4-1.2 3.4-1.3 3.4-1.2 3.3-1.3 3.4-1.4 3.4-1.3 3.3-1.2 3.4-1 3.4-.8 3.4-.6 3.3-.3 3.4 0 3.4 .4 3.4 .6 3.3 1 3.4 1.1 3.4 1.3 3.3 1.3 3.4 1.3 3.4 1.2 3.4 1.1 3.3 .8 3.4 .6 3.4 .2 3.4 0 3.3-.2 3.4-.5 3.4-.5 3.3-.6 3.4-.5 3.4-.3"/>
<path d="M193.3 424l3.4-3.4 3.3-5.2 3.4-6.4 3.4-7.4 3.4-7.8 3.3-7.8 3.4-7.5 3.4-6.9 3.4-6.2 3.3-5.4 3.4-4.5 3.4-3.7 3.3-3 3.4-2.2 3.4-1.6 3.4-1 3.3-.4 3.4-.1 3.4 .3 3.4 .7 3.3 .8 3.4 1 3.4 1 3.3 1 3.4 .9 3.4 .7 3.4 .6 3.3 .3 3.4 .1 3.4 0 3.4-.2 3.3-.2 3.4-.4 3.4-.3 3.3-.3 3.4-.3 3.4-.3 3.4-.4 3.3-.3 3.4-.5 3.4-.6 3.4-.7 3.3-.8 3.4-1 3.4-1.1 3.3-1.2 3.4-1.2 3.4-1.1"/>
<path d="M193.3 416.7l3.4 1.7 3.3 .3 3.4-1 3.4-2.3 3.4-3.4 3.3-4.4 3.4-5.2 3.4-5.7 3.4-6 3.3-6.1 3.4-5.9 3.4-5.6 3.3-5.1 3.4-4.6 3.4-4 3.4-3.4 3.3-2.7 3.4-2.1 3.4-1.6 3.4-1.1 3.3-.7 3.4-.3 3.4 0 3.3 .2 3.4 .4 3.4 .4 3.4 .4 3.3 .2 3.4 .1 3.4-.2 3.4-.4 3.3-.7 3.4-1 3.4-1.1 3.3-1.3 3.4-1.3 3.4-1.2 3.4-1.2 3.3-.9 3.4-.7 3.4-.5 3.4-.1 3.3 .1 3.4 .4 3.4 .6 3.3 .7 3.4 .9 3.4 .9"/>
<path d="M193.3 418.1l3.4 0 3.3-1.1 3.4-2.1 3.4-3.1 3.4-3.9 3.3-4.6 3.4-5.1 3.4-5.5 3.4-5.7 3.3-5.6 3.4-5.5 3.4-5.2 3.3-4.7 3.4-4.3 3.4-3.7 3.4-3.2 3.3-2.6 3.4-2.1 3.4-1.6 3.4-1.3 3.3-.8 3.4-.6 3.4-.4 3.3-.3 3.4-.3 3.4-.2 3.4-.2 3.3-.2 3.4-.3 3.4-.3 3.4-.4 3.3-.4 3.4-.4 3.4-.4 3.3-.4 3.4-.3 3.4-.2 3.4-.2 3.3 0 3.4 .1 3.4 .2 3.4 .3 3.3 .3 3.4 .4 3.4 .4 3.3 .3 3.4 .4 3.4 .3"/>
<path d="M193.3 426l3.4-.5 3.3-1.4 3.4-2.3 3.4-3.1 3.4-3.7 3.3-4.2 3.4-4.7 3.4-4.8 3.4-5 3.3-4.9 3.4-4.9 3.4-4.6 3.3-4.3 3.4-4 3.4-3.6 3.4-3.1 3.3-2.5 3.4-2.1 3.4-1.5 3.4-1.1 3.3-.5 3.4-.2 3.4 0 3.3 .3 3.4 .5 3.4 .4 3.4 .3 3.3 .3 3.4 0 3.4-.1 3.4-.3 3.3-.4 3.4-.5 3.4-.6 3.3-.5 3.4-.5 3.4-.4 3.4-.3 3.3-.2 3.4-.1 3.4 .1 3.4 .2 3.3 .3 3.4 .4 3.4 .4 3.3 .5 3.4 .4 3.4 .4"/>
<path d="M193.3 368.5l3.4 1 3.3 1.1 3.4 1.1 3.4 1.4 3.4 1.6 3.3 2 3.4 2.3 3.4 2.7 3.4 3.2 3.3 3.6 3.4 4 3.4 4.2 3.3 4.4 3.4 4.3 3.4 4 3.4 3.3 3.3 2.5 3.4 1.3 3.4 .1 3.4-1.3 3.3-2.5 3.4-3.7 3.4-4.5 3.3-5 3.4-5.3 3.4-5.2 3.4-4.9 3.3-4.3 3.4-3.6 3.4-2.9 3.4-2.2 3.3-1.5 3.4-1 3.4-.5 3.3-.2 3.4-.1 3.4 .2 3.4 .1 3.3 0 3.4 0 3.4-.3 3.4-.5 3.3-.7 3.4-1.1 3.4-1.2 3.3-1.4 3.4-1.5 3.4-1.5"/>
<path d="M193.3 366.5l3.4 .1 3.3-.1 3.4 0 3.4-.1 3.4-.1 3.3 0 3.4 .3 3.4 .5 3.4 1 3.3 1.5 3.4 2.2 3.4 3 3.3 3.8 3.4 4.5 3.4 5.2 3.4 5.6 3.3 5.6 3.4 5.4 3.4 4.8 3.4 3.8 3.3 2.4 3.4 .9 3.4-.7 3.3-2.3 3.4-3.7 3.4-4.8 3.4-5.7 3.3-6 3.4-6.1 3.4-5.9 3.4-5.4 3.3-4.7 3.4-4.1 3.4-3.3 3.3-2.5 3.4-1.9 3.4-1.2 3.4-.8 3.3-.3 3.4 0 3.4 .3 3.4 .4 3.3 .6 3.4 .5 3.4 .5 3.3 .4 3.4 .4 3.4 .3"/>
<path d="M193.3 330.9l3.4-1 3.3-.9 3.4-.6 3.4-.3 3.4 0 3.3 .3 3.4 .5 3.4 .7 3.4 .9 3.3 1 3.4 1 3.4 .9 3.3 .9 3.4 .8 3.4 .8 3.4 .6 3.3 .6 3.4 .5 3.4 .6 3.4 .7 3.3 .8 3.4 1 3.4 1.4 3.3 1.8 3.4 2.3 3.4 2.9 3.4 3.7 3.3 4.4 3.4 5.2 3.4 6 3.4 6.6 3.3 7.1 3.4 7.3 3.4 7.3 3.3 7 3.4 6.3 3.4 5.4 3.4 4.2 3.3 2.6 3.4 1.1 3.4-.6 3.4-2.2 3.3-3.8 3.4-5 3.4-6.2 3.3-6.9 3.4-7.4 3.4-7.5"/>
<path d="M193.3 336.3l3.4 .4 3.3 0 3.4-.3 3.4-.5 3.4-.7 3.3-.9 3.4-.8 3.4-.8 3.4-.6 3.3-.2 3.4 0 3.4 .3 3.3 .6 3.4 .8 3.4 .9 3.4 1 3.3 .9 3.4 .8 3.4 .7 3.4 .5 3.3 .4 3.4 .3 3.4 .3 3.3 .4 3.4 .7 3.4 1 3.4 1.7 3.3 2.4 3.4 3.3 3.4 4.4 3.4 5.5 3.3 6.7 3.4 7.8 3.4 8.6 3.3 9.1 3.4 9.3 3.4 8.7 3.4 7.8 3.3 6.2 3.4 3.4 3.4 0 3.4 0 3.3-.2 3.4-4.9 3.4-6.6 3.3-7.8 3.4-8.7 3.4-8.9"/>
<path d="M193.3 425.3l3.4-.3 3.3-2 3.4-3.5 3.4-4.8 3.4-5.8 3.3-6.5 3.4-6.8 3.4-6.9 3.4-6.5 3.3-6 3.4-5.3 3.4-4.6 3.3-3.8 3.4-3.2 3.4-2.5 3.4-2 3.3-1.6 3.4-1.2 3.4-1 3.4-.8 3.3-.7 3.4-.5 3.4-.3 3.3-.2 3.4 0 3.4 0 3.4 .2 3.3 .3 3.4 .3 3.4 .3 3.4 .3 3.3 .2 3.4 .1 3.4 .1 3.3-.1 3.4 0 3.4-.1 3.4-.1 3.3 0 3.4 0 3.4 .1 3.4 .2 3.3 .2 3.4 .3 3.4 .2 3.3 .3 3.4 .2 3.4 .1"/>
<path d="M193.3 361.9l3.4 .6 3.3 .8 3.4 .7 3.4 .8 3.4 .7 3.3 .6 3.4 .5 3.4 .4 3.4 .1 3.3 0 3.4-.2 3.4-.5 3.3-.6 3.4-.8 3.4-.9 3.4-1.1 3.3-1.1 3.4-1 3.4-.8 3.4-.6 3.3-.3 3.4 .2 3.4 .7 3.3 1.3 3.4 1.9 3.4 2.4 3.4 3.1 3.3 3.5 3.4 4 3.4 4.4 3.4 4.6 3.3 4.7 3.4 4.7 3.4 4.6 3.3 4.2 3.4 3.7 3.4 3.3 3.4 2.5 3.3 1.8 3.4 .9 3.4 .2 3.4-.7 3.3-1.5 3.4-2.1 3.4-2.7 3.3-3.1 3.4-3.5 3.4-3.5"/>
<path d="M193.3 410.3l3.4-.9 3.3-1.3 3.4-1.5 3.4-1.7 3.4-1.8 3.3-1.9 3.4-1.9 3.4-1.9 3.4-1.9 3.3-1.7 3.4-1.7 3.4-1.5 3.3-1.3 3.4-1.1 3.4-1 3.4-.7 3.3-.5 3.4-.4 3.4-.3 3.4-.2 3.3-.1 3.4-.1 3.4-.2 3.3-.2 3.4-.4 3.4-.4 3.4-.5 3.3-.5 3.4-.7 3.4-.6 3.4-.8 3.3-.7 3.4-.7 3.4-.7 3.3-.7 3.4-.6 3.4-.6 3.4-.5 3.3-.4 3.4-.3 3.4-.2 3.4-.1 3.3 .1 3.4 .1 3.4 .2 3.3 .3 3.4 .4 3.4 .4"/>
<path d="M193.3 333.4l3.4-6 3.3-3.8 3.4-1.2 3.4 1.7 3.4 4.3 3.3 6.4 3.4 7.9 3.4 8.4 3.4 8.1 3.3 7 3.4 5.3 3.4 3.3 3.3 1.3 3.4-.4 3.4-2 3.4-3 3.3-3.6 3.4-3.6 3.4-3.2 3.4-2.6 3.3-1.7 3.4-.9 3.4-.2 3.3 .3 3.4 .4 3.4 .1 3.4-.7 3.3-1.9 3.4-3.5 3.4-5.3 3.4-7 3.3-8.1 3.4-8.6 3.4-8.1 3.3-6.4 3.4-4 3.4-.9 3.4 2.6 3.3 5.9 3.4 8.7 3.4 10.5 3.4 11.2 3.3 10.7 3.4 9 3.4 6.3 3.3 3.1 3.4-.4 3.4-3.6"/>
<path d="M193.3 340.7l3.4-6.2 3.3-4.9 3.4-2.8 3.4-.6 3.4 1.7 3.3 3.4 3.4 4.7 3.4 5.1 3.4 4.7 3.3 3.8 3.4 2.3 3.4 .7 3.3-1 3.4-2.4 3.4-3.5 3.4-4.1 3.3-4.4 3.4-4.1 3.4-3.5 3.4-2.6 3.3-1.3 3.4 .1 3.4 1.7 3.3 3.3 3.4 4.8 3.4 6.1 3.4 6.8 3.3 7 3.4 6.4 3.4 5.3 3.4 3.7 3.3 2 3.4 .5 3.4-.7 3.3-1.3 3.4-1.4 3.4-.8 3.4 .1 3.3 1.3 3.4 2.3 3.4 3.1 3.4 3.5 3.3 3.3 3.4 2.9 3.4 2.1 3.3 1.3 3.4 .7 3.4 .2"/>
<path d="M193.3 352.9l3.4-4.4 3.3-3.6 3.4-2.5 3.4-1.2 3.4 .1 3.3 1.2 3.4 2.2 3.4 2.8 3.4 3 3.3 2.9 3.4 2.2 3.4 1 3.3-.5 3.4-2.2 3.4-4.1 3.4-5.6 3.3-6.6 3.4-7.1 3.4-6.6 3.4-5.4 3.3-3.6 3.4-1.4 3.4 .5 3.3 2 3.4 2.8 3.4 2.9 3.4 2.1 3.3 1 3.4-.2 3.4-1.1 3.4-1.4 3.3-1.2 3.4-.3 3.4 .8 3.3 2.2 3.4 3.6 3.4 4.9 3.4 5.8 3.3 6.5 3.4 7.1 3.4 7.3 3.4 7.3 3.3 7.1 3.4 6.3 3.4 5.2 3.3 3.7 3.4 2.1 3.4 .8"/>
<path d="M193.3 363l3.4 2.1 3.3 2.2 3.4 2.5 3.4 2.8 3.4 3.2 3.3 3.3 3.4 2.9 3.4 2.1 3.4 1.4 3.3 .7 3.4 .4 3.4 .1 3.3-.1 3.4-.3 3.4-1 3.4-2.8 3.3-6 3.4-9 3.4-9.8 3.4-8.5 3.3-5.9 3.4-2.7 3.4 .8 3.3 4.1 3.4 6.4 3.4 7.5 3.4 7.2 3.3 5.8 3.4 3.5 3.4 1.4 3.4-.1 3.3-1.3 3.4-1.8 3.4-1.4 3.3-.1 3.4 1.5 3.4 3.1 3.4 3.8 3.3 3 3.4 1.8 3.4 .8 3.4 .4 3.3 .1 3.4 0 3.4 .1 3.3 0 3.4-.1 3.4-.1"/>
<path d="M193.3 359.2l3.4 .9 3.3 1.7 3.4 2.2 3.4 2.2 3.4 2.1 3.3 1.6 3.4 1.2 3.4 .8 3.4 .6 3.3 .7 3.4 .9 3.4 1.2 3.3 1.7 3.4 1.9 3.4 2 3.4 2 3.3 1.7 3.4 1.4 3.4 .9 3.4 .7 3.3 .4 3.4 .3 3.4 .4 3.3 .5 3.4 .6 3.4 .8 3.4 .8 3.3 .7 3.4 .4 3.4 .4 3.4 .2 3.3 .1 3.4 0 3.4 0 3.3 0 3.4-.2 3.4-.3 3.4-.9 3.3-2.3 3.4-4.7 3.4-7 3.4-7.9 3.3-7.6 3.4-6.7 3.4-5.5 3.3-4.4 3.4-3.2 3.4-2.4"/>
<path d="M193.3 391.9l3.4 1 3.3 .3 3.4-.1 3.4-.4 3.4-1.3 3.3-2.7 3.4-4.6 3.4-5.2 3.4-4.7 3.3-3 3.4-1.1 3.4 .9 3.3 2.6 3.4 3.8 3.4 4.2 3.4 3.8 3.3 2.7 3.4 1.6 3.4 .5 3.4-.5 3.3-1.7 3.4-3.6 3.4-6 3.3-7.7 3.4-8 3.4-7.2 3.4-5.4 3.3-3 3.4-.5 3.4 2.1 3.4 4.4 3.3 6.4 3.4 7.9 3.4 8.7 3.3 8.1 3.4 5.6 3.4 2.6 3.4 .9 3.3 .3 3.4 .1 3.4 0 3.4 0 3.3-.1 3.4-.2 3.4-.5 3.3-.8 3.4-1.7 3.4-2.7"/>
<path d="M193.3 367.7l3.4-.2 3.3-.5 3.4-1 3.4-1.9 3.4-3.1 3.3-4.2 3.4-5.4 3.4-6.5 3.4-7.1 3.3-7.5 3.4-7.4 3.4-6.7 3.3-5.4 3.4-3.8 3.4-1.8 3.4 .4 3.3 2.7 3.4 4.5 3.4 6.2 3.4 7.3 3.3 7.9 3.4 8.2 3.4 8.1 3.3 7.8 3.4 7.1 3.4 6.2 3.4 4.8 3.3 3.3 3.4 1.6 3.4-.1 3.4-1.8 3.3-3.3 3.4-4.6 3.4-5.4 3.3-5.5 3.4-5 3.4-4.2 3.4-3.2 3.3-2.2 3.4-1.3 3.4-.6 3.4-.2 3.3 .1 3.4 .1 3.4-.1 3.3-.3 3.4-.7 3.4-1.1"/>
<path d="M193.3 356l3.4-1.1 3.3-2.3 3.4-3.5 3.4-4.5 3.4-5.3 3.3-5.3 3.4-4.8 3.4-3.9 3.4-2.4 3.3-1 3.4 .3 3.4 1.4 3.3 2 3.4 2 3.4 1.7 3.4 1.3 3.3 .9 3.4 .8 3.4 1.1 3.4 2.1 3.3 3.4 3.4 5.1 3.4 6.7 3.3 8 3.4 8.6 3.4 8 3.4 6.5 3.3 4.2 3.4 2.1 3.4 .7 3.4-.1 3.3-1.1 3.4-2.4 3.4-3.8 3.3-5.2 3.4-5.8 3.4-5.8 3.4-4.9 3.3-3.7 3.4-2.4 3.4-1.1 3.4-.1 3.3 .3 3.4 .3 3.4-.4 3.3-1.3 3.4-2.5 3.4-3.5"/>
<path d="M193.3 325.9l3.4-1.8 3.3-1.2 3.4-.3 3.4 .4 3.4 1.4 3.3 2.5 3.4 3.4 3.4 4.3 3.4 5.1 3.3 5.8 3.4 6.1 3.4 6.3 3.3 6.1 3.4 5.8 3.4 5.1 3.4 4.1 3.3 3 3.4 2 3.4 1.2 3.4 .6 3.3 .2 3.4-.2 3.4-.6 3.3-1.2 3.4-1.9 3.4-2.7 3.4-3.6 3.3-4.2 3.4-4.4 3.4-4.3 3.4-4 3.3-3.5 3.4-3.1 3.4-2.5 3.3-2 3.4-1.5 3.4-.9 3.4-.2 3.3 .6 3.4 1.5 3.4 2.3 3.4 2.9 3.3 3.3 3.4 3.4 3.4 3.1 3.3 2.5 3.4 1.6 3.4 .7"/>
<path d="M193.3 339.4l3.4 .3 3.3 1.6 3.4 2.9 3.4 3.8 3.4 4.4 3.3 4.8 3.4 4.9 3.4 4.7 3.4 4.3 3.3 3.6 3.4 3 3.4 2.4 3.3 1.7 3.4 1.3 3.4 1 3.4 .7 3.3 .5 3.4 .3 3.4 .2 3.4 .1 3.3-.1 3.4-.3 3.4-.6 3.3-1.4 3.4-2.7 3.4-4.4 3.4-5.8 3.3-6 3.4-5.5 3.4-4.4 3.4-3.2 3.3-1.9 3.4-.8 3.4-.1 3.3 .2 3.4 .2 3.4 0 3.4-.3 3.3-.8 3.4-1.1 3.4-1.2 3.4-1.3 3.3-1.1 3.4-.7 3.4-.4 3.3 .1 3.4 .6 3.4 1.3"/>
<path d="M193.3 334l3.4 9.6 3.3 8.7 3.4 7.3 3.4 5.9 3.4 4.3 3.3 2.6 3.4 1.2 3.4-.1 3.4-1.3 3.3-2.1 3.4-2.8 3.4-3.3 3.3-3.7 3.4-3.8 3.4-3.9 3.4-3.8 3.3-3.3 3.4-2.5 3.4-1.2 3.4 .3 3.3 2.1 3.4 3.8 3.4 5.2 3.3 6 3.4 6.1 3.4 5.7 3.4 4.8 3.3 3.7 3.4 2.7 3.4 1.9 3.4 1.3 3.3 .9 3.4 .7 3.4 .4 3.3 .2 3.4 0 3.4-.3 3.4-.6 3.3-1.2 3.4-2.2 3.4-3.8 3.4-5.7 3.3-7.5 3.4-9.1 3.4-10.5 3.3-11.8 3.4-12.9 3.4-13.6"/>
<path d="M193.3 369.1l3.4 .2 3.3 .4 3.4 1 3.4 1.9 3.4 2.9 3.3 3.7 3.4 4.1 3.4 3.7 3.4 3 3.3 1.8 3.4 1 3.4 .3 3.3-.3 3.4-.8 3.4-1.8 3.4-3 3.3-4.1 3.4-4.8 3.4-4.9 3.4-4.4 3.3-3.4 3.4-2.2 3.4-.7 3.3 .7 3.4 2 3.4 2.9 3.4 3.5 3.3 3.5 3.4 2.9 3.4 1.9 3.4 .5 3.3-.9 3.4-2.6 3.4-4.2 3.3-5.7 3.4-6.7 3.4-7 3.4-6.9 3.3-6.3 3.4-5.3 3.4-4.1 3.4-2.7 3.3-1.4 3.4 0 3.4 1.4 3.3 2.6 3.4 3.7 3.4 4.6"/>
<path d="M193.3 349.3l3.4-4.2 3.3-4.3 3.4-3.7 3.4-2.4 3.4-.3 3.3 2.3 3.4 4.9 3.4 7.4 3.4 9.2 3.3 10 3.4 9.7 3.4 8 3.3 5.3 3.4 2.6 3.4 .8 3.4-.9 3.3-2.5 3.4-4.5 3.4-6.1 3.4-6.9 3.3-6.9 3.4-6.1 3.4-5 3.3-3.8 3.4-3 3.4-2.4 3.4-2.5 3.3-2.7 3.4-3 3.4-3.2 3.4-2.7 3.3-1.6 3.4 0 3.4 2.2 3.3 4.5 3.4 6.5 3.4 7.9 3.4 8.3 3.3 7.8 3.4 6.5 3.4 4.8 3.4 2.9 3.3 1.4 3.4 .4 3.4-.2 3.3-.5 3.4-.5 3.4-.5"/>
<path d="M193.3 332.9l3.4 3.2 3.3 4.5 3.4 5.4 3.4 5.8 3.4 5.7 3.3 5.3 3.4 4.4 3.4 3.4 3.4 2.3 3.3 1.2 3.4 .3 3.4-.4 3.3-1 3.4-1.3 3.4-1.6 3.4-1.6 3.3-1.7 3.4-1.8 3.4-2 3.4-2.1 3.3-2.2 3.4-2.5 3.4-2.8 3.3-3.1 3.4-3.5 3.4-4.2 3.4-4.8 3.3-5.4 3.4-5.9 3.4-6 3.4-5.6 3.3-4.8 3.4-3.6 3.4-1.9 3.3 0 3.4 1.6 3.4 3.1 3.4 4.1 3.3 4.8 3.4 5 3.4 4.9 3.4 4.8 3.3 4.5 3.4 4.3 3.4 4.2 3.3 3.8 3.4 3.3 3.4 2.4"/>
<path d="M193.3 393.9l3.4-1.4 3.3-2.6 3.4-4 3.4-5.2 3.4-5.7 3.3-5.6 3.4-5.3 3.4-4.6 3.4-3.7 3.3-2.8 3.4-1.9 3.4-.9 3.3-.1 3.4 .5 3.4 1 3.4 1.3 3.3 1.6 3.4 1.8 3.4 2.2 3.4 2.5 3.3 3.2 3.4 3.8 3.4 4.4 3.3 5.1 3.4 5.3 3.4 4.9 3.4 3.8 3.3 2.1 3.4 1.1 3.4 .5 3.4 .2 3.3 0 3.4 0 3.4-.2 3.3-.3 3.4-.7 3.4-1 3.4-1.3 3.3-1.5 3.4-1.4 3.4-1.4 3.4-1.6 3.3-1.9 3.4-2.6 3.4-3.5 3.3-4.3 3.4-4.9 3.4-5.2"/>
<path d="M193.3 386.6l3.4 1 3.3 .4 3.4-.3 3.4-.9 3.4-1.5 3.3-2.3 3.4-3 3.4-4 3.4-5.3 3.3-6.5 3.4-7.6 3.4-8.2 3.3-8.2 3.4-7.3 3.4-5.7 3.4-3.3 3.3-.6 3.4 2.2 3.4 4.6 3.4 6.4 3.3 7.5 3.4 7.6 3.4 6.9 3.3 5.7 3.4 3.9 3.4 2.1 3.4 .4 3.3-1.3 3.4-2.5 3.4-3.5 3.4-4.1 3.3-4.6 3.4-4.8 3.4-4.8 3.3-4.7 3.4-4.4 3.4-3.9 3.4-3.3 3.3-2.6 3.4-1.6 3.4-.5 3.4 .5 3.3 1.4 3.4 2.2 3.4 2.9 3.3 3.2 3.4 3.3 3.4 3.2"/>
<path d="M193.3 322.8l3.4 3.5 3.3 4.4 3.4 4.4 3.4 3.6 3.4 2.7 3.3 1.3 3.4 .3 3.4-.5 3.4-.7 3.3-.4 3.4 .6 3.4 1.8 3.3 3.5 3.4 5 3.4 6.4 3.4 7.2 3.3 6.9 3.4 5.6 3.4 3.6 3.4 1.7 3.3 .8 3.4 0 3.4-.5 3.3-1.4 3.4-2.6 3.4-4.3 3.4-5.5 3.3-6.1 3.4-5.9 3.4-5.4 3.4-4.9 3.3-4.3 3.4-3.9 3.4-3.5 3.3-3 3.4-2.1 3.4-.9 3.4 .7 3.3 2.7 3.4 4.8 3.4 6.7 3.4 8.2 3.3 8.6 3.4 8.1 3.4 6.3 3.3 3.7 3.4 1.7 3.4 .3"/>
<path d="M193.3 327l3.4 6.4 3.3 7.8 3.4 8 3.4 7.2 3.4 5.3 3.3 2.4 3.4-.9 3.4-4.3 3.4-7.1 3.3-9.3 3.4-10.3 3.4-10.3 3.3-9.1 3.4-7.3 3.4-5.1 3.4-2.8 3.3-.8 3.4 .5 3.4 1.2 3.4 1.2 3.3 .7 3.4-.1 3.4-.8 3.3-1.4 3.4-1.9 3.4-2 3.4-1.7 3.3-1.3 3.4-.5 3.4 .5 3.4 1.8 3.3 3.1 3.4 4.5 3.4 5.4 3.3 6 3.4 5.8 3.4 5 3.4 3.4 3.3 1.4 3.4-.7 3.4-2.7 3.4-4.2 3.3-5 3.4-5.1 3.4-4.7 3.3-3.7 3.4-2.5 3.4-1.1"/>
<path d="M193.3 384.1l3.4-.6 3.3-1.4 3.4-2.1 3.4-3 3.4-3.5 3.3-3.9 3.4-4.1 3.4-3.8 3.4-3.4 3.3-2.9 3.4-2.2 3.4-1.5 3.3-.9 3.4-.3 3.4 .1 3.4 .2 3.3 .2 3.4-.3 3.4-.9 3.4-1.8 3.3-2.8 3.4-3.7 3.4-4.5 3.3-4.9 3.4-5.1 3.4-4.7 3.4-3.9 3.3-3 3.4-1.8 3.4-.7 3.4 .3 3.3 1 3.4 1.5 3.4 1.7 3.3 1.7 3.4 1.6 3.4 1.4 3.4 1.1 3.3 .9 3.4 .7 3.4 .4 3.4 .4 3.3 .3 3.4 .3 3.4 .5 3.3 .9 3.4 1.4 3.4 1.9"/>
<path d="M193.3 343.1l3.4-2.5 3.3-2.7 3.4-3.1 3.4-3.2 3.4-3.3 3.3-3.2 3.4-3.4 3.4-3.3 3.4-3.2 3.3-3.2 3.4-3 3.4-2.5 3.3-1.9 3.4-1 3.4 .3 3.4 1.5 3.3 2.8 3.4 3.9 3.4 4.6 3.4 5.1 3.3 4.9 3.4 4.6 3.4 4 3.3 3.3 3.4 2.8 3.4 2.5 3.4 2.6 3.3 2.8 3.4 3.3 3.4 3.6 3.4 3.9 3.3 3.9 3.4 3.4 3.4 2.5 3.3 1.4 3.4 .1 3.4-1.1 3.4-2.2 3.3-2.7 3.4-2.9 3.4-2.5 3.4-1.9 3.3-1 3.4-.3 3.4 .5 3.3 1 3.4 1.2 3.4 1.6"/>
<path d="M193.3 382.6l3.4-1.7 3.3-2.2 3.4-2.5 3.4-2.9 3.4-2.8 3.3-2.6 3.4-2.1 3.4-1.3 3.4-.5 3.3 .5 3.4 1.3 3.4 2.1 3.3 2.6 3.4 2.7 3.4 2.4 3.4 1.7 3.3 1 3.4 0 3.4-1.1 3.4-2.4 3.3-3.8 3.4-5.3 3.4-6.5 3.3-7.4 3.4-7.6 3.4-7.5 3.4-7 3.3-5.9 3.4-4.6 3.4-2.9 3.4-1.1 3.3 .6 3.4 2.3 3.4 3.5 3.3 4.5 3.4 5 3.4 5.2 3.4 5.3 3.3 5.1 3.4 5 3.4 4.7 3.4 4.4 3.3 4.2 3.4 3.7 3.4 3.2 3.3 2.5 3.4 1.9 3.4 1.1"/>
<path d="M193.3 386.3l3.4 .1 3.3 .1 3.4 0 3.4 0 3.4 0 3.3 0 3.4 0 3.4 0 3.4 .1 3.3 0 3.4 0 3.4 0 3.3 0 3.4 0 3.4 0 3.4 0 3.3 0 3.4 0 3.4 0 3.4 0 3.3 0 3.4 0 3.4 0 3.3 0 3.4 0 3.4 0 3.4 0 3.3 0 3.4 0 3.4 0 3.4 0 3.3 0 3.4 0 3.4 0 3.3 0 3.4 0 3.4 0 3.4 0 3.3 0 3.4 0 3.4 0 3.4 0 3.3 0 3.4 0 3.4 0 3.3-.1 3.4-.1 3.4-.6"/>
<path d="M193.3 308.7l3.4 6.4 3.3 4.4 3.4 2.1 3.4-.7 3.4-3.1 3.3-5.1 3.4-5.8 3.4-5.3 3.4-3.4 3.3-.3 3.4 3.6 3.4 7.6 3.3 11 3.4 13.3 3.4 14.1 3.4 13.1 3.3 10.6 3.4 7 3.4 3 3.4-.6 3.3-3.7 3.4-5.8 3.4-6.9 3.3-7 3.4-6.5 3.4-5.6 3.4-4.6 3.3-3.8 3.4-3.3 3.4-3 3.4-3 3.3-2.8 3.4-2.3 3.4-1.6 3.3-.4 3.4 .9 3.4 2.2 3.4 3.2 3.3 3.9 3.4 3.7 3.4 3.1 3.4 1.7 3.3 .2 3.4-1.6 3.4-3.1 3.3-4.2 3.4-4.8 3.4-5"/>
<path d="M193.3 345.8l3.4-1.7 3.3-1.5 3.4-1 3.4-.4 3.4 .4 3.3 1.3 3.4 2.1 3.4 2.6 3.4 2.9 3.3 3 3.4 2.9 3.4 2.7 3.3 2.4 3.4 2.3 3.4 2.2 3.4 2.2 3.3 2.3 3.4 2.5 3.4 2.5 3.4 2.4 3.3 2.2 3.4 2 3.4 1.8 3.3 1.5 3.4 1.4 3.4 1.3 3.4 1.3 3.3 1.2 3.4 1.2 3.4 1.2 3.4 1 3.3 .8 3.4 .7 3.4 .5 3.3 .5 3.4 .3 3.4 .3 3.4 .3 3.3 .1 3.4-.1 3.4-.4 3.4-.7 3.3-1.2 3.4-1.9 3.4-2.5 3.3-2.9 3.4-3 3.4-2.8"/>
<path d="M193.3 350.5l3.4-2.2 3.3-1.4 3.4-.5 3.4 .1 3.4 .8 3.3 1.1 3.4 1.3 3.4 1.4 3.4 1.3 3.3 1.1 3.4 .7 3.4 .3 3.3-.3 3.4-1 3.4-1.7 3.4-2.4 3.3-3 3.4-3.4 3.4-3.5 3.4-3.2 3.3-2.6 3.4-1.8 3.4-.6 3.3 .8 3.4 2.1 3.4 3.4 3.4 4.5 3.3 5.3 3.4 5.6 3.4 5.4 3.4 5 3.3 4.1 3.4 3.3 3.4 2.3 3.3 1.8 3.4 1.4 3.4 1.5 3.4 2 3.3 2.6 3.4 3.2 3.4 3.6 3.4 3.5 3.3 3.1 3.4 2.1 3.4 1.2 3.3 .3 3.4-.6 3.4-1.8"/>
<path d="M193.3 382.5l3.4 7.6 3.3 3.4 3.4 1.1 3.4 .3 3.4 .2 3.3 0 3.4 0 3.4 0 3.4 0 3.3 0 3.4 0 3.4-.1 3.3-.1 3.4-.5 3.4-1.1 3.4-2.3 3.3-3.6 3.4-4.1 3.4-3.6 3.4-2.5 3.3-1.3 3.4-.3 3.4 .5 3.3 .9 3.4 1.1 3.4 1.1 3.4 .9 3.3 .7 3.4 .4 3.4 .4 3.4 .3 3.3 .4 3.4 .6 3.4 1.1 3.3 1.5 3.4 2.1 3.4 2.1 3.4 2 3.3 1.5 3.4 .9 3.4 .5 3.4 .3 3.3 .1 3.4 0 3.4 .1 3.3 0 3.4 0 3.4 0"/>
<path d="M193.3 348.2l3.4-1.1 3.3-1 3.4-.7 3.4-.1 3.4 .4 3.3 1.2 3.4 1.8 3.4 2.4 3.4 2.6 3.3 2.6 3.4 2.4 3.4 1.7 3.3 1.1 3.4 .4 3.4-.2 3.4-.5 3.3-.3 3.4 .2 3.4 1 3.4 2.2 3.3 3.3 3.4 4.2 3.4 4.7 3.3 4.5 3.4 3.8 3.4 2.6 3.4 1.6 3.3 .9 3.4 .5 3.4 .3 3.4 0 3.3 0 3.4-.1 3.4-.4 3.3-.8 3.4-1.5 3.4-2.9 3.4-4.8 3.3-6.3 3.4-7.2 3.4-7.1 3.4-6.4 3.3-5.3 3.4-3.8 3.4-2.3 3.3-.8 3.4 .6 3.4 1.6"/>
<path d="M193.3 356.4l3.4-3.4 3.3-3.2 3.4-3.1 3.4-3 3.4-2.8 3.3-2.5 3.4-2.1 3.4-1.4 3.4-.7 3.3 .1 3.4 .9 3.4 1.6 3.3 2.3 3.4 2.9 3.4 3.3 3.4 3.8 3.3 4.3 3.4 4.7 3.4 5 3.4 5.1 3.3 5 3.4 4.4 3.4 3.2 3.3 2.1 3.4 1.2 3.4 .6 3.4 .2 3.3-.1 3.4-.4 3.4-1.1 3.4-2.1 3.3-3.7 3.4-5.3 3.4-6.6 3.3-7.2 3.4-7.2 3.4-6.6 3.4-5.9 3.3-4.8 3.4-3.5 3.4-1.9 3.4-.2 3.3 1.6 3.4 3.5 3.4 5.4 3.3 7.1 3.4 8.5 3.4 9.3"/>
<path d="M193.3 347l3.4 0 3.3 1.1 3.4 2.1 3.4 3.1 3.4 4 3.3 4.6 3.4 4.9 3.4 4.5 3.4 3.6 3.3 2.4 3.4 .6 3.4-1.2 3.3-3.4 3.4-5.2 3.4-6.8 3.4-7.6 3.3-7.5 3.4-6.8 3.4-5.1 3.4-2.8 3.3-.3 3.4 2.3 3.4 4.5 3.3 6.4 3.4 7.5 3.4 8 3.4 7.9 3.3 7.2 3.4 6.1 3.4 4.6 3.4 3.3 3.3 2.1 3.4 1.2 3.4 .6 3.3 .1 3.4-.1 3.4-.3 3.4-.4 3.3-.5 3.4-.6 3.4-.5 3.4-.4 3.3-.4 3.4-.1 3.4 .1 3.3 .5 3.4 .8 3.4 1.2"/>
<path d="M193.3 393.4l3.4-1.1 3.3-3.5 3.4-6.4 3.4-7.9 3.4-7.3 3.3-6.1 3.4-4.6 3.4-3.3 3.4-2.2 3.3-1.5 3.4-1.1 3.4-1 3.3-1 3.4-1.1 3.4-1.2 3.4-1.2 3.3-1 3.4-.7 3.4-.4 3.4 0 3.3 .5 3.4 1 3.4 1.5 3.3 1.8 3.4 2.3 3.4 2.6 3.4 2.9 3.3 3.1 3.4 3.2 3.4 3.3 3.4 3.4 3.3 3.4 3.4 3.5 3.4 3.6 3.3 3.4 3.4 3.2 3.4 2.8 3.4 2.1 3.3 1.4 3.4 .9 3.4 .3 3.4 0 3.3-.6 3.4-1.3 3.4-2.1 3.3-3.3 3.4-4.2 3.4-4.7"/>
<path d="M193.3 349.1l3.4 1.6 3.3 .8 3.4-.2 3.4-1.6 3.4-2.9 3.3-4.2 3.4-5.1 3.4-5.6 3.4-5.6 3.3-4.9 3.4-3.7 3.4-2.2 3.3-.6 3.4 .9 3.4 2 3.4 2.8 3.3 3.1 3.4 2.8 3.4 2.3 3.4 1.7 3.3 1 3.4 .6 3.4 .4 3.3 .3 3.4 .3 3.4 .1 3.4-.1 3.3-.6 3.4-1.4 3.4-2.1 3.4-2.9 3.3-3.4 3.4-3.9 3.4-3.8 3.3-3.6 3.4-3.1 3.4-2.1 3.4-1.1 3.3 .2 3.4 1.6 3.4 2.7 3.4 3.8 3.3 4.3 3.4 4.4 3.4 4 3.3 3.1 3.4 2 3.4 .7"/>
<path d="M193.3 318.3l3.4 .9 3.3 .4 3.4 0 3.4-.4 3.4-.6 3.3-.6 3.4-.5 3.4 0 3.4 .4 3.3 1 3.4 1.7 3.4 2.3 3.3 2.8 3.4 3 3.4 3.1 3.4 2.8 3.3 2.3 3.4 1.4 3.4 .6 3.4-.4 3.3-1.2 3.4-2 3.4-2.4 3.3-2.8 3.4-2.9 3.4-3 3.4-3 3.3-3 3.4-3.1 3.4-3.1 3.4-3 3.3-3 3.4-2.6 3.4-2.2 3.3-1.6 3.4-1 3.4-.2 3.4 .4 3.3 .9 3.4 1.1 3.4 1.3 3.4 1.1 3.3 .9 3.4 .6 3.4 .5 3.3 .3 3.4 .4 3.4 .4"/>
<path d="M193.3 321.1l3.4-1.3 3.3-.7 3.4-.2 3.4 .2 3.4 .4 3.3 .2 3.4-.3 3.4-1.2 3.4-2.3 3.3-3.1 3.4-4 3.4-4.3 3.3-4 3.4-3.3 3.4-2 3.4-.2 3.3 1.7 3.4 3.6 3.4 5.1 3.4 6 3.3 6.3 3.4 5.7 3.4 4.6 3.3 2.9 3.4 1.3 3.4-.4 3.4-1.5 3.3-2 3.4-2 3.4-1.3 3.4-.4 3.3 .8 3.4 1.8 3.4 2.7 3.3 3.2 3.4 3.1 3.4 2.7 3.4 1.8 3.3 .7 3.4-.5 3.4-1.7 3.4-2.7 3.3-3.6 3.4-4 3.4-4.2 3.3-4 3.4-3.7 3.4-3.2"/>
<path d="M193.3 316.5l3.4 1.7 3.3 1.6 3.4 1.3 3.4 1.2 3.4 1.1 3.3 1 3.4 1.1 3.4 1.1 3.4 1.1 3.3 1 3.4 1 3.4 .8 3.3 .5 3.4 .2 3.4-.1 3.4-.4 3.3-.6 3.4-.7 3.4-.7 3.4-.5 3.3-.4 3.4 0 3.4 .4 3.3 .6 3.4 .9 3.4 1.1 3.4 1.2 3.3 1.2 3.4 .9 3.4 .5 3.4-.1 3.3-1 3.4-1.8 3.4-2.8 3.3-3.5 3.4-4.2 3.4-4.4 3.4-4.4 3.3-4 3.4-3.6 3.4-2.9 3.4-2.3 3.3-1.7 3.4-1.2 3.4-.9 3.3-.6 3.4-.5 3.4-.5"/>
<path d="M193.3 326l3.4-2 3.3-1.8 3.4-1.7 3.4-1.4 3.4-1.1 3.3-.8 3.4-.4 3.4-.2 3.4 0 3.3 .2 3.4 .3 3.4 .6 3.3 .7 3.4 1.1 3.4 1.4 3.4 1.8 3.3 2.2 3.4 2.8 3.4 3.1 3.4 3.5 3.3 3.5 3.4 3.4 3.4 3.1 3.3 2.6 3.4 1.8 3.4 1 3.4 .3 3.3-.5 3.4-.9 3.4-1.2 3.4-1.1 3.3-1 3.4-.5 3.4-.1 3.3 .3 3.4 .6 3.4 .8 3.4 .7 3.3 .4 3.4 0 3.4-.7 3.4-1.5 3.3-2.4 3.4-3.3 3.4-4.2 3.3-4.8 3.4-5.4 3.4-5.6"/>
<path d="M193.3 292.4l3.4 5 3.3 5.5 3.4 5.9 3.4 5.9 3.4 5.9 3.3 5.8 3.4 5.7 3.4 5.2 3.4 4.7 3.3 3.7 3.4 2.4 3.4 .9 3.3-.6 3.4-2 3.4-2.9 3.4-3.4 3.3-3.3 3.4-3 3.4-2.5 3.4-2.1 3.3-1.7 3.4-1.6 3.4-1.5 3.3-1.5 3.4-1.2 3.4-.8 3.4-.2 3.3 .5 3.4 1.2 3.4 1.7 3.4 1.7 3.3 1.6 3.4 1.1 3.4 .7 3.3 .1 3.4-.2 3.4-.3 3.4-.5 3.3-.5 3.4-.7 3.4-1 3.4-1.6 3.3-2.3 3.4-2.9 3.4-3.5 3.3-3.8 3.4-3.9 3.4-3.8"/>
<path d="M193.3 298.9l3.4-1.4 3.3 .4 3.4 1.9 3.4 3 3.4 3.7 3.3 3.7 3.4 3.1 3.4 2.2 3.4 .8 3.3-.5 3.4-1.5 3.4-2.2 3.3-2.5 3.4-2.1 3.4-1.4 3.4-.4 3.3 .9 3.4 2 3.4 3.2 3.4 3.9 3.3 4.5 3.4 4.6 3.4 4.3 3.3 3.7 3.4 2.6 3.4 1.4 3.4 0 3.3-1.4 3.4-2.6 3.4-3.4 3.4-4 3.3-4 3.4-3.6 3.4-2.9 3.3-1.8 3.4-.7 3.4 .6 3.4 1.8 3.3 2.7 3.4 3.5 3.4 3.9 3.4 4 3.3 3.8 3.4 3.3 3.4 2.7 3.3 2 3.4 1.2 3.4 .5"/>
<path d="M193.3 333.6l3.4-2 3.3-1.5 3.4-1 3.4-.4 3.4 0 3.3 .4 3.4 .4 3.4 .2 3.4-.4 3.3-.9 3.4-1.7 3.4-2.1 3.3-2.6 3.4-2.6 3.4-2.4 3.4-1.9 3.3-1.3 3.4-.6 3.4 0 3.4 .2 3.3 .1 3.4-.4 3.4-1.1 3.3-2.1 3.4-3.1 3.4-3.8 3.4-4 3.3-3.7 3.4-3 3.4-1.6 3.4-.1 3.3 1.3 3.4 2.7 3.4 3.5 3.3 3.7 3.4 3.4 3.4 2.6 3.4 1.7 3.3 .8 3.4 .2 3.4 .1 3.4 .5 3.3 1.5 3.4 2.8 3.4 3.9 3.3 5 3.4 5.4 3.4 5.3"/>
<path d="M193.3 311.5l3.4-1.5 3.3-1 3.4-.5 3.4 0 3.4 .2 3.3 .4 3.4 .5 3.4 .3 3.4 .3 3.3 .1 3.4 0 3.4-.1 3.3-.1 3.4 0 3.4-.1 3.4 .1 3.3 .1 3.4 .2 3.4 .2 3.4 .3 3.3 .4 3.4 .4 3.4 .5 3.3 .4 3.4 .2 3.4 0 3.4-.3 3.3-.7 3.4-1 3.4-1.2 3.4-1.2 3.3-.8 3.4 0 3.4 .8 3.3 2.1 3.4 3.2 3.4 4.2 3.4 5 3.3 5.4 3.4 5.3 3.4 4.9 3.4 4 3.3 2.7 3.4 1.4 3.4 0 3.3-1.5 3.4-2.7 3.4-3.7"/>
<path d="M193.3 312.3l3.4-.9 3.3 .2 3.4 1.1 3.4 1.6 3.4 1.6 3.3 1.1 3.4 .2 3.4-.9 3.4-2 3.3-2.9 3.4-3.5 3.4-3.8 3.3-3.5 3.4-2.8 3.4-2.1 3.4-1 3.3-.2 3.4 .5 3.4 .9 3.4 .8 3.3 .4 3.4-.3 3.4-1.2 3.3-2 3.4-2.7 3.4-3.3 3.4-3.4 3.3-3.4 3.4-2.9 3.4-2.1 3.4-1.2 3.3-.2 3.4 .8 3.4 1.8 3.3 2.4 3.4 2.9 3.4 3 3.4 2.8 3.3 2.6 3.4 2.1 3.4 1.7 3.4 1.4 3.3 1.2 3.4 1.3 3.4 1.6 3.3 2 3.4 2.7 3.4 3.1"/>
<path d="M193.3 323.6l3.4-2.5 3.3-1.8 3.4-1 3.4-.1 3.4 .8 3.3 1.8 3.4 2.6 3.4 3.5 3.4 4.2 3.3 4.7 3.4 4.9 3.4 5 3.3 4.6 3.4 4 3.4 3 3.4 1.8 3.3 .6 3.4-.6 3.4-1.6 3.4-2.4 3.3-2.8 3.4-2.9 3.4-2.5 3.3-2 3.4-1.3 3.4-.5 3.4 0 3.3 .4 3.4 .3 3.4 .1 3.4-.5 3.3-1.3 3.4-2 3.4-2.7 3.3-3.1 3.4-3.3 3.4-3 3.4-2.4 3.3-1.7 3.4-.7 3.4 .3 3.4 1.2 3.3 1.7 3.4 2.1 3.4 1.8 3.3 1.3 3.4 .2 3.4-.9"/>
<path d="M193.3 308.4l3.4-1.4 3.3-1 3.4-.5 3.4 0 3.4 .7 3.3 1.3 3.4 2 3.4 2.7 3.4 3.1 3.3 3.4 3.4 3.5 3.4 3.3 3.3 2.9 3.4 2.3 3.4 1.5 3.4 .8 3.3 0 3.4-.5 3.4-.9 3.4-.9 3.3-.7 3.4-.4 3.4 .2 3.3 .7 3.4 1.2 3.4 1.5 3.4 1.7 3.3 1.6 3.4 1.5 3.4 1.3 3.4 .9 3.3 .8 3.4 .6 3.4 .4 3.3 .4 3.4 .3 3.4 .3 3.4 .2 3.3 .1 3.4-.1 3.4-.2 3.4-.4 3.3-.5 3.4-.7 3.4-.8 3.3-.9 3.4-.8 3.4-.8"/>
<path d="M193.3 306.8l3.4 .7 3.3 1.3 3.4 1.7 3.4 2 3.4 2.1 3.3 2 3.4 1.8 3.4 1.3 3.4 .8 3.3 .3 3.4-.1 3.4-.4 3.3-.6 3.4-.3 3.4 0 3.4 .6 3.3 1.1 3.4 1.7 3.4 2.2 3.4 2.4 3.3 2.5 3.4 2.3 3.4 2 3.3 1.5 3.4 1 3.4 .7 3.4 .3 3.3 .1 3.4 .2 3.4 .4 3.4 .6 3.3 1 3.4 1.3 3.4 1.7 3.3 1.8 3.4 1.8 3.4 1.7 3.4 1.2 3.3 .6 3.4-.2 3.4-1 3.4-1.9 3.3-2.6 3.4-3.2 3.4-3.6 3.3-3.7 3.4-3.6 3.4-3.2"/>
<path d="M193.3 323.7l3.4-3.8 3.3-3.9 3.4-3.7 3.4-3 3.4-2.1 3.3-1.2 3.4-.3 3.4 .5 3.4 1.1 3.3 1.4 3.4 1.6 3.4 1.6 3.3 1.7 3.4 1.7 3.4 1.7 3.4 1.9 3.3 1.9 3.4 2.2 3.4 2.2 3.4 2.4 3.3 2.4 3.4 2.4 3.4 2.2 3.3 1.9 3.4 1.5 3.4 .8 3.4 .1 3.3-.8 3.4-1.7 3.4-2.6 3.4-3.4 3.3-4.1 3.4-4.3 3.4-4.4 3.3-4.2 3.4-3.7 3.4-2.9 3.4-2.2 3.3-1.4 3.4-.8 3.4-.3 3.4-.1 3.3-.1 3.4-.1 3.4-.5 3.3-.7 3.4-.8 3.4-.9"/>
<path d="M193.3 336.5l3.4 1.7 3.3 1.9 3.4 2 3.4 1.9 3.4 1.9 3.3 1.8 3.4 1.5 3.4 1.4 3.4 1.2 3.3 .8 3.4 .6 3.4 .2 3.3-.4 3.4-.8 3.4-1.5 3.4-2.1 3.3-2.6 3.4-3 3.4-3.3 3.4-3.4 3.3-3.5 3.4-3.3 3.4-3.1 3.3-2.8 3.4-2.5 3.4-2 3.4-1.6 3.3-1.1 3.4-.7 3.4-.2 3.4 .3 3.3 .7 3.4 1.1 3.4 1.2 3.3 1.5 3.4 1.4 3.4 1.4 3.4 1.3 3.3 1.1 3.4 1.1 3.4 1.1 3.4 1.2 3.3 1.4 3.4 1.8 3.4 2 3.3 2.4 3.4 2.4 3.4 2.5"/>
<path d="M193.3 378.2l3.4-.4 3.3-.6 3.4-1 3.4-1.5 3.4-2.1 3.3-2.7 3.4-3.7 3.4-4.6 3.4-5.6 3.3-6.8 3.4-7.7 3.4-8.8 3.3-9.5 3.4-9.9 3.4-10 3.4-9.7 3.3-8.8 3.4-7.4 3.4-5.6 3.4-1.8 3.3 0 3.4 0 3.4 .1 3.3 3.3 3.4 4.4 3.4 5.4 3.4 6.1 3.3 6.7 3.4 7.2 3.4 7.4 3.4 7.5 3.3 7.4 3.4 7.1 3.4 6.7 3.3 6.3 3.4 5.8 3.4 5.1 3.4 4.6 3.3 4 3.4 3.3 3.4 2.9 3.4 2.3 3.3 1.8 3.4 1.5 3.4 1.1 3.3 .8 3.4 .5 3.4 .4"/>
<path d="M193.3 358.4l3.4-.5 3.3-.4 3.4-.5 3.4-.6 3.4-.7 3.3-1 3.4-1.4 3.4-1.9 3.4-2.5 3.3-3.3 3.4-4.3 3.4-5.2 3.3-6.1 3.4-7 3.4-7.6 3.4-7.9 3.3-7.8 3.4-7.3 3.4-6.1 3.4-4.6 3.3-2.7 3.4-.6 3.4 .9 3.3 1.9 3.4 2.9 3.4 3.7 3.4 4.4 3.3 4.9 3.4 5.3 3.4 5.4 3.4 5.5 3.3 5.3 3.4 5.1 3.4 4.6 3.3 4.3 3.4 3.8 3.4 3.4 3.4 2.9 3.3 2.4 3.4 2.1 3.4 1.7 3.4 1.4 3.3 1.2 3.4 1 3.4 .9 3.3 .7 3.4 .7 3.4 .6"/>
<path d="M193.3 320.1l3.4-10.3 3.3-9.4 3.4-7.6 3.4-5.1 3.4-1.8 3.3 .8 3.4 2.7 3.4 4.3 3.4 5.8 3.3 6.8 3.4 7.5 3.4 7.8 3.3 7.8 3.4 7.4 3.4 6.8 3.4 6 3.3 5.3 3.4 4.4 3.4 3.5 3.4 2.8 3.3 2.2 3.4 1.6 3.4 1.2 3.3 .9 3.4 .6 3.4 .4 3.4 .3 3.3 .2 3.4 .1 3.4 .2 3.4 0 3.3 0 3.4 0 3.4 0 3.3-.2 3.4-.1 3.4-.3 3.4-.3 3.3-.4 3.4-.4 3.4-.5 3.4-.5 3.3-.5 3.4-.5 3.4-.5 3.3-.5 3.4-.4 3.4-.3"/>
<path d="M193.3 372l3.4-.4 3.3-.4 3.4-.4 3.4-.3 3.4-.2 3.3-.2 3.4-.1 3.4 0 3.4 .2 3.3 .2 3.4 .3 3.4 .3 3.3 .4 3.4 .3 3.4 .4 3.4 .2 3.3 .2 3.4 0 3.4-.2 3.4-.4 3.3-.8 3.4-1.2 3.4-1.8 3.3-2.6 3.4-3.4 3.4-4.4 3.4-5.5 3.3-6.6 3.4-7.8 3.4-8.6 3.4-9.2 3.3-9.4 3.4-9.1 3.4-8.2 3.3-6.9 3.4-5 3.4-2.8 3.4-.3 3.3 2.7 3.4 5.4 3.4 7.5 3.4 9.1 3.3 9.7 3.4 9.8 3.4 9.2 3.3 8.2 3.4 7 3.4 5.7"/>
<path d="M193.3 360l3.4 .2 3.3 .1 3.4 .1 3.4 0 3.4 0 3.3-.1 3.4-.2 3.4-.2 3.4-.3 3.3-.3 3.4-.2 3.4-.2 3.3-.2 3.4 0 3.4 0 3.4 .1 3.3 .2 3.4 .4 3.4 .4 3.4 .5 3.3 .6 3.4 .6 3.4 .6 3.3 .6 3.4 .7 3.4 .5 3.4 .6 3.3 .4 3.4 .3 3.4 .2 3.4 .1 3.3-.1 3.4-.2 3.4-.4 3.3-.8 3.4-1.1 3.4-1.7 3.4-2.4 3.3-3.5 3.4-4.8 3.4-6.2 3.4-7.7 3.3-9 3.4-9.8 3.4-9.9 3.3-9.1 3.4-7.4 3.4-4.8"/>
<path d="M193.3 293.1l3.4 2.9 3.3 3.6 3.4 4.2 3.4 4.7 3.4 5.2 3.3 5.4 3.4 5.5 3.4 5.6 3.4 5.4 3.3 5.3 3.4 5 3.4 4.7 3.3 4.2 3.4 3.8 3.4 3.2 3.4 2.8 3.3 2.3 3.4 1.8 3.4 1.4 3.4 1 3.3 .7 3.4 .4 3.4 .3 3.3 .1 3.4 .1 3.4 .1 3.4 .1 3.3 .2 3.4 .4 3.4 .5 3.4 .6 3.3 .7 3.4 .7 3.4 .9 3.3 .8 3.4 .7 3.4 .7 3.4 .5 3.3 .4 3.4 .3 3.4 .1 3.4 0 3.3-.2 3.4-.3 3.4-.3 3.3-.4 3.4-.5 3.4-.5"/>
<path d="M193.3 357.3l3.4-1.4 3.3-2.1 3.4-3.1 3.4-4.5 3.4-6 3.3-7.4 3.4-8.6 3.4-9 3.4-8.3 3.3-6.4 3.4-3.4 3.4-.1 3.3 2.7 3.4 5 3.4 6.7 3.4 7.6 3.3 7.9 3.4 7.4 3.4 6.6 3.4 5.5 3.3 4.3 3.4 3.2 3.4 2.4 3.3 1.6 3.4 1.1 3.4 .8 3.4 .5 3.3 .4 3.4 .3 3.4 .3 3.4 .2 3.3 .2 3.4 .2 3.4 .1 3.3 .2 3.4 .1 3.4 .1 3.4 0 3.3 .1 3.4 0 3.4 0 3.4-.1 3.3 0 3.4-.1 3.4-.1 3.3-.1 3.4-.1 3.4-.1"/>
<path d="M193.3 365.6l3.4 0 3.3 0 3.4-.1 3.4-.2 3.4-.1 3.3-.2 3.4-.2 3.4-.3 3.4-.2 3.3-.3 3.4-.2 3.4-.3 3.3-.2 3.4-.2 3.4-.1 3.4-.1 3.3-.1 3.4-.1 3.4-.1 3.4 0 3.3-.1 3.4-.2 3.4-.2 3.3-.2 3.4-.4 3.4-.5 3.4-.6 3.3-.9 3.4-1.3 3.4-1.9 3.4-2.5 3.3-3.4 3.4-4.4 3.4-5.5 3.3-6.4 3.4-7.2 3.4-7.3 3.4-6.8 3.3-5.7 3.4-3.7 3.4-1.3 3.4 1.7 3.3 5.1 3.4 7.8 3.4 9.4 3.3 9.8 3.4 9.2 3.4 7.9"/>
<path d="M193.3 379.2l3.4-.1 3.3-.2 3.4-.3 3.4-.3 3.4-.4 3.3-.5 3.4-.4 3.4-.5 3.4-.5 3.3-.5 3.4-.4 3.4-.5 3.3-.5 3.4-.4 3.4-.5 3.4-.6 3.3-.8 3.4-1.2 3.4-1.7 3.4-2.7 3.3-3.8 3.4-5.3 3.4-6.8 3.3-8 3.4-8.6 3.4-8.2 3.4-6.8 3.3-4.2 3.4-1 3.4 2.5 3.4 5.5 3.3 7.7 3.4 8.7 3.4 8.6 3.3 7.7 3.4 6.3 3.4 4.8 3.4 3.4 3.3 2.3 3.4 1.4 3.4 1 3.4 .5 3.3 .4 3.4 .2 3.4 .2 3.3 .1 3.4 0 3.4 0"/>
<path d="M193.3 362.2l3.4 .1 3.3 .1 3.4 0 3.4-.1 3.4-.2 3.3-.6 3.4-1.1 3.4-1.9 3.4-3.3 3.3-4.9 3.4-6.8 3.4-8.2 3.3-8.8 3.4-7.9 3.4-5.4 3.4-1.7 3.3 2.3 3.4 5.8 3.4 7.9 3.4 8.3 3.3 7.4 3.4 5.9 3.4 4.2 3.3 2.6 3.4 1.6 3.4 1 3.4 .5 3.3 .3 3.4 .2 3.4 .1 3.4 .1 3.3 .1 3.4 0 3.4 .1 3.3 .1 3.4 .2 3.4 .2 3.4 .3 3.3 .4 3.4 .6 3.4 .6 3.4 .7 3.3 .8 3.4 .8 3.4 .8 3.3 .8 3.4 .7 3.4 .7"/>
<path d="M193.3 360.1l3.4 .1 3.3 .2 3.4 .1 3.4 .1 3.4 0 3.3 0 3.4 0 3.4-.1 3.4-.2 3.3-.2 3.4-.3 3.4-.4 3.3-.4 3.4-.4 3.4-.5 3.4-.5 3.3-.6 3.4-.6 3.4-.7 3.4-.9 3.3-1.1 3.4-1.4 3.4-1.8 3.3-2.3 3.4-2.9 3.4-3.6 3.4-4.2 3.3-4.5 3.4-4.7 3.4-4.5 3.4-3.8 3.3-2.9 3.4-1.6 3.4 0 3.3 2.1 3.4 4.1 3.4 5.4 3.4 5.9 3.3 5.7 3.4 5 3.4 4 3.4 3 3.3 2 3.4 1.4 3.4 .8 3.3 .5 3.4 .2 3.4 .2"/>
<path d="M193.3 367.6l3.4-6.6 3.3-8.2 3.4-9.4 3.4-9.6 3.4-8.5 3.3-6.1 3.4-2.5 3.4 1.5 3.4 5.2 3.3 8.1 3.4 9.7 3.4 10 3.3 9.1 3.4 7.5 3.4 5.7 3.4 3.9 3.3 2.5 3.4 1.4 3.4 .8 3.4 .4 3.3 .2 3.4 .2 3.4 .3 3.3 .4 3.4 .5 3.4 .6 3.4 .6 3.3 .8 3.4 .7 3.4 .7 3.4 .7 3.3 .7 3.4 .5 3.4 .4 3.3 .3 3.4 .2 3.4-.1 3.4-.2 3.3-.3 3.4-.5 3.4-.7 3.4-.7 3.3-.8 3.4-.8 3.4-.7 3.3-.8 3.4-.6 3.4-.6"/>
</g>
<g fill="none" stroke="#28c0f0" stroke-width="0.6" stroke-opacity="0.85">
<path d="M193.3 380.8l3.4 .1 3.3-.1 3.4-.2 3.4-.3 3.4-.3 3.3-.4 3.4-.4 3.4-.4 3.4-.3 3.3-.1 3.4 0 3.4 .2 3.3 .5 3.4 .8 3.4 1.3 3.4 1.7 3.3 2.2 3.4 2.6 3.4 2.8 3.4 2.6 3.3 2.2 3.4 1.3 3.4 .4 3.3-.7 3.4-1.5 3.4-2.1 3.4-2.4 3.3-2.4 3.4-2.1 3.4-1.9 3.4-1.5 3.3-1.2 3.4-1 3.4-.8 3.3-.7 3.4-.6 3.4-.6 3.4-.5 3.3-.4 3.4-.4 3.4-.2 3.4-.2 3.3-.1 3.4-.1 3.4 .1 3.3 .1 3.4 .1 3.4 .2"/>
<path d="M193.3 375.1l3.4 0 3.3 0 3.4 0 3.4 0 3.4-.1 3.3-.1 3.4-.1 3.4-.2 3.4-.1 3.3-.2 3.4-.2 3.4-.2 3.3-.2 3.4-.2 3.4-.2 3.4-.2 3.3-.1 3.4-.1 3.4-.2 3.4-.1 3.3-.1 3.4-.2 3.4-.2 3.3-.1 3.4-.3 3.4-.2 3.4-.3 3.3-.3 3.4-.3 3.4-.3 3.4-.4 3.3-.5 3.4-.6 3.4-.8 3.3-1 3.4-1.3 3.4-1.6 3.4-1.8 3.3-2.1 3.4-2 3.4-2 3.4-1.5 3.3-1 3.4-.3 3.4 .5 3.3 1.3 3.4 1.9 3.4 2.4"/>
<path d="M193.3 375.3l3.4 .2 3.3 .2 3.4 .2 3.4 .2 3.4 .3 3.3 .4 3.4 .3 3.4 .4 3.4 .5 3.3 .5 3.4 .7 3.4 .9 3.3 1 3.4 1.3 3.4 1.5 3.4 1.5 3.3 1.4 3.4 1.1 3.4 .7 3.4 0 3.3-.7 3.4-1.2 3.4-1.6 3.3-1.8 3.4-1.8 3.4-1.6 3.4-1.4 3.3-1.2 3.4-1 3.4-.7 3.4-.5 3.3-.5 3.4-.3 3.4-.2 3.3-.2 3.4-.1 3.4 0 3.4 .1 3.3 0 3.4 .2 3.4 .1 3.4 .1 3.3 .1 3.4 .1 3.4 .1 3.3 0 3.4-.1 3.4-.1"/>
<path d="M193.3 375.8l3.4 2 3.3 2.3 3.4 1.9 3.4 1.2 3.4 0 3.3-1.3 3.4-2.3 3.4-2.8 3.4-2.6 3.3-2.1 3.4-1.5 3.4-.7 3.3-.3 3.4 .1 3.4 .4 3.4 .4 3.3 .6 3.4 .5 3.4 .6 3.4 .5 3.3 .6 3.4 .4 3.4 .4 3.3 .2 3.4 .2 3.4 .1 3.4 0 3.3-.1 3.4-.1 3.4-.3 3.4-.3 3.3-.3 3.4-.4 3.4-.4 3.3-.3 3.4-.3 3.4-.2 3.4-.2 3.3-.1 3.4 0 3.4 0 3.4 0 3.3 .1 3.4 .1 3.4 .1 3.3 .1 3.4 0 3.4 0"/>
<path d="M193.3 378.9l3.4 .1 3.3 .1 3.4 0 3.4-.1 3.4 0 3.3-.1 3.4-.1 3.4-.2 3.4-.1 3.3-.2 3.4-.2 3.4-.1 3.3-.2 3.4-.2 3.4-.2 3.4-.2 3.3-.1 3.4-.2 3.4-.2 3.4-.1 3.3-.2 3.4-.1 3.4-.1 3.3-.2 3.4-.1 3.4-.2 3.4-.2 3.3-.2 3.4-.2 3.4-.2 3.4-.3 3.3-.2 3.4-.3 3.4-.2 3.3-.2 3.4-.1 3.4-.1 3.4-.1 3.3 0 3.4 .2 3.4 .1 3.4 .3 3.3 .3 3.4 .4 3.4 .4 3.3 .5 3.4 .5 3.4 .5"/>
<path d="M193.3 373.5l3.4 .4 3.3 .2 3.4 .2 3.4 .2 3.4 0 3.3 0 3.4 0 3.4-.2 3.4-.1 3.3-.2 3.4-.3 3.4-.2 3.3-.2 3.4-.2 3.4-.2 3.4-.2 3.3-.2 3.4-.3 3.4-.2 3.4-.3 3.3-.3 3.4-.4 3.4-.6 3.3-.6 3.4-.9 3.4-.9 3.4-1.1 3.3-1.1 3.4-1.1 3.4-1 3.4-.7 3.3-.4 3.4-.1 3.4 .4 3.3 .8 3.4 1.1 3.4 1.4 3.4 1.5 3.3 1.5 3.4 1.5 3.4 1.4 3.4 1.2 3.3 1.1 3.4 .8 3.4 .8 3.3 .6 3.4 .6 3.4 .4"/>
<path d="M193.3 375.3l3.4 0 3.3 .1 3.4 .1 3.4 .1 3.4 .1 3.3 .1 3.4 .1 3.4 .1 3.4 .1 3.3 .1 3.4 0 3.4-.1 3.3 0 3.4-.2 3.4-.1 3.4-.2 3.3-.3 3.4-.2 3.4-.3 3.4-.2 3.3-.3 3.4-.3 3.4-.2 3.3-.2 3.4-.2 3.4-.2 3.4-.2 3.3-.2 3.4-.2 3.4-.2 3.4-.2 3.3-.1 3.4-.2 3.4-.2 3.3-.2 3.4-.2 3.4-.1 3.4-.1 3.3-.1 3.4 0 3.4 .1 3.4 .1 3.3 .1 3.4 .2 3.4 .1 3.3 .2 3.4 .2 3.4 .2"/>
<path d="M193.3 375.3l3.4-.2 3.3-.2 3.4-.1 3.4-.2 3.4-.1 3.3-.1 3.4 .2 3.4 .6 3.4 1.2 3.3 1.9 3.4 2.5 3.4 2.6 3.3 2.1 3.4 .8 3.4-.6 3.4-1.9 3.3-2.5 3.4-2.3 3.4-1.6 3.4-1 3.3-.3 3.4 0 3.4 .3 3.3 .3 3.4 .4 3.4 .4 3.4 .3 3.3 .3 3.4 .2 3.4 .2 3.4 .1 3.3 .1 3.4 0 3.4 0 3.3 0 3.4-.1 3.4-.1 3.4-.1 3.3-.1 3.4-.1 3.4-.2 3.4-.1 3.3-.2 3.4-.2 3.4-.2 3.3-.2 3.4-.3 3.4-.2"/>
<path d="M193.3 375.3l3.4-.7 3.3-.6 3.4-.5 3.4-.4 3.4-.3 3.3-.2 3.4-.1 3.4 0 3.4 .1 3.3 .2 3.4 .2 3.4 .2 3.3 .3 3.4 .2 3.4 .2 3.4 .1 3.3 0 3.4-.1 3.4-.2 3.4-.3 3.3-.3 3.4-.5 3.4-.4 3.3-.5 3.4-.4 3.4-.5 3.4-.4 3.3-.3 3.4-.2 3.4-.2 3.4-.2 3.3 0 3.4-.1 3.4 0 3.3 .1 3.4 0 3.4 0 3.4 0 3.3 0 3.4 0 3.4 0 3.4 0 3.3 0 3.4 0 3.4 .1 3.3 .1 3.4 .2 3.4 .1"/>
<path d="M193.3 378.2l3.4 0 3.3 0 3.4 0 3.4 .1 3.4 0 3.3 0 3.4 0 3.4-.1 3.4 0 3.3-.1 3.4-.1 3.4-.2 3.3-.1 3.4-.1 3.4-.1 3.4-.1 3.3 0 3.4 0 3.4 .1 3.4 .1 3.3 .2 3.4 .2 3.4 .2 3.3 .1 3.4-.1 3.4-.2 3.4-.5 3.3-.5 3.4-.7 3.4-.6 3.4-.7 3.3-.6 3.4-.5 3.4-.4 3.3-.3 3.4-.3 3.4-.1 3.4 0 3.3 0 3.4 .2 3.4 .3 3.4 .4 3.3 .5 3.4 .6 3.4 .5 3.3 .7 3.4 .6 3.4 .5"/>
</g>
<path fill="none" stroke="#3a8cff" stroke-width="0.55" stroke-opacity="0.6" d="M196.7 419.6l3.3 .1M318.1 422.4l3.4 0 3.3-.1 3.4-.1 3.4-.1 3.4-.1 3.3-.1 3.4-.1M193.3 418.7l3.4 .1 3.3 0 3.4 .1M318.1 421.6l3.4 0 3.3 0 3.4 0 3.4 0 3.4-.1M338.3 421.4l3.4-.1M331.6 415.5l3.4-.1M196.7 419.8l3.3 0M321.5 423l3.3-.1M335 422.5l3.3-.2 3.4-.1M196.7 420l3.3 0M250.6 421.4l3.4 .1M318.1 422l3.4-.1 3.3-.1 3.4-.2 3.4-.1M338.3 421.3l3.4-.1M193.3 419.3l3.4 .1 3.3 .2M335 421.5l3.3 .2 3.4 .2M318.1 422.1l3.4 0 3.3 .1 3.4 0 3.4 0 3.4 .1 3.3 .1 3.4 0M338.3 422.9l3.4-.1M335 421.5l3.3 0 3.4 .1M257.4 419.2l3.4 0M196.7 419.8l3.3 0M257.4 419.4l3.4 .1M321.5 421.5l3.3 .1 3.4 .1 3.4 .1 3.4 0 3.3 0 3.4 0M264.1 373l3.4-1.6M196.7 418.6l3.3 .5 3.4-.2M237.1 377.9l3.4-3.5 3.4-2.5M216.9 381.4l3.4-3.4 3.4-3.2 3.3-2.9 3.4-2.6M281 374.4l3.4-.1 3.3-.2 3.4-.2M297.9 373.2l3.3-.3 3.4-.4M203.4 365.5l3.4-.1 3.4 .2 3.3 .3 3.4 .6 3.4 .8M227 369.9l3.4 1.7 3.4 2 3.3 2.2M291.1 377.3l3.4-2.1 3.4-2M203.4 365.4l3.4-.6 3.4-.5M227 368.1l3.4 2.6 3.4 3.3 3.3 3.9M206.8 363.8l3.4 1.1 3.3 1.3 3.4 1.8M220.3 370.1l3.4 2.4 3.3 2.7 3.4 3M308 379.9l3.3-1.8M331.6 372.4l3.4-.4M243.9 373.9l3.4-2.7M213.5 382.5l3.4-6.2 3.4-6.2M210.2 365.6l3.3 .1 3.4 .3 3.4 .6M240.5 372l3.4 .5 3.4 .3M250.6 372.9l3.4-.2M281 371.4l3.4 1.1 3.3 1.7 3.4 2.2M220.3 371.4l3.4-.3M227 371l3.4-.1 3.4 0M250.6 372.1l3.4 .6M328.2 421.2l3.4 1.1M338.3 422.4l3.4-1M230.4 378.9l3.4-4.2M301.2 368.4l3.4 4.5 3.4 5.3M203.4 364.3l3.4 0 3.4 .1 3.3 .3 3.4 .6 3.4 1M227 369.9l3.4 2.9 3.4 3.5M321.5 423l3.3-1.2M216.9 375.5l3.4 2.1M324.8 372.5l3.4-.6M203.4 364.8l3.4-.9M213.5 362.5l3.4 3.2 3.4 3.6 3.4 3.9 3.3 4.3M216.9 374.3l3.4 5.4M254 422.3l3.4-1.1M203.4 363.8l3.4 .7 3.4 .6 3.3 .5 3.4 .3 3.4 .1M213.5 383.1l3.4-7 3.4-6.1M227 377.8l3.4-4.5 3.4-3.8M216.9 377.3l3.4 3.3M297.9 373.8l3.3-2.3M284.4 370.6l3.3 1.4 3.4 1.7M216.9 374.2l3.4 5.4M254 421.2l3.4-.3M216.9 380.2l3.4-5.4M216.9 378.5l3.4-6.9M196.7 418.4l3.3 .3M230.4 378.7l3.4-5.6M274.2 347.7l3.4 .4M206.8 373.1l3.4 1.6M210.2 366.3l3.3 0 3.4 .3 3.4 .5M227 369.6l3.4 2.2 3.4 3 3.3 3.8M324.8 422.2l3.4 1.1M227 376.2l3.4-5.3M274.2 348.5l3.4 0M203.4 364l3.4 .8 3.4 .7 3.3 .6 3.4 .5 3.4 .4M287.7 372.3l3.4 4M308 378.5l3.3-.7M227 366.2l3.4 5.3 3.4 3.3 3.3 1.3M240.5 375.7l3.4-2 3.4-3M301.2 372.9l3.4 .5 3.4-.7M324.8 370.6l3.4 2.3M206.8 372.6l3.4 3.2M287.7 372.4l3.4 3.5M304.6 374.1l3.4-1.4 3.3-.1M203.4 364l3.4 2.2M220.3 371.9l3.4 .6 3.3 .7 3.4 .9 3.4 1.2 3.3 1.7M220.3 378.9l3.4-4.7 3.3-3 3.4-1.1M203.4 366l3.4-1.9M281 371.6l3.4 4.8M284.4 375.8l3.3-4.2M227 374.7l3.4 3M220.3 373.5l3.4-1.3M281 371l3.4 4.8M206.8 372.6l3.4 2.9M284.4 371.8l3.3 3.5M227 368.2l3.4 9.7M213.5 362.8l3.4 4.4M220.3 370.6l3.4 2.3 3.3 1.2 3.4 .3 3.4-.4 3.3-1M213.5 369.4l3.4-5.3M216.9 380l3.4-4 3.4-5.3M281 375.7l3.4-5.5M213.5 369.6l3.4-4.1M213.5 367.9l3.4-2.1 3.4-1.3M240.5 373.2l3.4 2.4M213.5 361.9l3.4 4.9 3.4 4.5 3.4 3.6M227 377.3l3.4 .6M301.2 369.8l3.4 3.5M213.5 379.6l3.4-.4 3.4-.4M227 378.4l3.4 0M206.8 375.1l3.4-.1M216.9 374.8l3.4-.2 3.4-.1 3.3-.2 3.4-.2 3.4-.2 3.3-.2M240.5 373.5l3.4-.2 3.4-.2M250.6 373l3.4-.1M257.4 372.7l3.4-.1 3.3-.1 3.4-.2M216.9 377.1l3.4 .4M227 378.5l3.4 .7M301.2 374.6l3.4-.3 3.4-.2M213.5 381.9l3.4-2.3 3.4-2.8 3.4-2.6 3.3-2.1 3.4-1.5M260.8 372.7l3.3 .6M287.7 374.5l3.4-.1M294.5 374.1l3.4-.3 3.3-.3 3.4-.4 3.4-.4 3.3-.3M324.8 371.6l3.4 0 3.4 0 3.4 0M213.5 378.9l3.4-.1 3.4-.2M227 378.3l3.4-.2M291.1 375.1l3.4-.2M301.2 374.4l3.4-.3 3.4-.2M206.8 374.5l3.4 0M223.7 374.2l3.3-.2 3.4-.3 3.4-.2M240.5 373.1l3.4-.2 3.4-.2M250.6 372.5l3.4-.3M331.6 372.1l3.4 1.2M216.9 375.9l3.4 .1M281 373.2l3.4-.2 3.3-.2 3.4-.2M301.2 372.1l3.4-.2M206.8 374.6l3.4-.1M216.9 374.6l3.4 .6M206.8 373.1l3.4-.3M220.3 372.5l3.4 .1 3.3 .2 3.4 .2 3.4 .2M240.5 373.7l3.4 .2M260.8 373.4l3.3-.3M213.5 378.3l3.4 0 3.4-.1M227 378.1l3.4-.1M301.2 374.4l3.4-.5 3.4-.4 3.3-.3M206.8 374.7l3.4-2.1M213.5 369.9l3.4-3.7M281 372.5l3.4 .3 3.3 .2 3.4 .1M297.9 373.3l3.3 0 3.4 0 3.4 0 3.3-.2M324.8 372l3.4-.4M227 370.4l3.4 .3 3.4 .3M240.5 371.7l3.4 .4M250.6 372.5l3.4 0M264.1 371.8l3.4 .4M281 372.8l3.4 .1 3.3 .2 3.4 .4M294.5 374l3.4 .6M203.4 365.5l3.4-.2 3.4-.1 3.3-.2 3.4-.2 3.4-.3M216.9 377l3.4-.5M227 375.5l3.4-.4 3.4-.5 3.3-.5M240.5 373.7l3.4-.5 3.4-.6M324.8 371l3.4 1.4"/>
<path d="M193.3 417.5H218.1" stroke="#30c8f0" stroke-width="2.2" stroke-opacity="0.6"/>
<path d="M193.3 420.5H220.3" stroke="#3090ff" stroke-width="1.8" stroke-opacity="0.55"/>
<path d="M306.6 418.5H349.8" stroke="#30c8f0" stroke-width="2.0" stroke-opacity="0.5"/>
<path d="M285 423H355.2" stroke="#30d0a0" stroke-width="1.0" stroke-opacity="0.6"/>
<path d="M214.9 420H289.9" stroke="#b0b0ff" stroke-width="5" stroke-opacity="0.5"/>
<path d="M289.9 421.3H355.2" stroke="#b8b8ff" stroke-width="3.5" stroke-opacity="0.45"/>
<path d="M193.3 426H222" stroke="#30d070" stroke-width="1.6" stroke-opacity="1"/>
<path d="M222 426H245" stroke="#3050e0" stroke-width="1.6" stroke-opacity="1"/>
<path d="M245 426H256" stroke="#c02060" stroke-width="1.6" stroke-opacity="1"/>
<path d="M256 426H268" stroke="#a0c040" stroke-width="1.6" stroke-opacity="1"/>
<path d="M268 426H300" stroke="#3060f0" stroke-width="1.6" stroke-opacity="1"/>
<path d="M300 426H355.2" stroke="#30c080" stroke-width="1.6" stroke-opacity="1"/>
</g>
<text transform="translate(183.2 427) rotate(-90)" font-size="5.2" text-anchor="middle" fill="#444" font-family="'Liberation Sans', Arial, sans-serif">0</text>
<text transform="translate(183.2 395.6) rotate(-90)" font-size="5.2" text-anchor="middle" fill="#444" font-family="'Liberation Sans', Arial, sans-serif">0.2</text>
<text transform="translate(183.2 364.2) rotate(-90)" font-size="5.2" text-anchor="middle" fill="#444" font-family="'Liberation Sans', Arial, sans-serif">0.4</text>
<text transform="translate(183.2 332.8) rotate(-90)" font-size="5.2" text-anchor="middle" fill="#444" font-family="'Liberation Sans', Arial, sans-serif">0.6</text>
<text transform="translate(183.2 301.4) rotate(-90)" font-size="5.2" text-anchor="middle" fill="#444" font-family="'Liberation Sans', Arial, sans-serif">0.8</text>
<text transform="translate(183.2 270) rotate(-90)" font-size="5.2" text-anchor="middle" fill="#444" font-family="'Liberation Sans', Arial, sans-serif">1</text>
<text transform="translate(372 413.1) rotate(-90)" font-size="5.2" text-anchor="middle" fill="#444" font-family="'Liberation Sans', Arial, sans-serif">10 µ</text>
<text transform="translate(372 385.1) rotate(-90)" font-size="5.2" text-anchor="middle" fill="#444" font-family="'Liberation Sans', Arial, sans-serif">30 µ</text>
<text transform="translate(372 357.2) rotate(-90)" font-size="5.2" text-anchor="middle" fill="#444" font-family="'Liberation Sans', Arial, sans-serif">50 µ</text>
<text transform="translate(372 329.4) rotate(-90)" font-size="5.2" text-anchor="middle" fill="#444" font-family="'Liberation Sans', Arial, sans-serif">70 µ</text>
<text transform="translate(372 301.4) rotate(-90)" font-size="5.2" text-anchor="middle" fill="#444" font-family="'Liberation Sans', Arial, sans-serif">90 µ</text>
<text transform="translate(372 273.6) rotate(-90)" font-size="5.2" text-anchor="middle" fill="#444" font-family="'Liberation Sans', Arial, sans-serif">110 µ</text>
<text x="220.3" y="260.4" font-size="5.2" text-anchor="middle" fill="#444" font-family="'Liberation Sans', Arial, sans-serif">0</text>
<text x="274.2" y="260.4" font-size="5.2" text-anchor="middle" fill="#444" font-family="'Liberation Sans', Arial, sans-serif">0.5</text>
<text x="328.2" y="260.4" font-size="5.2" text-anchor="middle" fill="#444" font-family="'Liberation Sans', Arial, sans-serif">1</text>
<text x="193.3" y="441.7" font-size="5.2" text-anchor="middle" fill="#444" font-family="'Liberation Sans', Arial, sans-serif">0</text>
<text x="225.7" y="441.7" font-size="5.2" text-anchor="middle" fill="#444" font-family="'Liberation Sans', Arial, sans-serif">0.2</text>
<text x="258.1" y="441.7" font-size="5.2" text-anchor="middle" fill="#444" font-family="'Liberation Sans', Arial, sans-serif">0.4</text>
<text x="290.4" y="441.7" font-size="5.2" text-anchor="middle" fill="#444" font-family="'Liberation Sans', Arial, sans-serif">0.6</text>
<text x="322.8" y="441.7" font-size="5.2" text-anchor="middle" fill="#444" font-family="'Liberation Sans', Arial, sans-serif">0.8</text>
<text x="355.2" y="441.7" font-size="5.2" text-anchor="middle" fill="#444" font-family="'Liberation Sans', Arial, sans-serif">1</text>
<text transform="translate(376.9 347.8) rotate(-90)" font-size="4.8" font-weight="bold" textLength="35.6" lengthAdjust="spacingAndGlyphs" text-anchor="middle" fill="#222" font-family="'Liberation Sans', Arial, sans-serif">Amplitude (a.u.)</text>
<text x="93" y="16.9" font-size="11.4" text-anchor="middle" textLength="46.9" lengthAdjust="spacingAndGlyphs" fill="#1a1a1a" stroke="#1a1a1a" stroke-width="0.18" font-family="'Liberation Serif', 'Times New Roman', serif">622 Mbps</text>
<text x="274.4" y="16.6" font-size="11.4" text-anchor="middle" textLength="33.9" lengthAdjust="spacingAndGlyphs" fill="#1a1a1a" stroke="#1a1a1a" stroke-width="0.18" font-family="'Liberation Serif', 'Times New Roman', serif">1 Gbps</text>
<text x="459.3" y="16.6" font-size="11.4" text-anchor="middle" textLength="34.2" lengthAdjust="spacingAndGlyphs" fill="#1a1a1a" stroke="#1a1a1a" stroke-width="0.18" font-family="'Liberation Serif', 'Times New Roman', serif">2 Gbps</text>
<text x="277.6" y="246.6" font-size="11.4" text-anchor="middle" textLength="33.9" lengthAdjust="spacingAndGlyphs" fill="#1a1a1a" stroke="#1a1a1a" stroke-width="0.18" font-family="'Liberation Serif', 'Times New Roman', serif">5 Gbps</text>
<text x="46.5" y="219.7" font-size="10.8" fill="#1a1a1a" stroke="#1a1a1a" stroke-width="0.12" font-family="'Liberation Serif', 'Times New Roman', serif">BER = 1.74</text>
<text x="106.6" y="220.8" font-size="13.5" text-anchor="middle" fill="#222" font-family="'Liberation Serif', 'Times New Roman', serif">×</text>
<text x="113.6" y="219.9" font-size="10.8" fill="#222" font-family="'Liberation Serif', 'Times New Roman', serif">10</text>
<text x="125.3" y="215.8" font-size="7.2" font-weight="bold" textLength="13.8" lengthAdjust="spacingAndGlyphs" fill="#333" font-family="'Liberation Sans', Arial, sans-serif">−22</text>
<text x="227.7" y="219.7" font-size="10.8" fill="#1a1a1a" stroke="#1a1a1a" stroke-width="0.12" font-family="'Liberation Serif', 'Times New Roman', serif">BER = 1.30</text>
<text x="287.9" y="220.8" font-size="13.5" text-anchor="middle" fill="#222" font-family="'Liberation Serif', 'Times New Roman', serif">×</text>
<text x="294.3" y="219.9" font-size="10.8" fill="#222" font-family="'Liberation Serif', 'Times New Roman', serif">10</text>
<text x="304.6" y="215.8" font-size="7.2" font-weight="bold" textLength="15.5" lengthAdjust="spacingAndGlyphs" fill="#333" font-family="'Liberation Sans', Arial, sans-serif">−13</text>
<text x="414.9" y="219.7" font-size="10.8" fill="#1a1a1a" stroke="#1a1a1a" stroke-width="0.12" font-family="'Liberation Serif', 'Times New Roman', serif">BER = 1.80</text>
<text x="475.7" y="220.8" font-size="13.5" text-anchor="middle" fill="#222" font-family="'Liberation Serif', 'Times New Roman', serif">×</text>
<text x="481.5" y="219.9" font-size="10.8" fill="#222" font-family="'Liberation Serif', 'Times New Roman', serif">10</text>
<text x="491.4" y="215.8" font-size="7.2" font-weight="bold" textLength="11.8" lengthAdjust="spacingAndGlyphs" fill="#333" font-family="'Liberation Sans', Arial, sans-serif">−8</text>
<text x="277.2" y="467.2" font-size="10.6" text-anchor="middle" fill="#1a1a1a" stroke="#1a1a1a" stroke-width="0.12" font-family="'Liberation Serif', 'Times New Roman', serif">BER = 1</text>
</svg></body></html>
